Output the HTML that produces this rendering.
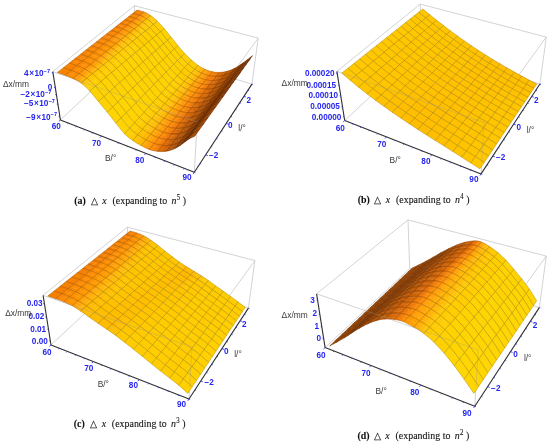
<!DOCTYPE html>
<html><head><meta charset="utf-8"><style>
html,body{margin:0;padding:0;background:#fff}
svg{display:block}
.s path{fill:currentColor;stroke:currentColor;stroke-width:.35}
.s path.m{fill:none;stroke:#000;stroke-opacity:.27;stroke-width:.58;stroke-linejoin:round}
.bf{fill:none;stroke:#999;stroke-opacity:.45;stroke-width:.7}
.bx{fill:none;stroke:#c4c4c4;stroke-width:.75}
.ax{fill:none;stroke:#303030;stroke-width:1.1}
.tk{fill:none;stroke:#2626f0;stroke-width:.8}
.t{font-family:"Liberation Sans",Arial,sans-serif;font-weight:bold;font-size:8.2px;fill:#2626f0}
.l{font-family:"Liberation Sans",Arial,sans-serif;font-size:8.4px;fill:#383838}
.cap{font-family:"Liberation Serif","Times New Roman",serif;font-size:10.8px;fill:#111;stroke:#111;stroke-width:.1}
</style></head><body>
<svg width="550" height="446" viewBox="0 0 550 446">
<rect width="550" height="446" fill="#fff"/>

<g>
<path class="bx" d="M60.4 119.9L136.0 49.3M194.3 172.3L197.2 121.9M251.9 84.1L258.2 38.1M136.0 49.3L251.9 84.1M136.0 49.3L134.5 5.7M52.8 71.7L76.1 79.8M52.8 71.7L134.5 5.7M197.2 121.9L258.2 38.1M134.5 5.7L258.2 38.1"/>
<g class="s"><path color="#f67f00" d="M133 13.2l3.3 .9 2.1-1.6-3.4-.9z"/>
<path color="#f67f00" d="M135 11.6l3.4 .9 2-1.6-3.3-.9z"/>
<path color="#fa8600" d="M136.3 14.1l3.4 1.1 2-1.7-3.3-1z"/>
<path color="#fa8600" d="M138.4 12.5l3.3 1 2.1-1.6-3.4-1z"/>
<path class="m" d="M133 13.2l3.3 .9 3.4 1.1 2-1.7 2.1-1.6-3.4-1-3.3-.9-2.1 1.6z"/>
<path color="#ffcc01" d="M187.8 63.7l6.9 5.5 3.4-3.8-6.8-5.5z"/>
<path class="m" d="M187.8 63.7l3.5 3 3.4 2.5 1.7-1.9 1.7-1.9-3.4-2.6-3.4-2.9-1.7 1.9z"/>
<path color="#ffd002" d="M181 56.9l6.8 6.8 3.5-3.8-6.8-6.6z"/>
<path class="m" d="M181 56.9l3.4 3.6 3.4 3.2 1.8-1.9 1.7-1.9-3.4-3.1-3.4-3.5-1.7 1.8z"/>
<path color="#ffc600" d="M194.7 69.2l1.8 1.2 .8-1-1.7-1.2z"/>
<path color="#ffc600" d="M195.6 68.2l1.7 1.2 .8-1-1.7-1.1z"/>
<path color="#ffc600" d="M196.4 67.3l1.7 1.1 .9-1-1.7-1.1z"/>
<path color="#ffc600" d="M197.3 66.3l1.7 1.1 .8-.9-1.7-1.1z"/>
<path color="#ffbf00" d="M196.5 70.4l1.7 1 .8-1-1.7-1z"/>
<path color="#ffbf00" d="M197.3 69.4l1.7 1 .9-1-1.8-1z"/>
<path color="#ffbf00" d="M198.1 68.4l1.8 1 .8-.9-1.7-1.1z"/>
<path color="#ffbf00" d="M199 67.4l1.7 1.1 .8-1-1.7-1z"/>
<path color="#ffb600" d="M198.2 71.4l1.8 .9 .8-.9-1.8-1z"/>
<path color="#ffb500" d="M199 70.4l1.8 1 .8-1-1.7-1z"/>
<path color="#ffb500" d="M199.9 69.4l1.7 1 .8-1-1.7-.9z"/>
<path color="#ffb500" d="M200.7 68.5l1.7 .9 .9-1-1.8-.9z"/>
<path color="#ffac00" d="M200 72.3l1.7 .9 .9-1-1.8-.8z"/>
<path color="#ffab00" d="M200.8 71.4l1.8 .8 .8-1-1.8-.8z"/>
<path color="#ffab00" d="M201.6 70.4l1.8 .8 .8-.9-1.8-.9z"/>
<path color="#ffab00" d="M202.4 69.4l1.8 .9 .8-1-1.7-.9z"/>
<path class="m" d="M194.7 69.2l3.5 2.2 3.5 1.8 1.7-2 1.6-1.9-3.5-1.8-3.4-2.1-1.7 1.9z"/>
<path color="#ffd202" d="M174.2 48.9l6.8 8 3.5-3.6-6.7-7.8z"/>
<path class="m" d="M174.2 48.9l3.4 4.1 3.4 3.9 1.8-1.8 1.7-1.8-3.4-3.7-3.3-4.1-1.8 1.7z"/>
<path color="#fe8f00" d="M139.7 15.2l1.7 .6 1-.8-1.7-.6z"/>
<path color="#fe8f00" d="M140.7 14.4l1.7 .6 1-.8-1.7-.7z"/>
<path color="#fe8f00" d="M141.7 13.5l1.7 .7 1-.8-1.6-.7z"/>
<path color="#fe8f00" d="M142.8 12.7l1.6 .7 1-.8-1.6-.7z"/>
<path color="#ff9700" d="M141.4 15.8l1.7 .9 1-.8-1.7-.9z"/>
<path color="#ff9700" d="M142.4 15l1.7 .9 1-.9-1.7-.8z"/>
<path color="#ff9700" d="M143.4 14.2l1.7 .8 1-.8-1.7-.8z"/>
<path color="#ff9700" d="M144.4 13.4l1.7 .8 1-.8-1.7-.8z"/>
<path color="#ffa200" d="M143.1 16.7l1.7 .9 1-.8-1.7-.9z"/>
<path color="#ffa200" d="M144.1 15.9l1.7 .9 1-.8-1.7-1z"/>
<path color="#ffa300" d="M145.1 15l1.7 1 1-.8-1.7-1z"/>
<path color="#ffa300" d="M146.1 14.2l1.7 1 1-.8-1.7-1z"/>
<path color="#ffaf00" d="M144.8 17.6l1.8 1.2 1-.9-1.8-1.1z"/>
<path color="#ffaf00" d="M145.8 16.8l1.8 1.1 1-.8-1.8-1.1z"/>
<path color="#ffb000" d="M146.8 16l1.8 1.1 1-.8-1.8-1.1z"/>
<path color="#ffb100" d="M147.8 15.2l1.8 1.1 .9-.8-1.7-1.1z"/>
<path class="m" d="M139.7 15.2l3.4 1.5 3.5 2.1 2-1.7 1.9-1.6-3.4-2.1-3.3-1.5-2.1 1.6z"/>
<path color="#ffd203" d="M167.3 40.2l6.9 8.7 3.6-3.4-6.8-8.6z"/>
<path class="m" d="M167.3 40.2l3.4 4.4 3.5 4.3 1.8-1.7 1.8-1.7-3.4-4.3-3.4-4.3-1.8 1.7z"/>
<path color="#ffa200" d="M201.7 73.2l1.8 .8 .8-1-1.7-.8z"/>
<path color="#ffa200" d="M202.6 72.2l1.7 .8 .8-1-1.7-.8z"/>
<path color="#ffa200" d="M203.4 71.2l1.7 .8 .9-1-1.8-.7z"/>
<path color="#ffa200" d="M204.2 70.3l1.8 .7 .8-1-1.8-.7z"/>
<path color="#ff9b00" d="M203.5 74l1.8 .7 .8-1-1.8-.7z"/>
<path color="#ff9a00" d="M204.3 73l1.8 .7 .8-1-1.8-.7z"/>
<path color="#ff9a00" d="M205.1 72l1.8 .7 .8-1-1.7-.7z"/>
<path color="#ff9a00" d="M206 71l1.7 .7 .8-1-1.7-.7z"/>
<path color="#ff9300" d="M205.3 74.7l1.8 .5 .8-1-1.8-.5z"/>
<path color="#ff9400" d="M206.1 73.7l1.8 .5 .8-1-1.8-.5z"/>
<path color="#ff9300" d="M206.9 72.7l1.8 .5 .8-.9-1.8-.6z"/>
<path color="#ff9300" d="M207.7 71.7l1.8 .6 .8-1-1.8-.6z"/>
<path color="#fe8d00" d="M207.1 75.2l1.8 .5 .8-1-1.8-.5z"/>
<path color="#fe8d00" d="M207.9 74.2l1.8 .5 .8-1-1.8-.5z"/>
<path color="#fe8d00" d="M208.7 73.2l1.8 .5 .8-1-1.8-.4z"/>
<path color="#fe8d00" d="M209.5 72.3l1.8 .4 .8-1-1.8-.4z"/>
<path class="m" d="M201.7 73.2l3.6 1.5 3.6 1 1.6-2 1.6-2-3.6-1-3.5-1.4-1.6 1.9z"/>
<path color="#ffbc00" d="M146.6 18.8l1.7 1.2 1-.8-1.7-1.3z"/>
<path color="#ffbc00" d="M147.6 17.9l1.7 1.3 1-.8-1.7-1.3z"/>
<path color="#ffbd00" d="M148.6 17.1l1.7 1.3 1-.8-1.7-1.3z"/>
<path color="#ffbd00" d="M149.6 16.3l1.7 1.3 .9-.8-1.7-1.3z"/>
<path color="#ffc400" d="M148.3 20l1.7 1.3 1-.8-1.7-1.3z"/>
<path color="#ffc400" d="M149.3 19.2l1.7 1.3 1-.8-1.7-1.3z"/>
<path color="#ffc500" d="M150.3 18.4l1.7 1.3 1-.8-1.7-1.3z"/>
<path color="#ffc500" d="M151.3 17.6l1.7 1.3 .9-.7-1.7-1.4z"/>
<path color="#ffc901" d="M150 21.3l1.7 1.5 1-.8-1.7-1.5z"/>
<path color="#ffc901" d="M151 20.5l1.7 1.5 1-.8-1.7-1.5z"/>
<path color="#ffc901" d="M152 19.7l1.7 1.5 1-.8-1.7-1.5z"/>
<path color="#ffc901" d="M153 18.9l1.7 1.5 1-.8-1.8-1.4z"/>
<path color="#ffcb01" d="M151.7 22.8l1.8 1.6 1-.8-1.8-1.6z"/>
<path color="#ffcc01" d="M152.7 22l1.8 1.6 .9-.8-1.7-1.6z"/>
<path color="#ffcc01" d="M153.7 21.2l1.7 1.6 1-.8-1.7-1.6z"/>
<path color="#ffcc01" d="M154.7 20.4l1.7 1.6 1-.8-1.7-1.6z"/>
<path class="m" d="M146.6 18.8l3.4 2.5 3.5 3.1 1.9-1.6 2-1.6-3.5-3-3.4-2.7-1.9 1.6z"/>
<path color="#ffd202" d="M160.4 31.7l6.9 8.5 3.7-3.3-6.8-8.3z"/>
<path class="m" d="M160.4 31.7l3.5 4.2 3.4 4.3 1.9-1.6 1.8-1.7-3.4-4.2-3.4-4.1-1.9 1.5z"/>
<path color="#ffcf02" d="M153.5 24.4l6.9 7.3 3.8-3.1-6.8-7.4z"/>
<path class="m" d="M153.5 24.4l3.4 3.5 3.5 3.8 1.9-1.6 1.9-1.5-3.4-3.9-3.4-3.5-2 1.6z"/>
<path color="#f68000" d="M128.8 16.5l3.4 .9 2.1-1.6-3.4-.9z"/>
<path color="#f67f00" d="M130.9 14.9l3.4 .9 2-1.7-3.3-.9z"/>
<path color="#fa8600" d="M132.2 17.4l3.4 1.1 2.1-1.7-3.4-1z"/>
<path color="#fa8600" d="M134.3 15.8l3.4 1 2-1.6-3.4-1.1z"/>
<path class="m" d="M128.8 16.5l3.4 .9 3.4 1.1 2.1-1.7 2-1.6-3.4-1.1-3.3-.9-2.1 1.7z"/>
<path color="#fa8600" d="M208.9 75.7l1.8 .3 .8-1-1.8-.3z"/>
<path color="#fa8600" d="M209.7 74.7l1.8 .3 .8-1-1.8-.3z"/>
<path color="#fa8600" d="M210.5 73.7l1.8 .3 .8-1-1.8-.3z"/>
<path color="#fa8600" d="M211.3 72.7l1.8 .3 .8-1-1.8-.3z"/>
<path color="#f57e00" d="M210.7 76l1.9 .3 .8-1-1.9-.3z"/>
<path color="#f57d00" d="M211.5 75l1.9 .3 .8-1-1.9-.3z"/>
<path color="#f57d00" d="M212.3 74l1.9 .3 .7-1-1.8-.3z"/>
<path color="#f57d00" d="M213.1 73l1.8 .3 .8-1-1.8-.3z"/>
<path color="#ef7600" d="M212.6 76.3l1.8 .1 .8-1-1.8-.1z"/>
<path color="#ee7600" d="M213.4 75.3l1.8 .1 .8-1-1.8-.1z"/>
<path color="#ee7600" d="M214.2 74.3l1.8 .1 .8-1-1.9-.1z"/>
<path color="#ee7600" d="M214.9 73.3l1.9 .1 .8-1-1.9-.1z"/>
<path color="#e77000" d="M214.4 76.4l1.9 0 .8-1-1.9 0z"/>
<path color="#e77000" d="M215.2 75.4l1.9 0 .8-1-1.9 0z"/>
<path color="#e77000" d="M216 74.4l1.9 0 .7-1-1.8 0z"/>
<path color="#e77000" d="M216.8 73.4l1.8 0 .8-1-1.8 0z"/>
<path class="m" d="M208.9 75.7l3.7 .6 3.7 .1 1.6-2 1.5-2-3.7-.1-3.6-.6-1.6 2z"/>
<path color="#ffcc01" d="M184.3 67.6l7 5.6 3.4-4-6.9-5.5z"/>
<path class="m" d="M184.3 67.6l3.5 3 3.5 2.6 1.7-2 1.7-2-3.4-2.5-3.5-3-1.7 2z"/>
<path color="#ffd102" d="M177.4 60.5l6.9 7.1 3.5-3.9-6.8-6.8z"/>
<path class="m" d="M177.4 60.5l3.5 3.7 3.4 3.4 1.8-1.9 1.7-2-3.4-3.2-3.4-3.6-1.8 1.8z"/>
<path color="#ffc600" d="M191.3 73.2l1.8 1.1 .8-1-1.7-1.1z"/>
<path color="#ffc600" d="M192.2 72.2l1.7 1.1 .9-1-1.8-1.1z"/>
<path color="#ffc600" d="M193 71.2l1.8 1.1 .8-1-1.7-1.1z"/>
<path color="#ffc600" d="M193.9 70.2l1.7 1.1 .9-.9-1.8-1.2z"/>
<path color="#ffc000" d="M193.1 74.3l1.7 1.1 .9-1-1.8-1.1z"/>
<path color="#ffc000" d="M193.9 73.3l1.8 1.1 .8-1-1.7-1.1z"/>
<path color="#ffc000" d="M194.8 72.3l1.7 1.1 .9-1-1.8-1.1z"/>
<path color="#ffbf00" d="M195.6 71.3l1.8 1.1 .8-1-1.7-1z"/>
<path color="#ffb600" d="M194.8 75.4l1.8 .9 .8-1-1.7-.9z"/>
<path color="#ffb600" d="M195.7 74.4l1.7 .9 .9-1-1.8-.9z"/>
<path color="#ffb600" d="M196.5 73.4l1.8 .9 .8-1-1.7-.9z"/>
<path color="#ffb600" d="M197.4 72.4l1.7 .9 .9-1-1.8-.9z"/>
<path color="#ffad00" d="M196.6 76.3l1.8 .9 .8-1-1.8-.9z"/>
<path color="#ffac00" d="M197.4 75.3l1.8 .9 .9-1-1.8-.9z"/>
<path color="#ffac00" d="M198.3 74.3l1.8 .9 .8-1-1.8-.9z"/>
<path color="#ffac00" d="M199.1 73.3l1.8 .9 .8-1-1.7-.9z"/>
<path class="m" d="M191.3 73.2l3.5 2.2 3.6 1.8 1.7-2 1.6-2-3.5-1.8-3.5-2.2-1.7 2z"/>
<path color="#fe8e00" d="M135.6 18.5l1.7 .7 1-.9-1.7-.6z"/>
<path color="#fe8f00" d="M136.6 17.7l1.7 .6 1.1-.8-1.7-.7z"/>
<path color="#fe8f00" d="M137.7 16.8l1.7 .7 1-.8-1.7-.7z"/>
<path color="#fe8f00" d="M138.7 16l1.7 .7 1-.9-1.7-.6z"/>
<path color="#ff9600" d="M137.3 19.2l1.7 .8 1.1-.8-1.8-.9z"/>
<path color="#ff9600" d="M138.3 18.3l1.8 .9 1-.9-1.7-.8z"/>
<path color="#ff9600" d="M139.4 17.5l1.7 .8 1-.8-1.7-.8z"/>
<path color="#ff9600" d="M140.4 16.7l1.7 .8 1-.8-1.7-.9z"/>
<path color="#ff9f00" d="M139 20l1.8 1 1-.9-1.7-.9z"/>
<path color="#ffa000" d="M140.1 19.2l1.7 .9 1-.8-1.7-1z"/>
<path color="#ffa000" d="M141.1 18.3l1.7 1 1-.8-1.7-1z"/>
<path color="#ffa100" d="M142.1 17.5l1.7 1 1-.9-1.7-.9z"/>
<path color="#ffac00" d="M140.8 21l1.7 1.1 1-.9-1.7-1.1z"/>
<path color="#ffac00" d="M141.8 20.1l1.7 1.1 1-.8-1.7-1.1z"/>
<path color="#ffad00" d="M142.8 19.3l1.7 1.1 1.1-.8-1.8-1.1z"/>
<path color="#ffae00" d="M143.8 18.5l1.8 1.1 1-.8-1.8-1.2z"/>
<path class="m" d="M135.6 18.5l3.4 1.5 3.5 2.1 2-1.7 2.1-1.6-3.5-2.1-3.4-1.5-2 1.6z"/>
<path color="#ffd202" d="M170.5 52.4l6.9 8.1 3.6-3.6-6.8-8z"/>
<path class="m" d="M170.5 52.4l3.4 4.2 3.5 3.9 1.8-1.8 1.8-1.8-3.4-3.9-3.4-4.1-1.9 1.7z"/>
<path color="#ffd303" d="M163.5 43.6l7 8.8 3.7-3.5-6.9-8.7z"/>
<path class="m" d="M163.5 43.6l3.5 4.4 3.5 4.4 1.8-1.8 1.9-1.7-3.5-4.3-3.4-4.4-1.9 1.7z"/>
<path color="#ffa300" d="M198.4 77.2l1.8 .8 .8-1-1.8-.8z"/>
<path color="#ffa300" d="M199.2 76.2l1.8 .8 .8-1-1.7-.8z"/>
<path color="#ffa300" d="M200.1 75.2l1.7 .8 .9-1-1.8-.8z"/>
<path color="#ffa300" d="M200.9 74.2l1.8 .8 .8-1-1.8-.8z"/>
<path color="#ff9b00" d="M200.2 78l1.8 .7 .8-1-1.8-.7z"/>
<path color="#ff9b00" d="M201 77l1.8 .7 .8-1-1.8-.7z"/>
<path color="#ff9b00" d="M201.8 76l1.8 .7 .9-1-1.8-.7z"/>
<path color="#ff9b00" d="M202.7 75l1.8 .7 .8-1-1.8-.7z"/>
<path color="#ff9400" d="M202 78.7l1.8 .6 .8-1-1.8-.6z"/>
<path color="#ff9400" d="M202.8 77.7l1.8 .6 .8-1-1.8-.6z"/>
<path color="#ff9400" d="M203.6 76.7l1.8 .6 .9-1.1-1.8-.5z"/>
<path color="#ff9400" d="M204.5 75.7l1.8 .5 .8-1-1.8-.5z"/>
<path color="#fe8e00" d="M203.8 79.3l1.8 .5 .8-1.1-1.8-.4z"/>
<path color="#fe8d00" d="M204.6 78.3l1.8 .4 .9-1-1.9-.4z"/>
<path color="#fe8d00" d="M205.4 77.3l1.9 .4 .8-1-1.8-.5z"/>
<path color="#fe8d00" d="M206.3 76.2l1.8 .5 .8-1-1.8-.5z"/>
<path class="m" d="M198.4 77.2l3.6 1.5 3.6 1.1 1.7-2.1 1.6-2-3.6-1-3.6-1.5-1.6 2z"/>
<path color="#ffb900" d="M142.5 22.1l1.7 1.2 1.1-.9-1.8-1.2z"/>
<path color="#ffb900" d="M143.5 21.2l1.8 1.2 1-.8-1.8-1.2z"/>
<path color="#ffba00" d="M144.5 20.4l1.8 1.2 1-.8-1.7-1.2z"/>
<path color="#ffbb00" d="M145.6 19.6l1.7 1.2 1-.8-1.7-1.2z"/>
<path color="#ffc200" d="M144.2 23.3l1.8 1.3 1-.8-1.7-1.4z"/>
<path color="#ffc300" d="M145.3 22.4l1.7 1.4 1-.8-1.7-1.4z"/>
<path color="#ffc300" d="M146.3 21.6l1.7 1.4 1-.8-1.7-1.4z"/>
<path color="#ffc400" d="M147.3 20.8l1.7 1.4 1-.9-1.7-1.3z"/>
<path color="#ffc801" d="M146 24.6l1.7 1.5 1.1-.9-1.8-1.4z"/>
<path color="#ffc801" d="M147 23.8l1.8 1.4 1-.8-1.8-1.4z"/>
<path color="#ffc801" d="M148 23l1.8 1.4 1-.8-1.8-1.4z"/>
<path color="#ffc801" d="M149 22.2l1.8 1.4 .9-.8-1.7-1.5z"/>
<path color="#ffcb01" d="M147.7 26.1l1.8 1.5 1-.8-1.7-1.6z"/>
<path color="#ffcb01" d="M148.8 25.2l1.7 1.6 1-.8-1.7-1.6z"/>
<path color="#ffcb01" d="M149.8 24.4l1.7 1.6 1-.8-1.7-1.6z"/>
<path color="#ffcb01" d="M150.8 23.6l1.7 1.6 1-.8-1.8-1.6z"/>
<path class="m" d="M142.5 22.1l3.5 2.5 3.5 3 2-1.6 2-1.6-3.5-3.1-3.4-2.5-2.1 1.6z"/>
<path color="#df6a00" d="M216.3 76.4l1.9-.1 .8-1-1.9 .1z"/>
<path color="#df6a00" d="M217.1 75.4l1.9-.1 .7-1-1.8 .1z"/>
<path color="#df6a00" d="M217.9 74.4l1.8-.1 .8-1-1.9 .1z"/>
<path color="#df6a00" d="M218.6 73.4l1.9-.1 .8-1-1.9 .1z"/>
<path color="#d76500" d="M218.2 76.3l1.9-.2 .8-1-1.9 .2z"/>
<path color="#d76500" d="M219 75.3l1.9-.2 .7-1-1.9 .2z"/>
<path color="#d76500" d="M219.7 74.3l1.9-.2 .8-1-1.9 .2z"/>
<path color="#d76500" d="M220.5 73.3l1.9-.2 .8-1-1.9 .2z"/>
<path color="#cd5f01" d="M220.1 76.1l1.9-.3 .8-1-1.9 .3z"/>
<path color="#cd5f01" d="M220.9 75.1l1.9-.3 .8-1-2 .3z"/>
<path color="#ce5f01" d="M221.6 74.1l2-.3 .7-1-1.9 .3z"/>
<path color="#ce5f01" d="M222.4 73.1l1.9-.3 .8-1-1.9 .3z"/>
<path color="#c55b01" d="M222 75.8l2-.4 .7-1.1-1.9 .5z"/>
<path color="#c55b01" d="M222.8 74.8l1.9-.5 .8-1-1.9 .5z"/>
<path color="#c55b01" d="M223.6 73.8l1.9-.5 .8-1-2 .5z"/>
<path color="#c55b01" d="M224.3 72.8l2-.5 .7-1-1.9 .5z"/>
<path class="m" d="M216.3 76.4l3.8-.3 3.9-.7 1.5-2.1 1.5-2-3.8 .8-3.8 .3-1.5 2z"/>
<path color="#ffd202" d="M156.5 35l7 8.6 3.8-3.4-6.9-8.5z"/>
<path class="m" d="M156.5 35l3.5 4.2 3.5 4.4 1.9-1.7 1.9-1.7-3.4-4.3-3.5-4.2-1.9 1.6z"/>
<path color="#ffcf02" d="M149.5 27.6l7 7.4 3.9-3.3-6.9-7.3z"/>
<path class="m" d="M149.5 27.6l3.5 3.5 3.5 3.9 2-1.7 1.9-1.6-3.5-3.8-3.4-3.5-2 1.6z"/>
<path color="#f68000" d="M124.5 19.9l3.4 .9 2.2-1.7-3.4-.9z"/>
<path color="#f68000" d="M126.7 18.2l3.4 .9 2.1-1.7-3.4-.9z"/>
<path color="#fa8600" d="M127.9 20.8l3.4 1.1 2.2-1.7-3.4-1.1z"/>
<path color="#fa8600" d="M130.1 19.1l3.4 1.1 2.1-1.7-3.4-1.1z"/>
<path class="m" d="M124.5 19.9l3.4 .9 3.4 1.1 2.2-1.7 2.1-1.7-3.4-1.1-3.4-.9-2.1 1.7z"/>
<path color="#fa8600" d="M205.6 79.8l1.8 .3 .9-1-1.9-.4z"/>
<path color="#fa8600" d="M206.4 78.7l1.9 .4 .8-1-1.8-.4z"/>
<path color="#fa8600" d="M207.3 77.7l1.8 .4 .8-1-1.8-.4z"/>
<path color="#fa8600" d="M208.1 76.7l1.8 .4 .8-1.1-1.8-.3z"/>
<path color="#f57e00" d="M207.4 80.1l1.9 .3 .8-1.1-1.8-.2z"/>
<path color="#f57e00" d="M208.3 79.1l1.8 .2 .8-1-1.8-.2z"/>
<path color="#f57e00" d="M209.1 78.1l1.8 .2 .8-1-1.8-.2z"/>
<path color="#f57e00" d="M209.9 77.1l1.8 .2 .9-1-1.9-.3z"/>
<path color="#ef7700" d="M209.3 80.4l1.9 .1 .8-1-1.9-.2z"/>
<path color="#ef7700" d="M210.1 79.3l1.9 .2 .8-1-1.9-.2z"/>
<path color="#ef7700" d="M210.9 78.3l1.9 .2 .8-1.1-1.9-.1z"/>
<path color="#ef7600" d="M211.7 77.3l1.9 .1 .8-1-1.8-.1z"/>
<path color="#e87100" d="M211.2 80.5l1.9 .1 .8-1.1-1.9 0z"/>
<path color="#e87100" d="M212 79.5l1.9 0 .8-1-1.9 0z"/>
<path color="#e77100" d="M212.8 78.5l1.9 0 .8-1-1.9-.1z"/>
<path color="#e77000" d="M213.6 77.4l1.9 .1 .8-1.1-1.9 0z"/>
<path class="m" d="M205.6 79.8l3.7 .6 3.8 .2 1.6-2.1 1.6-2.1-3.7-.1-3.7-.6-1.6 2z"/>
<path color="#ffcc01" d="M180.7 71.6l7.1 5.6 3.5-4-7-5.6z"/>
<path class="m" d="M180.7 71.6l3.5 3 3.6 2.6 1.7-2 1.8-2-3.5-2.6-3.5-3-1.8 2z"/>
<path color="#ffd102" d="M173.7 64.3l7 7.3 3.6-4-6.9-7.1z"/>
<path class="m" d="M173.7 64.3l3.5 3.8 3.5 3.5 1.8-2 1.8-2-3.4-3.4-3.5-3.7-1.8 1.9z"/>
<path color="#ffc600" d="M187.8 77.2l1.8 1.2 .8-1-1.7-1.2z"/>
<path color="#ffc600" d="M188.7 76.2l1.7 1.2 .9-1.1-1.8-1.1z"/>
<path color="#ffc600" d="M189.5 75.2l1.8 1.1 .9-1-1.8-1.1z"/>
<path color="#ffc600" d="M190.4 74.2l1.8 1.1 .9-1-1.8-1.1z"/>
<path color="#ffc000" d="M189.6 78.4l1.7 1 .9-1-1.8-1z"/>
<path color="#ffc000" d="M190.4 77.4l1.8 1 .9-1-1.8-1.1z"/>
<path color="#ffc000" d="M191.3 76.3l1.8 1.1 .9-1-1.8-1.1z"/>
<path color="#ffc000" d="M192.2 75.3l1.8 1.1 .8-1-1.7-1.1z"/>
<path color="#ffb700" d="M191.3 79.4l1.8 1 .9-1-1.8-1z"/>
<path color="#ffb700" d="M192.2 78.4l1.8 1 .9-1-1.8-1z"/>
<path color="#ffb600" d="M193.1 77.4l1.8 1 .8-1.1-1.7-.9z"/>
<path color="#ffb600" d="M194 76.4l1.7 .9 .9-1-1.8-.9z"/>
<path color="#ffad00" d="M193.1 80.4l1.8 .9 .9-1-1.8-.9z"/>
<path color="#ffad00" d="M194 79.4l1.8 .9 .9-1-1.8-.9z"/>
<path color="#ffad00" d="M194.9 78.4l1.8 .9 .8-1.1-1.8-.9z"/>
<path color="#ffad00" d="M195.7 77.3l1.8 .9 .9-1-1.8-.9z"/>
<path class="m" d="M187.8 77.2l3.5 2.2 3.6 1.9 1.8-2 1.7-2.1-3.6-1.8-3.5-2.2-1.8 2z"/>
<path color="#fe8e00" d="M131.3 21.9l1.8 .7 1-.9-1.7-.7z"/>
<path color="#fe8e00" d="M132.4 21l1.7 .7 1.1-.8-1.7-.7z"/>
<path color="#fe8e00" d="M133.5 20.2l1.7 .7 1.1-.9-1.8-.7z"/>
<path color="#fe8e00" d="M134.5 19.3l1.8 .7 1-.8-1.7-.7z"/>
<path color="#ff9500" d="M133.1 22.6l1.7 .8 1.1-.9-1.8-.8z"/>
<path color="#ff9500" d="M134.1 21.7l1.8 .8 1-.8-1.7-.8z"/>
<path color="#ff9500" d="M135.2 20.9l1.7 .8 1.1-.9-1.7-.8z"/>
<path color="#ff9500" d="M136.3 20l1.7 .8 1-.8-1.7-.8z"/>
<path color="#ff9d00" d="M134.8 23.4l1.8 1 1-.9-1.7-1z"/>
<path color="#ff9e00" d="M135.9 22.5l1.7 1 1.1-.8-1.8-1z"/>
<path color="#ff9e00" d="M136.9 21.7l1.8 1 1-.9-1.7-1z"/>
<path color="#ff9f00" d="M138 20.8l1.7 1 1.1-.8-1.8-1z"/>
<path color="#ffa900" d="M136.6 24.4l1.7 1 1.1-.8-1.8-1.1z"/>
<path color="#ffa900" d="M137.6 23.5l1.8 1.1 1-.9-1.7-1z"/>
<path color="#ffaa00" d="M138.7 22.7l1.7 1 1.1-.8-1.8-1.1z"/>
<path color="#ffab00" d="M139.7 21.8l1.8 1.1 1-.8-1.7-1.1z"/>
<path class="m" d="M131.3 21.9l3.5 1.5 3.5 2 2.1-1.7 2.1-1.6-3.5-2.1-3.4-1.5-2.1 1.7z"/>
<path color="#ffd203" d="M166.7 55.9l7 8.4 3.7-3.8-6.9-8.1z"/>
<path class="m" d="M166.7 55.9l3.5 4.3 3.5 4.1 1.9-1.9 1.8-1.9-3.5-3.9-3.4-4.2-1.9 1.7z"/>
<path color="#bd5701" d="M224 75.4l1.9-.6 .8-1-2 .5z"/>
<path color="#bd5701" d="M224.7 74.3l2-.5 .8-1.1-2 .6z"/>
<path color="#bd5701" d="M225.5 73.3l2-.6 .8-1-2 .6z"/>
<path color="#bd5701" d="M226.3 72.3l2-.6 .7-1-2 .6z"/>
<path color="#b65302" d="M225.9 74.8l2-.7 .8-1.1-2 .8z"/>
<path color="#b65302" d="M226.7 73.8l2-.8 .8-1-2 .7z"/>
<path color="#b65302" d="M227.5 72.7l2-.7 .7-1-1.9 .7z"/>
<path color="#b65302" d="M228.3 71.7l1.9-.7 .8-1-2 .7z"/>
<path color="#af5002" d="M227.9 74.1l2.1-.9 .7-1.1-2 .9z"/>
<path color="#b05002" d="M228.7 73l2-.9 .8-1-2 .9z"/>
<path color="#b05002" d="M229.5 72l2-.9 .8-1-2.1 .9z"/>
<path color="#b05002" d="M230.2 71l2.1-.9 .7-1-2 .9z"/>
<path color="#a84c02" d="M230 73.2l2-1.1 .8-1-2.1 1z"/>
<path color="#a94c02" d="M230.7 72.1l2.1-1 .8-1-2.1 1z"/>
<path color="#a94c02" d="M231.5 71.1l2.1-1 .7-1-2 1z"/>
<path color="#a94c02" d="M232.3 70.1l2-1 .8-1-2.1 1z"/>
<path class="m" d="M224 75.4l3.9-1.3 4.1-2 1.6-2 1.5-2-4.1 1.9-4 1.3-1.5 2z"/>
<path color="#ffd303" d="M159.6 47l7.1 8.9 3.8-3.5-7-8.8z"/>
<path class="m" d="M159.6 47l3.6 4.5 3.5 4.4 1.9-1.8 1.9-1.7-3.5-4.4-3.5-4.4-1.9 1.7z"/>
<path color="#ffa400" d="M194.9 81.3l1.8 .8 .9-1-1.8-.8z"/>
<path color="#ffa400" d="M195.8 80.3l1.8 .8 .9-1-1.8-.8z"/>
<path color="#ffa400" d="M196.7 79.3l1.8 .8 .8-1.1-1.8-.8z"/>
<path color="#ffa400" d="M197.5 78.2l1.8 .8 .9-1-1.8-.8z"/>
<path color="#ff9c00" d="M196.7 82.1l1.9 .8 .8-1.1-1.8-.7z"/>
<path color="#ff9c00" d="M197.6 81.1l1.8 .7 .9-1-1.8-.7z"/>
<path color="#ff9c00" d="M198.5 80.1l1.8 .7 .8-1.1-1.8-.7z"/>
<path color="#ff9b00" d="M199.3 79l1.8 .7 .9-1-1.8-.7z"/>
<path color="#ff9500" d="M198.6 82.9l1.8 .6 .8-1.1-1.8-.6z"/>
<path color="#ff9400" d="M199.4 81.8l1.8 .6 .9-1-1.8-.6z"/>
<path color="#ff9400" d="M200.3 80.8l1.8 .6 .8-1.1-1.8-.6z"/>
<path color="#ff9400" d="M201.1 79.7l1.8 .6 .9-1-1.8-.6z"/>
<path color="#fe8e00" d="M200.4 83.5l1.8 .5 .9-1.1-1.9-.5z"/>
<path color="#fe8e00" d="M201.2 82.4l1.9 .5 .8-1-1.8-.5z"/>
<path color="#fe8e00" d="M202.1 81.4l1.8 .5 .9-1.1-1.9-.5z"/>
<path color="#fe8e00" d="M202.9 80.3l1.9 .5 .8-1-1.8-.5z"/>
<path class="m" d="M194.9 81.3l3.7 1.6 3.6 1.1 1.7-2.1 1.7-2.1-3.6-1.1-3.6-1.5-1.7 2.1z"/>
<path color="#ffb500" d="M138.3 25.4l1.8 1.2 1-.8-1.7-1.2z"/>
<path color="#ffb600" d="M139.4 24.6l1.7 1.2 1.1-.9-1.8-1.2z"/>
<path color="#ffb700" d="M140.4 23.7l1.8 1.2 1-.8-1.7-1.2z"/>
<path color="#ffb800" d="M141.5 22.9l1.7 1.2 1-.8-1.7-1.2z"/>
<path color="#ffc000" d="M140.1 26.6l1.8 1.4 1-.9-1.8-1.3z"/>
<path color="#ffc100" d="M141.1 25.8l1.8 1.3 1-.8-1.7-1.4z"/>
<path color="#ffc100" d="M142.2 24.9l1.7 1.4 1.1-.9-1.8-1.3z"/>
<path color="#ffc200" d="M143.2 24.1l1.8 1.3 1-.8-1.8-1.3z"/>
<path color="#ffc700" d="M141.9 28l1.7 1.4 1.1-.9-1.8-1.4z"/>
<path color="#ffc700" d="M142.9 27.1l1.8 1.4 1-.8-1.8-1.4z"/>
<path color="#ffc700" d="M143.9 26.3l1.8 1.4 1-.8-1.7-1.5z"/>
<path color="#ffc801" d="M145 25.4l1.7 1.5 1-.8-1.7-1.5z"/>
<path color="#ffca01" d="M143.6 29.4l1.8 1.5 1-.8-1.7-1.6z"/>
<path color="#ffcb01" d="M144.7 28.5l1.7 1.6 1.1-.8-1.8-1.6z"/>
<path color="#ffcb01" d="M145.7 27.7l1.8 1.6 1-.9-1.8-1.5z"/>
<path color="#ffcb01" d="M146.7 26.9l1.8 1.5 1-.8-1.8-1.5z"/>
<path class="m" d="M138.3 25.4l3.6 2.6 3.5 2.9 2.1-1.6 2-1.7-3.5-3-3.5-2.5-2.1 1.6z"/>
<path color="#e06b00" d="M213.1 80.6l1.9-.1 .8-1-1.9 0z"/>
<path color="#e06b00" d="M213.9 79.5l1.9 0 .8-1.1-1.9 .1z"/>
<path color="#e06b00" d="M214.7 78.5l1.9-.1 .8-1-1.9 .1z"/>
<path color="#e06b00" d="M215.5 77.5l1.9-.1 .8-1.1-1.9 .1z"/>
<path color="#d76500" d="M215 80.5l1.9-.2 .8-1-1.9 .2z"/>
<path color="#d76500" d="M215.8 79.5l1.9-.2 .8-1.1-1.9 .2z"/>
<path color="#d76500" d="M216.6 78.4l1.9-.2 .8-1-1.9 .2z"/>
<path color="#d76500" d="M217.4 77.4l1.9-.2 .8-1.1-1.9 .2z"/>
<path color="#cd5f01" d="M216.9 80.3l1.9-.3 .8-1.1-1.9 .4z"/>
<path color="#cd5f01" d="M217.7 79.3l1.9-.4 .8-1-1.9 .3z"/>
<path color="#cd5f01" d="M218.5 78.2l1.9-.3 .8-1-1.9 .3z"/>
<path color="#cd5f01" d="M219.3 77.2l1.9-.3 .8-1.1-1.9 .3z"/>
<path color="#c55a01" d="M218.8 80l2-.4 .8-1.1-2 .4z"/>
<path color="#c55a01" d="M219.6 78.9l2-.4 .8-1-2 .4z"/>
<path color="#c55a01" d="M220.4 77.9l2-.4 .8-1.1-2 .5z"/>
<path color="#c55a01" d="M221.2 76.9l2-.5 .8-1-2 .4z"/>
<path class="m" d="M213.1 80.6l3.8-.3 3.9-.7 1.6-2.1 1.6-2.1-3.9 .7-3.8 .3-1.6 2.1z"/>
<path color="#ffd202" d="M152.5 38.3l7.1 8.7 3.9-3.4-7-8.6z"/>
<path class="m" d="M152.5 38.3l3.6 4.3 3.5 4.4 2-1.7 1.9-1.7-3.5-4.4-3.5-4.2-2 1.6z"/>
<path color="#ffcf02" d="M145.4 30.9l7.1 7.4 4-3.3-7-7.4z"/>
<path class="m" d="M145.4 30.9l3.6 3.5 3.5 3.9 2-1.7 2-1.6-3.5-3.9-3.5-3.5-2 1.7z"/>
<path color="#f78000" d="M120.1 23.3l3.4 1 2.2-1.8-3.4-.9z"/>
<path color="#f68000" d="M122.3 21.6l3.4 .9 2.2-1.7-3.4-.9z"/>
<path color="#fb8600" d="M123.5 24.3l3.5 1.1 2.2-1.8-3.5-1.1z"/>
<path color="#fa8600" d="M125.7 22.5l3.5 1.1 2.1-1.7-3.4-1.1z"/>
<path class="m" d="M120.1 23.3l3.4 1 3.5 1.1 2.2-1.8 2.1-1.7-3.4-1.1-3.4-.9-2.2 1.7z"/>
<path color="#fb8700" d="M202.2 84l1.9 .3 .8-1-1.8-.4z"/>
<path color="#fb8700" d="M203.1 82.9l1.8 .4 .9-1.1-1.9-.3z"/>
<path color="#fb8700" d="M203.9 81.9l1.9 .3 .8-1-1.8-.4z"/>
<path color="#fb8600" d="M204.8 80.8l1.8 .4 .8-1.1-1.8-.3z"/>
<path color="#f67e00" d="M204.1 84.3l1.9 .3 .8-1.1-1.9-.2z"/>
<path color="#f57e00" d="M204.9 83.3l1.9 .2 .8-1-1.8-.3z"/>
<path color="#f57e00" d="M205.8 82.2l1.8 .3 .9-1.1-1.9-.2z"/>
<path color="#f57e00" d="M206.6 81.2l1.9 .2 .8-1-1.9-.3z"/>
<path color="#ef7700" d="M206 84.6l1.8 .2 .9-1.1-1.9-.2z"/>
<path color="#ef7700" d="M206.8 83.5l1.9 .2 .8-1.1-1.9-.1z"/>
<path color="#ef7700" d="M207.6 82.5l1.9 .1 .8-1-1.8-.2z"/>
<path color="#ef7700" d="M208.5 81.4l1.8 .2 .9-1.1-1.9-.1z"/>
<path color="#e87100" d="M207.8 84.8l1.9 0 .9-1.1-1.9 0z"/>
<path color="#e87100" d="M208.7 83.7l1.9 0 .8-1-1.9-.1z"/>
<path color="#e87100" d="M209.5 82.6l1.9 .1 .8-1.1-1.9 0z"/>
<path color="#e87100" d="M210.3 81.6l1.9 0 .9-1-1.9-.1z"/>
<path class="m" d="M202.2 84l3.8 .6 3.7 .2 1.7-2.1 1.7-2.1-3.8-.2-3.7-.6-1.7 2.1z"/>
<path color="#ffcc01" d="M177 75.6l7.2 5.8 3.6-4.2-7.1-5.6z"/>
<path class="m" d="M177 75.6l3.6 3.1 3.6 2.7 1.8-2.1 1.8-2.1-3.6-2.6-3.5-3-1.8 2z"/>
<path color="#ffd102" d="M169.9 68.1l7.1 7.5 3.7-4-7-7.3z"/>
<path class="m" d="M169.9 68.1l3.6 4 3.5 3.5 1.9-2 1.8-2-3.5-3.5-3.5-3.8-1.9 1.9z"/>
<path color="#ffc600" d="M184.2 81.4l1.8 1.1 .9-1-1.8-1.2z"/>
<path color="#ffc600" d="M185.1 80.3l1.8 1.2 .9-1.1-1.8-1.1z"/>
<path color="#ffc600" d="M186 79.3l1.8 1.1 .9-1-1.8-1.2z"/>
<path color="#ffc600" d="M186.9 78.2l1.8 1.2 .9-1-1.8-1.2z"/>
<path color="#ffc000" d="M186 82.5l1.8 1.1 .9-1-1.8-1.1z"/>
<path color="#ffc000" d="M186.9 81.5l1.8 1.1 .9-1.1-1.8-1.1z"/>
<path color="#ffc000" d="M187.8 80.4l1.8 1.1 .9-1-1.8-1.1z"/>
<path color="#ffc000" d="M188.7 79.4l1.8 1.1 .8-1.1-1.7-1z"/>
<path color="#ffb800" d="M187.8 83.6l1.8 1 .9-1-1.8-1z"/>
<path color="#ffb700" d="M188.7 82.6l1.8 1 .9-1.1-1.8-1z"/>
<path color="#ffb700" d="M189.6 81.5l1.8 1 .9-1-1.8-1z"/>
<path color="#ffb700" d="M190.5 80.5l1.8 1 .8-1.1-1.8-1z"/>
<path color="#ffae00" d="M189.6 84.6l1.8 .9 .9-1-1.8-.9z"/>
<path color="#ffae00" d="M190.5 83.6l1.8 .9 .9-1.1-1.8-.9z"/>
<path color="#ffae00" d="M191.4 82.5l1.8 .9 .9-1-1.8-.9z"/>
<path color="#ffad00" d="M192.3 81.5l1.8 .9 .8-1.1-1.8-.9z"/>
<path class="m" d="M184.2 81.4l3.6 2.2 3.6 1.9 1.8-2.1 1.7-2.1-3.6-1.9-3.5-2.2-1.8 2.1z"/>
<path color="#fe8e00" d="M127 25.4l1.8 .7 1-.9-1.7-.7z"/>
<path color="#fe8e00" d="M128.1 24.5l1.7 .7 1.1-.9-1.7-.7z"/>
<path color="#fe8e00" d="M129.2 23.6l1.7 .7 1.1-.8-1.7-.7z"/>
<path color="#fe8e00" d="M130.3 22.8l1.7 .7 1.1-.9-1.8-.7z"/>
<path color="#ff9400" d="M128.8 26.1l1.7 .8 1.1-.9-1.8-.8z"/>
<path color="#ff9400" d="M129.8 25.2l1.8 .8 1.1-.9-1.8-.8z"/>
<path color="#ff9500" d="M130.9 24.3l1.8 .8 1.1-.8-1.8-.8z"/>
<path color="#ff9500" d="M132 23.5l1.8 .8 1-.9-1.7-.8z"/>
<path color="#ff9c00" d="M130.5 26.9l1.8 .9 1.1-.8-1.8-1z"/>
<path color="#ff9c00" d="M131.6 26l1.8 1 1-.9-1.7-1z"/>
<path color="#ff9d00" d="M132.7 25.1l1.7 1 1.1-.9-1.7-.9z"/>
<path color="#ff9d00" d="M133.8 24.3l1.7 .9 1.1-.8-1.8-1z"/>
<path color="#ffa600" d="M132.3 27.8l1.8 1.1 1-.9-1.7-1z"/>
<path color="#ffa700" d="M133.4 27l1.7 1 1.1-.8-1.8-1.1z"/>
<path color="#ffa700" d="M134.4 26.1l1.8 1.1 1.1-.9-1.8-1.1z"/>
<path color="#ffa800" d="M135.5 25.2l1.8 1.1 1-.9-1.7-1z"/>
<path class="m" d="M127 25.4l3.5 1.5 3.6 2 2.1-1.7 2.1-1.8-3.5-2-3.5-1.5-2.1 1.7z"/>
<path color="#ffd303" d="M162.8 59.6l7.1 8.5 3.8-3.8-7-8.4z"/>
<path class="m" d="M162.8 59.6l3.6 4.3 3.5 4.2 1.9-1.9 1.9-1.9-3.5-4.1-3.5-4.3-1.9 1.9z"/>
<path color="#bd5601" d="M220.8 79.6l2-.6 .8-1.1-2 .6z"/>
<path color="#bd5601" d="M221.6 78.5l2-.6 .8-1-2 .6z"/>
<path color="#bd5701" d="M222.4 77.5l2-.6 .8-1.1-2 .6z"/>
<path color="#bd5701" d="M223.2 76.4l2-.6 .7-1-1.9 .6z"/>
<path color="#b65302" d="M222.8 79l2-.8 .8-1-2 .7z"/>
<path color="#b65302" d="M223.6 77.9l2-.7 .8-1.1-2 .8z"/>
<path color="#b65302" d="M224.4 76.9l2-.8 .8-1-2 .7z"/>
<path color="#b65302" d="M225.2 75.8l2-.7 .7-1-2 .7z"/>
<path color="#af5002" d="M224.8 78.2l2.1-.8 .7-1.1-2 .9z"/>
<path color="#af5002" d="M225.6 77.2l2-.9 .8-1-2 .8z"/>
<path color="#af5002" d="M226.4 76.1l2-.8 .8-1.1-2 .9z"/>
<path color="#af5002" d="M227.2 75.1l2-.9 .8-1-2.1 .9z"/>
<path color="#a84c02" d="M226.9 77.4l2-1.1 .8-1-2.1 1z"/>
<path color="#a84c02" d="M227.6 76.3l2.1-1 .8-1.1-2.1 1.1z"/>
<path color="#a84c02" d="M228.4 75.3l2.1-1.1 .8-1-2.1 1z"/>
<path color="#a84c02" d="M229.2 74.2l2.1-1 .7-1.1-2 1.1z"/>
<path class="m" d="M220.8 79.6l4-1.4 4.1-1.9 1.6-2.1 1.5-2.1-4.1 2-3.9 1.3-1.6 2.1z"/>
<path color="#a14802" d="M232 72.1l2.1-1.1 .8-1.1-2.1 1.2z"/>
<path color="#a14802" d="M232.8 71.1l2.1-1.2 .8-1-2.1 1.2z"/>
<path color="#a24802" d="M233.6 70.1l2.1-1.2 .7-1-2.1 1.2z"/>
<path color="#a24802" d="M234.3 69.1l2.1-1.2 .8-1-2.1 1.2z"/>
<path color="#9b4503" d="M234.1 71l2.2-1.4 .7-1-2.1 1.3z"/>
<path color="#9b4503" d="M234.9 69.9l2.1-1.3 .8-1-2.1 1.3z"/>
<path color="#9b4503" d="M235.7 68.9l2.1-1.3 .7-1-2.1 1.3z"/>
<path color="#9c4503" d="M236.4 67.9l2.1-1.3 .8-1-2.1 1.3z"/>
<path color="#944103" d="M236.3 69.6l2.1-1.4 .8-1.1-2.2 1.5z"/>
<path color="#954103" d="M237 68.6l2.2-1.5 .7-1-2.1 1.5z"/>
<path color="#954203" d="M237.8 67.6l2.1-1.5 .8-1-2.2 1.5z"/>
<path color="#964203" d="M238.5 66.6l2.2-1.5 .7-1-2.1 1.5z"/>
<path color="#8d3e03" d="M238.4 68.2l2.2-1.6 .8-1-2.2 1.5z"/>
<path color="#8e3e03" d="M239.2 67.1l2.2-1.5 .7-1-2.2 1.5z"/>
<path color="#8e3e03" d="M239.9 66.1l2.2-1.5 .8-1-2.2 1.5z"/>
<path color="#8e3e03" d="M240.7 65.1l2.2-1.5 .7-1-2.2 1.5z"/>
<path class="m" d="M232 72.1l4.3-2.5 4.3-3 1.5-2 1.5-2-4.3 3-4.2 2.5-1.5 2z"/>
<path color="#ffd303" d="M155.6 50.6l7.2 9 3.9-3.7-7.1-8.9z"/>
<path class="m" d="M155.6 50.6l3.6 4.5 3.6 4.5 2-1.8 1.9-1.9-3.5-4.4-3.6-4.5-2 1.8z"/>
<path color="#ffa500" d="M191.4 85.5l1.8 .9 .9-1.1-1.8-.8z"/>
<path color="#ffa400" d="M192.3 84.5l1.8 .8 .9-1.1-1.8-.8z"/>
<path color="#ffa400" d="M193.2 83.4l1.8 .8 .9-1-1.8-.8z"/>
<path color="#ffa400" d="M194.1 82.4l1.8 .8 .8-1.1-1.8-.8z"/>
<path color="#ff9c00" d="M193.2 86.4l1.9 .7 .9-1.1-1.9-.7z"/>
<path color="#ff9c00" d="M194.1 85.3l1.9 .7 .8-1-1.8-.8z"/>
<path color="#ff9c00" d="M195 84.2l1.8 .8 .9-1.1-1.8-.7z"/>
<path color="#ff9c00" d="M195.9 83.2l1.8 .7 .9-1-1.9-.8z"/>
<path color="#ff9500" d="M195.1 87.1l1.8 .6 .9-1-1.8-.7z"/>
<path color="#ff9500" d="M196 86l1.8 .7 .9-1.1-1.9-.6z"/>
<path color="#ff9500" d="M196.8 85l1.9 .6 .8-1.1-1.8-.6z"/>
<path color="#ff9500" d="M197.7 83.9l1.8 .6 .9-1-1.8-.6z"/>
<path color="#fe8e00" d="M196.9 87.7l1.9 .5 .8-1-1.8-.5z"/>
<path color="#fe8e00" d="M197.8 86.7l1.8 .5 .9-1.1-1.8-.5z"/>
<path color="#fe8e00" d="M198.7 85.6l1.8 .5 .9-1.1-1.9-.5z"/>
<path color="#fe8e00" d="M199.5 84.5l1.9 .5 .8-1-1.8-.5z"/>
<path class="m" d="M191.4 85.5l3.7 1.6 3.7 1.1 1.7-2.1 1.7-2.1-3.6-1.1-3.7-1.6-1.7 2.1z"/>
<path color="#ffb200" d="M134.1 28.9l1.7 1.2 1.1-.9-1.8-1.2z"/>
<path color="#ffb300" d="M135.1 28l1.8 1.2 1.1-.8-1.8-1.2z"/>
<path color="#ffb400" d="M136.2 27.2l1.8 1.2 1-.9-1.7-1.2z"/>
<path color="#ffb500" d="M137.3 26.3l1.7 1.2 1.1-.9-1.8-1.2z"/>
<path color="#ffbd00" d="M135.8 30.1l1.8 1.3 1.1-.9-1.8-1.3z"/>
<path color="#ffbe00" d="M136.9 29.2l1.8 1.3 1.1-.8-1.8-1.3z"/>
<path color="#ffbf00" d="M138 28.4l1.8 1.3 1-.9-1.8-1.3z"/>
<path color="#ffbf00" d="M139 27.5l1.8 1.3 1.1-.8-1.8-1.4z"/>
<path color="#ffc500" d="M137.6 31.4l1.8 1.4 1.1-.9-1.8-1.4z"/>
<path color="#ffc600" d="M138.7 30.5l1.8 1.4 1-.8-1.7-1.4z"/>
<path color="#ffc600" d="M139.8 29.7l1.7 1.4 1.1-.9-1.8-1.4z"/>
<path color="#ffc700" d="M140.8 28.8l1.8 1.4 1-.8-1.7-1.4z"/>
<path color="#ffca01" d="M139.4 32.8l1.8 1.5 1.1-.8-1.8-1.6z"/>
<path color="#ffca01" d="M140.5 31.9l1.8 1.6 1-.9-1.8-1.5z"/>
<path color="#ffca01" d="M141.5 31.1l1.8 1.5 1.1-.8-1.8-1.6z"/>
<path color="#ffca01" d="M142.6 30.2l1.8 1.6 1-.9-1.8-1.5z"/>
<path class="m" d="M134.1 28.9l3.5 2.5 3.6 2.9 2.1-1.7 2.1-1.7-3.5-2.9-3.6-2.6-2.1 1.8z"/>
<path color="#e06b00" d="M209.7 84.8l2 0 .8-1.1-1.9 0z"/>
<path color="#e06b00" d="M210.6 83.7l1.9 0 .8-1.1-1.9 .1z"/>
<path color="#e06b00" d="M211.4 82.7l1.9-.1 .8-1-1.9 0z"/>
<path color="#e06b00" d="M212.2 81.6l1.9 0 .9-1.1-1.9 .1z"/>
<path color="#d76500" d="M211.7 84.8l1.9-.2 .8-1.1-1.9 .2z"/>
<path color="#d76500" d="M212.5 83.7l1.9-.2 .9-1.1-2 .2z"/>
<path color="#d76500" d="M213.3 82.6l2-.2 .8-1-2 .2z"/>
<path color="#d76500" d="M214.1 81.6l2-.2 .8-1.1-1.9 .2z"/>
<path color="#ce5f01" d="M213.6 84.6l2-.3 .8-1.1-2 .3z"/>
<path color="#ce5f01" d="M214.4 83.5l2-.3 .8-1.1-1.9 .3z"/>
<path color="#ce5f01" d="M215.3 82.4l1.9-.3 .8-1-1.9 .3z"/>
<path color="#ce5f01" d="M216.1 81.4l1.9-.3 .8-1.1-1.9 .3z"/>
<path color="#c55b01" d="M215.6 84.3l2-.5 .8-1-2 .4z"/>
<path color="#c55b01" d="M216.4 83.2l2-.4 .8-1.1-2 .4z"/>
<path color="#c55a01" d="M217.2 82.1l2-.4 .8-1.1-2 .5z"/>
<path color="#c55a01" d="M218 81.1l2-.5 .8-1-2 .4z"/>
<path class="m" d="M209.7 84.8l3.9-.2 4-.8 1.6-2.1 1.6-2.1-3.9 .7-3.8 .3-1.7 2.1z"/>
<path color="#ffd202" d="M148.4 41.7l7.2 8.9 4-3.6-7.1-8.7z"/>
<path class="m" d="M148.4 41.7l3.6 4.3 3.6 4.6 2-1.8 2-1.8-3.5-4.4-3.6-4.3-2 1.7z"/>
<path color="#f78000" d="M115.6 26.9l3.5 .9 2.2-1.8-3.4-.9z"/>
<path color="#f78000" d="M117.9 25.1l3.4 .9 2.2-1.7-3.4-1z"/>
<path color="#fb8600" d="M119.1 27.8l3.5 1.2 2.2-1.8-3.5-1.2z"/>
<path color="#fb8600" d="M121.3 26l3.5 1.2 2.2-1.8-3.5-1.1z"/>
<path class="m" d="M115.6 26.9l3.5 .9 3.5 1.2 2.2-1.8 2.2-1.8-3.5-1.1-3.4-1-2.2 1.8z"/>
<path color="#ffcf02" d="M141.2 34.3l7.2 7.4 4.1-3.4-7.1-7.4z"/>
<path class="m" d="M141.2 34.3l3.6 3.5 3.6 3.9 2.1-1.7 2-1.7-3.5-3.9-3.6-3.5-2.1 1.7z"/>
<path color="#fb8700" d="M198.8 88.2l1.9 .4 .8-1-1.9-.4z"/>
<path color="#fb8700" d="M199.6 87.2l1.9 .4 .9-1.1-1.9-.4z"/>
<path color="#fb8700" d="M200.5 86.1l1.9 .4 .8-1.1-1.8-.4z"/>
<path color="#fb8700" d="M201.4 85l1.8 .4 .9-1.1-1.9-.3z"/>
<path color="#f67f00" d="M200.7 88.6l1.8 .3 .9-1.1-1.9-.2z"/>
<path color="#f67f00" d="M201.5 87.6l1.9 .2 .9-1-1.9-.3z"/>
<path color="#f67f00" d="M202.4 86.5l1.9 .3 .8-1.1-1.9-.3z"/>
<path color="#f67f00" d="M203.2 85.4l1.9 .3 .9-1.1-1.9-.3z"/>
<path color="#f07800" d="M202.5 88.9l1.9 .2 .9-1.1-1.9-.2z"/>
<path color="#f07700" d="M203.4 87.8l1.9 .2 .9-1.1-1.9-.1z"/>
<path color="#ef7700" d="M204.3 86.8l1.9 .1 .8-1.1-1.9-.1z"/>
<path color="#ef7700" d="M205.1 85.7l1.9 .1 .8-1-1.8-.2z"/>
<path color="#e87100" d="M204.4 89.1l2 .1 .8-1.1-1.9-.1z"/>
<path color="#e87100" d="M205.3 88l1.9 .1 .9-1.1-1.9-.1z"/>
<path color="#e87100" d="M206.2 86.9l1.9 .1 .8-1.1-1.9-.1z"/>
<path color="#e87100" d="M207 85.8l1.9 .1 .8-1.1-1.9 0z"/>
<path class="m" d="M198.8 88.2l3.7 .7 3.9 .3 1.7-2.2 1.6-2.2-3.7-.2-3.8-.6-1.7 2.1z"/>
<path color="#ffce02" d="M173.2 79.8l3.7 3.1 1.8-2.1-3.6-3.1z"/>
<path color="#ffce02" d="M175.1 77.7l3.6 3.1 1.9-2.1-3.6-3.1z"/>
<path color="#ffcb01" d="M176.9 82.9l3.6 2.7 1.8-2.1-3.6-2.7z"/>
<path color="#ffcb01" d="M178.7 80.8l3.6 2.7 1.9-2.1-3.6-2.7z"/>
<path class="m" d="M173.2 79.8l3.7 3.1 3.6 2.7 1.8-2.1 1.9-2.1-3.6-2.7-3.6-3.1-1.9 2.1z"/>
<path color="#ffd202" d="M166 72l7.2 7.8 3.8-4.2-7.1-7.5z"/>
<path class="m" d="M166 72l3.6 4.2 3.6 3.6 1.9-2.1 1.9-2.1-3.5-3.5-3.6-4-1.9 1.9z"/>
<path color="#ffc600" d="M180.5 85.6l1.8 1.2 .9-1.1-1.8-1.2z"/>
<path color="#ffc600" d="M181.4 84.5l1.8 1.2 .9-1.1-1.8-1.1z"/>
<path color="#ffc600" d="M182.3 83.5l1.8 1.1 1-1-1.8-1.2z"/>
<path color="#ffc600" d="M183.3 82.4l1.8 1.2 .9-1.1-1.8-1.1z"/>
<path color="#ffc000" d="M182.3 86.8l1.8 1.1 .9-1.1-1.8-1.1z"/>
<path color="#ffc000" d="M183.2 85.7l1.8 1.1 1-1.1-1.9-1.1z"/>
<path color="#ffc000" d="M184.1 84.6l1.9 1.1 .9-1-1.8-1.1z"/>
<path color="#ffc000" d="M185.1 83.6l1.8 1.1 .9-1.1-1.8-1.1z"/>
<path color="#ffb800" d="M184.1 87.9l1.9 1 .9-1.1-1.9-1z"/>
<path color="#ffb800" d="M185 86.8l1.9 1 .9-1.1-1.8-1z"/>
<path color="#ffb800" d="M186 85.7l1.8 1 .9-1-1.8-1z"/>
<path color="#ffb800" d="M186.9 84.7l1.8 1 .9-1.1-1.8-1z"/>
<path color="#ffaf00" d="M186 88.9l1.8 .9 .9-1-1.8-1z"/>
<path color="#ffaf00" d="M186.9 87.8l1.8 1 .9-1.1-1.8-1z"/>
<path color="#ffaf00" d="M187.8 86.7l1.8 1 .9-1.1-1.8-.9z"/>
<path color="#ffaf00" d="M188.7 85.7l1.8 .9 .9-1.1-1.8-.9z"/>
<path class="m" d="M180.5 85.6l3.6 2.3 3.7 1.9 1.8-2.1 1.8-2.2-3.6-1.9-3.6-2.2-1.9 2.1z"/>
<path color="#fe8d00" d="M122.6 29l1.7 .7 1.1-.9-1.7-.7z"/>
<path color="#fe8e00" d="M123.7 28.1l1.7 .7 1.2-.9-1.8-.7z"/>
<path color="#fe8e00" d="M124.8 27.2l1.8 .7 1.1-.9-1.8-.7z"/>
<path color="#fe8e00" d="M125.9 26.3l1.8 .7 1.1-.9-1.8-.7z"/>
<path color="#ff9300" d="M124.3 29.7l1.8 .8 1.1-.9-1.8-.8z"/>
<path color="#ff9300" d="M125.4 28.8l1.8 .8 1.1-.9-1.7-.8z"/>
<path color="#ff9400" d="M126.6 27.9l1.7 .8 1.1-.9-1.7-.8z"/>
<path color="#ff9400" d="M127.7 27l1.7 .8 1.1-.9-1.7-.8z"/>
<path color="#ff9a00" d="M126.1 30.5l1.8 .9 1.1-.9-1.8-.9z"/>
<path color="#ff9b00" d="M127.2 29.6l1.8 .9 1.1-.9-1.8-.9z"/>
<path color="#ff9b00" d="M128.3 28.7l1.8 .9 1.1-.9-1.8-.9z"/>
<path color="#ff9c00" d="M129.4 27.8l1.8 .9 1.1-.9-1.8-.9z"/>
<path color="#ffa400" d="M127.9 31.4l1.8 1.1 1.1-.9-1.8-1.1z"/>
<path color="#ffa400" d="M129 30.5l1.8 1.1 1.1-.9-1.8-1.1z"/>
<path color="#ffa500" d="M130.1 29.6l1.8 1.1 1.1-.9-1.8-1.1z"/>
<path color="#ffa600" d="M131.2 28.7l1.8 1.1 1.1-.9-1.8-1.1z"/>
<path class="m" d="M122.6 29l3.5 1.5 3.6 2 2.2-1.8 2.2-1.8-3.6-2-3.5-1.5-2.2 1.8z"/>
<path color="#ffd303" d="M158.8 63.4l7.2 8.6 3.9-3.9-7.1-8.5z"/>
<path class="m" d="M158.8 63.4l3.6 4.3 3.6 4.3 2-2 1.9-1.9-3.5-4.2-3.6-4.3-2 1.9z"/>
<path color="#bd5701" d="M217.6 83.8l2-.5 .8-1.1-2 .6z"/>
<path color="#bd5701" d="M218.4 82.8l2-.6 .8-1.1-2 .6z"/>
<path color="#bd5601" d="M219.2 81.7l2-.6 .8-1.1-2 .6z"/>
<path color="#bd5601" d="M220 80.6l2-.6 .8-1-2 .6z"/>
<path color="#b65302" d="M219.6 83.3l2-.8 .8-1-2 .7z"/>
<path color="#b65302" d="M220.4 82.2l2-.7 .8-1.1-2 .7z"/>
<path color="#b65302" d="M221.2 81.1l2-.7 .8-1.1-2 .7z"/>
<path color="#b65302" d="M222 80l2-.7 .8-1.1-2 .8z"/>
<path color="#af4f02" d="M221.6 82.5l2.1-.8 .8-1.1-2.1 .9z"/>
<path color="#af4f02" d="M222.4 81.5l2.1-.9 .8-1.1-2.1 .9z"/>
<path color="#af4f02" d="M223.2 80.4l2.1-.9 .8-1.1-2.1 .9z"/>
<path color="#af4f02" d="M224 79.3l2.1-.9 .8-1-2.1 .8z"/>
<path color="#a74b02" d="M223.7 81.7l2.1-1.1 .8-1.1-2.1 1.1z"/>
<path color="#a74c02" d="M224.5 80.6l2.1-1.1 .8-1-2.1 1z"/>
<path color="#a84c02" d="M225.3 79.5l2.1-1 .7-1.1-2 1z"/>
<path color="#a84c02" d="M226.1 78.4l2-1 .8-1.1-2 1.1z"/>
<path class="m" d="M217.6 83.8l4-1.3 4.2-1.9 1.6-2.1 1.5-2.2-4.1 1.9-4 1.4-1.6 2.1z"/>
<path color="#ffa600" d="M187.8 89.8l1.8 .9 .9-1.1-1.8-.8z"/>
<path color="#ffa500" d="M188.7 88.8l1.8 .8 .9-1.1-1.8-.8z"/>
<path color="#ffa500" d="M189.6 87.7l1.8 .8 .9-1.1-1.8-.8z"/>
<path color="#ffa500" d="M190.5 86.6l1.8 .8 .9-1-1.8-.9z"/>
<path color="#ff9d00" d="M189.6 90.7l1.9 .8 .9-1.1-1.9-.8z"/>
<path color="#ff9d00" d="M190.5 89.6l1.9 .8 .9-1.1-1.9-.8z"/>
<path color="#ff9c00" d="M191.4 88.5l1.9 .8 .9-1.1-1.9-.8z"/>
<path color="#ff9c00" d="M192.3 87.4l1.9 .8 .9-1.1-1.9-.7z"/>
<path color="#ff9500" d="M191.5 91.5l1.9 .6 .9-1.1-1.9-.6z"/>
<path color="#ff9500" d="M192.4 90.4l1.9 .6 .8-1.1-1.8-.6z"/>
<path color="#ff9500" d="M193.3 89.3l1.8 .6 .9-1.1-1.8-.6z"/>
<path color="#ff9500" d="M194.2 88.2l1.8 .6 .9-1.1-1.8-.6z"/>
<path color="#fe8e00" d="M193.4 92.1l1.8 .5 .9-1.1-1.8-.5z"/>
<path color="#fe8e00" d="M194.3 91l1.8 .5 .9-1.1-1.9-.5z"/>
<path color="#fe8e00" d="M195.1 89.9l1.9 .5 .9-1.1-1.9-.5z"/>
<path color="#fe8e00" d="M196 88.8l1.9 .5 .9-1.1-1.9-.5z"/>
<path class="m" d="M187.8 89.8l3.7 1.7 3.7 1.1 1.8-2.2 1.8-2.2-3.7-1.1-3.7-1.6-1.8 2.2z"/>
<path color="#a14803" d="M228.9 76.3l2.1-1.2 .8-1-2.1 1.2z"/>
<path color="#a14803" d="M229.7 75.3l2.1-1.2 .8-1.1-2.1 1.2z"/>
<path color="#a14802" d="M230.5 74.2l2.1-1.2 .8-1-2.1 1.2z"/>
<path color="#a14802" d="M231.3 73.2l2.1-1.2 .7-1-2.1 1.1z"/>
<path color="#9a4403" d="M231 75.1l2.2-1.3 .8-1.1-2.2 1.4z"/>
<path color="#9a4403" d="M231.8 74.1l2.2-1.4 .7-1-2.1 1.3z"/>
<path color="#9b4503" d="M232.6 73l2.1-1.3 .8-1-2.1 1.3z"/>
<path color="#9b4503" d="M233.4 72l2.1-1.3 .8-1.1-2.2 1.4z"/>
<path color="#934103" d="M233.2 73.8l2.2-1.5 .7-1-2.1 1.4z"/>
<path color="#934103" d="M234 72.7l2.1-1.4 .8-1.1-2.2 1.5z"/>
<path color="#944103" d="M234.7 71.7l2.2-1.5 .8-1-2.2 1.5z"/>
<path color="#944103" d="M235.5 70.7l2.2-1.5 .7-1-2.1 1.4z"/>
<path color="#8b3d03" d="M235.4 72.3l2.2-1.6 .7-1-2.2 1.6z"/>
<path color="#8c3d03" d="M236.1 71.3l2.2-1.6 .8-1.1-2.2 1.6z"/>
<path color="#8c3d03" d="M236.9 70.2l2.2-1.6 .8-1-2.2 1.6z"/>
<path color="#8d3d03" d="M237.7 69.2l2.2-1.6 .7-1-2.2 1.6z"/>
<path class="m" d="M228.9 76.3l4.3-2.5 4.4-3.1 1.5-2.1 1.5-2-4.3 3-4.3 2.5-1.5 2.1z"/>
<path color="#ffd303" d="M151.6 54.2l7.2 9.2 4-3.8-7.2-9z"/>
<path class="m" d="M151.6 54.2l3.6 4.6 3.6 4.6 2-1.9 2-1.9-3.6-4.5-3.6-4.5-2 1.8z"/>
<path color="#ffaf00" d="M129.7 32.5l1.8 1.1 1.1-.9-1.8-1.1z"/>
<path color="#ffb000" d="M130.8 31.6l1.8 1.1 1.1-.9-1.8-1.1z"/>
<path color="#ffb000" d="M131.9 30.7l1.8 1.1 1.1-.8-1.8-1.2z"/>
<path color="#ffb100" d="M133 29.8l1.8 1.2 1-.9-1.7-1.2z"/>
<path color="#ffba00" d="M131.5 33.6l1.8 1.3 1.1-.9-1.8-1.3z"/>
<path color="#ffbb00" d="M132.6 32.7l1.8 1.3 1.1-.9-1.8-1.3z"/>
<path color="#ffbc00" d="M133.7 31.8l1.8 1.3 1-.8-1.7-1.3z"/>
<path color="#ffbd00" d="M134.8 31l1.7 1.3 1.1-.9-1.8-1.3z"/>
<path color="#ffc300" d="M133.3 34.9l1.8 1.4 1.1-.9-1.8-1.4z"/>
<path color="#ffc400" d="M134.4 34l1.8 1.4 1.1-.9-1.8-1.4z"/>
<path color="#ffc400" d="M135.5 33.1l1.8 1.4 1-.8-1.8-1.4z"/>
<path color="#ffc500" d="M136.5 32.3l1.8 1.4 1.1-.9-1.8-1.4z"/>
<path color="#ffc901" d="M135.1 36.3l1.8 1.5 1.1-.9-1.8-1.5z"/>
<path color="#ffc901" d="M136.2 35.4l1.8 1.5 1.1-.8-1.8-1.6z"/>
<path color="#ffc901" d="M137.3 34.5l1.8 1.6 1-.9-1.8-1.5z"/>
<path color="#ffca01" d="M138.3 33.7l1.8 1.5 1.1-.9-1.8-1.5z"/>
<path class="m" d="M129.7 32.5l3.6 2.4 3.6 2.9 2.2-1.7 2.1-1.8-3.6-2.9-3.5-2.5-2.2 1.8z"/>
<path color="#e06b00" d="M206.4 89.2l1.9-.1 .8-1.1-1.9 .1z"/>
<path color="#e06b00" d="M207.2 88.1l1.9-.1 .9-1.1-1.9 .1z"/>
<path color="#e06b00" d="M208.1 87l1.9-.1 .8-1.1-1.9 .1z"/>
<path color="#e06b00" d="M208.9 85.9l1.9-.1 .9-1-2 0z"/>
<path color="#d76500" d="M208.3 89.1l2-.1 .8-1.1-2 .1z"/>
<path color="#d76500" d="M209.1 88l2-.1 .8-1.1-1.9 .1z"/>
<path color="#d76500" d="M210 86.9l1.9-.1 .9-1.1-2 .1z"/>
<path color="#d76500" d="M210.8 85.8l2-.1 .8-1.1-1.9 .2z"/>
<path color="#cd5f01" d="M210.3 89l1.9-.3 .9-1.1-2 .3z"/>
<path color="#cd5f01" d="M211.1 87.9l2-.3 .8-1.1-2 .3z"/>
<path color="#cd5f01" d="M211.9 86.8l2-.3 .8-1.1-1.9 .3z"/>
<path color="#cd5f01" d="M212.8 85.7l1.9-.3 .9-1.1-2 .3z"/>
<path color="#c45a01" d="M212.2 88.7l2-.5 .9-1.1-2 .5z"/>
<path color="#c45a01" d="M213.1 87.6l2-.5 .8-1.1-2 .5z"/>
<path color="#c55a01" d="M213.9 86.5l2-.5 .8-1.1-2 .5z"/>
<path color="#c55a01" d="M214.7 85.4l2-.5 .9-1.1-2 .5z"/>
<path class="m" d="M206.4 89.2l3.9-.2 3.9-.8 1.7-2.2 1.7-2.2-4 .8-3.9 .2-1.6 2.2z"/>
<path color="#f78000" d="M111 30.5l3.5 1 2.3-1.9-3.5-.9z"/>
<path color="#f78000" d="M113.3 28.7l3.5 .9 2.3-1.8-3.5-.9z"/>
<path color="#fb8600" d="M114.5 31.5l3.5 1.1 2.3-1.8-3.5-1.2z"/>
<path color="#fb8600" d="M116.8 29.6l3.5 1.2 2.3-1.8-3.5-1.2z"/>
<path class="m" d="M111 30.5l3.5 1 3.5 1.1 2.3-1.8 2.3-1.8-3.5-1.2-3.5-.9-2.3 1.8z"/>
<path color="#863a04" d="M240.6 66.6l4.5-3.4 1.5-2-4.5 3.4z"/>
<path color="#863a04" d="M242.1 64.6l4.5-3.4 1.4-2-4.4 3.4z"/>
<path color="#813804" d="M245.1 63.2l4.6-3.5 1.4-2.1-4.5 3.6z"/>
<path color="#813704" d="M246.6 61.2l4.5-3.6 1.5-2-4.6 3.6z"/>
<path class="m" d="M240.6 66.6l4.5-3.4 4.6-3.5 1.4-2.1 1.5-2-4.6 3.6-4.4 3.4-1.5 2z"/>
<path color="#ffd202" d="M144.2 45.2l7.4 9 4-3.6-7.2-8.9z"/>
<path class="m" d="M144.2 45.2l3.7 4.4 3.7 4.6 2-1.8 2-1.8-3.6-4.6-3.6-4.3-2.1 1.8z"/>
<path color="#ffce02" d="M136.9 37.8l7.3 7.4 4.2-3.5-7.2-7.4z"/>
<path class="m" d="M136.9 37.8l3.7 3.5 3.6 3.9 2.1-1.7 2.1-1.8-3.6-3.9-3.6-3.5-2.1 1.8z"/>
<path color="#fb8800" d="M195.2 92.6l1.9 .5 .9-1.2-1.9-.4z"/>
<path color="#fb8700" d="M196.1 91.5l1.9 .4 .9-1.1-1.9-.4z"/>
<path color="#fb8700" d="M197 90.4l1.9 .4 .9-1.1-1.9-.4z"/>
<path color="#fb8700" d="M197.9 89.3l1.9 .4 .9-1.1-1.9-.4z"/>
<path color="#f67f00" d="M197.1 93.1l1.9 .3 .9-1.2-1.9-.3z"/>
<path color="#f67f00" d="M198 91.9l1.9 .3 .9-1.1-1.9-.3z"/>
<path color="#f67f00" d="M198.9 90.8l1.9 .3 .9-1.1-1.9-.3z"/>
<path color="#f67f00" d="M199.8 89.7l1.9 .3 .8-1.1-1.8-.3z"/>
<path color="#f07800" d="M199 93.4l2 .1 .8-1.1-1.9-.2z"/>
<path color="#f07800" d="M199.9 92.2l1.9 .2 .9-1.1-1.9-.2z"/>
<path color="#f07800" d="M200.8 91.1l1.9 .2 .9-1.1-1.9-.2z"/>
<path color="#f07800" d="M201.7 90l1.9 .2 .8-1.1-1.9-.2z"/>
<path color="#e87100" d="M201 93.5l1.9 .1 .9-1.1-2-.1z"/>
<path color="#e87100" d="M201.8 92.4l2 .1 .8-1.1-1.9-.1z"/>
<path color="#e97100" d="M202.7 91.3l1.9 .1 .9-1.1-1.9-.1z"/>
<path color="#e87100" d="M203.6 90.2l1.9 .1 .9-1.1-2-.1z"/>
<path class="m" d="M195.2 92.6l3.8 .8 3.9 .2 1.7-2.2 1.8-2.2-3.9-.3-3.7-.7-1.8 2.2z"/>
<path color="#ffcf02" d="M169.4 84.1l3.6 3.2 2-2.2-3.7-3.2z"/>
<path color="#ffcf02" d="M171.3 81.9l3.7 3.2 1.9-2.2-3.7-3.1z"/>
<path color="#ffcb01" d="M173 87.3l3.7 2.7 1.9-2.2-3.6-2.7z"/>
<path color="#ffcb01" d="M175 85.1l3.6 2.7 1.9-2.2-3.6-2.7z"/>
<path class="m" d="M169.4 84.1l3.6 3.2 3.7 2.7 1.9-2.2 1.9-2.2-3.6-2.7-3.7-3.1-1.9 2.1z"/>
<path color="#ffd202" d="M162.1 76.1l7.3 8 3.8-4.3-7.2-7.8z"/>
<path class="m" d="M162.1 76.1l3.6 4.2 3.7 3.8 1.9-2.2 1.9-2.1-3.6-3.6-3.6-4.2-1.9 2z"/>
<path color="#ffc600" d="M176.7 90l1.8 1.2 1-1.1-1.9-1.2z"/>
<path color="#ffc600" d="M177.6 88.9l1.9 1.2 .9-1.1-1.8-1.2z"/>
<path color="#ffc600" d="M178.6 87.8l1.8 1.2 1-1.1-1.9-1.2z"/>
<path color="#ffc600" d="M179.5 86.7l1.9 1.2 .9-1.1-1.8-1.2z"/>
<path color="#ffc000" d="M178.5 91.2l1.9 1.1 .9-1.1-1.8-1.1z"/>
<path color="#ffc000" d="M179.5 90.1l1.8 1.1 1-1.1-1.9-1.1z"/>
<path color="#ffc000" d="M180.4 89l1.9 1.1 .9-1.1-1.8-1.1z"/>
<path color="#ffc000" d="M181.4 87.9l1.8 1.1 .9-1.1-1.8-1.1z"/>
<path color="#ffb800" d="M180.4 92.3l1.8 1 1-1.1-1.9-1z"/>
<path color="#ffb800" d="M181.3 91.2l1.9 1 .9-1.1-1.8-1z"/>
<path color="#ffb800" d="M182.3 90.1l1.8 1 .9-1.1-1.8-1z"/>
<path color="#ffb800" d="M183.2 89l1.8 1 1-1.1-1.9-1z"/>
<path color="#ffb000" d="M182.2 93.3l1.9 1 .9-1.1-1.8-1z"/>
<path color="#ffaf00" d="M183.2 92.2l1.8 1 1-1.2-1.9-.9z"/>
<path color="#ffaf00" d="M184.1 91.1l1.9 .9 .9-1.1-1.9-.9z"/>
<path color="#ffaf00" d="M185 90l1.9 .9 .9-1.1-1.8-.9z"/>
<path class="m" d="M176.7 90l3.7 2.3 3.7 2 1.9-2.3 1.8-2.2-3.7-1.9-3.6-2.3-1.9 2.2z"/>
<path color="#fe8d00" d="M118 32.6l1.8 .7 1.1-.9-1.8-.7z"/>
<path color="#fe8d00" d="M119.1 31.7l1.8 .7 1.2-.9-1.8-.7z"/>
<path color="#fe8d00" d="M120.3 30.8l1.8 .7 1.1-.9-1.8-.7z"/>
<path color="#fe8d00" d="M121.4 29.9l1.8 .7 1.1-.9-1.7-.7z"/>
<path color="#ff9200" d="M119.8 33.3l1.8 .9 1.1-1-1.8-.8z"/>
<path color="#ff9200" d="M120.9 32.4l1.8 .8 1.1-.9-1.7-.8z"/>
<path color="#ff9300" d="M122.1 31.5l1.7 .8 1.2-.9-1.8-.8z"/>
<path color="#ff9300" d="M123.2 30.6l1.8 .8 1.1-.9-1.8-.8z"/>
<path color="#ff9900" d="M121.6 34.2l1.8 .9 1.1-1-1.8-.9z"/>
<path color="#ff9900" d="M122.7 33.2l1.8 .9 1.1-.9-1.8-.9z"/>
<path color="#ff9a00" d="M123.8 32.3l1.8 .9 1.2-.9-1.8-.9z"/>
<path color="#ff9a00" d="M125 31.4l1.8 .9 1.1-.9-1.8-.9z"/>
<path color="#ffa100" d="M123.4 35.1l1.8 1 1.1-.9-1.8-1.1z"/>
<path color="#ffa200" d="M124.5 34.1l1.8 1.1 1.1-.9-1.8-1.1z"/>
<path color="#ffa200" d="M125.6 33.2l1.8 1.1 1.2-.9-1.8-1.1z"/>
<path color="#ffa300" d="M126.8 32.3l1.8 1.1 1.1-.9-1.8-1.1z"/>
<path class="m" d="M118 32.6l3.6 1.6 3.6 1.9 2.2-1.8 2.3-1.8-3.6-2-3.5-1.5-2.3 1.8z"/>
<path color="#ffd303" d="M154.7 67.2l7.4 8.9 3.9-4.1-7.2-8.6z"/>
<path class="m" d="M154.7 67.2l3.7 4.5 3.7 4.4 2-2.1 1.9-2-3.6-4.3-3.6-4.3-2 1.9z"/>
<path color="#ffa600" d="M184.1 94.3l1.9 .8 .9-1.1-1.9-.8z"/>
<path color="#ffa600" d="M185 93.2l1.9 .8 .9-1.1-1.8-.9z"/>
<path color="#ffa600" d="M186 92l1.8 .9 .9-1.1-1.8-.9z"/>
<path color="#ffa600" d="M186.9 90.9l1.8 .9 .9-1.1-1.8-.9z"/>
<path color="#ff9d00" d="M186 95.1l1.8 .8 1-1.1-1.9-.8z"/>
<path color="#ff9d00" d="M186.9 94l1.9 .8 .9-1.1-1.9-.8z"/>
<path color="#ff9d00" d="M187.8 92.9l1.9 .8 .9-1.1-1.9-.8z"/>
<path color="#ff9d00" d="M188.7 91.8l1.9 .8 .9-1.1-1.9-.8z"/>
<path color="#ff9500" d="M187.8 95.9l1.9 .7 .9-1.1-1.8-.7z"/>
<path color="#ff9500" d="M188.8 94.8l1.8 .7 .9-1.2-1.8-.6z"/>
<path color="#ff9500" d="M189.7 93.7l1.8 .6 1-1.1-1.9-.6z"/>
<path color="#ff9500" d="M190.6 92.6l1.9 .6 .9-1.1-1.9-.6z"/>
<path color="#fe8f00" d="M189.7 96.6l1.9 .5 .9-1.1-1.9-.5z"/>
<path color="#fe8f00" d="M190.6 95.5l1.9 .5 .9-1.1-1.9-.6z"/>
<path color="#fe8f00" d="M191.5 94.3l1.9 .6 .9-1.1-1.8-.6z"/>
<path color="#fe8f00" d="M192.5 93.2l1.8 .6 .9-1.2-1.8-.5z"/>
<path class="m" d="M184.1 94.3l3.7 1.6 3.8 1.2 1.8-2.2 1.8-2.3-3.7-1.1-3.7-1.7-1.8 2.2z"/>
<path color="#bd5601" d="M214.2 88.2l2-.5 .9-1.1-2 .5z"/>
<path color="#bd5601" d="M215.1 87.1l2-.5 .8-1.2-2 .6z"/>
<path color="#bd5601" d="M215.9 86l2-.6 .8-1-2 .5z"/>
<path color="#bd5701" d="M216.7 84.9l2-.5 .9-1.1-2 .5z"/>
<path color="#b55302" d="M216.2 87.7l2.1-.8 .8-1.1-2 .8z"/>
<path color="#b65302" d="M217.1 86.6l2-.8 .9-1.1-2.1 .7z"/>
<path color="#b65302" d="M217.9 85.4l2.1-.7 .8-1.1-2.1 .8z"/>
<path color="#b65302" d="M218.7 84.4l2.1-.8 .8-1.1-2 .8z"/>
<path color="#ae4f02" d="M218.3 86.9l2.1-.8 .8-1.2-2.1 .9z"/>
<path color="#af4f02" d="M219.1 85.8l2.1-.9 .8-1.1-2 .9z"/>
<path color="#af4f02" d="M220 84.7l2-.9 .8-1.1-2 .9z"/>
<path color="#af4f02" d="M220.8 83.6l2-.9 .9-1-2.1 .8z"/>
<path color="#a74b02" d="M220.4 86.1l2.1-1.1 .8-1.1-2.1 1z"/>
<path color="#a74b02" d="M221.2 84.9l2.1-1 .8-1.1-2.1 1z"/>
<path color="#a74b02" d="M222 83.8l2.1-1 .8-1.1-2.1 1z"/>
<path color="#a74b02" d="M222.8 82.7l2.1-1 .9-1.1-2.1 1.1z"/>
<path class="m" d="M214.2 88.2l4.1-1.3 4.2-1.9 1.6-2.2 1.7-2.2-4.2 1.9-4 1.3-1.7 2.2z"/>
<path color="#ffd303" d="M147.4 57.9l7.3 9.3 4.1-3.8-7.2-9.2z"/>
<path class="m" d="M147.4 57.9l3.7 4.7 3.6 4.6 2.1-1.9 2-1.9-3.6-4.6-3.6-4.6-2.1 1.8z"/>
<path color="#a04703" d="M225.8 80.6l2.1-1.2 .8-1.1-2.1 1.2z"/>
<path color="#a04703" d="M226.6 79.5l2.1-1.2 .8-1-2.1 1.2z"/>
<path color="#a04803" d="M227.4 78.5l2.1-1.2 .8-1.1-2.2 1.2z"/>
<path color="#a14803" d="M228.1 77.4l2.2-1.2 .7-1.1-2.1 1.2z"/>
<path color="#994403" d="M227.9 79.4l2.1-1.4 .8-1-2.1 1.3z"/>
<path color="#9a4403" d="M228.7 78.3l2.1-1.3 .8-1.1-2.1 1.4z"/>
<path color="#9a4403" d="M229.5 77.3l2.1-1.4 .8-1.1-2.1 1.4z"/>
<path color="#9a4403" d="M230.3 76.2l2.1-1.4 .8-1-2.2 1.3z"/>
<path color="#924003" d="M230 78l2.2-1.5 .8-1-2.2 1.5z"/>
<path color="#924003" d="M230.8 77l2.2-1.5 .8-1.1-2.2 1.5z"/>
<path color="#934003" d="M231.6 75.9l2.2-1.5 .8-1.1-2.2 1.5z"/>
<path color="#934003" d="M232.4 74.8l2.2-1.5 .8-1-2.2 1.5z"/>
<path color="#8a3c04" d="M232.2 76.5l2.3-1.6 .7-1-2.2 1.6z"/>
<path color="#8a3c03" d="M233 75.5l2.2-1.6 .8-1.1-2.2 1.6z"/>
<path color="#8b3c03" d="M233.8 74.4l2.2-1.6 .8-1.1-2.2 1.6z"/>
<path color="#8b3d03" d="M234.6 73.3l2.2-1.6 .8-1-2.2 1.6z"/>
<path class="m" d="M225.8 80.6l4.2-2.6 4.5-3.1 1.5-2.1 1.6-2.1-4.4 3.1-4.3 2.5-1.5 2.2z"/>
<path color="#ffab00" d="M125.2 36.1l1.8 1.1 1.1-.9-1.8-1.1z"/>
<path color="#ffac00" d="M126.3 35.2l1.8 1.1 1.1-.9-1.8-1.1z"/>
<path color="#ffad00" d="M127.4 34.3l1.8 1.1 1.2-.9-1.8-1.1z"/>
<path color="#ffae00" d="M128.6 33.4l1.8 1.1 1.1-.9-1.8-1.1z"/>
<path color="#ffb700" d="M127 37.2l1.8 1.3 1.1-.9-1.8-1.3z"/>
<path color="#ffb800" d="M128.1 36.3l1.8 1.3 1.2-.9-1.9-1.3z"/>
<path color="#ffb900" d="M129.2 35.4l1.9 1.3 1.1-.9-1.8-1.3z"/>
<path color="#ffba00" d="M130.4 34.5l1.8 1.3 1.1-.9-1.8-1.3z"/>
<path color="#ffc200" d="M128.8 38.5l1.9 1.4 1.1-.9-1.9-1.4z"/>
<path color="#ffc200" d="M129.9 37.6l1.9 1.4 1.1-.9-1.8-1.4z"/>
<path color="#ffc200" d="M131.1 36.7l1.8 1.4 1.1-.9-1.8-1.4z"/>
<path color="#ffc300" d="M132.2 35.8l1.8 1.4 1.1-.9-1.8-1.4z"/>
<path color="#ffc801" d="M130.7 39.9l1.8 1.5 1.1-.9-1.8-1.5z"/>
<path color="#ffc801" d="M131.8 39l1.8 1.5 1.1-.9-1.8-1.5z"/>
<path color="#ffc801" d="M132.9 38.1l1.8 1.5 1.1-.9-1.8-1.5z"/>
<path color="#ffc901" d="M134 37.2l1.8 1.5 1.1-.9-1.8-1.5z"/>
<path class="m" d="M125.2 36.1l3.6 2.4 3.7 2.9 2.2-1.8 2.2-1.8-3.6-2.9-3.6-2.4-2.3 1.8z"/>
<path color="#f78100" d="M106.2 34.2l3.5 1 2.4-1.9-3.5-1z"/>
<path color="#f78100" d="M108.6 32.3l3.5 1 2.4-1.8-3.5-1z"/>
<path color="#fb8600" d="M109.7 35.2l3.6 1.2 2.4-1.9-3.6-1.2z"/>
<path color="#fb8600" d="M112.1 33.3l3.6 1.2 2.3-1.9-3.5-1.1z"/>
<path class="m" d="M106.2 34.2l3.5 1 3.6 1.2 2.4-1.9 2.3-1.9-3.5-1.1-3.5-1-2.4 1.8z"/>
<path color="#e06b00" d="M202.9 93.6l1.9 0 .9-1.1-1.9 0z"/>
<path color="#e16b00" d="M203.8 92.5l1.9 0 .9-1.2-2 .1z"/>
<path color="#e16b00" d="M204.6 91.4l2-.1 .8-1.1-1.9 .1z"/>
<path color="#e06b00" d="M205.5 90.3l1.9-.1 .9-1.1-1.9 .1z"/>
<path color="#d86500" d="M204.8 93.6l2-.2 .9-1.1-2 .2z"/>
<path color="#d86500" d="M205.7 92.5l2-.2 .8-1.1-1.9 .1z"/>
<path color="#d76500" d="M206.6 91.3l1.9-.1 .9-1.1-2 .1z"/>
<path color="#d76500" d="M207.4 90.2l2-.1 .9-1.1-2 .1z"/>
<path color="#ce6001" d="M206.8 93.4l2-.2 .9-1.2-2 .3z"/>
<path color="#ce5f01" d="M207.7 92.3l2-.3 .8-1.1-2 .3z"/>
<path color="#ce5f01" d="M208.5 91.2l2-.3 .9-1.1-2 .3z"/>
<path color="#ce5f01" d="M209.4 90.1l2-.3 .8-1.1-1.9 .3z"/>
<path color="#c55a01" d="M208.8 93.2l2-.5 .9-1.1-2 .4z"/>
<path color="#c55a01" d="M209.7 92l2-.4 .8-1.1-2 .4z"/>
<path color="#c55a01" d="M210.5 90.9l2-.4 .9-1.2-2 .5z"/>
<path color="#c55a01" d="M211.4 89.8l2-.5 .8-1.1-2 .5z"/>
<path class="m" d="M202.9 93.6l3.9-.2 4-.7 1.7-2.2 1.7-2.3-3.9 .8-3.9 .2-1.8 2.2z"/>
<path color="#ffd202" d="M139.9 48.8l7.5 9.1 4.2-3.7-7.4-9z"/>
<path class="m" d="M139.9 48.8l3.7 4.5 3.8 4.6 2.1-1.9 2.1-1.8-3.7-4.6-3.7-4.4-2.1 1.8z"/>
<path color="#853904" d="M237.6 70.7l4.5-3.4 1.5-2.1-4.5 3.4z"/>
<path color="#853a04" d="M239.1 68.6l4.5-3.4 1.5-2-4.5 3.4z"/>
<path color="#823804" d="M242.1 67.3l4.6-3.5 1.5-2.1-4.6 3.5z"/>
<path color="#823804" d="M243.6 65.2l4.6-3.5 1.5-2-4.6 3.5z"/>
<path class="m" d="M237.6 70.7l4.5-3.4 4.6-3.5 1.5-2.1 1.5-2-4.6 3.5-4.5 3.4-1.5 2z"/>
<path color="#ffce02" d="M132.5 41.4l7.4 7.4 4.3-3.6-7.3-7.4z"/>
<path class="m" d="M132.5 41.4l3.7 3.5 3.7 3.9 2.2-1.8 2.1-1.8-3.6-3.9-3.7-3.5-2.2 1.8z"/>
<path color="#fb8800" d="M191.6 97.1l1.9 .5 .9-1.2-1.9-.4z"/>
<path color="#fb8800" d="M192.5 96l1.9 .4 .9-1.1-1.9-.4z"/>
<path color="#fb8800" d="M193.4 94.9l1.9 .4 .9-1.1-1.9-.4z"/>
<path color="#fb8800" d="M194.3 93.8l1.9 .4 .9-1.1-1.9-.5z"/>
<path color="#f78000" d="M193.5 97.6l1.9 .3 .9-1.1-1.9-.4z"/>
<path color="#f68000" d="M194.4 96.4l1.9 .4 .9-1.2-1.9-.3z"/>
<path color="#f68000" d="M195.3 95.3l1.9 .3 .9-1.1-1.9-.3z"/>
<path color="#f68000" d="M196.2 94.2l1.9 .3 .9-1.1-1.9-.3z"/>
<path color="#f07800" d="M195.4 97.9l2 .2 .9-1.1-2-.2z"/>
<path color="#f07800" d="M196.3 96.8l2 .2 .9-1.2-2-.2z"/>
<path color="#f07800" d="M197.2 95.6l2 .2 .9-1.1-2-.2z"/>
<path color="#f07800" d="M198.1 94.5l2 .2 .9-1.2-2-.1z"/>
<path color="#e97200" d="M197.4 98.1l1.9 .1 .9-1.1-1.9-.1z"/>
<path color="#e97200" d="M198.3 97l1.9 .1 .9-1.2-1.9-.1z"/>
<path color="#e97100" d="M199.2 95.8l1.9 .1 .9-1.1-1.9-.1z"/>
<path color="#e87100" d="M200.1 94.7l1.9 .1 .9-1.2-1.9-.1z"/>
<path class="m" d="M191.6 97.1l3.8 .8 3.9 .3 1.8-2.3 1.8-2.3-3.9-.2-3.8-.8-1.8 2.3z"/>
<path color="#ffcf02" d="M165.4 88.5l3.7 3.2 2-2.2-3.7-3.2z"/>
<path color="#ffcf02" d="M167.4 86.3l3.7 3.2 1.9-2.2-3.6-3.2z"/>
<path color="#ffcb01" d="M169.1 91.7l3.7 2.7 2-2.2-3.7-2.7z"/>
<path color="#ffcb01" d="M171.1 89.5l3.7 2.7 1.9-2.2-3.7-2.7z"/>
<path class="m" d="M165.4 88.5l3.7 3.2 3.7 2.7 2-2.2 1.9-2.2-3.7-2.7-3.6-3.2-2 2.2z"/>
<path color="#ffd203" d="M158 80.2l7.4 8.3 4-4.4-7.3-8z"/>
<path class="m" d="M158 80.2l3.7 4.4 3.7 3.9 2-2.2 2-2.2-3.7-3.8-3.6-4.2-2.1 2z"/>
<path color="#ffc600" d="M172.8 94.4l1.9 1.2 .9-1.1-1.8-1.2z"/>
<path color="#ffc600" d="M173.8 93.3l1.8 1.2 1-1.1-1.8-1.2z"/>
<path color="#ffc600" d="M174.8 92.2l1.8 1.2 1-1.1-1.9-1.2z"/>
<path color="#ffc600" d="M175.7 91.1l1.9 1.2 .9-1.1-1.8-1.2z"/>
<path color="#ffc100" d="M174.7 95.6l1.8 1.2 1-1.2-1.9-1.1z"/>
<path color="#ffc100" d="M175.6 94.5l1.9 1.1 1-1.1-1.9-1.1z"/>
<path color="#ffc000" d="M176.6 93.4l1.9 1.1 .9-1.1-1.8-1.1z"/>
<path color="#ffc000" d="M177.6 92.3l1.8 1.1 1-1.1-1.9-1.1z"/>
<path color="#ffb900" d="M176.5 96.8l1.9 1 1-1.1-1.9-1.1z"/>
<path color="#ffb900" d="M177.5 95.6l1.9 1.1 .9-1.1-1.8-1.1z"/>
<path color="#ffb900" d="M178.5 94.5l1.8 1.1 1-1.2-1.9-1z"/>
<path color="#ffb900" d="M179.4 93.4l1.9 1 .9-1.1-1.8-1z"/>
<path color="#ffb100" d="M178.4 97.8l1.9 1 .9-1.1-1.8-1z"/>
<path color="#ffb000" d="M179.4 96.7l1.8 1 1-1.2-1.9-.9z"/>
<path color="#ffb000" d="M180.3 95.6l1.9 .9 .9-1.1-1.8-1z"/>
<path color="#ffb000" d="M181.3 94.4l1.8 1 1-1.1-1.9-1z"/>
<path class="m" d="M172.8 94.4l3.7 2.4 3.8 2 1.9-2.3 1.9-2.2-3.7-2-3.7-2.3-1.9 2.2z"/>
<path color="#fe8d00" d="M113.3 36.4l1.8 .7 1.2-.9-1.8-.7z"/>
<path color="#fe8d00" d="M114.5 35.5l1.8 .7 1.2-1-1.8-.7z"/>
<path color="#fe8d00" d="M115.7 34.5l1.8 .7 1.1-.9-1.8-.7z"/>
<path color="#fe8d00" d="M116.8 33.6l1.8 .7 1.2-1-1.8-.7z"/>
<path color="#ff9100" d="M115.1 37.1l1.8 .8 1.2-.9-1.8-.8z"/>
<path color="#ff9100" d="M116.3 36.2l1.8 .8 1.2-1-1.8-.8z"/>
<path color="#ff9100" d="M117.5 35.2l1.8 .8 1.1-.9-1.8-.8z"/>
<path color="#ff9200" d="M118.6 34.3l1.8 .8 1.2-.9-1.8-.9z"/>
<path color="#ff9700" d="M116.9 37.9l1.8 .9 1.2-.9-1.8-.9z"/>
<path color="#ff9700" d="M118.1 37l1.8 .9 1.2-1-1.8-.9z"/>
<path color="#ff9800" d="M119.3 36l1.8 .9 1.1-.9-1.8-.9z"/>
<path color="#ff9800" d="M120.4 35.1l1.8 .9 1.2-.9-1.8-.9z"/>
<path color="#ff9e00" d="M118.7 38.8l1.9 1 1.1-.9-1.8-1z"/>
<path color="#ff9f00" d="M119.9 37.9l1.8 1 1.2-.9-1.8-1.1z"/>
<path color="#ff9f00" d="M121.1 36.9l1.8 1.1 1.1-1-1.8-1z"/>
<path color="#ffa000" d="M122.2 36l1.8 1 1.2-.9-1.8-1z"/>
<path class="m" d="M113.3 36.4l3.6 1.5 3.7 1.9 2.3-1.8 2.3-1.9-3.6-1.9-3.6-1.6-2.3 1.9z"/>
<path color="#ffd303" d="M150.5 71.2l7.5 9 4.1-4.1-7.4-8.9z"/>
<path class="m" d="M150.5 71.2l3.8 4.5 3.7 4.5 2-2.1 2.1-2-3.7-4.4-3.7-4.5-2 2z"/>
<path color="#ffa700" d="M180.3 98.8l1.9 .9 .9-1.1-1.9-.9z"/>
<path color="#ffa600" d="M181.2 97.7l1.9 .9 1-1.2-1.9-.9z"/>
<path color="#ffa600" d="M182.2 96.5l1.9 .9 .9-1.1-1.9-.9z"/>
<path color="#ffa600" d="M183.1 95.4l1.9 .9 1-1.2-1.9-.8z"/>
<path color="#ff9d00" d="M182.2 99.7l1.9 .8 .9-1.1-1.9-.8z"/>
<path color="#ff9d00" d="M183.1 98.6l1.9 .8 1-1.2-1.9-.8z"/>
<path color="#ff9d00" d="M184.1 97.4l1.9 .8 .9-1.1-1.9-.8z"/>
<path color="#ff9d00" d="M185 96.3l1.9 .8 .9-1.2-1.8-.8z"/>
<path color="#ff9600" d="M184.1 100.5l1.9 .7 .9-1.2-1.9-.6z"/>
<path color="#ff9600" d="M185 99.4l1.9 .6 .9-1.1-1.8-.7z"/>
<path color="#ff9500" d="M186 98.2l1.8 .7 1-1.2-1.9-.6z"/>
<path color="#ff9500" d="M186.9 97.1l1.9 .6 .9-1.1-1.9-.7z"/>
<path color="#fe8f00" d="M186 101.2l1.9 .6 .9-1.2-1.9-.6z"/>
<path color="#fe8f00" d="M186.9 100l1.9 .6 1-1.2-2-.5z"/>
<path color="#fe8f00" d="M187.8 98.9l2 .5 .9-1.1-1.9-.6z"/>
<path color="#fe8f00" d="M188.8 97.7l1.9 .6 .9-1.2-1.9-.5z"/>
<path class="m" d="M180.3 98.8l3.8 1.7 3.8 1.3 1.9-2.4 1.8-2.3-3.8-1.2-3.7-1.6-1.9 2.2z"/>
<path color="#bd5601" d="M210.8 92.7l2.1-.5 .8-1.2-2 .6z"/>
<path color="#bd5601" d="M211.7 91.6l2-.6 .9-1.1-2.1 .6z"/>
<path color="#bd5601" d="M212.5 90.5l2.1-.6 .8-1.1-2 .5z"/>
<path color="#bd5601" d="M213.4 89.3l2-.5 .8-1.1-2 .5z"/>
<path color="#b55302" d="M212.9 92.2l2-.7 .9-1.2-2.1 .7z"/>
<path color="#b55302" d="M213.7 91l2.1-.7 .8-1.1-2 .7z"/>
<path color="#b55302" d="M214.6 89.9l2-.7 .9-1.1-2.1 .7z"/>
<path color="#b55302" d="M215.4 88.8l2.1-.7 .8-1.2-2.1 .8z"/>
<path color="#ae4f02" d="M214.9 91.5l2.1-.9 .9-1.2-2.1 .9z"/>
<path color="#ae4f02" d="M215.8 90.3l2.1-.9 .8-1.1-2.1 .9z"/>
<path color="#ae4f02" d="M216.6 89.2l2.1-.9 .8-1.1-2 .9z"/>
<path color="#ae4f02" d="M217.5 88.1l2-.9 .9-1.1-2.1 .8z"/>
<path color="#a64b02" d="M217 90.6l2.1-1.1 .9-1.1-2.1 1z"/>
<path color="#a64b02" d="M217.9 89.4l2.1-1 .8-1.2-2.1 1.1z"/>
<path color="#a74b02" d="M218.7 88.3l2.1-1.1 .9-1.1-2.2 1.1z"/>
<path color="#a74b02" d="M219.5 87.2l2.2-1.1 .8-1.1-2.1 1.1z"/>
<path class="m" d="M210.8 92.7l4.1-1.2 4.2-2 1.7-2.3 1.7-2.2-4.2 1.9-4.1 1.3-1.7 2.3z"/>
<path color="#ffd303" d="M143 61.7l7.5 9.5 4.2-4-7.3-9.3z"/>
<path class="m" d="M143 61.7l3.8 4.8 3.7 4.7 2.2-2 2-2-3.6-4.6-3.7-4.7-2.2 1.9z"/>
<path color="#f78100" d="M101.3 38l3.6 1.1 2.4-2-3.5-1z"/>
<path color="#f78100" d="M103.8 36.1l3.5 1 2.4-1.9-3.5-1z"/>
<path color="#fb8600" d="M104.9 39.1l3.6 1.2 2.4-2-3.6-1.2z"/>
<path color="#fb8600" d="M107.3 37.1l3.6 1.2 2.4-1.9-3.6-1.2z"/>
<path class="m" d="M101.3 38l3.6 1.1 3.6 1.2 2.4-2 2.4-1.9-3.6-1.2-3.5-1-2.4 1.9z"/>
<path color="#ffa800" d="M120.6 39.8l1.8 1.2 1.2-1-1.9-1.1z"/>
<path color="#ffa900" d="M121.7 38.9l1.9 1.1 1.1-.9-1.8-1.1z"/>
<path color="#ffa900" d="M122.9 38l1.8 1.1 1.2-.9-1.9-1.2z"/>
<path color="#ffaa00" d="M124 37l1.9 1.2 1.1-1-1.8-1.1z"/>
<path color="#ffb400" d="M122.4 41l1.9 1.2 1.1-.9-1.8-1.3z"/>
<path color="#ffb500" d="M123.6 40l1.8 1.3 1.2-1-1.9-1.2z"/>
<path color="#ffb600" d="M124.7 39.1l1.9 1.2 1.1-.9-1.8-1.2z"/>
<path color="#ffb700" d="M125.9 38.2l1.8 1.2 1.1-.9-1.8-1.3z"/>
<path color="#ffbf00" d="M124.3 42.2l1.8 1.4 1.2-1-1.9-1.3z"/>
<path color="#ffc000" d="M125.4 41.3l1.9 1.3 1.1-.9-1.8-1.4z"/>
<path color="#ffc000" d="M126.6 40.3l1.8 1.4 1.1-.9-1.8-1.4z"/>
<path color="#ffc100" d="M127.7 39.4l1.8 1.4 1.2-.9-1.9-1.4z"/>
<path color="#ffc700" d="M126.1 43.6l1.9 1.5 1.1-1-1.8-1.5z"/>
<path color="#ffc700" d="M127.3 42.6l1.8 1.5 1.2-.9-1.9-1.5z"/>
<path color="#ffc801" d="M128.4 41.7l1.9 1.5 1.1-.9-1.9-1.5z"/>
<path color="#ffc801" d="M129.5 40.8l1.9 1.5 1.1-.9-1.8-1.5z"/>
<path class="m" d="M120.6 39.8l3.7 2.4 3.7 2.9 2.3-1.9 2.2-1.8-3.7-2.9-3.6-2.4-2.3 1.9z"/>
<path color="#9f4703" d="M222.5 85l2.1-1.2 .8-1.1-2.1 1.2z"/>
<path color="#a04703" d="M223.3 83.9l2.1-1.2 .9-1.1-2.2 1.2z"/>
<path color="#a04703" d="M224.1 82.8l2.2-1.2 .8-1.1-2.2 1.2z"/>
<path color="#a04703" d="M224.9 81.7l2.2-1.2 .8-1.1-2.1 1.2z"/>
<path color="#994303" d="M224.6 83.8l2.2-1.4 .8-1.1-2.2 1.4z"/>
<path color="#994403" d="M225.4 82.7l2.2-1.4 .8-1.1-2.1 1.4z"/>
<path color="#994403" d="M226.3 81.6l2.1-1.4 .8-1.1-2.1 1.4z"/>
<path color="#994403" d="M227.1 80.5l2.1-1.4 .8-1.1-2.1 1.4z"/>
<path color="#903f03" d="M226.8 82.4l2.2-1.5 .8-1.1-2.2 1.5z"/>
<path color="#913f03" d="M227.6 81.3l2.2-1.5 .8-1.1-2.2 1.5z"/>
<path color="#914003" d="M228.4 80.2l2.2-1.5 .8-1.1-2.2 1.5z"/>
<path color="#914003" d="M229.2 79.1l2.2-1.5 .8-1.1-2.2 1.5z"/>
<path color="#883b04" d="M229 80.9l2.3-1.6 .8-1.1-2.3 1.6z"/>
<path color="#893b04" d="M229.8 79.8l2.3-1.6 .8-1.1-2.3 1.6z"/>
<path color="#893b04" d="M230.6 78.7l2.3-1.6 .8-1.1-2.3 1.6z"/>
<path color="#893c04" d="M231.4 77.6l2.3-1.6 .8-1.1-2.3 1.6z"/>
<path class="m" d="M222.5 85l4.3-2.6 4.5-3.1 1.6-2.2 1.6-2.2-4.5 3.1-4.2 2.6-1.7 2.2z"/>
<path color="#e16b00" d="M199.3 98.2l2 0 .9-1.2-2 .1z"/>
<path color="#e16b00" d="M200.2 97.1l2-.1 .9-1.1-2 0z"/>
<path color="#e06b00" d="M201.1 95.9l2 0 .9-1.2-2 .1z"/>
<path color="#e06b00" d="M202 94.8l2-.1 .8-1.1-1.9 0z"/>
<path color="#d76500" d="M201.3 98.2l2-.1 .9-1.2-2 .1z"/>
<path color="#d76500" d="M202.2 97l2-.1 .9-1.2-2 .2z"/>
<path color="#d76500" d="M203.1 95.9l2-.2 .8-1.1-1.9 .1z"/>
<path color="#d76500" d="M204 94.7l1.9-.1 .9-1.2-2 .2z"/>
<path color="#cd5f01" d="M203.3 98.1l2-.3 .9-1.2-2 .3z"/>
<path color="#cd5f01" d="M204.2 96.9l2-.3 .9-1.1-2 .2z"/>
<path color="#ce5f01" d="M205.1 95.7l2-.2 .8-1.2-2 .3z"/>
<path color="#ce5f01" d="M205.9 94.6l2-.3 .9-1.1-2 .2z"/>
<path color="#c45a01" d="M205.3 97.8l2-.4 .9-1.2-2 .4z"/>
<path color="#c45a01" d="M206.2 96.6l2-.4 .9-1.2-2 .5z"/>
<path color="#c55a01" d="M207.1 95.5l2-.5 .8-1.1-2 .4z"/>
<path color="#c55a01" d="M207.9 94.3l2-.4 .9-1.2-2 .5z"/>
<path class="m" d="M199.3 98.2l4-.1 4-.7 1.8-2.4 1.7-2.3-4 .7-3.9 .2-1.8 2.3z"/>
<path color="#ffd203" d="M135.5 52.5l7.5 9.2 4.4-3.8-7.5-9.1z"/>
<path class="m" d="M135.5 52.5l3.8 4.5 3.7 4.7 2.2-1.9 2.2-1.9-3.8-4.6-3.7-4.5-2.2 1.9z"/>
<path color="#ffcc01" d="M128 45.1l3.7 3.4 2.3-1.8-3.7-3.5z"/>
<path color="#ffcc01" d="M130.3 43.2l3.7 3.5 2.2-1.8-3.7-3.5z"/>
<path color="#ffd002" d="M131.7 48.5l3.8 4 2.2-1.8-3.7-4z"/>
<path color="#ffd002" d="M134 46.7l3.7 4 2.2-1.9-3.7-3.9z"/>
<path class="m" d="M128 45.1l3.7 3.4 3.8 4 2.2-1.8 2.2-1.9-3.7-3.9-3.7-3.5-2.2 1.8z"/>
<path color="#843904" d="M234.5 74.9l9.1-6.8 3.1-4.3-9.1 6.9z"/>
<path class="m" d="M234.5 74.9l4.5-3.4 4.6-3.4 1.6-2.2 1.5-2.1-4.6 3.5-4.5 3.4-1.6 2.1z"/>
<path color="#fb8800" d="M187.9 101.8l1.9 .4 .9-1.1-1.9-.5z"/>
<path color="#fb8800" d="M188.8 100.6l1.9 .5 1-1.2-1.9-.5z"/>
<path color="#fb8800" d="M189.8 99.4l1.9 .5 .9-1.2-1.9-.4z"/>
<path color="#fb8800" d="M190.7 98.3l1.9 .4 .9-1.1-1.9-.5z"/>
<path color="#f78000" d="M189.8 102.2l1.9 .4 1-1.2-2-.3z"/>
<path color="#f78000" d="M190.7 101.1l2 .3 .9-1.2-1.9-.3z"/>
<path color="#f78000" d="M191.7 99.9l1.9 .3 .9-1.1-1.9-.4z"/>
<path color="#f78000" d="M192.6 98.7l1.9 .4 .9-1.2-1.9-.3z"/>
<path color="#f17900" d="M191.7 102.6l2 .2 .9-1.2-1.9-.2z"/>
<path color="#f17900" d="M192.7 101.4l1.9 .2 .9-1.2-1.9-.2z"/>
<path color="#f17900" d="M193.6 100.2l1.9 .2 1-1.1-2-.2z"/>
<path color="#f07800" d="M194.5 99.1l2 .2 .9-1.2-2-.2z"/>
<path color="#e97200" d="M193.7 102.8l2 .1 .9-1.2-2-.1z"/>
<path color="#e97200" d="M194.6 101.6l2 .1 .9-1.2-2-.1z"/>
<path color="#e97200" d="M195.5 100.4l2 .1 .9-1.1-1.9-.1z"/>
<path color="#e97200" d="M196.5 99.3l1.9 .1 .9-1.2-1.9-.1z"/>
<path class="m" d="M187.9 101.8l3.8 .8 4 .3 1.8-2.4 1.8-2.3-3.9-.3-3.8-.8-1.8 2.3z"/>
<path color="#ffcf02" d="M161.3 93l3.8 3.3 2-2.3-3.7-3.3z"/>
<path color="#ffcf02" d="M163.4 90.7l3.7 3.3 2-2.3-3.7-3.2z"/>
<path color="#ffca01" d="M165.1 96.3l3.7 2.7 2-2.3-3.7-2.7z"/>
<path color="#ffca01" d="M167.1 94l3.7 2.7 2-2.3-3.7-2.7z"/>
<path class="m" d="M161.3 93l3.8 3.3 3.7 2.7 2-2.3 2-2.3-3.7-2.7-3.7-3.2-2 2.2z"/>
<path color="#ffd303" d="M153.8 84.5l7.5 8.5 4.1-4.5-7.4-8.3z"/>
<path class="m" d="M153.8 84.5l3.8 4.5 3.7 4 2.1-2.3 2-2.2-3.7-3.9-3.7-4.4-2.1 2.1z"/>
<path color="#fe8c00" d="M108.5 40.3l1.8 .7 1.2-1-1.8-.7z"/>
<path color="#fe8c00" d="M109.7 39.3l1.8 .7 1.2-1-1.8-.7z"/>
<path color="#fe8c00" d="M110.9 38.3l1.8 .7 1.2-.9-1.8-.7z"/>
<path color="#fe8c00" d="M112.1 37.4l1.8 .7 1.2-1-1.8-.7z"/>
<path color="#fe9000" d="M110.3 41l1.8 .8 1.3-1-1.9-.8z"/>
<path color="#fe9000" d="M111.5 40l1.9 .8 1.1-1-1.8-.8z"/>
<path color="#fe9000" d="M112.7 39l1.8 .8 1.2-.9-1.8-.8z"/>
<path color="#fe9100" d="M113.9 38.1l1.8 .8 1.2-1-1.8-.8z"/>
<path color="#ff9500" d="M112.1 41.8l1.9 .9 1.2-1-1.8-.9z"/>
<path color="#ff9600" d="M113.4 40.8l1.8 .9 1.2-1-1.9-.9z"/>
<path color="#ff9600" d="M114.5 39.8l1.9 .9 1.2-.9-1.9-.9z"/>
<path color="#ff9700" d="M115.7 38.9l1.9 .9 1.1-1-1.8-.9z"/>
<path color="#ff9c00" d="M114 42.7l1.8 1 1.2-1-1.8-1z"/>
<path color="#ff9d00" d="M115.2 41.7l1.8 1 1.2-1-1.8-1z"/>
<path color="#ff9d00" d="M116.4 40.7l1.8 1 1.2-.9-1.8-1z"/>
<path color="#ff9e00" d="M117.6 39.8l1.8 1 1.2-1-1.9-1z"/>
<path class="m" d="M108.5 40.3l3.6 1.5 3.7 1.9 2.4-2 2.4-1.9-3.7-1.9-3.6-1.5-2.4 1.9z"/>
<path color="#ffc600" d="M168.8 99l1.9 1.2 1-1.1-1.9-1.2z"/>
<path color="#ffc600" d="M169.8 97.9l1.9 1.2 1-1.2-1.9-1.2z"/>
<path color="#ffc600" d="M170.8 96.7l1.9 1.2 1-1.1-1.9-1.2z"/>
<path color="#ffc600" d="M171.8 95.6l1.9 1.2 1-1.2-1.9-1.2z"/>
<path color="#ffc000" d="M170.7 100.2l1.9 1.2 1-1.2-1.9-1.1z"/>
<path color="#ffc000" d="M171.7 99.1l1.9 1.1 1-1.1-1.9-1.2z"/>
<path color="#ffc000" d="M172.7 97.9l1.9 1.2 1-1.2-1.9-1.1z"/>
<path color="#ffc100" d="M173.7 96.8l1.9 1.1 .9-1.1-1.8-1.2z"/>
<path color="#ffb900" d="M172.6 101.4l1.9 1.1 1-1.2-1.9-1.1z"/>
<path color="#ffb900" d="M173.6 100.2l1.9 1.1 1-1.2-1.9-1z"/>
<path color="#ffb900" d="M174.6 99.1l1.9 1 .9-1.1-1.8-1.1z"/>
<path color="#ffb900" d="M175.6 97.9l1.8 1.1 1-1.2-1.9-1z"/>
<path color="#ffb100" d="M174.5 102.5l1.9 1 1-1.2-1.9-1z"/>
<path color="#ffb100" d="M175.5 101.3l1.9 1 .9-1.2-1.8-1z"/>
<path color="#ffb100" d="M176.5 100.1l1.8 1 1-1.1-1.9-1z"/>
<path color="#ffb100" d="M177.4 99l1.9 1 1-1.2-1.9-1z"/>
<path class="m" d="M168.8 99l3.8 2.4 3.8 2.1 1.9-2.4 2-2.3-3.8-2-3.7-2.4-2 2.3z"/>
<path color="#ffd303" d="M146.2 75.2l7.6 9.3 4.2-4.3-7.5-9z"/>
<path class="m" d="M146.2 75.2l3.8 4.6 3.8 4.7 2.1-2.2 2.1-2.1-3.7-4.5-3.8-4.5-2.1 2z"/>
<path color="#ffa700" d="M176.4 103.5l1.9 .9 1-1.2-1.9-.9z"/>
<path color="#ffa700" d="M177.4 102.3l1.9 .9 .9-1.2-1.9-.9z"/>
<path color="#ffa700" d="M178.3 101.1l1.9 .9 1-1.1-1.9-.9z"/>
<path color="#ffa700" d="M179.3 100l1.9 .9 1-1.2-1.9-.9z"/>
<path color="#ff9e00" d="M178.3 104.4l1.9 .8 1-1.2-1.9-.8z"/>
<path color="#ff9e00" d="M179.3 103.2l1.9 .8 .9-1.2-1.9-.8z"/>
<path color="#ff9e00" d="M180.2 102l1.9 .8 1-1.1-1.9-.8z"/>
<path color="#ff9e00" d="M181.2 100.9l1.9 .8 1-1.2-1.9-.8z"/>
<path color="#ff9600" d="M180.2 105.2l1.9 .7 1-1.2-1.9-.7z"/>
<path color="#ff9600" d="M181.2 104l1.9 .7 1-1.2-2-.7z"/>
<path color="#ff9600" d="M182.1 102.8l2 .7 .9-1.1-1.9-.7z"/>
<path color="#ff9600" d="M183.1 101.7l1.9 .7 1-1.2-1.9-.7z"/>
<path color="#fe8f00" d="M182.1 105.9l2 .6 .9-1.2-1.9-.6z"/>
<path color="#fe8f00" d="M183.1 104.7l1.9 .6 1-1.2-1.9-.6z"/>
<path color="#fe8f00" d="M184.1 103.5l1.9 .6 .9-1.2-1.9-.5z"/>
<path color="#fe8f00" d="M185 102.4l1.9 .5 1-1.1-1.9-.6z"/>
<path class="m" d="M176.4 103.5l3.8 1.7 3.9 1.3 1.9-2.4 1.9-2.3-3.8-1.3-3.8-1.7-2 2.3z"/>
<path color="#f78100" d="M96.4 41.9l3.6 1.1 2.4-2-3.5-1.1z"/>
<path color="#f78100" d="M98.9 39.9l3.5 1.1 2.5-1.9-3.6-1.1z"/>
<path color="#fb8600" d="M100 43l3.6 1.2 2.5-2-3.7-1.2z"/>
<path color="#fb8600" d="M102.4 41l3.7 1.2 2.4-1.9-3.6-1.2z"/>
<path class="m" d="M96.4 41.9l3.6 1.1 3.6 1.2 2.5-2 2.4-1.9-3.6-1.2-3.6-1.1-2.4 1.9z"/>
<path color="#ffd303" d="M138.6 65.7l7.6 9.5 4.3-4-7.5-9.5z"/>
<path class="m" d="M138.6 65.7l3.8 4.8 3.8 4.7 2.2-2 2.1-2-3.7-4.7-3.8-4.8-2.2 2z"/>
<path color="#bc5601" d="M207.3 97.4l2.1-.6 .8-1.2-2 .6z"/>
<path color="#bd5601" d="M208.2 96.2l2-.6 .9-1.1-2 .5z"/>
<path color="#bd5601" d="M209.1 95l2-.5 .9-1.2-2.1 .6z"/>
<path color="#bd5601" d="M209.9 93.9l2.1-.6 .9-1.1-2.1 .5z"/>
<path color="#b55302" d="M209.4 96.8l2-.7 .9-1.2-2.1 .7z"/>
<path color="#b55302" d="M210.2 95.6l2.1-.7 .9-1.1-2.1 .7z"/>
<path color="#b55302" d="M211.1 94.5l2.1-.7 .9-1.2-2.1 .7z"/>
<path color="#b55302" d="M212 93.3l2.1-.7 .8-1.1-2 .7z"/>
<path color="#ae4f02" d="M211.4 96.1l2.2-.9 .8-1.2-2.1 .9z"/>
<path color="#ae4f02" d="M212.3 94.9l2.1-.9 .9-1.1-2.1 .9z"/>
<path color="#ae4f02" d="M213.2 93.8l2.1-.9 .9-1.2-2.1 .9z"/>
<path color="#ae4f02" d="M214.1 92.6l2.1-.9 .8-1.1-2.1 .9z"/>
<path color="#a64b02" d="M213.6 95.2l2.1-1.1 .9-1.1-2.2 1z"/>
<path color="#a64b02" d="M214.4 94l2.2-1 .8-1.2-2.1 1.1z"/>
<path color="#a64b02" d="M215.3 92.9l2.1-1.1 .9-1.1-2.1 1z"/>
<path color="#a64b02" d="M216.2 91.7l2.1-1 .8-1.2-2.1 1.1z"/>
<path class="m" d="M207.3 97.4l4.1-1.3 4.3-2 1.7-2.3 1.7-2.3-4.2 2-4.1 1.2-1.7 2.3z"/>
<path color="#ffa500" d="M115.8 43.7l1.9 1.1 1.2-1-1.9-1.1z"/>
<path color="#ffa500" d="M117 42.7l1.9 1.1 1.2-.9-1.9-1.2z"/>
<path color="#ffa600" d="M118.2 41.7l1.9 1.2 1.1-1-1.8-1.1z"/>
<path color="#ffa700" d="M119.4 40.8l1.8 1.1 1.2-.9-1.8-1.2z"/>
<path color="#ffb000" d="M117.7 44.8l1.9 1.2 1.1-1-1.8-1.2z"/>
<path color="#ffb100" d="M118.9 43.8l1.8 1.2 1.2-.9-1.8-1.2z"/>
<path color="#ffb200" d="M120.1 42.9l1.8 1.2 1.2-1-1.9-1.2z"/>
<path color="#ffb300" d="M121.2 41.9l1.9 1.2 1.2-.9-1.9-1.2z"/>
<path color="#ffbc00" d="M119.6 46l1.8 1.4 1.2-1-1.9-1.4z"/>
<path color="#ffbd00" d="M120.7 45l1.9 1.4 1.2-.9-1.9-1.4z"/>
<path color="#ffbe00" d="M121.9 44.1l1.9 1.4 1.2-1-1.9-1.4z"/>
<path color="#ffbf00" d="M123.1 43.1l1.9 1.4 1.1-.9-1.8-1.4z"/>
<path color="#ffc600" d="M121.4 47.4l1.9 1.4 1.2-.9-1.9-1.5z"/>
<path color="#ffc600" d="M122.6 46.4l1.9 1.5 1.2-1-1.9-1.4z"/>
<path color="#ffc700" d="M123.8 45.5l1.9 1.4 1.1-.9-1.8-1.5z"/>
<path color="#ffc700" d="M125 44.5l1.8 1.5 1.2-.9-1.9-1.5z"/>
<path class="m" d="M115.8 43.7l3.8 2.3 3.7 2.8 2.4-1.9 2.3-1.8-3.7-2.9-3.7-2.4-2.4 1.9z"/>
<path color="#e16c00" d="M195.7 102.9l1.9 0 1-1.2-2 0z"/>
<path color="#e16c00" d="M196.6 101.7l2 0 .9-1.2-2 0z"/>
<path color="#e16b00" d="M197.5 100.5l2 0 .9-1.1-2 0z"/>
<path color="#e16b00" d="M198.4 99.4l2 0 .9-1.2-2 0z"/>
<path color="#d86500" d="M197.6 102.9l2.1-.1 .9-1.2-2 .1z"/>
<path color="#d86500" d="M198.6 101.7l2-.1 .9-1.2-2 .1z"/>
<path color="#d86500" d="M199.5 100.5l2-.1 .9-1.2-2 .2z"/>
<path color="#d76500" d="M200.4 99.4l2-.2 .9-1.1-2 .1z"/>
<path color="#ce5f01" d="M199.7 102.8l2-.3 .9-1.2-2 .3z"/>
<path color="#ce5f01" d="M200.6 101.6l2-.3 .9-1.2-2 .3z"/>
<path color="#ce5f01" d="M201.5 100.4l2-.3 .9-1.2-2 .3z"/>
<path color="#cd5f01" d="M202.4 99.2l2-.3 .9-1.1-2 .3z"/>
<path color="#c45a01" d="M201.7 102.5l2-.4 .9-1.2-2 .4z"/>
<path color="#c45a01" d="M202.6 101.3l2-.4 .9-1.2-2 .4z"/>
<path color="#c45a01" d="M203.5 100.1l2-.4 .9-1.2-2 .4z"/>
<path color="#c45a01" d="M204.4 98.9l2-.4 .9-1.1-2 .4z"/>
<path class="m" d="M195.7 102.9l4-.1 4-.7 1.8-2.4 1.8-2.3-4 .7-4 .1-1.8 2.3z"/>
<path color="#9f4703" d="M219.1 89.5l2.2-1.2 .8-1.1-2.1 1.2z"/>
<path color="#9f4703" d="M220 88.4l2.1-1.2 .9-1.2-2.2 1.2z"/>
<path color="#9f4703" d="M220.8 87.2l2.2-1.2 .8-1.1-2.1 1.2z"/>
<path color="#9f4703" d="M221.7 86.1l2.1-1.2 .8-1.1-2.1 1.2z"/>
<path color="#974303" d="M221.3 88.3l2.2-1.4 .8-1.1-2.2 1.4z"/>
<path color="#984303" d="M222.1 87.2l2.2-1.4 .9-1.2-2.2 1.4z"/>
<path color="#984303" d="M223 86l2.2-1.4 .8-1.1-2.2 1.4z"/>
<path color="#984303" d="M223.8 84.9l2.2-1.4 .8-1.1-2.2 1.4z"/>
<path color="#8f3e03" d="M223.5 86.9l2.2-1.5 .8-1.2-2.2 1.6z"/>
<path color="#8f3f03" d="M224.3 85.8l2.2-1.6 .9-1.1-2.2 1.5z"/>
<path color="#903f03" d="M225.2 84.6l2.2-1.5 .8-1.1-2.2 1.5z"/>
<path color="#903f03" d="M226 83.5l2.2-1.5 .8-1.1-2.2 1.5z"/>
<path color="#873a04" d="M225.7 85.4l2.3-1.7 .8-1.1-2.3 1.6z"/>
<path color="#873b04" d="M226.5 84.2l2.3-1.6 .8-1.1-2.2 1.6z"/>
<path color="#883b04" d="M227.4 83.1l2.2-1.6 .8-1.1-2.2 1.6z"/>
<path color="#883b04" d="M228.2 82l2.2-1.6 .9-1.1-2.3 1.6z"/>
<path class="m" d="M219.1 89.5l4.4-2.6 4.5-3.2 1.6-2.2 1.7-2.2-4.5 3.1-4.3 2.6-1.7 2.2z"/>
<path color="#ffd203" d="M130.9 56.3l7.7 9.4 4.4-4-7.5-9.2z"/>
<path class="m" d="M130.9 56.3l3.9 4.6 3.8 4.8 2.2-2 2.2-2-3.7-4.7-3.8-4.5-2.3 1.9z"/>
<path color="#ffcc01" d="M123.3 48.8l3.8 3.5 2.3-1.9-3.7-3.5z"/>
<path color="#ffcc01" d="M125.7 46.9l3.7 3.5 2.3-1.9-3.7-3.4z"/>
<path color="#ffd002" d="M127.1 52.3l3.8 4 2.3-1.9-3.8-4z"/>
<path color="#ffd002" d="M129.4 50.4l3.8 4 2.3-1.9-3.8-4z"/>
<path class="m" d="M123.3 48.8l3.8 3.5 3.8 4 2.3-1.9 2.3-1.9-3.8-4-3.7-3.4-2.3 1.8z"/>
<path color="#843904" d="M231.3 79.3l9.2-6.9 3.1-4.3-9.1 6.8z"/>
<path class="m" d="M231.3 79.3l4.5-3.5 4.7-3.4 1.5-2.2 1.6-2.1-4.6 3.4-4.5 3.4-1.6 2.2z"/>
<path color="#fc8900" d="M184.1 106.5l1.9 .5 1-1.2-2-.5z"/>
<path color="#fc8900" d="M185 105.3l2 .5 .9-1.2-1.9-.5z"/>
<path color="#fc8900" d="M186 104.1l1.9 .5 1-1.2-2-.5z"/>
<path color="#fc8800" d="M186.9 102.9l2 .5 .9-1.2-1.9-.4z"/>
<path color="#f78100" d="M186 107l2 .4 .9-1.3-1.9-.3z"/>
<path color="#f78100" d="M187 105.8l1.9 .3 1-1.2-2-.3z"/>
<path color="#f78100" d="M187.9 104.6l2 .3 .9-1.2-1.9-.3z"/>
<path color="#f78000" d="M188.9 103.4l1.9 .3 .9-1.1-1.9-.4z"/>
<path color="#f17900" d="M188 107.4l1.9 .2 1-1.2-2-.3z"/>
<path color="#f17900" d="M188.9 106.1l2 .3 .9-1.2-1.9-.3z"/>
<path color="#f17900" d="M189.9 104.9l1.9 .3 1-1.2-2-.3z"/>
<path color="#f07900" d="M190.8 103.7l2 .3 .9-1.2-2-.2z"/>
<path color="#e97200" d="M189.9 107.6l2 .1 1-1.2-2-.1z"/>
<path color="#e97200" d="M190.9 106.4l2 .1 .9-1.2-2-.1z"/>
<path color="#e97200" d="M191.8 105.2l2 .1 .9-1.2-1.9-.1z"/>
<path color="#e97200" d="M192.8 104l1.9 .1 1-1.2-2-.1z"/>
<path class="m" d="M184.1 106.5l3.9 .9 3.9 .3 1.9-2.4 1.9-2.4-4-.3-3.8-.8-1.9 2.3z"/>
<path color="#ffcf02" d="M157.1 97.6l3.8 3.3 2.1-2.3-3.8-3.3z"/>
<path color="#ffcf02" d="M159.2 95.3l3.8 3.3 2.1-2.3-3.8-3.3z"/>
<path color="#ffca01" d="M160.9 100.9l3.8 2.8 2.1-2.3-3.8-2.8z"/>
<path color="#ffca01" d="M163 98.6l3.8 2.8 2-2.4-3.7-2.7z"/>
<path class="m" d="M157.1 97.6l3.8 3.3 3.8 2.8 2.1-2.3 2-2.4-3.7-2.7-3.8-3.3-2.1 2.3z"/>
<path color="#ffd303" d="M149.5 88.8l7.6 8.8 4.2-4.6-7.5-8.5z"/>
<path class="m" d="M149.5 88.8l3.8 4.7 3.8 4.1 2.1-2.3 2.1-2.3-3.7-4-3.8-4.5-2.1 2.1z"/>
<path color="#fe8e00" d="M103.6 44.2l3.7 1.5 2.4-2-3.6-1.5z"/>
<path color="#fe8e00" d="M106.1 42.2l3.6 1.5 2.4-1.9-3.6-1.5z"/>
<path color="#ff9700" d="M107.3 45.7l3.7 1.9 2.4-2-3.7-1.9z"/>
<path color="#ff9800" d="M109.7 43.7l3.7 1.9 2.4-1.9-3.7-1.9z"/>
<path class="m" d="M103.6 44.2l3.7 1.5 3.7 1.9 2.4-2 2.4-1.9-3.7-1.9-3.6-1.5-2.4 1.9z"/>
<path color="#ffc600" d="M164.7 103.7l1.9 1.3 1.1-1.2-1.9-1.3z"/>
<path color="#ffc600" d="M165.8 102.5l1.9 1.3 1-1.2-1.9-1.2z"/>
<path color="#ffc600" d="M166.8 101.4l1.9 1.2 1-1.2-1.9-1.2z"/>
<path color="#ffc600" d="M167.8 100.2l1.9 1.2 1-1.2-1.9-1.2z"/>
<path color="#ffc100" d="M166.6 105l1.9 1.1 1.1-1.2-1.9-1.1z"/>
<path color="#ffc100" d="M167.7 103.8l1.9 1.1 1-1.2-1.9-1.1z"/>
<path color="#ffc000" d="M168.7 102.6l1.9 1.1 1-1.1-1.9-1.2z"/>
<path color="#ffc000" d="M169.7 101.4l1.9 1.2 1-1.2-1.9-1.2z"/>
<path color="#ffba00" d="M168.5 106.1l2 1.1 1-1.2-1.9-1.1z"/>
<path color="#ffb900" d="M169.6 104.9l1.9 1.1 1-1.2-1.9-1.1z"/>
<path color="#ffb900" d="M170.6 103.7l1.9 1.1 1-1.2-1.9-1z"/>
<path color="#ffb900" d="M171.6 102.6l1.9 1 1-1.1-1.9-1.1z"/>
<path color="#ffb100" d="M170.5 107.2l1.9 1.1 1-1.3-1.9-1z"/>
<path color="#ffb100" d="M171.5 106l1.9 1 1-1.2-1.9-1z"/>
<path color="#ffb100" d="M172.5 104.8l1.9 1 1-1.1-1.9-1.1z"/>
<path color="#ffb100" d="M173.5 103.6l1.9 1.1 1-1.2-1.9-1z"/>
<path class="m" d="M164.7 103.7l3.8 2.4 3.9 2.2 2-2.5 2-2.3-3.8-2.1-3.8-2.4-2 2.4z"/>
<path color="#ffd303" d="M141.8 79.4l7.7 9.4 4.3-4.3-7.6-9.3z"/>
<path class="m" d="M141.8 79.4l3.9 4.7 3.8 4.7 2.2-2.2 2.1-2.1-3.8-4.7-3.8-4.6-2.2 2.1z"/>
<path color="#ffa700" d="M172.4 108.3l1.9 .9 1-1.2-1.9-1z"/>
<path color="#ffa700" d="M173.4 107l1.9 1 1-1.2-1.9-1z"/>
<path color="#ffa700" d="M174.4 105.8l1.9 1 1-1.2-1.9-.9z"/>
<path color="#ffa700" d="M175.4 104.7l1.9 .9 1-1.2-1.9-.9z"/>
<path color="#ff9e00" d="M174.3 109.2l1.9 .8 1-1.2-1.9-.8z"/>
<path color="#ff9e00" d="M175.3 108l1.9 .8 1-1.2-1.9-.8z"/>
<path color="#ff9e00" d="M176.3 106.8l1.9 .8 1-1.2-1.9-.8z"/>
<path color="#ff9e00" d="M177.3 105.6l1.9 .8 1-1.2-1.9-.8z"/>
<path color="#ff9600" d="M176.2 110l2 .8 1-1.3-2-.7z"/>
<path color="#ff9600" d="M177.2 108.8l2 .7 1-1.2-2-.7z"/>
<path color="#ff9600" d="M178.2 107.6l2 .7 .9-1.2-1.9-.7z"/>
<path color="#ff9600" d="M179.2 106.4l1.9 .7 1-1.2-1.9-.7z"/>
<path color="#fe8f00" d="M178.2 110.8l1.9 .6 1-1.2-1.9-.7z"/>
<path color="#fe8f00" d="M179.2 109.5l1.9 .7 1-1.3-1.9-.6z"/>
<path color="#fe8f00" d="M180.2 108.3l1.9 .6 1-1.2-2-.6z"/>
<path color="#fe8f00" d="M181.1 107.1l2 .6 1-1.2-2-.6z"/>
<path class="m" d="M172.4 108.3l3.8 1.7 3.9 1.4 2-2.5 2-2.4-3.9-1.3-3.8-1.7-2 2.3z"/>
<path color="#f78100" d="M91.2 45.9l3.7 1.1 2.5-2-3.6-1.1z"/>
<path color="#f78100" d="M93.8 43.9l3.6 1.1 2.6-2-3.6-1.1z"/>
<path color="#fb8600" d="M94.9 47l3.6 1.3 2.6-2-3.7-1.3z"/>
<path color="#fb8600" d="M97.4 45l3.7 1.3 2.5-2.1-3.6-1.2z"/>
<path class="m" d="M91.2 45.9l3.7 1.1 3.6 1.3 2.6-2 2.5-2.1-3.6-1.2-3.6-1.1-2.6 2z"/>
<path color="#ffd303" d="M134.1 69.7l7.7 9.7 4.4-4.2-7.6-9.5z"/>
<path class="m" d="M134.1 69.7l3.8 4.9 3.9 4.8 2.2-2.1 2.2-2.1-3.8-4.7-3.8-4.8-2.2 2z"/>
<path color="#ffa100" d="M111 47.6l1.8 1.1 1.3-1-1.9-1.1z"/>
<path color="#ffa200" d="M112.2 46.6l1.9 1.1 1.2-1-1.9-1.1z"/>
<path color="#ffa300" d="M113.4 45.6l1.9 1.1 1.2-.9-1.9-1.1z"/>
<path color="#ffa400" d="M114.6 44.7l1.9 1.1 1.2-1-1.9-1.1z"/>
<path color="#ffac00" d="M112.8 48.7l1.9 1.2 1.3-1-1.9-1.2z"/>
<path color="#ffad00" d="M114.1 47.7l1.9 1.2 1.2-1-1.9-1.2z"/>
<path color="#ffae00" d="M115.3 46.7l1.9 1.2 1.2-.9-1.9-1.2z"/>
<path color="#ffaf00" d="M116.5 45.8l1.9 1.2 1.2-1-1.9-1.2z"/>
<path color="#ffb900" d="M114.7 49.9l1.9 1.3 1.2-.9-1.8-1.4z"/>
<path color="#ffba00" d="M116 48.9l1.8 1.4 1.2-1-1.8-1.4z"/>
<path color="#ffbb00" d="M117.2 47.9l1.8 1.4 1.2-1-1.8-1.3z"/>
<path color="#ffbc00" d="M118.4 47l1.8 1.3 1.2-.9-1.8-1.4z"/>
<path color="#ffc400" d="M116.6 51.2l1.9 1.5 1.2-1-1.9-1.4z"/>
<path color="#ffc400" d="M117.8 50.3l1.9 1.4 1.2-.9-1.9-1.5z"/>
<path color="#ffc500" d="M119 49.3l1.9 1.5 1.2-1-1.9-1.5z"/>
<path color="#ffc500" d="M120.2 48.3l1.9 1.5 1.2-1-1.9-1.4z"/>
<path class="m" d="M111 47.6l3.7 2.3 3.8 2.8 2.4-1.9 2.4-2-3.7-2.8-3.8-2.3-2.4 1.9z"/>
<path color="#bc5601" d="M203.7 102.1l2.1-.5 .9-1.2-2.1 .5z"/>
<path color="#bc5601" d="M204.6 100.9l2.1-.5 .9-1.2-2.1 .5z"/>
<path color="#bc5601" d="M205.5 99.7l2.1-.5 .9-1.2-2.1 .5z"/>
<path color="#bc5601" d="M206.4 98.5l2.1-.5 .9-1.2-2.1 .6z"/>
<path color="#b55202" d="M205.8 101.6l2.1-.8 .9-1.2-2.1 .8z"/>
<path color="#b55202" d="M206.7 100.4l2.1-.8 .9-1.2-2.1 .8z"/>
<path color="#b55202" d="M207.6 99.2l2.1-.8 .9-1.1-2.1 .7z"/>
<path color="#b55202" d="M208.5 98l2.1-.7 .8-1.2-2 .7z"/>
<path color="#ad4f02" d="M207.9 100.8l2.1-.8 .9-1.2-2.1 .8z"/>
<path color="#ad4f02" d="M208.8 99.6l2.1-.8 .9-1.2-2.1 .8z"/>
<path color="#ad4f02" d="M209.7 98.4l2.1-.8 .9-1.2-2.1 .9z"/>
<path color="#ae4f02" d="M210.6 97.3l2.1-.9 .9-1.2-2.2 .9z"/>
<path color="#a54a02" d="M210 100l2.2-1.1 .9-1.2-2.2 1.1z"/>
<path color="#a54a02" d="M210.9 98.8l2.2-1.1 .8-1.2-2.1 1.1z"/>
<path color="#a64b02" d="M211.8 97.6l2.1-1.1 .9-1.2-2.1 1.1z"/>
<path color="#a64b02" d="M212.7 96.4l2.1-1.1 .9-1.2-2.1 1.1z"/>
<path class="m" d="M203.7 102.1l4.2-1.3 4.3-1.9 1.7-2.4 1.8-2.4-4.3 2-4.1 1.3-1.8 2.3z"/>
<path color="#e16b00" d="M191.9 107.7l2 0 1-1.2-2 0z"/>
<path color="#e16b00" d="M192.9 106.5l2 0 .9-1.2-2 0z"/>
<path color="#e16b00" d="M193.8 105.3l2 0 .9-1.2-2 0z"/>
<path color="#e16c00" d="M194.7 104.1l2 0 .9-1.2-1.9 0z"/>
<path color="#d76500" d="M193.9 107.7l2-.1 1-1.2-2 .1z"/>
<path color="#d76500" d="M194.9 106.5l2-.1 .9-1.2-2 .1z"/>
<path color="#d86500" d="M195.8 105.3l2-.1 .9-1.2-2 .1z"/>
<path color="#d86500" d="M196.7 104.1l2-.1 1-1.2-2.1 .1z"/>
<path color="#cd5f01" d="M195.9 107.6l2.1-.2 .9-1.3-2 .3z"/>
<path color="#ce5f01" d="M196.9 106.4l2-.3 .9-1.2-2 .3z"/>
<path color="#ce6001" d="M197.8 105.2l2-.3 1-1.2-2.1 .3z"/>
<path color="#ce6001" d="M198.7 104l2.1-.3 .9-1.2-2 .3z"/>
<path color="#c45a01" d="M198 107.4l2-.4 1-1.3-2.1 .4z"/>
<path color="#c55a01" d="M198.9 106.1l2.1-.4 .9-1.2-2.1 .4z"/>
<path color="#c55a01" d="M199.8 104.9l2.1-.4 .9-1.2-2 .4z"/>
<path color="#c55a01" d="M200.8 103.7l2-.4 .9-1.2-2 .4z"/>
<path class="m" d="M191.9 107.7l4-.1 4.1-.6 1.9-2.5 1.8-2.4-4 .7-4 .1-1.9 2.4z"/>
<path color="#9e4603" d="M215.7 94.1l2.2-1.2 .8-1.2-2.1 1.3z"/>
<path color="#9e4603" d="M216.6 93l2.1-1.3 .9-1.1-2.2 1.2z"/>
<path color="#9e4703" d="M217.4 91.8l2.2-1.2 .8-1.2-2.1 1.3z"/>
<path color="#9e4703" d="M218.3 90.7l2.1-1.3 .9-1.1-2.2 1.2z"/>
<path color="#964203" d="M217.9 92.9l2.2-1.4 .8-1.2-2.2 1.4z"/>
<path color="#964203" d="M218.7 91.7l2.2-1.4 .9-1.1-2.2 1.4z"/>
<path color="#974203" d="M219.6 90.6l2.2-1.4 .8-1.2-2.2 1.4z"/>
<path color="#974303" d="M220.4 89.4l2.2-1.4 .9-1.1-2.2 1.4z"/>
<path color="#8d3e03" d="M220.1 91.5l2.2-1.6 .9-1.1-2.3 1.5z"/>
<path color="#8e3e03" d="M220.9 90.3l2.3-1.5 .8-1.2-2.2 1.6z"/>
<path color="#8e3e03" d="M221.8 89.2l2.2-1.6 .9-1.1-2.3 1.5z"/>
<path color="#8e3e03" d="M222.6 88l2.3-1.5 .8-1.1-2.2 1.5z"/>
<path color="#853a04" d="M222.3 89.9l2.3-1.6 .8-1.2-2.2 1.7z"/>
<path color="#863a04" d="M223.2 88.8l2.2-1.7 .9-1.1-2.3 1.6z"/>
<path color="#863a04" d="M224 87.6l2.3-1.6 .8-1.2-2.2 1.7z"/>
<path color="#863a04" d="M224.9 86.5l2.2-1.7 .9-1.1-2.3 1.7z"/>
<path class="m" d="M215.7 94.1l4.4-2.6 4.5-3.2 1.7-2.3 1.7-2.3-4.5 3.2-4.4 2.6-1.7 2.3z"/>
<path color="#ffd203" d="M126.3 60.2l7.8 9.5 4.5-4-7.7-9.4z"/>
<path class="m" d="M126.3 60.2l3.9 4.6 3.9 4.9 2.3-2 2.2-2-3.8-4.8-3.9-4.6-2.3 2z"/>
<path color="#ffcb01" d="M118.5 52.7l3.9 3.5 2.4-2-3.9-3.4z"/>
<path color="#ffcb01" d="M120.9 50.8l3.9 3.4 2.3-1.9-3.8-3.5z"/>
<path color="#ffd002" d="M122.4 56.2l3.9 4 2.3-1.9-3.8-4.1z"/>
<path color="#ffd002" d="M124.8 54.2l3.8 4.1 2.3-2-3.8-4z"/>
<path class="m" d="M118.5 52.7l3.9 3.5 3.9 4 2.3-1.9 2.3-2-3.8-4-3.8-3.5-2.4 2z"/>
<path color="#fc8900" d="M180.1 111.4l2 .5 1-1.3-2-.4z"/>
<path color="#fc8900" d="M181.1 110.2l2 .4 1-1.2-2-.5z"/>
<path color="#fc8900" d="M182.1 108.9l2 .5 .9-1.2-1.9-.5z"/>
<path color="#fc8900" d="M183.1 107.7l1.9 .5 1-1.2-1.9-.5z"/>
<path color="#f78100" d="M182.1 111.9l2 .4 1-1.3-2-.4z"/>
<path color="#f78100" d="M183.1 110.6l2 .4 .9-1.2-1.9-.4z"/>
<path color="#f78100" d="M184.1 109.4l1.9 .4 1-1.2-2-.4z"/>
<path color="#f78100" d="M185 108.2l2 .4 1-1.2-2-.4z"/>
<path color="#f17900" d="M184.1 112.3l2 .2 .9-1.2-1.9-.3z"/>
<path color="#f17900" d="M185.1 111l1.9 .3 1-1.3-2-.2z"/>
<path color="#f17900" d="M186 109.8l2 .2 1-1.2-2-.2z"/>
<path color="#f17900" d="M187 108.6l2 .2 .9-1.2-1.9-.2z"/>
<path color="#ea7200" d="M186.1 112.5l2 .2 .9-1.3-2-.1z"/>
<path color="#ea7200" d="M187 111.3l2 .1 1-1.2-2-.2z"/>
<path color="#ea7200" d="M188 110l2 .2 1-1.2-2-.2z"/>
<path color="#e97200" d="M189 108.8l2 .2 .9-1.3-2-.1z"/>
<path class="m" d="M180.1 111.4l4 .9 4 .4 1.9-2.5 1.9-2.5-3.9-.3-3.9-.9-2 2.4z"/>
<path color="#ffcf02" d="M152.8 102.4l3.9 3.3 2.1-2.4-3.8-3.3z"/>
<path color="#ffcf02" d="M155 100l3.8 3.3 2.1-2.4-3.8-3.3z"/>
<path color="#ffca01" d="M156.7 105.7l3.8 2.8 2.1-2.4-3.8-2.8z"/>
<path color="#ffca01" d="M158.8 103.3l3.8 2.8 2.1-2.4-3.8-2.8z"/>
<path class="m" d="M152.8 102.4l3.9 3.3 3.8 2.8 2.1-2.4 2.1-2.4-3.8-2.8-3.8-3.3-2.1 2.4z"/>
<path color="#833804" d="M228 83.7l4.6-3.4 1.6-2.3-4.6 3.5z"/>
<path color="#833804" d="M229.6 81.5l4.6-3.5 1.6-2.2-4.5 3.5z"/>
<path color="#873a04" d="M232.6 80.3l4.6-3.4 1.7-2.2-4.7 3.3z"/>
<path color="#863a04" d="M234.2 78l4.7-3.3 1.6-2.3-4.7 3.4z"/>
<path class="m" d="M228 83.7l4.6-3.4 4.6-3.4 1.7-2.2 1.6-2.3-4.7 3.4-4.5 3.5-1.7 2.2z"/>
<path color="#ffd303" d="M145.1 93.3l7.7 9.1 4.3-4.8-7.6-8.8z"/>
<path class="m" d="M145.1 93.3l3.9 4.9 3.8 4.2 2.2-2.4 2.1-2.4-3.8-4.1-3.8-4.7-2.2 2.2z"/>
<path color="#fe8d00" d="M98.5 48.3l3.7 1.5 2.6-2-3.7-1.5z"/>
<path color="#fe8d00" d="M101.1 46.3l3.7 1.5 2.5-2.1-3.7-1.5z"/>
<path color="#ff9600" d="M102.2 49.8l3.8 1.9 2.5-2.1-3.7-1.8z"/>
<path color="#ff9700" d="M104.8 47.8l3.7 1.8 2.5-2-3.7-1.9z"/>
<path class="m" d="M98.5 48.3l3.7 1.5 3.8 1.9 2.5-2.1 2.5-2-3.7-1.9-3.7-1.5-2.5 2.1z"/>
<path color="#ffc500" d="M160.5 108.5l2 1.3 1-1.2-1.9-1.3z"/>
<path color="#ffc500" d="M161.6 107.3l1.9 1.3 1.1-1.2-2-1.3z"/>
<path color="#ffc600" d="M162.6 106.1l2 1.3 1-1.2-1.9-1.3z"/>
<path color="#ffc600" d="M163.7 104.9l1.9 1.3 1-1.2-1.9-1.3z"/>
<path color="#ffc100" d="M162.5 109.8l1.9 1.2 1-1.2-1.9-1.2z"/>
<path color="#ffc100" d="M163.5 108.6l1.9 1.2 1.1-1.3-1.9-1.1z"/>
<path color="#ffc100" d="M164.6 107.4l1.9 1.1 1-1.2-1.9-1.1z"/>
<path color="#ffc100" d="M165.6 106.2l1.9 1.1 1-1.2-1.9-1.1z"/>
<path color="#ffba00" d="M164.4 111l1.9 1.1 1.1-1.2-2-1.1z"/>
<path color="#ffba00" d="M165.4 109.8l2 1.1 1-1.2-1.9-1.2z"/>
<path color="#ffba00" d="M166.5 108.5l1.9 1.2 1-1.3-1.9-1.1z"/>
<path color="#ffba00" d="M167.5 107.3l1.9 1.1 1.1-1.2-2-1.1z"/>
<path color="#ffb200" d="M166.3 112.1l2 1.1 1-1.3-1.9-1z"/>
<path color="#ffb200" d="M167.4 110.9l1.9 1 1-1.2-1.9-1z"/>
<path color="#ffb200" d="M168.4 109.7l1.9 1 1.1-1.2-2-1.1z"/>
<path color="#ffb200" d="M169.4 108.4l2 1.1 1-1.2-1.9-1.1z"/>
<path class="m" d="M160.5 108.5l3.9 2.5 3.9 2.2 2-2.5 2.1-2.4-3.9-2.2-3.8-2.4-2.1 2.4z"/>
<path color="#ffd303" d="M137.3 83.7l7.8 9.6 4.4-4.5-7.7-9.4z"/>
<path class="m" d="M137.3 83.7l3.9 4.7 3.9 4.9 2.2-2.3 2.2-2.2-3.8-4.7-3.9-4.7-2.2 2.1z"/>
<path color="#ffa800" d="M168.3 113.2l1.9 .9 1-1.2-1.9-1z"/>
<path color="#ffa800" d="M169.3 111.9l1.9 1 1.1-1.2-2-1z"/>
<path color="#ffa800" d="M170.3 110.7l2 1 1-1.3-1.9-.9z"/>
<path color="#ffa800" d="M171.4 109.5l1.9 .9 1-1.2-1.9-.9z"/>
<path color="#ff9f00" d="M170.2 114.1l2 .9 1-1.3-2-.8z"/>
<path color="#ff9e00" d="M171.2 112.9l2 .8 1-1.2-1.9-.8z"/>
<path color="#ff9e00" d="M172.3 111.7l1.9 .8 1-1.2-1.9-.9z"/>
<path color="#ff9e00" d="M173.3 110.4l1.9 .9 1-1.3-1.9-.8z"/>
<path color="#ff9700" d="M172.2 115l1.9 .8 1.1-1.3-2-.8z"/>
<path color="#ff9600" d="M173.2 113.7l2 .8 1-1.3-2-.7z"/>
<path color="#ff9600" d="M174.2 112.5l2 .7 1-1.2-2-.7z"/>
<path color="#ff9600" d="M175.2 111.3l2 .7 1-1.2-2-.8z"/>
<path color="#fe9000" d="M174.1 115.8l2 .6 1-1.3-1.9-.6z"/>
<path color="#fe9000" d="M175.2 114.5l1.9 .6 1-1.2-1.9-.7z"/>
<path color="#fe9000" d="M176.2 113.2l1.9 .7 1-1.3-1.9-.6z"/>
<path color="#fe8f00" d="M177.2 112l1.9 .6 1-1.2-1.9-.6z"/>
<path class="m" d="M168.3 113.2l3.9 1.8 3.9 1.4 2-2.5 2-2.5-3.9-1.4-3.8-1.7-2.1 2.4z"/>
<path color="#f78100" d="M86 50l3.6 1.2 2.7-2.1-3.7-1.2z"/>
<path color="#f78100" d="M88.6 47.9l3.7 1.2 2.6-2.1-3.7-1.1z"/>
<path color="#fa8600" d="M89.6 51.2l3.7 1.3 2.6-2.1-3.6-1.3z"/>
<path color="#fa8600" d="M92.3 49.1l3.6 1.3 2.6-2.1-3.6-1.3z"/>
<path class="m" d="M86 50l3.6 1.2 3.7 1.3 2.6-2.1 2.6-2.1-3.6-1.3-3.7-1.1-2.6 2z"/>
<path color="#ffd303" d="M129.4 73.9l7.9 9.8 4.5-4.3-7.7-9.7z"/>
<path class="m" d="M129.4 73.9l3.9 4.9 4 4.9 2.3-2.2 2.2-2.1-3.9-4.8-3.8-4.9-2.4 2.1z"/>
<path color="#ff9f00" d="M106 51.7l1.9 1 1.2-1-1.9-1.1z"/>
<path color="#ff9f00" d="M107.2 50.6l1.9 1.1 1.3-1-1.9-1.1z"/>
<path color="#ffa000" d="M108.5 49.6l1.9 1.1 1.2-1-1.9-1.1z"/>
<path color="#ffa100" d="M109.7 48.6l1.9 1.1 1.2-1-1.8-1.1z"/>
<path color="#ffa800" d="M107.9 52.7l1.9 1.2 1.2-1-1.9-1.2z"/>
<path color="#ffa900" d="M109.1 51.7l1.9 1.2 1.3-1-1.9-1.2z"/>
<path color="#ffaa00" d="M110.4 50.7l1.9 1.2 1.2-1-1.9-1.2z"/>
<path color="#ffab00" d="M111.6 49.7l1.9 1.2 1.2-1-1.9-1.2z"/>
<path color="#ffb600" d="M109.8 53.9l1.9 1.3 1.2-1-1.9-1.3z"/>
<path color="#ffb600" d="M111 52.9l1.9 1.3 1.3-1-1.9-1.3z"/>
<path color="#ffb700" d="M112.3 51.9l1.9 1.3 1.2-1-1.9-1.3z"/>
<path color="#ffb800" d="M113.5 50.9l1.9 1.3 1.2-1-1.9-1.3z"/>
<path color="#ffc200" d="M111.7 55.2l1.9 1.5 1.3-1-2-1.5z"/>
<path color="#ffc200" d="M112.9 54.2l2 1.5 1.2-1-1.9-1.5z"/>
<path color="#ffc200" d="M114.2 53.2l1.9 1.5 1.2-1-1.9-1.5z"/>
<path color="#ffc300" d="M115.4 52.2l1.9 1.5 1.2-1-1.9-1.5z"/>
<path class="m" d="M106 51.7l3.8 2.2 3.8 2.8 2.5-2 2.4-2-3.8-2.8-3.7-2.3-2.5 2z"/>
<path color="#bc5601" d="M200 107l2.1-.6 .9-1.2-2 .5z"/>
<path color="#bc5601" d="M201 105.7l2-.5 1-1.2-2.1 .5z"/>
<path color="#bc5601" d="M201.9 104.5l2.1-.5 .9-1.2-2.1 .5z"/>
<path color="#bc5601" d="M202.8 103.3l2.1-.5 .9-1.2-2.1 .5z"/>
<path color="#b55202" d="M202.1 106.4l2.1-.7 .9-1.2-2.1 .7z"/>
<path color="#b55202" d="M203 105.2l2.1-.7 1-1.2-2.1 .7z"/>
<path color="#b55202" d="M204 104l2.1-.7 .9-1.3-2.1 .8z"/>
<path color="#b55202" d="M204.9 102.8l2.1-.8 .9-1.2-2.1 .8z"/>
<path color="#ad4f02" d="M204.2 105.7l2.2-.9 .9-1.2-2.2 .9z"/>
<path color="#ad4f02" d="M205.1 104.5l2.2-.9 .9-1.2-2.1 .9z"/>
<path color="#ad4f02" d="M206.1 103.3l2.1-.9 .9-1.2-2.1 .8z"/>
<path color="#ad4f02" d="M207 102l2.1-.8 .9-1.2-2.1 .8z"/>
<path color="#a54a02" d="M206.4 104.8l2.1-1 .9-1.3-2.1 1.1z"/>
<path color="#a54a02" d="M207.3 103.6l2.1-1.1 1-1.2-2.2 1.1z"/>
<path color="#a54a02" d="M208.2 102.4l2.2-1.1 .9-1.2-2.2 1.1z"/>
<path color="#a54a02" d="M209.1 101.2l2.2-1.1 .9-1.2-2.2 1.1z"/>
<path class="m" d="M200 107l4.2-1.3 4.3-1.9 1.9-2.5 1.8-2.4-4.3 1.9-4.2 1.3-1.8 2.4z"/>
<path color="#e16c00" d="M188.1 112.7l2 0 .9-1.2-2-.1z"/>
<path color="#e16c00" d="M189 111.4l2 .1 1-1.3-2 0z"/>
<path color="#e16c00" d="M190 110.2l2 0 1-1.2-2 0z"/>
<path color="#e16c00" d="M191 109l2 0 .9-1.3-2 0z"/>
<path color="#d86500" d="M190.1 112.7l2-.1 1-1.2-2.1 .1z"/>
<path color="#d86500" d="M191 111.5l2.1-.1 .9-1.3-2 .1z"/>
<path color="#d86500" d="M192 110.2l2-.1 1-1.2-2 .1z"/>
<path color="#d86500" d="M193 109l2-.1 .9-1.3-2 .1z"/>
<path color="#ce5f01" d="M192.1 112.6l2.1-.2 .9-1.3-2 .3z"/>
<path color="#ce5f01" d="M193.1 111.4l2-.3 1-1.2-2.1 .2z"/>
<path color="#cd5f01" d="M194 110.1l2.1-.2 .9-1.3-2 .3z"/>
<path color="#cd5f01" d="M195 108.9l2-.3 1-1.2-2.1 .2z"/>
<path color="#c45a01" d="M194.2 112.4l2-.4 1-1.3-2.1 .4z"/>
<path color="#c45a01" d="M195.1 111.1l2.1-.4 1-1.2-2.1 .4z"/>
<path color="#c45a01" d="M196.1 109.9l2.1-.4 .9-1.3-2.1 .4z"/>
<path color="#c45a01" d="M197 108.6l2.1-.4 .9-1.2-2 .4z"/>
<path class="m" d="M188.1 112.7l4-.1 4.1-.6 2-2.5 1.8-2.5-4.1 .6-4 .1-1.9 2.5z"/>
<path color="#ffd203" d="M121.5 64.3l7.9 9.6 4.7-4.2-7.8-9.5z"/>
<path class="m" d="M121.5 64.3l3.9 4.6 4 5 2.3-2.1 2.4-2.1-3.9-4.9-3.9-4.6-2.4 2z"/>
<path color="#ffcb01" d="M113.6 56.7l3.9 3.4 2.5-2-3.9-3.4z"/>
<path color="#ffcb01" d="M116.1 54.7l3.9 3.4 2.4-1.9-3.9-3.5z"/>
<path color="#ffd002" d="M117.5 60.1l4 4.2 2.4-2.1-3.9-4.1z"/>
<path color="#ffd002" d="M120 58.1l3.9 4.1 2.4-2-3.9-4z"/>
<path class="m" d="M113.6 56.7l3.9 3.4 4 4.2 2.4-2.1 2.4-2-3.9-4-3.9-3.5-2.4 2z"/>
<path color="#9d4603" d="M212.2 98.9l2.1-1.2 .9-1.2-2.1 1.2z"/>
<path color="#9e4603" d="M213.1 97.7l2.1-1.2 .9-1.2-2.2 1.2z"/>
<path color="#9e4603" d="M213.9 96.5l2.2-1.2 .9-1.2-2.2 1.2z"/>
<path color="#9e4603" d="M214.8 95.3l2.2-1.2 .9-1.2-2.2 1.2z"/>
<path color="#954203" d="M214.3 97.7l2.3-1.5 .9-1.2-2.3 1.5z"/>
<path color="#954203" d="M215.2 96.5l2.3-1.5 .8-1.1-2.2 1.4z"/>
<path color="#964203" d="M216.1 95.3l2.2-1.4 .9-1.2-2.2 1.4z"/>
<path color="#964203" d="M217 94.1l2.2-1.4 .9-1.2-2.2 1.4z"/>
<path color="#8c3d03" d="M216.6 96.2l2.2-1.5 .9-1.2-2.2 1.5z"/>
<path color="#8c3d03" d="M217.5 95l2.2-1.5 .9-1.2-2.3 1.6z"/>
<path color="#8d3d03" d="M218.3 93.9l2.3-1.6 .8-1.2-2.2 1.6z"/>
<path color="#8d3d03" d="M219.2 92.7l2.2-1.6 .9-1.2-2.2 1.6z"/>
<path color="#843904" d="M218.8 94.7l2.3-1.7 .9-1.2-2.3 1.7z"/>
<path color="#853904" d="M219.7 93.5l2.3-1.7 .9-1.2-2.3 1.7z"/>
<path color="#853904" d="M220.6 92.3l2.3-1.7 .8-1.2-2.3 1.7z"/>
<path color="#853a04" d="M221.4 91.1l2.3-1.7 .9-1.1-2.3 1.6z"/>
<path class="m" d="M212.2 98.9l4.4-2.7 4.5-3.2 1.8-2.4 1.7-2.3-4.5 3.2-4.4 2.6-1.8 2.4z"/>
<path color="#ffcf02" d="M148.4 107.2l3.9 3.5 2.2-2.5-3.9-3.4z"/>
<path color="#ffcf02" d="M150.6 104.8l3.9 3.4 2.2-2.5-3.9-3.3z"/>
<path color="#ffca01" d="M152.3 110.7l3.9 2.8 2.2-2.5-3.9-2.8z"/>
<path color="#ffca01" d="M154.5 108.2l3.9 2.8 2.1-2.5-3.8-2.8z"/>
<path class="m" d="M148.4 107.2l3.9 3.5 3.9 2.8 2.2-2.5 2.1-2.5-3.8-2.8-3.9-3.3-2.2 2.4z"/>
<path color="#fc8900" d="M176.1 116.4l2 .5 1-1.3-2-.5z"/>
<path color="#fc8900" d="M177.1 115.1l2 .5 1-1.2-2-.5z"/>
<path color="#fc8900" d="M178.1 113.9l2 .5 1-1.3-2-.5z"/>
<path color="#fc8900" d="M179.1 112.6l2 .5 1-1.2-2-.5z"/>
<path color="#f88200" d="M178.1 116.9l2 .4 1-1.3-2-.4z"/>
<path color="#f78100" d="M179.1 115.6l2 .4 1-1.2-2-.4z"/>
<path color="#f78100" d="M180.1 114.4l2 .4 1-1.3-2-.4z"/>
<path color="#f78100" d="M181.1 113.1l2 .4 1-1.2-2-.4z"/>
<path color="#f17900" d="M180.1 117.3l2 .3 1-1.3-2-.3z"/>
<path color="#f17900" d="M181.1 116l2 .3 1-1.3-2-.2z"/>
<path color="#f17900" d="M182.1 114.8l2 .2 1-1.2-2-.3z"/>
<path color="#f17900" d="M183.1 113.5l2 .3 1-1.3-2-.2z"/>
<path color="#ea7200" d="M182.1 117.6l2 .2 1-1.3-2-.2z"/>
<path color="#ea7200" d="M183.1 116.3l2 .2 1-1.3-2-.2z"/>
<path color="#ea7200" d="M184.1 115l2 .2 1-1.3-2-.1z"/>
<path color="#ea7200" d="M185.1 113.8l2 .1 1-1.2-2-.2z"/>
<path class="m" d="M176.1 116.4l4 .9 4 .5 2-2.6 2-2.5-4-.4-4-.9-2 2.5z"/>
<path color="#ffd303" d="M140.5 97.9l7.9 9.3 4.4-4.8-7.7-9.1z"/>
<path class="m" d="M140.5 97.9l4 5 3.9 4.3 2.2-2.4 2.2-2.4-3.8-4.2-3.9-4.9-2.3 2.3z"/>
<path color="#fd8c00" d="M93.3 52.5l3.8 1.5 2.6-2.1-3.8-1.5z"/>
<path color="#fd8d00" d="M95.9 50.4l3.8 1.5 2.5-2.1-3.7-1.5z"/>
<path color="#ff9400" d="M97.1 54l3.7 1.8 2.6-2.1-3.7-1.8z"/>
<path color="#ff9500" d="M99.7 51.9l3.7 1.8 2.6-2-3.8-1.9z"/>
<path class="m" d="M93.3 52.5l3.8 1.5 3.7 1.8 2.6-2.1 2.6-2-3.8-1.9-3.7-1.5-2.6 2.1z"/>
<path color="#ffc500" d="M156.2 113.5l2 1.3 1-1.3-1.9-1.2z"/>
<path color="#ffc500" d="M157.3 112.3l1.9 1.2 1.1-1.2-1.9-1.3z"/>
<path color="#ffc500" d="M158.4 111l1.9 1.3 1.1-1.3-1.9-1.2z"/>
<path color="#ffc500" d="M159.5 109.8l1.9 1.2 1.1-1.2-2-1.3z"/>
<path color="#ffc000" d="M158.2 114.8l1.9 1.2 1.1-1.3-2-1.2z"/>
<path color="#ffc000" d="M159.2 113.5l2 1.2 1.1-1.2-2-1.2z"/>
<path color="#ffc000" d="M160.3 112.3l2 1.2 1-1.3-1.9-1.2z"/>
<path color="#ffc000" d="M161.4 111l1.9 1.2 1.1-1.2-1.9-1.2z"/>
<path color="#ffba00" d="M160.1 116l2 1.1 1.1-1.2-2-1.2z"/>
<path color="#ffba00" d="M161.2 114.7l2 1.2 1-1.3-1.9-1.1z"/>
<path color="#ffba00" d="M162.3 113.5l1.9 1.1 1.1-1.2-2-1.2z"/>
<path color="#ffba00" d="M163.3 112.2l2 1.2 1-1.3-1.9-1.1z"/>
<path color="#ffb200" d="M162.1 117.1l1.9 1.1 1.1-1.3-1.9-1z"/>
<path color="#ffb200" d="M163.2 115.9l1.9 1 1.1-1.2-2-1.1z"/>
<path color="#ffb200" d="M164.2 114.6l2 1.1 1-1.3-1.9-1z"/>
<path color="#ffb200" d="M165.3 113.4l1.9 1 1.1-1.2-2-1.1z"/>
<path class="m" d="M156.2 113.5l3.9 2.5 3.9 2.2 2.2-2.5 2.1-2.5-3.9-2.2-3.9-2.5-2.1 2.5z"/>
<path color="#823804" d="M224.6 88.3l4.6-3.5 1.7-2.3-4.6 3.5z"/>
<path color="#823804" d="M226.3 86l4.6-3.5 1.7-2.2-4.6 3.4z"/>
<path color="#893b04" d="M229.2 84.8l4.7-3.2 1.7-2.4-4.7 3.3z"/>
<path color="#883b04" d="M230.9 82.5l4.7-3.3 1.6-2.3-4.6 3.4z"/>
<path class="m" d="M224.6 88.3l4.6-3.5 4.7-3.2 1.7-2.4 1.6-2.3-4.6 3.4-4.6 3.4-1.7 2.3z"/>
<path color="#ffd403" d="M132.6 88.1l7.9 9.8 4.6-4.6-7.8-9.6z"/>
<path class="m" d="M132.6 88.1l4 4.8 3.9 5 2.3-2.3 2.3-2.3-3.9-4.9-3.9-4.7-2.4 2.2z"/>
<path color="#f78100" d="M80.6 54.2l3.7 1.3 2.7-2.2-3.7-1.2z"/>
<path color="#f78100" d="M83.3 52.1l3.7 1.2 2.6-2.1-3.6-1.2z"/>
<path color="#fa8600" d="M84.3 55.5l3.7 1.3 2.7-2.2-3.7-1.3z"/>
<path color="#fa8600" d="M87 53.3l3.7 1.3 2.6-2.1-3.7-1.3z"/>
<path class="m" d="M80.6 54.2l3.7 1.3 3.7 1.3 2.7-2.2 2.6-2.1-3.7-1.3-3.6-1.2-2.7 2.1z"/>
<path color="#ffa800" d="M164 118.2l2 1 1.1-1.3-2-1z"/>
<path color="#ffa800" d="M165.1 116.9l2 1 1-1.2-1.9-1z"/>
<path color="#ffa800" d="M166.2 115.7l1.9 1 1.1-1.3-2-1z"/>
<path color="#ffa800" d="M167.2 114.4l2 1 1-1.3-1.9-.9z"/>
<path color="#ff9f00" d="M166 119.2l2 .9 1-1.3-1.9-.9z"/>
<path color="#ff9f00" d="M167.1 117.9l1.9 .9 1.1-1.3-2-.8z"/>
<path color="#ff9f00" d="M168.1 116.7l2 .8 1-1.2-1.9-.9z"/>
<path color="#ff9f00" d="M169.2 115.4l1.9 .9 1.1-1.3-2-.9z"/>
<path color="#ff9700" d="M168 120.1l2 .8 1-1.3-2-.8z"/>
<path color="#ff9700" d="M169 118.8l2 .8 1.1-1.3-2-.8z"/>
<path color="#ff9700" d="M170.1 117.5l2 .8 1-1.3-2-.7z"/>
<path color="#ff9700" d="M171.1 116.3l2 .7 1-1.2-1.9-.8z"/>
<path color="#fe9000" d="M170 120.9l2 .6 1-1.3-2-.6z"/>
<path color="#fe9000" d="M171 119.6l2 .6 1-1.3-1.9-.6z"/>
<path color="#fe9000" d="M172.1 118.3l1.9 .6 1.1-1.2-2-.7z"/>
<path color="#fe9000" d="M173.1 117l2 .7 1-1.3-2-.6z"/>
<path class="m" d="M164 118.2l4 1.9 4 1.4 2-2.6 2.1-2.5-3.9-1.4-3.9-1.8-2.1 2.5z"/>
<path color="#ff9c00" d="M100.8 55.8l2 1.1 1.3-1.1-2-1z"/>
<path color="#ff9d00" d="M102.1 54.8l2 1 1.2-1-1.9-1.1z"/>
<path color="#ff9d00" d="M103.4 53.7l1.9 1.1 1.3-1-1.9-1.1z"/>
<path color="#ff9e00" d="M104.7 52.7l1.9 1.1 1.3-1.1-1.9-1z"/>
<path color="#ffa500" d="M102.8 56.9l1.9 1.1 1.3-1-1.9-1.2z"/>
<path color="#ffa600" d="M104.1 55.8l1.9 1.2 1.3-1-2-1.2z"/>
<path color="#ffa700" d="M105.3 54.8l2 1.2 1.2-1.1-1.9-1.1z"/>
<path color="#ffa800" d="M106.6 53.8l1.9 1.1 1.3-1-1.9-1.2z"/>
<path color="#ffb200" d="M104.7 58l1.9 1.3 1.3-1-1.9-1.3z"/>
<path color="#ffb300" d="M106 57l1.9 1.3 1.3-1-1.9-1.3z"/>
<path color="#ffb400" d="M107.3 56l1.9 1.3 1.2-1.1-1.9-1.3z"/>
<path color="#ffb500" d="M108.5 54.9l1.9 1.3 1.3-1-1.9-1.3z"/>
<path color="#ffbf00" d="M106.6 59.3l2 1.5 1.3-1.1-2-1.4z"/>
<path color="#ffc000" d="M107.9 58.3l2 1.4 1.2-1-1.9-1.4z"/>
<path color="#ffc100" d="M109.2 57.3l1.9 1.4 1.3-1-2-1.5z"/>
<path color="#ffc100" d="M110.4 56.2l2 1.5 1.2-1-1.9-1.5z"/>
<path class="m" d="M100.8 55.8l3.9 2.2 3.9 2.8 2.5-2.1 2.5-2-3.8-2.8-3.8-2.2-2.6 2z"/>
<path color="#ffd303" d="M124.6 78.1l8 10 4.7-4.4-7.9-9.8z"/>
<path class="m" d="M124.6 78.1l4 5.1 4 4.9 2.3-2.2 2.4-2.2-4-4.9-3.9-4.9-2.4 2.1z"/>
<path color="#bc5601" d="M196.2 112l2.1-.6 1-1.2-2.1 .5z"/>
<path color="#bc5601" d="M197.2 110.7l2.1-.5 .9-1.3-2 .6z"/>
<path color="#bc5601" d="M198.2 109.5l2-.6 1-1.2-2.1 .5z"/>
<path color="#bc5601" d="M199.1 108.2l2.1-.5 .9-1.3-2.1 .6z"/>
<path color="#b45202" d="M198.3 111.4l2.2-.7 .9-1.2-2.1 .7z"/>
<path color="#b45202" d="M199.3 110.2l2.1-.7 1-1.3-2.2 .7z"/>
<path color="#b45202" d="M200.2 108.9l2.2-.7 .9-1.2-2.1 .7z"/>
<path color="#b55202" d="M201.2 107.7l2.1-.7 .9-1.3-2.1 .7z"/>
<path color="#ad4e02" d="M200.5 110.7l2.1-.8 1-1.3-2.2 .9z"/>
<path color="#ad4e02" d="M201.4 109.5l2.2-.9 .9-1.3-2.1 .9z"/>
<path color="#ad4e02" d="M202.4 108.2l2.1-.9 .9-1.2-2.1 .9z"/>
<path color="#ad4e02" d="M203.3 107l2.1-.9 1-1.3-2.2 .9z"/>
<path color="#a44a02" d="M202.6 109.9l2.2-1.1 .9-1.3-2.1 1.1z"/>
<path color="#a44a02" d="M203.6 108.6l2.1-1.1 1-1.2-2.2 1z"/>
<path color="#a54a02" d="M204.5 107.3l2.2-1 .9-1.3-2.2 1.1z"/>
<path color="#a54a02" d="M205.4 106.1l2.2-1.1 .9-1.2-2.1 1z"/>
<path class="m" d="M196.2 112l4.3-1.3 4.3-1.9 1.9-2.5 1.8-2.5-4.3 1.9-4.2 1.3-1.8 2.5z"/>
<path color="#e16c00" d="M184.1 117.8l2 0 1-1.3-2 0z"/>
<path color="#e16c00" d="M185.1 116.5l2 0 1-1.3-2 0z"/>
<path color="#e16c00" d="M186.1 115.2l2 0 1-1.2-2-.1z"/>
<path color="#e16c00" d="M187.1 113.9l2 .1 1-1.3-2 0z"/>
<path color="#d86500" d="M186.1 117.8l2.1-.1 1-1.3-2.1 .1z"/>
<path color="#d86500" d="M187.1 116.5l2.1-.1 1-1.3-2.1 .1z"/>
<path color="#d86500" d="M188.1 115.2l2.1-.1 .9-1.2-2 .1z"/>
<path color="#d86500" d="M189.1 114l2-.1 1-1.3-2 .1z"/>
<path color="#ce5f01" d="M188.2 117.7l2.1-.2 .9-1.3-2 .2z"/>
<path color="#ce6001" d="M189.2 116.4l2-.2 1-1.3-2 .2z"/>
<path color="#ce6001" d="M190.2 115.1l2-.2 1-1.3-2.1 .3z"/>
<path color="#ce5f01" d="M191.1 113.9l2.1-.3 1-1.2-2.1 .2z"/>
<path color="#c45a01" d="M190.3 117.5l2.1-.4 .9-1.3-2.1 .4z"/>
<path color="#c45a01" d="M191.2 116.2l2.1-.4 1-1.3-2.1 .4z"/>
<path color="#c45a01" d="M192.2 114.9l2.1-.4 1-1.2-2.1 .3z"/>
<path color="#c45a01" d="M193.2 113.6l2.1-.3 .9-1.3-2 .4z"/>
<path class="m" d="M184.1 117.8l4.1-.1 4.2-.6 1.9-2.6 1.9-2.5-4.1 .6-4 .1-2 2.5z"/>
<path color="#ffd203" d="M116.5 68.4l8.1 9.7 4.8-4.2-7.9-9.6z"/>
<path class="m" d="M116.5 68.4l4.1 4.7 4 5 2.4-2.1 2.4-2.1-4-5-3.9-4.6-2.5 2z"/>
<path color="#ffca01" d="M108.6 60.8l3.9 3.4 2.5-2-3.9-3.5z"/>
<path color="#ffca01" d="M111.1 58.7l3.9 3.5 2.5-2.1-3.9-3.4z"/>
<path color="#ffcf02" d="M112.5 64.2l4 4.2 2.5-2.1-4-4.1z"/>
<path color="#ffd002" d="M115 62.2l4 4.1 2.5-2-4-4.2z"/>
<path class="m" d="M108.6 60.8l3.9 3.4 4 4.2 2.5-2.1 2.5-2-4-4.2-3.9-3.4-2.5 2z"/>
<path color="#ffcf02" d="M143.9 112.3l3.9 3.4 2.3-2.5-3.9-3.5z"/>
<path color="#ffcf02" d="M146.2 109.7l3.9 3.5 2.2-2.5-3.9-3.5z"/>
<path color="#ffca01" d="M147.8 115.7l4 2.9 2.2-2.6-3.9-2.8z"/>
<path color="#ffca01" d="M150.1 113.2l3.9 2.8 2.2-2.5-3.9-2.8z"/>
<path class="m" d="M143.9 112.3l3.9 3.4 4 2.9 2.2-2.6 2.2-2.5-3.9-2.8-3.9-3.5-2.2 2.5z"/>
<path color="#9d4603" d="M208.5 103.8l2.2-1.3 .9-1.2-2.2 1.2z"/>
<path color="#9d4603" d="M209.4 102.5l2.2-1.2 1-1.2-2.2 1.2z"/>
<path color="#9d4603" d="M210.4 101.3l2.2-1.2 .9-1.2-2.2 1.2z"/>
<path color="#9d4603" d="M211.3 100.1l2.2-1.2 .8-1.2-2.1 1.2z"/>
<path color="#944103" d="M210.7 102.5l2.3-1.4 .9-1.2-2.3 1.4z"/>
<path color="#944103" d="M211.6 101.3l2.3-1.4 .9-1.2-2.2 1.4z"/>
<path color="#944103" d="M212.6 100.1l2.2-1.4 .9-1.3-2.2 1.5z"/>
<path color="#954103" d="M213.5 98.9l2.2-1.5 .9-1.2-2.3 1.5z"/>
<path color="#8a3c03" d="M213 101.1l2.2-1.6 .9-1.2-2.2 1.6z"/>
<path color="#8a3c03" d="M213.9 99.9l2.2-1.6 .9-1.2-2.2 1.6z"/>
<path color="#8b3c03" d="M214.8 98.7l2.2-1.6 .9-1.2-2.2 1.5z"/>
<path color="#8b3d03" d="M215.7 97.4l2.2-1.5 .9-1.2-2.2 1.5z"/>
<path color="#833804" d="M215.2 99.5l2.3-1.7 .9-1.2-2.3 1.7z"/>
<path color="#833904" d="M216.1 98.3l2.3-1.7 .9-1.2-2.3 1.7z"/>
<path color="#833904" d="M217 97.1l2.3-1.7 .9-1.2-2.3 1.7z"/>
<path color="#843904" d="M217.9 95.9l2.3-1.7 .9-1.2-2.3 1.7z"/>
<path class="m" d="M208.5 103.8l4.5-2.7 4.5-3.3 1.8-2.4 1.8-2.4-4.5 3.2-4.4 2.7-1.8 2.4z"/>
<path color="#fc8a00" d="M172 121.5l2 .6 1-1.3-2-.6z"/>
<path color="#fc8a00" d="M173 120.2l2 .6 1-1.3-2-.6z"/>
<path color="#fc8a00" d="M174 118.9l2 .6 1.1-1.3-2-.5z"/>
<path color="#fc8a00" d="M175.1 117.7l2 .5 1-1.3-2-.5z"/>
<path color="#f88200" d="M174 122.1l2 .4 1-1.3-2-.4z"/>
<path color="#f88200" d="M175 120.8l2 .4 1-1.3-2-.4z"/>
<path color="#f88200" d="M176 119.5l2 .4 1.1-1.3-2-.4z"/>
<path color="#f88200" d="M177.1 118.2l2 .4 1-1.3-2-.4z"/>
<path color="#f27a00" d="M176 122.5l2 .3 1-1.3-2-.3z"/>
<path color="#f27a00" d="M177 121.2l2 .3 1.1-1.3-2.1-.3z"/>
<path color="#f17a00" d="M178 119.9l2.1 .3 1-1.3-2-.3z"/>
<path color="#f17a00" d="M179.1 118.6l2 .3 1-1.3-2-.3z"/>
<path color="#ea7300" d="M178 122.8l2 .2 1.1-1.3-2.1-.2z"/>
<path color="#ea7300" d="M179 121.5l2.1 .2 1-1.3-2-.2z"/>
<path color="#ea7300" d="M180.1 120.2l2 .2 1-1.3-2-.2z"/>
<path color="#ea7200" d="M181.1 118.9l2 .2 1-1.3-2-.2z"/>
<path class="m" d="M172 121.5l4 1 4 .5 2.1-2.6 2-2.6-4-.5-4-.9-2.1 2.5z"/>
<path color="#ffd303" d="M135.9 102.7l8 9.6 4.5-5.1-7.9-9.3z"/>
<path class="m" d="M135.9 102.7l4 5.1 4 4.5 2.3-2.6 2.2-2.5-3.9-4.3-4-5-2.3 2.4z"/>
<path color="#fd8b00" d="M88 56.8l3.8 1.5 2.6-2.2-3.7-1.5z"/>
<path color="#fd8c00" d="M90.7 54.6l3.7 1.5 2.7-2.1-3.8-1.5z"/>
<path color="#ff9200" d="M91.8 58.3l3.8 1.8 2.6-2.2-3.8-1.8z"/>
<path color="#ff9300" d="M94.4 56.1l3.8 1.8 2.6-2.1-3.7-1.8z"/>
<path class="m" d="M88 56.8l3.8 1.5 3.8 1.8 2.6-2.2 2.6-2.1-3.7-1.8-3.8-1.5-2.6 2.1z"/>
<path color="#ffc500" d="M151.8 118.6l2 1.3 1.1-1.3-2-1.3z"/>
<path color="#ffc500" d="M152.9 117.3l2 1.3 1.1-1.3-2-1.3z"/>
<path color="#ffc500" d="M154 116l2 1.3 1.1-1.3-2-1.2z"/>
<path color="#ffc500" d="M155.1 114.8l2 1.2 1.1-1.2-2-1.3z"/>
<path color="#ffc000" d="M153.8 119.9l1.9 1.2 1.1-1.3-1.9-1.2z"/>
<path color="#ffc000" d="M154.9 118.6l1.9 1.2 1.1-1.3-1.9-1.2z"/>
<path color="#ffc000" d="M156 117.3l1.9 1.2 1.1-1.2-1.9-1.3z"/>
<path color="#ffc000" d="M157.1 116l1.9 1.3 1.1-1.3-1.9-1.2z"/>
<path color="#ffba00" d="M155.7 121.1l2 1.2 1.1-1.3-2-1.2z"/>
<path color="#ffba00" d="M156.8 119.8l2 1.2 1.1-1.3-2-1.2z"/>
<path color="#ffba00" d="M157.9 118.5l2 1.2 1.1-1.3-2-1.1z"/>
<path color="#ffba00" d="M159 117.3l2 1.1 1.1-1.3-2-1.1z"/>
<path color="#ffb300" d="M157.7 122.3l2 1.1 1.1-1.3-2-1.1z"/>
<path color="#ffb300" d="M158.8 121l2 1.1 1.1-1.3-2-1.1z"/>
<path color="#ffb300" d="M159.9 119.7l2 1.1 1.1-1.3-2-1.1z"/>
<path color="#ffb200" d="M161 118.4l2 1.1 1-1.3-1.9-1.1z"/>
<path class="m" d="M151.8 118.6l3.9 2.5 4 2.3 2.2-2.6 2.1-2.6-3.9-2.2-3.9-2.5-2.2 2.5z"/>
<path color="#823804" d="M221.1 93l4.7-3.5 1.7-2.4-4.6 3.5z"/>
<path color="#823804" d="M222.9 90.6l4.6-3.5 1.7-2.3-4.6 3.5z"/>
<path color="#8b3c03" d="M225.8 89.5l4.7-3.2 1.7-2.4-4.7 3.2z"/>
<path color="#8a3c04" d="M227.5 87.1l4.7-3.2 1.7-2.3-4.7 3.2z"/>
<path class="m" d="M221.1 93l4.7-3.5 4.7-3.2 1.7-2.4 1.7-2.3-4.7 3.2-4.6 3.5-1.7 2.3z"/>
<path color="#f88200" d="M75 58.6l3.7 1.2 2.8-2.2-3.7-1.2z"/>
<path color="#f78100" d="M77.8 56.4l3.7 1.2 2.8-2.1-3.7-1.3z"/>
<path color="#fa8600" d="M78.7 59.8l3.8 1.4 2.8-2.2-3.8-1.4z"/>
<path color="#fa8600" d="M81.5 57.6l3.8 1.4 2.7-2.2-3.7-1.3z"/>
<path class="m" d="M75 58.6l3.7 1.2 3.8 1.4 2.8-2.2 2.7-2.2-3.7-1.3-3.7-1.3-2.8 2.2z"/>
<path color="#ffd403" d="M127.8 92.6l8.1 10.1 4.6-4.8-7.9-9.8z"/>
<path class="m" d="M127.8 92.6l4 4.9 4.1 5.2 2.3-2.4 2.3-2.4-3.9-5-4-4.8-2.4 2.2z"/>
<path color="#ffa900" d="M159.7 123.4l2 1 1.1-1.3-2-1z"/>
<path color="#ffa900" d="M160.8 122.1l2 1 1.1-1.3-2-1z"/>
<path color="#ffa800" d="M161.9 120.8l2 1 1-1.3-1.9-1z"/>
<path color="#ffa800" d="M163 119.5l1.9 1 1.1-1.3-2-1z"/>
<path color="#ff9f00" d="M161.7 124.4l2 .9 1.1-1.3-2-.9z"/>
<path color="#ff9f00" d="M162.8 123.1l2 .9 1.1-1.3-2-.9z"/>
<path color="#ff9f00" d="M163.9 121.8l2 .9 1-1.3-2-.9z"/>
<path color="#ff9f00" d="M164.9 120.5l2 .9 1.1-1.3-2-.9z"/>
<path color="#ff9700" d="M163.7 125.3l2 .8 1.1-1.3-2-.8z"/>
<path color="#ff9700" d="M164.8 124l2 .8 1-1.3-1.9-.8z"/>
<path color="#ff9700" d="M165.9 122.7l1.9 .8 1.1-1.3-2-.8z"/>
<path color="#ff9700" d="M166.9 121.4l2 .8 1.1-1.3-2-.8z"/>
<path color="#fe9000" d="M165.7 126.1l2 .7 1.1-1.3-2-.7z"/>
<path color="#fe9000" d="M166.8 124.8l2 .7 1-1.3-2-.7z"/>
<path color="#fe9000" d="M167.8 123.5l2 .7 1.1-1.4-2-.6z"/>
<path color="#fe9000" d="M168.9 122.2l2 .6 1.1-1.3-2-.6z"/>
<path class="m" d="M159.7 123.4l4 1.9 4 1.5 2.1-2.6 2.2-2.7-4-1.4-4-1.9-2.1 2.6z"/>
<path color="#ff9a00" d="M95.6 60.1l1.9 1 1.3-1.1-1.9-1z"/>
<path color="#ff9a00" d="M96.9 59l1.9 1 1.4-1-2-1.1z"/>
<path color="#ff9b00" d="M98.2 57.9l2 1.1 1.3-1.1-2-1z"/>
<path color="#ff9b00" d="M99.5 56.9l2 1 1.3-1-2-1.1z"/>
<path color="#ffa200" d="M97.5 61.1l1.9 1.2 1.4-1.1-2-1.2z"/>
<path color="#ffa300" d="M98.8 60l2 1.2 1.3-1.1-1.9-1.1z"/>
<path color="#ffa300" d="M100.2 59l1.9 1.1 1.3-1-1.9-1.2z"/>
<path color="#ffa400" d="M101.5 57.9l1.9 1.2 1.3-1.1-1.9-1.1z"/>
<path color="#ffae00" d="M99.4 62.3l2 1.2 1.3-1-1.9-1.3z"/>
<path color="#ffaf00" d="M100.8 61.2l1.9 1.3 1.3-1.1-1.9-1.3z"/>
<path color="#ffb000" d="M102.1 60.1l1.9 1.3 1.3-1-1.9-1.3z"/>
<path color="#ffb100" d="M103.4 59.1l1.9 1.3 1.3-1.1-1.9-1.3z"/>
<path color="#ffbd00" d="M101.4 63.5l2 1.5 1.3-1.1-2-1.4z"/>
<path color="#ffbe00" d="M102.7 62.5l2 1.4 1.3-1-2-1.5z"/>
<path color="#ffbe00" d="M104 61.4l2 1.5 1.3-1.1-2-1.4z"/>
<path color="#ffbf00" d="M105.3 60.4l2 1.4 1.3-1-2-1.5z"/>
<path class="m" d="M95.6 60.1l3.8 2.2 4 2.7 2.6-2.1 2.6-2.1-3.9-2.8-3.9-2.2-2.6 2.1z"/>
<path color="#ffd303" d="M119.6 82.5l8.2 10.1 4.8-4.5-8-10z"/>
<path class="m" d="M119.6 82.5l4.1 5.1 4.1 5 2.4-2.3 2.4-2.2-4-4.9-4-5.1-2.5 2.2z"/>
<path color="#e16c00" d="M180 123l2.1 .1 1-1.4-2 0z"/>
<path color="#e16c00" d="M181.1 121.7l2 0 1-1.3-2 0z"/>
<path color="#e16c00" d="M182.1 120.4l2 0 1-1.3-2 0z"/>
<path color="#e16c00" d="M183.1 119.1l2 0 1-1.3-2 0z"/>
<path color="#d86500" d="M182.1 123.1l2.1-.1 1-1.3-2.1 0z"/>
<path color="#d86500" d="M183.1 121.7l2.1 0 1-1.4-2.1 .1z"/>
<path color="#d86500" d="M184.1 120.4l2.1-.1 1-1.3-2.1 .1z"/>
<path color="#d86500" d="M185.1 119.1l2.1-.1 1-1.3-2.1 .1z"/>
<path color="#cd5f01" d="M184.2 123l2-.2 1.1-1.4-2.1 .3z"/>
<path color="#cd5f01" d="M185.2 121.7l2.1-.3 1-1.3-2.1 .2z"/>
<path color="#cd5f01" d="M186.2 120.3l2.1-.2 1-1.3-2.1 .2z"/>
<path color="#cd5f01" d="M187.2 119l2.1-.2 1-1.3-2.1 .2z"/>
<path color="#c45a01" d="M186.2 122.8l2.2-.4 1-1.3-2.1 .3z"/>
<path color="#c45a01" d="M187.3 121.4l2.1-.3 1-1.4-2.1 .4z"/>
<path color="#c45a01" d="M188.3 120.1l2.1-.4 1-1.3-2.1 .4z"/>
<path color="#c45a01" d="M189.3 118.8l2.1-.4 1-1.3-2.1 .4z"/>
<path class="m" d="M180 123l4.2 0 4.2-.6 2-2.7 2-2.6-4.2 .6-4.1 .1-2 2.6z"/>
<path color="#bc5601" d="M192.4 117.1l2.1-.5 .9-1.3-2.1 .5z"/>
<path color="#bc5601" d="M193.3 115.8l2.1-.5 1-1.3-2.1 .5z"/>
<path color="#bc5601" d="M194.3 114.5l2.1-.5 1-1.3-2.1 .6z"/>
<path color="#bc5601" d="M195.3 113.3l2.1-.6 .9-1.3-2.1 .6z"/>
<path color="#b45202" d="M194.5 116.6l2.1-.7 1-1.3-2.2 .7z"/>
<path color="#b45202" d="M195.4 115.3l2.2-.7 1-1.3-2.2 .7z"/>
<path color="#b45202" d="M196.4 114l2.2-.7 .9-1.3-2.1 .7z"/>
<path color="#b45202" d="M197.4 112.7l2.1-.7 1-1.3-2.2 .7z"/>
<path color="#ac4e02" d="M196.6 115.9l2.2-.9 .9-1.3-2.1 .9z"/>
<path color="#ad4e02" d="M197.6 114.6l2.1-.9 1-1.3-2.1 .9z"/>
<path color="#ad4e02" d="M198.6 113.3l2.1-.9 1-1.3-2.2 .9z"/>
<path color="#ad4e02" d="M199.5 112l2.2-.9 .9-1.2-2.1 .8z"/>
<path color="#a44a02" d="M198.8 115l2.2-1 .9-1.4-2.2 1.1z"/>
<path color="#a44a02" d="M199.7 113.7l2.2-1.1 1-1.2-2.2 1z"/>
<path color="#a44a02" d="M200.7 112.4l2.2-1 1-1.3-2.2 1z"/>
<path color="#a44a02" d="M201.7 111.1l2.2-1 .9-1.3-2.2 1.1z"/>
<path class="m" d="M192.4 117.1l4.2-1.2 4.4-1.9 1.9-2.6 1.9-2.6-4.3 1.9-4.3 1.3-1.9 2.5z"/>
<path color="#ffd203" d="M111.4 72.6l8.2 9.9 5-4.4-8.1-9.7z"/>
<path class="m" d="M111.4 72.6l4.1 4.8 4.1 5.1 2.5-2.2 2.5-2.2-4-5-4.1-4.7-2.5 2.1z"/>
<path color="#ffc901" d="M103.4 65l4 3.4 2.6-2.1-4-3.4z"/>
<path color="#ffca01" d="M106 62.9l4 3.4 2.5-2.1-3.9-3.4z"/>
<path color="#ffcf02" d="M107.4 68.4l4 4.2 2.6-2.1-4-4.2z"/>
<path color="#ffcf02" d="M110 66.3l4 4.2 2.5-2.1-4-4.2z"/>
<path class="m" d="M103.4 65l4 3.4 4 4.2 2.6-2.1 2.5-2.1-4-4.2-3.9-3.4-2.6 2.1z"/>
<path color="#ffcf02" d="M139.2 117.4l4 3.5 2.3-2.6-3.9-3.5z"/>
<path color="#ffcf02" d="M141.6 114.8l3.9 3.5 2.3-2.6-3.9-3.4z"/>
<path color="#ffc901" d="M143.2 120.9l4 2.9 2.3-2.6-4-2.9z"/>
<path color="#ffc901" d="M145.5 118.3l4 2.9 2.3-2.6-4-2.9z"/>
<path class="m" d="M139.2 117.4l4 3.5 4 2.9 2.3-2.6 2.3-2.6-4-2.9-3.9-3.4-2.3 2.5z"/>
<path color="#fc8a00" d="M167.7 126.8l2 .6 1.1-1.4-2-.5z"/>
<path color="#fc8a00" d="M168.8 125.5l2 .5 1.1-1.3-2.1-.5z"/>
<path color="#fc8a00" d="M169.8 124.2l2.1 .5 1-1.3-2-.6z"/>
<path color="#fc8a00" d="M170.9 122.8l2 .6 1.1-1.3-2-.6z"/>
<path color="#f88200" d="M169.7 127.4l2.1 .4 1-1.3-2-.5z"/>
<path color="#f88200" d="M170.8 126l2 .5 1.1-1.4-2-.4z"/>
<path color="#f88200" d="M171.9 124.7l2 .4 1-1.3-2-.4z"/>
<path color="#f88200" d="M172.9 123.4l2 .4 1.1-1.3-2-.4z"/>
<path color="#f27a00" d="M171.8 127.8l2 .4 1.1-1.4-2.1-.3z"/>
<path color="#f27a00" d="M172.8 126.5l2.1 .3 1-1.3-2-.4z"/>
<path color="#f27a00" d="M173.9 125.1l2 .4 1.1-1.4-2.1-.3z"/>
<path color="#f27a00" d="M174.9 123.8l2.1 .3 1-1.3-2-.3z"/>
<path color="#ea7300" d="M173.8 128.2l2.1 .2 1-1.4-2-.2z"/>
<path color="#ea7300" d="M174.9 126.8l2 .2 1.1-1.3-2.1-.2z"/>
<path color="#ea7300" d="M175.9 125.5l2.1 .2 1-1.4-2-.2z"/>
<path color="#ea7300" d="M177 124.1l2 .2 1-1.3-2-.2z"/>
<path class="m" d="M167.7 126.8l4.1 1 4.1 .6 2.1-2.7 2-2.7-4-.5-4-1-2.2 2.7z"/>
<path color="#9c4503" d="M204.8 108.8l2.2-1.3 1-1.2-2.3 1.2z"/>
<path color="#9c4503" d="M205.7 107.5l2.3-1.2 .9-1.3-2.2 1.3z"/>
<path color="#9d4603" d="M206.7 106.3l2.2-1.3 .9-1.2-2.2 1.2z"/>
<path color="#9d4603" d="M207.6 105l2.2-1.2 .9-1.3-2.2 1.3z"/>
<path color="#934103" d="M207 107.5l2.3-1.4 .9-1.3-2.2 1.5z"/>
<path color="#934103" d="M208 106.3l2.2-1.5 .9-1.2-2.2 1.4z"/>
<path color="#944103" d="M208.9 105l2.2-1.4 1-1.3-2.3 1.5z"/>
<path color="#944103" d="M209.8 103.8l2.3-1.5 .9-1.2-2.3 1.4z"/>
<path color="#893c04" d="M209.3 106.1l2.3-1.6 .9-1.3-2.3 1.6z"/>
<path color="#893c04" d="M210.2 104.8l2.3-1.6 .9-1.2-2.3 1.6z"/>
<path color="#8a3c04" d="M211.1 103.6l2.3-1.6 .9-1.3-2.2 1.6z"/>
<path color="#8a3c04" d="M212.1 102.3l2.2-1.6 .9-1.2-2.2 1.6z"/>
<path color="#823804" d="M211.6 104.5l2.3-1.7 .9-1.3-2.3 1.7z"/>
<path color="#823804" d="M212.5 103.2l2.3-1.7 .9-1.2-2.3 1.7z"/>
<path color="#823804" d="M213.4 102l2.3-1.7 .9-1.3-2.3 1.7z"/>
<path color="#833804" d="M214.3 100.7l2.3-1.7 .9-1.2-2.3 1.7z"/>
<path class="m" d="M204.8 108.8l4.5-2.7 4.6-3.3 1.8-2.5 1.8-2.5-4.5 3.3-4.5 2.7-1.8 2.5z"/>
<path color="#ffd303" d="M131.1 107.6l8.1 9.8 4.7-5.1-8-9.6z"/>
<path class="m" d="M131.1 107.6l4.1 5.3 4 4.5 2.4-2.6 2.3-2.5-4-4.5-4-5.1-2.4 2.4z"/>
<path color="#fd8b00" d="M82.5 61.2l3.8 1.5 2.7-2.2-3.7-1.5z"/>
<path color="#fd8b00" d="M85.3 59l3.7 1.5 2.8-2.2-3.8-1.5z"/>
<path color="#fe9000" d="M86.3 62.7l3.9 1.8 2.7-2.2-3.9-1.8z"/>
<path color="#fe9100" d="M89 60.5l3.9 1.8 2.7-2.2-3.8-1.8z"/>
<path class="m" d="M82.5 61.2l3.8 1.5 3.9 1.8 2.7-2.2 2.7-2.2-3.8-1.8-3.8-1.5-2.7 2.2z"/>
<path color="#ffc400" d="M147.2 123.8l2 1.4 1.2-1.4-2-1.3z"/>
<path color="#ffc400" d="M148.4 122.5l2 1.3 1.1-1.3-2-1.3z"/>
<path color="#ffc500" d="M149.5 121.2l2 1.3 1.1-1.3-1.9-1.3z"/>
<path color="#ffc500" d="M150.7 119.9l1.9 1.3 1.2-1.3-2-1.3z"/>
<path color="#ffc000" d="M149.2 125.2l2 1.2 1.2-1.3-2-1.3z"/>
<path color="#ffc000" d="M150.4 123.8l2 1.3 1.1-1.4-2-1.2z"/>
<path color="#ffc000" d="M151.5 122.5l2 1.2 1.1-1.3-2-1.2z"/>
<path color="#ffc000" d="M152.6 121.2l2 1.2 1.1-1.3-1.9-1.2z"/>
<path color="#ffba00" d="M151.2 126.4l2 1.2 1.2-1.3-2-1.2z"/>
<path color="#ffba00" d="M152.4 125.1l2 1.2 1.1-1.4-2-1.2z"/>
<path color="#ffba00" d="M153.5 123.7l2 1.2 1.1-1.3-2-1.2z"/>
<path color="#ffba00" d="M154.6 122.4l2 1.2 1.1-1.3-2-1.2z"/>
<path color="#ffb300" d="M153.2 127.6l2 1.1 1.2-1.3-2-1.1z"/>
<path color="#ffb300" d="M154.4 126.3l2 1.1 1.1-1.4-2-1.1z"/>
<path color="#ffb300" d="M155.5 124.9l2 1.1 1.1-1.3-2-1.1z"/>
<path color="#ffb300" d="M156.6 123.6l2 1.1 1.1-1.3-2-1.1z"/>
<path class="m" d="M147.2 123.8l4 2.6 4 2.3 2.3-2.7 2.2-2.6-4-2.3-3.9-2.5-2.3 2.6z"/>
<path color="#f88200" d="M69.3 63.1l3.7 1.2 2.9-2.2-3.7-1.3z"/>
<path color="#f88200" d="M72.2 60.8l3.7 1.3 2.8-2.3-3.7-1.2z"/>
<path color="#fa8500" d="M73 64.3l3.8 1.4 2.9-2.3-3.8-1.3z"/>
<path color="#fa8600" d="M75.9 62.1l3.8 1.3 2.8-2.2-3.8-1.4z"/>
<path class="m" d="M69.3 63.1l3.7 1.2 3.8 1.4 2.9-2.3 2.8-2.2-3.8-1.4-3.7-1.2-2.8 2.2z"/>
<path color="#ffd403" d="M122.8 97.3l8.3 10.3 4.8-4.9-8.1-10.1z"/>
<path class="m" d="M122.8 97.3l4.2 5 4.1 5.3 2.4-2.5 2.4-2.4-4.1-5.2-4-4.9-2.5 2.3z"/>
<path color="#ffa900" d="M155.2 128.7l2.1 1.1 1.1-1.4-2-1z"/>
<path color="#ffa900" d="M156.4 127.4l2 1 1.1-1.3-2-1.1z"/>
<path color="#ffa900" d="M157.5 126l2 1.1 1.1-1.4-2-1z"/>
<path color="#ffa900" d="M158.6 124.7l2 1 1.1-1.3-2-1z"/>
<path color="#ffa000" d="M157.3 129.8l2 .9 1.1-1.3-2-1z"/>
<path color="#ffa000" d="M158.4 128.4l2 1 1.1-1.4-2-.9z"/>
<path color="#ff9f00" d="M159.5 127.1l2 .9 1.1-1.3-2-1z"/>
<path color="#ff9f00" d="M160.6 125.7l2 1 1.1-1.4-2-.9z"/>
<path color="#ff9700" d="M159.3 130.7l2 .8 1.1-1.3-2-.8z"/>
<path color="#ff9700" d="M160.4 129.4l2 .8 1.1-1.4-2-.8z"/>
<path color="#ff9700" d="M161.5 128l2 .8 1.1-1.3-2-.8z"/>
<path color="#ff9700" d="M162.6 126.7l2 .8 1.1-1.4-2-.8z"/>
<path color="#fe9000" d="M161.3 131.5l2 .7 1.1-1.3-2-.7z"/>
<path color="#fe9000" d="M162.4 130.2l2 .7 1.1-1.4-2-.7z"/>
<path color="#fe9000" d="M163.5 128.8l2 .7 1.1-1.3-2-.7z"/>
<path color="#fe9000" d="M164.6 127.5l2 .7 1.1-1.4-2-.7z"/>
<path class="m" d="M155.2 128.7l4.1 2 4 1.5 2.2-2.7 2.2-2.7-4-1.5-4-1.9-2.2 2.6z"/>
<path color="#803704" d="M217.5 97.8l2.4-1.8 .9-1.2-2.4 1.8z"/>
<path color="#803704" d="M218.4 96.6l2.4-1.8 .9-1.2-2.4 1.8z"/>
<path color="#803704" d="M219.3 95.4l2.4-1.8 .9-1.2-2.4 1.8z"/>
<path color="#813704" d="M220.2 94.2l2.4-1.8 .8-1.2-2.3 1.8z"/>
<path color="#823804" d="M219.9 96l2.3-1.7 .9-1.2-2.3 1.7z"/>
<path color="#823804" d="M220.8 94.8l2.3-1.7 .9-1.2-2.3 1.7z"/>
<path color="#823804" d="M221.7 93.6l2.3-1.7 .9-1.2-2.3 1.7z"/>
<path color="#823804" d="M222.6 92.4l2.3-1.7 .9-1.2-2.4 1.7z"/>
<path color="#893b04" d="M222.2 94.3l2.4-1.6 .9-1.2-2.4 1.6z"/>
<path color="#883b04" d="M223.1 93.1l2.4-1.6 .9-1.2-2.4 1.6z"/>
<path color="#883b04" d="M224 91.9l2.4-1.6 .8-1.2-2.3 1.6z"/>
<path color="#883b04" d="M224.9 90.7l2.3-1.6 .9-1.2-2.3 1.6z"/>
<path color="#924003" d="M224.6 92.7l2.4-1.5 .9-1.2-2.4 1.5z"/>
<path color="#913f03" d="M225.5 91.5l2.4-1.5 .8-1.2-2.3 1.5z"/>
<path color="#903f03" d="M226.4 90.3l2.3-1.5 .9-1.3-2.4 1.6z"/>
<path color="#8f3f03" d="M227.2 89.1l2.4-1.6 .9-1.2-2.4 1.6z"/>
<path class="m" d="M217.5 97.8l4.7-3.5 4.8-3.1 1.7-2.4 1.8-2.5-4.7 3.2-4.7 3.5-1.8 2.4z"/>
<path color="#ff9700" d="M90.2 64.5l1.9 1 1.4-1.1-2-1z"/>
<path color="#ff9800" d="M91.5 63.4l2 1 1.3-1.1-1.9-1z"/>
<path color="#ff9800" d="M92.9 62.3l1.9 1 1.4-1.1-2-1z"/>
<path color="#ff9900" d="M94.2 61.2l2 1 1.3-1.1-1.9-1z"/>
<path color="#ff9e00" d="M92.1 65.5l2 1.1 1.3-1.1-1.9-1.1z"/>
<path color="#ff9f00" d="M93.5 64.4l1.9 1.1 1.4-1.1-2-1.1z"/>
<path color="#ffa000" d="M94.8 63.3l2 1.1 1.3-1.1-1.9-1.1z"/>
<path color="#ffa100" d="M96.2 62.2l1.9 1.1 1.3-1-1.9-1.2z"/>
<path color="#ffaa00" d="M94.1 66.6l1.9 1.3 1.4-1.1-2-1.3z"/>
<path color="#ffab00" d="M95.4 65.5l2 1.3 1.3-1.1-1.9-1.3z"/>
<path color="#ffac00" d="M96.8 64.4l1.9 1.3 1.4-1.1-2-1.3z"/>
<path color="#ffad00" d="M98.1 63.3l2 1.3 1.3-1.1-2-1.2z"/>
<path color="#ffba00" d="M96 67.9l2 1.4 1.4-1.1-2-1.4z"/>
<path color="#ffbb00" d="M97.4 66.8l2 1.4 1.3-1.1-2-1.4z"/>
<path color="#ffbc00" d="M98.7 65.7l2 1.4 1.4-1-2-1.5z"/>
<path color="#ffbc00" d="M100.1 64.6l2 1.5 1.3-1.1-2-1.5z"/>
<path class="m" d="M90.2 64.5l3.9 2.1 3.9 2.7 2.7-2.2 2.7-2.1-4-2.7-3.8-2.2-2.7 2.2z"/>
<path color="#ffd303" d="M114.6 87l8.2 10.3 5-4.7-8.2-10.1z"/>
<path class="m" d="M114.6 87l4.1 5.2 4.1 5.1 2.5-2.4 2.5-2.3-4.1-5-4.1-5.1-2.5 2.2z"/>
<path color="#e26c00" d="M175.9 128.4l2 0 1.1-1.3-2.1-.1z"/>
<path color="#e26c00" d="M176.9 127l2.1 .1 1-1.4-2 0z"/>
<path color="#e26c00" d="M178 125.7l2 0 1.1-1.3-2.1-.1z"/>
<path color="#e26c00" d="M179 124.3l2.1 .1 1-1.3-2.1-.1z"/>
<path color="#d86600" d="M177.9 128.4l2.1 0 1.1-1.4-2.1 .1z"/>
<path color="#d86600" d="M179 127.1l2.1-.1 1-1.3-2.1 0z"/>
<path color="#d86600" d="M180 125.7l2.1 0 1-1.4-2 .1z"/>
<path color="#d86500" d="M181.1 124.4l2-.1 1.1-1.3-2.1 .1z"/>
<path color="#ce6001" d="M180 128.4l2.1-.2 1.1-1.4-2.1 .2z"/>
<path color="#ce5f01" d="M181.1 127l2.1-.2 1-1.3-2.1 .2z"/>
<path color="#ce5f01" d="M182.1 125.7l2.1-.2 1-1.4-2.1 .2z"/>
<path color="#ce5f01" d="M183.1 124.3l2.1-.2 1-1.3-2 .2z"/>
<path color="#c45a01" d="M182.1 128.2l2.1-.4 1.1-1.3-2.1 .3z"/>
<path color="#c45a01" d="M183.2 126.8l2.1-.3 1-1.4-2.1 .4z"/>
<path color="#c45a01" d="M184.2 125.5l2.1-.4 1-1.3-2.1 .3z"/>
<path color="#c45a01" d="M185.2 124.1l2.1-.3 1.1-1.4-2.2 .4z"/>
<path class="m" d="M175.9 128.4l4.1 0 4.2-.6 2.1-2.7 2.1-2.7-4.2 .6-4.2 0-2 2.7z"/>
<path color="#bc5601" d="M188.4 122.4l2.1-.5 1-1.3-2.1 .5z"/>
<path color="#bc5601" d="M189.4 121.1l2.1-.5 1-1.4-2.1 .5z"/>
<path color="#bc5601" d="M190.4 119.7l2.1-.5 1-1.3-2.1 .5z"/>
<path color="#bc5601" d="M191.4 118.4l2.1-.5 1-1.3-2.1 .5z"/>
<path color="#b45202" d="M190.5 121.9l2.1-.7 1-1.3-2.1 .7z"/>
<path color="#b45202" d="M191.5 120.6l2.1-.7 1-1.4-2.1 .7z"/>
<path color="#b45202" d="M192.5 119.2l2.1-.7 1-1.3-2.1 .7z"/>
<path color="#b45202" d="M193.5 117.9l2.1-.7 1-1.3-2.1 .7z"/>
<path color="#ac4e02" d="M192.6 121.2l2.2-.9 1-1.3-2.2 .9z"/>
<path color="#ac4e02" d="M193.6 119.9l2.2-.9 1-1.3-2.2 .8z"/>
<path color="#ac4e02" d="M194.6 118.5l2.2-.8 1-1.4-2.2 .9z"/>
<path color="#ac4e02" d="M195.6 117.2l2.2-.9 1-1.3-2.2 .9z"/>
<path color="#a34902" d="M194.8 120.3l2.2-1 1-1.4-2.2 1.1z"/>
<path color="#a44902" d="M195.8 119l2.2-1.1 1-1.3-2.2 1.1z"/>
<path color="#a44a02" d="M196.8 117.7l2.2-1.1 1-1.3-2.2 1z"/>
<path color="#a44a02" d="M197.8 116.3l2.2-1 1-1.3-2.2 1z"/>
<path class="m" d="M188.4 122.4l4.2-1.2 4.4-1.9 2-2.7 2-2.6-4.4 1.9-4.2 1.2-2 2.6z"/>
<path color="#ffcf02" d="M134.4 122.7l4.1 3.6 2.4-2.7-4.1-3.6z"/>
<path color="#ffcf02" d="M136.8 120l4.1 3.6 2.3-2.7-4-3.5z"/>
<path color="#ffc901" d="M138.5 126.3l4 2.9 2.4-2.7-4-2.9z"/>
<path color="#ffc901" d="M140.9 123.6l4 2.9 2.3-2.7-4-2.9z"/>
<path class="m" d="M134.4 122.7l4.1 3.6 4 2.9 2.4-2.7 2.3-2.7-4-2.9-4-3.5-2.4 2.6z"/>
<path color="#ffd203" d="M106.2 77l8.4 10 5-4.5-8.2-9.9z"/>
<path class="m" d="M106.2 77l4.2 4.9 4.2 5.1 2.5-2.3 2.5-2.2-4.1-5.1-4.1-4.8-2.5 2.2z"/>
<path color="#ffc801" d="M98 69.3l4.1 3.4 2.7-2.1-4.1-3.5z"/>
<path color="#ffc901" d="M100.7 67.1l4.1 3.5 2.6-2.2-4-3.4z"/>
<path color="#ffcf02" d="M102.1 72.7l4.1 4.3 2.7-2.2-4.1-4.2z"/>
<path color="#ffcf02" d="M104.8 70.6l4.1 4.2 2.5-2.2-4-4.2z"/>
<path class="m" d="M98 69.3l4.1 3.4 4.1 4.3 2.7-2.2 2.5-2.2-4-4.2-4-3.4-2.7 2.1z"/>
<path color="#fc8a00" d="M163.3 132.2l2.1 .6 1.1-1.3-2.1-.6z"/>
<path color="#fc8a00" d="M164.4 130.9l2.1 .6 1.1-1.4-2.1-.6z"/>
<path color="#fc8a00" d="M165.5 129.5l2.1 .6 1-1.4-2-.5z"/>
<path color="#fc8a00" d="M166.6 128.2l2 .5 1.1-1.3-2-.6z"/>
<path color="#f88300" d="M165.4 132.8l2 .5 1.1-1.4-2-.4z"/>
<path color="#f88300" d="M166.5 131.5l2 .4 1.1-1.4-2-.4z"/>
<path color="#f88200" d="M167.6 130.1l2 .4 1.1-1.3-2.1-.5z"/>
<path color="#f88200" d="M168.6 128.7l2.1 .5 1.1-1.4-2.1-.4z"/>
<path color="#f27a00" d="M167.4 133.3l2.1 .4 1.1-1.4-2.1-.4z"/>
<path color="#f27a00" d="M168.5 131.9l2.1 .4 1.1-1.4-2.1-.4z"/>
<path color="#f27a00" d="M169.6 130.5l2.1 .4 1-1.4-2-.3z"/>
<path color="#f27a00" d="M170.7 129.2l2 .3 1.1-1.3-2-.4z"/>
<path color="#ea7300" d="M169.5 133.7l2.1 .2 1-1.4-2-.2z"/>
<path color="#ea7300" d="M170.6 132.3l2 .2 1.1-1.4-2-.2z"/>
<path color="#ea7300" d="M171.7 130.9l2 .2 1.1-1.4-2.1-.2z"/>
<path color="#ea7300" d="M172.7 129.5l2.1 .2 1.1-1.3-2.1-.2z"/>
<path class="m" d="M163.3 132.2l4.1 1.1 4.2 .6 2.1-2.8 2.2-2.7-4.1-.6-4.1-1-2.2 2.7z"/>
<path color="#ffd303" d="M126.1 112.6l8.3 10.1 4.8-5.3-8.1-9.8z"/>
<path class="m" d="M126.1 112.6l4.2 5.5 4.1 4.6 2.4-2.7 2.4-2.6-4-4.5-4.1-5.3-2.5 2.4z"/>
<path color="#fd8a00" d="M76.8 65.7l3.9 1.5 2.8-2.2-3.8-1.6z"/>
<path color="#fd8a00" d="M79.7 63.4l3.8 1.6 2.8-2.3-3.8-1.5z"/>
<path color="#fe8f00" d="M80.7 67.2l3.9 1.8 2.8-2.3-3.9-1.7z"/>
<path color="#fe9000" d="M83.5 65l3.9 1.7 2.8-2.2-3.9-1.8z"/>
<path class="m" d="M76.8 65.7l3.9 1.5 3.9 1.8 2.8-2.3 2.8-2.2-3.9-1.8-3.8-1.5-2.8 2.2z"/>
<path color="#ffc400" d="M142.5 129.2l2.1 1.4 1.1-1.4-2-1.3z"/>
<path color="#ffc400" d="M143.7 127.9l2 1.3 1.2-1.4-2-1.3z"/>
<path color="#ffc400" d="M144.9 126.5l2 1.3 1.2-1.3-2-1.3z"/>
<path color="#ffc400" d="M146.1 125.2l2 1.3 1.1-1.3-2-1.4z"/>
<path color="#ffc000" d="M144.6 130.6l2 1.2 1.2-1.3-2.1-1.3z"/>
<path color="#ffc000" d="M145.7 129.2l2.1 1.3 1.1-1.4-2-1.3z"/>
<path color="#ffc000" d="M146.9 127.8l2 1.3 1.2-1.4-2-1.2z"/>
<path color="#ffc000" d="M148.1 126.5l2 1.2 1.1-1.3-2-1.2z"/>
<path color="#ffba00" d="M146.6 131.8l2 1.3 1.2-1.4-2-1.2z"/>
<path color="#ffba00" d="M147.8 130.5l2 1.2 1.1-1.4-2-1.2z"/>
<path color="#ffba00" d="M148.9 129.1l2 1.2 1.2-1.4-2-1.2z"/>
<path color="#ffba00" d="M150.1 127.7l2 1.2 1.1-1.3-2-1.2z"/>
<path color="#ffb300" d="M148.6 133.1l2.1 1.1 1.1-1.4-2-1.1z"/>
<path color="#ffb300" d="M149.8 131.7l2 1.1 1.2-1.4-2.1-1.1z"/>
<path color="#ffb300" d="M150.9 130.3l2.1 1.1 1.1-1.3-2-1.2z"/>
<path color="#ffb300" d="M152.1 128.9l2 1.2 1.1-1.4-2-1.1z"/>
<path class="m" d="M142.5 129.2l4.1 2.6 4.1 2.4 2.3-2.8 2.2-2.7-4-2.3-4-2.6-2.3 2.7z"/>
<path color="#9c4503" d="M201 114l2.2-1.3 1-1.3-2.3 1.2z"/>
<path color="#9c4503" d="M201.9 112.6l2.3-1.2 .9-1.3-2.2 1.3z"/>
<path color="#9c4503" d="M202.9 111.4l2.2-1.3 1-1.3-2.2 1.3z"/>
<path color="#9c4503" d="M203.9 110.1l2.2-1.3 .9-1.3-2.2 1.3z"/>
<path color="#924003" d="M203.2 112.7l2.3-1.5 .9-1.3-2.2 1.5z"/>
<path color="#924003" d="M204.2 111.4l2.2-1.5 1-1.3-2.3 1.5z"/>
<path color="#924003" d="M205.1 110.1l2.3-1.5 .9-1.2-2.2 1.4z"/>
<path color="#934003" d="M206.1 108.8l2.2-1.4 1-1.3-2.3 1.4z"/>
<path color="#873b04" d="M205.5 111.2l2.3-1.6 .9-1.3-2.3 1.6z"/>
<path color="#883b04" d="M206.4 109.9l2.3-1.6 1-1.3-2.3 1.6z"/>
<path color="#883b04" d="M207.4 108.6l2.3-1.6 .9-1.3-2.3 1.7z"/>
<path color="#883b04" d="M208.3 107.4l2.3-1.7 1-1.2-2.3 1.6z"/>
<path color="#813704" d="M207.8 109.6l2.3-1.7 1-1.3-2.4 1.7z"/>
<path color="#813704" d="M208.7 108.3l2.4-1.7 .9-1.3-2.3 1.7z"/>
<path color="#813804" d="M209.7 107l2.3-1.7 .9-1.3-2.3 1.7z"/>
<path color="#813804" d="M210.6 105.7l2.3-1.7 1-1.2-2.3 1.7z"/>
<path class="m" d="M201 114l4.5-2.8 4.6-3.3 1.9-2.6 1.9-2.5-4.6 3.3-4.5 2.7-1.9 2.6z"/>
<path color="#f98300" d="M63.4 67.7l7.6 2.7 5.8-4.7-7.5-2.6z"/>
<path class="m" d="M63.4 67.7l3.8 1.3 3.8 1.4 3-2.3 2.8-2.4-3.8-1.4-3.7-1.2-2.9 2.2z"/>
<path color="#ffa900" d="M150.7 134.2l2 1.1 1.1-1.4-2-1.1z"/>
<path color="#ffa900" d="M151.8 132.8l2 1.1 1.2-1.4-2-1.1z"/>
<path color="#ffa900" d="M153 131.4l2 1.1 1.1-1.4-2-1z"/>
<path color="#ffa900" d="M154.1 130.1l2 1 1.2-1.3-2.1-1.1z"/>
<path color="#ff9f00" d="M152.7 135.3l2 .9 1.2-1.4-2.1-.9z"/>
<path color="#ff9f00" d="M153.8 133.9l2.1 .9 1.1-1.3-2-1z"/>
<path color="#ff9f00" d="M155 132.5l2 1 1.2-1.4-2.1-1z"/>
<path color="#ffa000" d="M156.1 131.1l2.1 1 1.1-1.4-2-.9z"/>
<path color="#ff9700" d="M154.7 136.2l2.1 .9 1.1-1.4-2-.9z"/>
<path color="#ff9700" d="M155.9 134.8l2 .9 1.2-1.4-2.1-.8z"/>
<path color="#ff9700" d="M157 133.5l2.1 .8 1.1-1.4-2-.8z"/>
<path color="#ff9700" d="M158.2 132.1l2 .8 1.1-1.4-2-.8z"/>
<path color="#fe9000" d="M156.8 137.1l2 .7 1.2-1.4-2.1-.7z"/>
<path color="#fe9000" d="M157.9 135.7l2.1 .7 1.1-1.4-2-.7z"/>
<path color="#fe9100" d="M159.1 134.3l2 .7 1.1-1.4-2-.7z"/>
<path color="#fe9000" d="M160.2 132.9l2 .7 1.1-1.4-2-.7z"/>
<path class="m" d="M150.7 134.2l4 2 4.1 1.6 2.3-2.8 2.2-2.8-4-1.5-4.1-2-2.2 2.7z"/>
<path color="#ffd403" d="M117.8 102.1l8.3 10.5 5-5-8.3-10.3z"/>
<path class="m" d="M117.8 102.1l4.1 5 4.2 5.5 2.5-2.6 2.5-2.4-4.1-5.3-4.2-5-2.5 2.3z"/>
<path color="#803704" d="M213.9 102.8l2.3-1.8 .9-1.3-2.3 1.8z"/>
<path color="#803704" d="M214.8 101.5l2.3-1.8 1-1.2-2.4 1.8z"/>
<path color="#803704" d="M215.7 100.3l2.4-1.8 .9-1.2-2.4 1.7z"/>
<path color="#803704" d="M216.6 99l2.4-1.7 .9-1.3-2.4 1.8z"/>
<path color="#833804" d="M216.2 101l2.4-1.7 .9-1.3-2.4 1.7z"/>
<path color="#833804" d="M217.1 99.7l2.4-1.7 .9-1.2-2.3 1.7z"/>
<path color="#833804" d="M218.1 98.5l2.3-1.7 .9-1.2-2.3 1.7z"/>
<path color="#833804" d="M219 97.3l2.3-1.7 .9-1.3-2.3 1.7z"/>
<path color="#8a3c03" d="M218.6 99.3l2.4-1.6 .9-1.3-2.4 1.6z"/>
<path color="#8a3c03" d="M219.5 98l2.4-1.6 .9-1.2-2.4 1.6z"/>
<path color="#8a3c04" d="M220.4 96.8l2.4-1.6 .9-1.3-2.4 1.7z"/>
<path color="#893c04" d="M221.3 95.6l2.4-1.7 .9-1.2-2.4 1.6z"/>
<path color="#944103" d="M221 97.7l2.4-1.4 .9-1.3-2.4 1.4z"/>
<path color="#934103" d="M221.9 96.4l2.4-1.4 .9-1.3-2.4 1.5z"/>
<path color="#934003" d="M222.8 95.2l2.4-1.5 .9-1.2-2.4 1.4z"/>
<path color="#924003" d="M223.7 93.9l2.4-1.4 .9-1.3-2.4 1.5z"/>
<path class="m" d="M213.9 102.8l4.7-3.5 4.8-3 1.8-2.6 1.8-2.5-4.8 3.1-4.7 3.5-1.8 2.5z"/>
<path color="#ff9500" d="M84.6 69l1.9 1 1.4-1.2-1.9-1z"/>
<path color="#ff9600" d="M86 67.8l1.9 1 1.4-1.1-1.9-1z"/>
<path color="#ff9600" d="M87.4 66.7l1.9 1 1.4-1.1-1.9-1z"/>
<path color="#ff9600" d="M88.8 65.6l1.9 1 1.4-1.1-1.9-1z"/>
<path color="#ff9c00" d="M86.5 70l2 1.1 1.4-1.1-2-1.2z"/>
<path color="#ff9c00" d="M87.9 68.8l2 1.2 1.4-1.2-2-1.1z"/>
<path color="#ff9d00" d="M89.3 67.7l2 1.1 1.4-1.1-2-1.1z"/>
<path color="#ff9e00" d="M90.7 66.6l2 1.1 1.4-1.1-2-1.1z"/>
<path color="#ffa700" d="M88.5 71.1l2 1.2 1.4-1.1-2-1.2z"/>
<path color="#ffa700" d="M89.9 70l2 1.2 1.4-1.1-2-1.3z"/>
<path color="#ffa800" d="M91.3 68.8l2 1.3 1.4-1.1-2-1.3z"/>
<path color="#ffa900" d="M92.7 67.7l2 1.3 1.3-1.1-1.9-1.3z"/>
<path color="#ffb600" d="M90.5 72.3l2 1.5 1.4-1.2-2-1.4z"/>
<path color="#ffb700" d="M91.9 71.2l2 1.4 1.4-1.1-2-1.4z"/>
<path color="#ffb800" d="M93.3 70.1l2 1.4 1.4-1.1-2-1.4z"/>
<path color="#ffb900" d="M94.7 69l2 1.4 1.3-1.1-2-1.4z"/>
<path class="m" d="M84.6 69l3.9 2.1 4 2.7 2.8-2.3 2.7-2.2-3.9-2.7-3.9-2.1-2.8 2.2z"/>
<path color="#ffd303" d="M109.3 91.7l8.5 10.4 5-4.8-8.2-10.3z"/>
<path class="m" d="M109.3 91.7l4.3 5.2 4.2 5.2 2.5-2.5 2.5-2.3-4.1-5.1-4.1-5.2-2.6 2.3z"/>
<path color="#e26c00" d="M171.6 133.9l2 .1 1.1-1.4-2.1-.1z"/>
<path color="#e26c00" d="M172.6 132.5l2.1 .1 1.1-1.4-2.1-.1z"/>
<path color="#e16c00" d="M173.7 131.1l2.1 .1 1.1-1.4-2.1-.1z"/>
<path color="#e16c00" d="M174.8 129.7l2.1 .1 1-1.4-2 0z"/>
<path color="#d86500" d="M173.6 134l2.1-.1 1.1-1.4-2.1 .1z"/>
<path color="#d86500" d="M174.7 132.6l2.1-.1 1.1-1.4-2.1 .1z"/>
<path color="#d86500" d="M175.8 131.2l2.1-.1 1.1-1.3-2.1 0z"/>
<path color="#d86500" d="M176.9 129.8l2.1 0 1-1.4-2.1 0z"/>
<path color="#cd5f01" d="M175.7 133.9l2.2-.1 1-1.4-2.1 .1z"/>
<path color="#cd5f01" d="M176.8 132.5l2.1-.1 1.1-1.4-2.1 .1z"/>
<path color="#cd5f01" d="M177.9 131.1l2.1-.1 1.1-1.4-2.1 .2z"/>
<path color="#ce5f01" d="M179 129.8l2.1-.2 1-1.4-2.1 .2z"/>
<path color="#c45a01" d="M177.9 133.8l2.1-.4 1.1-1.4-2.2 .4z"/>
<path color="#c45a01" d="M178.9 132.4l2.2-.4 1-1.4-2.1 .4z"/>
<path color="#c45a01" d="M180 131l2.1-.4 1.1-1.4-2.1 .4z"/>
<path color="#c45a01" d="M181.1 129.6l2.1-.4 1-1.4-2.1 .4z"/>
<path class="m" d="M171.6 133.9l4.1 0 4.3-.5 2.1-2.8 2.1-2.8-4.2 .6-4.1 0-2.2 2.7z"/>
<path color="#bc5601" d="M184.2 127.8l2.2-.5 1-1.3-2.1 .5z"/>
<path color="#bc5601" d="M185.3 126.5l2.1-.5 1-1.4-2.1 .5z"/>
<path color="#bc5601" d="M186.3 125.1l2.1-.5 1.1-1.4-2.2 .6z"/>
<path color="#bc5601" d="M187.3 123.8l2.2-.6 1-1.3-2.1 .5z"/>
<path color="#b45202" d="M186.4 127.3l2.2-.7 1-1.3-2.2 .7z"/>
<path color="#b45202" d="M187.4 126l2.2-.7 1-1.4-2.2 .7z"/>
<path color="#b45202" d="M188.4 124.6l2.2-.7 1-1.4-2.1 .7z"/>
<path color="#b45202" d="M189.5 123.2l2.1-.7 1-1.3-2.1 .7z"/>
<path color="#ac4e02" d="M188.6 126.6l2.1-.8 1.1-1.4-2.2 .9z"/>
<path color="#ac4e02" d="M189.6 125.3l2.2-.9 1-1.4-2.2 .9z"/>
<path color="#ac4e02" d="M190.6 123.9l2.2-.9 1-1.3-2.2 .8z"/>
<path color="#ac4e02" d="M191.6 122.5l2.2-.8 1-1.4-2.2 .9z"/>
<path color="#a34902" d="M190.7 125.8l2.3-1.1 1-1.4-2.2 1.1z"/>
<path color="#a34902" d="M191.8 124.4l2.2-1.1 1-1.3-2.2 1z"/>
<path color="#a34902" d="M192.8 123l2.2-1 1-1.4-2.2 1.1z"/>
<path color="#a34902" d="M193.8 121.7l2.2-1.1 1-1.3-2.2 1z"/>
<path class="m" d="M184.2 127.8l4.4-1.2 4.4-1.9 2-2.7 2-2.7-4.4 1.9-4.2 1.2-2.1 2.7z"/>
<path color="#ffcf02" d="M129.5 128.1l4.1 3.7 2.5-2.8-4.1-3.6z"/>
<path color="#ffcf02" d="M132 125.4l4.1 3.6 2.4-2.7-4.1-3.6z"/>
<path color="#ffc901" d="M133.6 131.8l4.1 3 2.4-2.8-4-3z"/>
<path color="#ffc901" d="M136.1 129l4 3 2.4-2.8-4-2.9z"/>
<path class="m" d="M129.5 128.1l4.1 3.7 4.1 3 2.4-2.8 2.4-2.8-4-2.9-4.1-3.6-2.4 2.7z"/>
<path color="#ffd203" d="M100.8 81.5l8.5 10.2 5.3-4.7-8.4-10z"/>
<path class="m" d="M100.8 81.5l4.3 4.9 4.2 5.3 2.7-2.4 2.6-2.3-4.2-5.1-4.2-4.9-2.6 2.2z"/>
<path color="#ffc701" d="M92.5 73.8l4.2 3.4 2.7-2.3-4.1-3.4z"/>
<path color="#ffc801" d="M95.3 71.5l4.1 3.4 2.7-2.2-4.1-3.4z"/>
<path color="#ffcf02" d="M96.7 77.2l4.1 4.3 2.8-2.3-4.2-4.3z"/>
<path color="#ffcf02" d="M99.4 74.9l4.2 4.3 2.6-2.2-4.1-4.3z"/>
<path class="m" d="M92.5 73.8l4.2 3.4 4.1 4.3 2.8-2.3 2.6-2.2-4.1-4.3-4.1-3.4-2.7 2.2z"/>
<path color="#fd8b00" d="M158.8 137.8l2.1 .6 1.1-1.4-2-.6z"/>
<path color="#fd8b00" d="M160 136.4l2 .6 1.1-1.4-2-.6z"/>
<path color="#fd8b00" d="M161.1 135l2 .6 1.2-1.4-2.1-.6z"/>
<path color="#fd8b00" d="M162.2 133.6l2.1 .6 1.1-1.4-2.1-.6z"/>
<path color="#f88300" d="M160.9 138.4l2.1 .5 1.1-1.4-2.1-.5z"/>
<path color="#f98300" d="M162 137l2.1 .5 1.1-1.4-2.1-.5z"/>
<path color="#f88300" d="M163.1 135.6l2.1 .5 1.1-1.4-2-.5z"/>
<path color="#f88300" d="M164.3 134.2l2 .5 1.1-1.4-2-.5z"/>
<path color="#f27b00" d="M163 138.9l2 .4 1.2-1.4-2.1-.4z"/>
<path color="#f27b00" d="M164.1 137.5l2.1 .4 1.1-1.4-2.1-.4z"/>
<path color="#f27b00" d="M165.2 136.1l2.1 .4 1.1-1.4-2.1-.4z"/>
<path color="#f27a00" d="M166.3 134.7l2.1 .4 1.1-1.4-2.1-.4z"/>
<path color="#eb7300" d="M165 139.3l2.1 .3 1.2-1.5-2.1-.2z"/>
<path color="#eb7300" d="M166.2 137.9l2.1 .2 1.1-1.4-2.1-.2z"/>
<path color="#eb7300" d="M167.3 136.5l2.1 .2 1.1-1.4-2.1-.2z"/>
<path color="#ea7300" d="M168.4 135.1l2.1 .2 1.1-1.4-2.1-.2z"/>
<path class="m" d="M158.8 137.8l4.2 1.1 4.1 .7 2.3-2.9 2.2-2.8-4.2-.6-4.1-1.1-2.2 2.8z"/>
<path color="#ffd303" d="M121.1 117.8l8.4 10.3 4.9-5.4-8.3-10.1z"/>
<path class="m" d="M121.1 117.8l4.2 5.6 4.2 4.7 2.5-2.7 2.4-2.7-4.1-4.6-4.2-5.5-2.5 2.5z"/>
<path color="#fc8900" d="M71 70.4l3.9 1.5 2.9-2.3-3.8-1.5z"/>
<path color="#fc8900" d="M74 68.1l3.8 1.5 2.9-2.4-3.9-1.5z"/>
<path color="#fe8e00" d="M74.9 71.9l3.9 1.7 2.9-2.3-3.9-1.7z"/>
<path color="#fe8e00" d="M77.8 69.6l3.9 1.7 2.9-2.3-3.9-1.8z"/>
<path class="m" d="M71 70.4l3.9 1.5 3.9 1.7 2.9-2.3 2.9-2.3-3.9-1.8-3.9-1.5-2.8 2.4z"/>
<path color="#ffc100" d="M137.7 134.8l4.1 2.6 2.4-2.8-4.1-2.6z"/>
<path color="#ffc200" d="M140.1 132l4.1 2.6 2.4-2.8-4.1-2.6z"/>
<path color="#ffb700" d="M141.8 137.4l4.1 2.4 2.4-2.8-4.1-2.4z"/>
<path color="#ffb700" d="M144.2 134.6l4.1 2.4 2.4-2.8-4.1-2.4z"/>
<path class="m" d="M137.7 134.8l4.1 2.6 4.1 2.4 2.4-2.8 2.4-2.8-4.1-2.4-4.1-2.6-2.4 2.8z"/>
<path color="#9b4503" d="M197 119.3l2.3-1.3 1-1.4-2.3 1.3z"/>
<path color="#9b4503" d="M198 117.9l2.3-1.3 1-1.3-2.3 1.3z"/>
<path color="#9b4503" d="M199 116.6l2.3-1.3 .9-1.3-2.2 1.3z"/>
<path color="#9b4503" d="M200 115.3l2.2-1.3 1-1.3-2.2 1.3z"/>
<path color="#914003" d="M199.3 118l2.3-1.5 .9-1.3-2.2 1.4z"/>
<path color="#914003" d="M200.3 116.6l2.2-1.4 1-1.4-2.2 1.5z"/>
<path color="#924003" d="M201.3 115.3l2.2-1.5 1-1.3-2.3 1.5z"/>
<path color="#924003" d="M202.2 114l2.3-1.5 1-1.3-2.3 1.5z"/>
<path color="#863a04" d="M201.6 116.5l2.3-1.6 1-1.4-2.4 1.7z"/>
<path color="#873a04" d="M202.5 115.2l2.4-1.7 .9-1.3-2.3 1.6z"/>
<path color="#873a04" d="M203.5 113.8l2.3-1.6 1-1.3-2.3 1.6z"/>
<path color="#873b04" d="M204.5 112.5l2.3-1.6 1-1.3-2.3 1.6z"/>
<path color="#803704" d="M203.9 114.9l2.3-1.8 1-1.3-2.3 1.7z"/>
<path color="#803704" d="M204.9 113.5l2.3-1.7 1-1.3-2.4 1.7z"/>
<path color="#803704" d="M205.8 112.2l2.4-1.7 .9-1.3-2.3 1.7z"/>
<path color="#803704" d="M206.8 110.9l2.3-1.7 1-1.3-2.3 1.7z"/>
<path class="m" d="M197 119.3l4.6-2.8 4.6-3.4 2-2.6 1.9-2.6-4.6 3.3-4.5 2.8-2 2.6z"/>
<path color="#f98300" d="M57.4 72.4l7.7 2.8 5.9-4.8-7.6-2.7z"/>
<path class="m" d="M57.4 72.4l3.8 1.4 3.9 1.4 3-2.4 2.9-2.4-3.8-1.4-3.8-1.3-3 2.3z"/>
<path color="#ffaa00" d="M145.9 139.8l2.1 1.1 1.2-1.4-2.1-1.1z"/>
<path color="#ffaa00" d="M147.1 138.4l2.1 1.1 1.2-1.4-2.1-1.1z"/>
<path color="#ffaa00" d="M148.3 137l2.1 1.1 1.1-1.4-2-1.1z"/>
<path color="#ffa900" d="M149.5 135.6l2 1.1 1.2-1.4-2-1.1z"/>
<path color="#ffa000" d="M148 140.9l2.1 1 1.1-1.4-2-1z"/>
<path color="#ffa000" d="M149.2 139.5l2 1 1.2-1.4-2-1z"/>
<path color="#ffa000" d="M150.4 138.1l2 1 1.2-1.4-2.1-1z"/>
<path color="#ffa000" d="M151.5 136.7l2.1 1 1.1-1.5-2-.9z"/>
<path color="#ff9800" d="M150.1 141.9l2 .9 1.2-1.4-2.1-.9z"/>
<path color="#ff9700" d="M151.2 140.5l2.1 .9 1.2-1.5-2.1-.8z"/>
<path color="#ff9700" d="M152.4 139.1l2.1 .8 1.1-1.4-2-.8z"/>
<path color="#ff9700" d="M153.6 137.7l2 .8 1.2-1.4-2.1-.9z"/>
<path color="#fe9100" d="M152.1 142.8l2.1 .8 1.2-1.5-2.1-.7z"/>
<path color="#fe9100" d="M153.3 141.4l2.1 .7 1.1-1.4-2-.8z"/>
<path color="#fe9100" d="M154.5 139.9l2 .8 1.2-1.4-2.1-.8z"/>
<path color="#fe9000" d="M155.6 138.5l2.1 .8 1.1-1.5-2-.7z"/>
<path class="m" d="M145.9 139.8l4.2 2.1 4.1 1.7 2.3-2.9 2.3-2.9-4.1-1.6-4-2-2.4 2.8z"/>
<path color="#ffd403" d="M112.5 107l8.6 10.8 5-5.2-8.3-10.5z"/>
<path class="m" d="M112.5 107l4.3 5.2 4.3 5.6 2.5-2.7 2.5-2.5-4.2-5.5-4.1-5-2.6 2.4z"/>
<path color="#ff9300" d="M78.8 73.6l2 1 1.5-1.2-2-1z"/>
<path color="#ff9300" d="M80.3 72.4l2 1 1.4-1.1-2-1z"/>
<path color="#ff9400" d="M81.7 71.3l2 1 1.4-1.2-1.9-1z"/>
<path color="#ff9500" d="M83.2 70.1l1.9 1 1.4-1.1-1.9-1z"/>
<path color="#ff9900" d="M80.8 74.6l2 1.1 1.5-1.2-2-1.1z"/>
<path color="#ff9a00" d="M82.3 73.4l2 1.1 1.4-1.1-2-1.1z"/>
<path color="#ff9b00" d="M83.7 72.3l2 1.1 1.4-1.2-2-1.1z"/>
<path color="#ff9b00" d="M85.1 71.1l2 1.1 1.4-1.1-2-1.1z"/>
<path color="#ffa400" d="M82.8 75.7l2 1.2 1.5-1.1-2-1.3z"/>
<path color="#ffa500" d="M84.3 74.5l2 1.3 1.4-1.2-2-1.2z"/>
<path color="#ffa600" d="M85.7 73.4l2 1.2 1.4-1.1-2-1.3z"/>
<path color="#ffa600" d="M87.1 72.2l2 1.3 1.4-1.2-2-1.2z"/>
<path color="#ffb300" d="M84.8 76.9l2.1 1.4 1.4-1.1-2-1.4z"/>
<path color="#ffb400" d="M86.3 75.8l2 1.4 1.4-1.2-2-1.4z"/>
<path color="#ffb500" d="M87.7 74.6l2 1.4 1.4-1.1-2-1.4z"/>
<path color="#ffb600" d="M89.1 73.5l2 1.4 1.4-1.1-2-1.5z"/>
<path class="m" d="M78.8 73.6l4 2.1 4.1 2.6 2.8-2.3 2.8-2.2-4-2.7-3.9-2.1-2.9 2.3z"/>
<path color="#7f3704" d="M210.1 107.9l2.4-1.8 .9-1.3-2.3 1.8z"/>
<path color="#7f3704" d="M211.1 106.6l2.3-1.8 1-1.3-2.4 1.8z"/>
<path color="#7f3704" d="M212 105.3l2.4-1.8 .9-1.2-2.4 1.7z"/>
<path color="#7f3704" d="M212.9 104l2.4-1.7 .9-1.3-2.3 1.8z"/>
<path color="#833904" d="M212.5 106.1l2.3-1.7 1-1.3-2.4 1.7z"/>
<path color="#833904" d="M213.4 104.8l2.4-1.7 .9-1.3-2.3 1.7z"/>
<path color="#833804" d="M214.4 103.5l2.3-1.7 1-1.2-2.4 1.7z"/>
<path color="#833804" d="M215.3 102.3l2.4-1.7 .9-1.3-2.4 1.7z"/>
<path color="#8c3d03" d="M214.8 104.4l2.4-1.6 1-1.3-2.4 1.6z"/>
<path color="#8c3d03" d="M215.8 103.1l2.4-1.6 .9-1.2-2.4 1.5z"/>
<path color="#8b3d03" d="M216.7 101.8l2.4-1.5 .9-1.3-2.3 1.6z"/>
<path color="#8b3c03" d="M217.7 100.6l2.3-1.6 1-1.3-2.4 1.6z"/>
<path color="#964203" d="M217.2 102.8l2.4-1.3 1-1.4-2.4 1.4z"/>
<path color="#954203" d="M218.2 101.5l2.4-1.4 .9-1.3-2.4 1.5z"/>
<path color="#954203" d="M219.1 100.3l2.4-1.5 .9-1.3-2.4 1.5z"/>
<path color="#944103" d="M220 99l2.4-1.5 1-1.2-2.4 1.4z"/>
<path class="m" d="M210.1 107.9l4.7-3.5 4.8-2.9 1.9-2.7 1.9-2.5-4.8 3-4.7 3.5-1.9 2.5z"/>
<path color="#ffd303" d="M103.9 96.5l8.6 10.5 5.3-4.9-8.5-10.4z"/>
<path class="m" d="M103.9 96.5l4.3 5.3 4.3 5.2 2.7-2.5 2.6-2.4-4.2-5.2-4.3-5.2-2.6 2.3z"/>
<path color="#e26c00" d="M167.1 139.6l2.1 .1 1.2-1.5-2.1-.1z"/>
<path color="#e26c00" d="M168.3 138.1l2.1 .1 1.1-1.4-2.1-.1z"/>
<path color="#e26c00" d="M169.4 136.7l2.1 .1 1.1-1.4-2.1-.1z"/>
<path color="#e26c00" d="M170.5 135.3l2.1 .1 1-1.4-2-.1z"/>
<path color="#d86600" d="M169.2 139.7l2.2 0 1.1-1.5-2.1 0z"/>
<path color="#d86600" d="M170.4 138.2l2.1 0 1.1-1.4-2.1 0z"/>
<path color="#d86600" d="M171.5 136.8l2.1 0 1.1-1.4-2.1 0z"/>
<path color="#d86500" d="M172.6 135.4l2.1 0 1-1.5-2.1 .1z"/>
<path color="#ce5f01" d="M171.4 139.7l2.1-.2 1.1-1.4-2.1 .1z"/>
<path color="#ce5f01" d="M172.5 138.2l2.1-.1 1.1-1.5-2.1 .2z"/>
<path color="#cd5f01" d="M173.6 136.8l2.1-.2 1.1-1.4-2.1 .2z"/>
<path color="#cd5f01" d="M174.7 135.4l2.1-.2 1.1-1.4-2.2 .1z"/>
<path color="#c45a01" d="M173.5 139.5l2.2-.3 1.1-1.5-2.2 .4z"/>
<path color="#c45a01" d="M174.6 138.1l2.2-.4 1-1.4-2.1 .3z"/>
<path color="#c45a01" d="M175.7 136.6l2.1-.3 1.1-1.4-2.1 .3z"/>
<path color="#c45a01" d="M176.8 135.2l2.1-.3 1.1-1.5-2.1 .4z"/>
<path class="m" d="M167.1 139.6l4.3 .1 4.3-.5 2.1-2.9 2.2-2.9-4.3 .5-4.1 0-2.2 2.8z"/>
<path color="#ffce02" d="M124.4 133.8l4.2 3.6 2.5-2.8-4.1-3.7z"/>
<path color="#ffce02" d="M127 130.9l4.1 3.7 2.5-2.8-4.1-3.7z"/>
<path color="#ffc801" d="M128.6 137.4l4.2 3.1 2.5-2.9-4.2-3z"/>
<path color="#ffc801" d="M131.1 134.6l4.2 3 2.4-2.8-4.1-3z"/>
<path class="m" d="M124.4 133.8l4.2 3.6 4.2 3.1 2.5-2.9 2.4-2.8-4.1-3-4.1-3.7-2.5 2.8z"/>
<path color="#bb5601" d="M180 133.4l2.2-.5 1-1.4-2.1 .5z"/>
<path color="#bc5601" d="M181.1 132l2.1-.5 1.1-1.4-2.2 .5z"/>
<path color="#bc5601" d="M182.1 130.6l2.2-.5 1-1.4-2.1 .5z"/>
<path color="#bc5601" d="M183.2 129.2l2.1-.5 1.1-1.4-2.2 .5z"/>
<path color="#b45202" d="M182.2 132.9l2.2-.6 1-1.5-2.2 .7z"/>
<path color="#b45202" d="M183.2 131.5l2.2-.7 1.1-1.4-2.2 .7z"/>
<path color="#b45202" d="M184.3 130.1l2.2-.7 1-1.4-2.2 .7z"/>
<path color="#b45202" d="M185.3 128.7l2.2-.7 1.1-1.4-2.2 .7z"/>
<path color="#ab4e02" d="M184.4 132.3l2.2-.9 1-1.4-2.2 .8z"/>
<path color="#ac4e02" d="M185.4 130.8l2.2-.8 1.1-1.4-2.2 .8z"/>
<path color="#ac4e02" d="M186.5 129.4l2.2-.8 1-1.4-2.2 .8z"/>
<path color="#ac4e02" d="M187.5 128l2.2-.8 1-1.4-2.1 .8z"/>
<path color="#a34902" d="M186.6 131.4l2.2-1.1 1.1-1.4-2.3 1.1z"/>
<path color="#a34902" d="M187.6 130l2.3-1.1 1-1.4-2.2 1.1z"/>
<path color="#a34902" d="M188.7 128.6l2.2-1.1 1-1.4-2.2 1.1z"/>
<path color="#a34902" d="M189.7 127.2l2.2-1.1 1.1-1.4-2.3 1.1z"/>
<path class="m" d="M180 133.4l4.4-1.1 4.4-2 2.1-2.8 2.1-2.8-4.4 1.9-4.4 1.2-2.1 2.8z"/>
<path color="#fd8b00" d="M154.2 143.6l2.1 .6 1.2-1.4-2.1-.7z"/>
<path color="#fd8b00" d="M155.4 142.1l2.1 .7 1.1-1.5-2.1-.6z"/>
<path color="#fd8b00" d="M156.5 140.7l2.1 .6 1.2-1.4-2.1-.6z"/>
<path color="#fd8a00" d="M157.7 139.3l2.1 .6 1.1-1.5-2.1-.6z"/>
<path color="#f98300" d="M156.3 144.2l2.1 .5 1.1-1.4-2-.5z"/>
<path color="#f98300" d="M157.5 142.8l2 .5 1.2-1.5-2.1-.5z"/>
<path color="#f88300" d="M158.6 141.3l2.1 .5 1.1-1.4-2-.5z"/>
<path color="#f88300" d="M159.8 139.9l2 .5 1.2-1.5-2.1-.5z"/>
<path color="#f27b00" d="M158.4 144.7l2.1 .4 1.1-1.4-2.1-.4z"/>
<path color="#f27b00" d="M159.5 143.3l2.1 .4 1.2-1.5-2.1-.4z"/>
<path color="#f27a00" d="M160.7 141.8l2.1 .4 1.1-1.4-2.1-.4z"/>
<path color="#f27b00" d="M161.8 140.4l2.1 .4 1.1-1.5-2-.4z"/>
<path color="#eb7300" d="M160.5 145.1l2.1 .3 1.1-1.5-2.1-.2z"/>
<path color="#ea7300" d="M161.6 143.7l2.1 .2 1.2-1.4-2.1-.3z"/>
<path color="#ea7300" d="M162.8 142.2l2.1 .3 1.1-1.5-2.1-.2z"/>
<path color="#eb7300" d="M163.9 140.8l2.1 .2 1.1-1.4-2.1-.3z"/>
<path class="m" d="M154.2 143.6l4.2 1.1 4.2 .7 2.3-2.9 2.2-2.9-4.1-.7-4.2-1.1-2.3 2.9z"/>
<path color="#ffd203" d="M95.3 86.1l8.6 10.4 5.4-4.8-8.5-10.2z"/>
<path class="m" d="M95.3 86.1l4.3 5 4.3 5.4 2.8-2.5 2.6-2.3-4.2-5.3-4.3-4.9-2.7 2.3z"/>
<path color="#ffd303" d="M115.8 123.1l8.6 10.7 5.1-5.7-8.4-10.3z"/>
<path class="m" d="M115.8 123.1l4.4 5.8 4.2 4.9 2.6-2.9 2.5-2.8-4.2-4.7-4.2-5.6-2.6 2.6z"/>
<path color="#fb8700" d="M65.1 75.2l3.9 1.5 3-2.4-3.9-1.5z"/>
<path color="#fc8800" d="M68.1 72.8l3.9 1.5 2.9-2.4-3.9-1.5z"/>
<path color="#fd8c00" d="M69 76.7l3.9 1.7 3-2.4-3.9-1.7z"/>
<path color="#fe8d00" d="M72 74.3l3.9 1.7 2.9-2.4-3.9-1.7z"/>
<path class="m" d="M65.1 75.2l3.9 1.5 3.9 1.7 3-2.4 2.9-2.4-3.9-1.7-3.9-1.5-2.9 2.4z"/>
<path color="#ffc601" d="M86.9 78.3l4.1 3.5 2.9-2.3-4.2-3.5z"/>
<path color="#ffc601" d="M89.7 76l4.2 3.5 2.8-2.3-4.2-3.4z"/>
<path color="#ffcf02" d="M91 81.8l4.3 4.3 2.8-2.3-4.2-4.3z"/>
<path color="#ffcf02" d="M93.9 79.5l4.2 4.3 2.7-2.3-4.1-4.3z"/>
<path class="m" d="M86.9 78.3l4.1 3.5 4.3 4.3 2.8-2.3 2.7-2.3-4.1-4.3-4.2-3.4-2.8 2.2z"/>
<path color="#ffc100" d="M132.8 140.5l4.1 2.7 2.5-2.9-4.1-2.7z"/>
<path color="#ffc100" d="M135.3 137.6l4.1 2.7 2.4-2.9-4.1-2.6z"/>
<path color="#ffb700" d="M136.9 143.2l4.2 2.4 2.4-2.9-4.1-2.4z"/>
<path color="#ffb700" d="M139.4 140.3l4.1 2.4 2.4-2.9-4.1-2.4z"/>
<path class="m" d="M132.8 140.5l4.1 2.7 4.2 2.4 2.4-2.9 2.4-2.9-4.1-2.4-4.1-2.6-2.4 2.8z"/>
<path color="#9a4403" d="M193 124.7l2.2-1.3 1.1-1.3-2.3 1.2z"/>
<path color="#9a4403" d="M194 123.3l2.3-1.2 1-1.4-2.3 1.3z"/>
<path color="#9b4403" d="M195 122l2.3-1.3 1-1.4-2.3 1.3z"/>
<path color="#9b4503" d="M196 120.6l2.3-1.3 1-1.3-2.3 1.3z"/>
<path color="#903f03" d="M195.2 123.4l2.3-1.5 1-1.3-2.2 1.5z"/>
<path color="#903f03" d="M196.3 122.1l2.2-1.5 1.1-1.4-2.3 1.5z"/>
<path color="#903f03" d="M197.3 120.7l2.3-1.5 1-1.3-2.3 1.4z"/>
<path color="#913f03" d="M198.3 119.3l2.3-1.4 1-1.4-2.3 1.5z"/>
<path color="#853a04" d="M197.5 121.9l2.3-1.6 1.1-1.4-2.4 1.7z"/>
<path color="#853a04" d="M198.5 120.6l2.4-1.7 1-1.3-2.3 1.6z"/>
<path color="#863a04" d="M199.6 119.2l2.3-1.6 1-1.4-2.3 1.7z"/>
<path color="#863a04" d="M200.6 117.9l2.3-1.7 1-1.3-2.3 1.6z"/>
<path color="#7f3604" d="M199.8 120.3l2.4-1.8 1-1.3-2.3 1.7z"/>
<path color="#7f3604" d="M200.9 118.9l2.3-1.7 1-1.4-2.3 1.8z"/>
<path color="#7f3704" d="M201.9 117.6l2.3-1.8 1-1.3-2.3 1.7z"/>
<path color="#7f3704" d="M202.9 116.2l2.3-1.7 1-1.4-2.3 1.8z"/>
<path class="m" d="M193 124.7l4.5-2.8 4.7-3.4 2-2.7 2-2.7-4.6 3.4-4.6 2.8-2 2.7z"/>
<path color="#ffaa00" d="M141.1 145.6l2.1 1.2 1.2-1.5-2.1-1.1z"/>
<path color="#ffaa00" d="M142.3 144.2l2.1 1.1 1.2-1.5-2.1-1.1z"/>
<path color="#ffaa00" d="M143.5 142.7l2.1 1.1 1.2-1.4-2.1-1.1z"/>
<path color="#ffaa00" d="M144.7 141.3l2.1 1.1 1.2-1.5-2.1-1.1z"/>
<path color="#ffa000" d="M143.2 146.8l2.1 1 1.2-1.5-2.1-1z"/>
<path color="#ffa000" d="M144.4 145.3l2.1 1 1.2-1.5-2.1-1z"/>
<path color="#ffa000" d="M145.6 143.8l2.1 1 1.2-1.4-2.1-1z"/>
<path color="#ffa000" d="M146.8 142.4l2.1 1 1.2-1.5-2.1-1z"/>
<path color="#ff9800" d="M145.3 147.8l2 .9 1.3-1.5-2.1-.9z"/>
<path color="#ff9800" d="M146.5 146.3l2.1 .9 1.2-1.5-2.1-.9z"/>
<path color="#ff9800" d="M147.7 144.8l2.1 .9 1.1-1.4-2-.9z"/>
<path color="#ff9800" d="M148.9 143.4l2 .9 1.2-1.5-2-.9z"/>
<path color="#fe9100" d="M147.3 148.7l2.1 .8 1.2-1.5-2-.8z"/>
<path color="#fe9100" d="M148.6 147.2l2 .8 1.2-1.5-2-.8z"/>
<path color="#fe9100" d="M149.8 145.7l2 .8 1.2-1.5-2.1-.7z"/>
<path color="#fe9100" d="M150.9 144.3l2.1 .7 1.2-1.4-2.1-.8z"/>
<path class="m" d="M141.1 145.6l4.2 2.2 4.1 1.7 2.4-3 2.4-2.9-4.1-1.7-4.2-2.1-2.4 2.9z"/>
<path color="#ffd403" d="M107.1 112.1l8.7 11 5.3-5.3-8.6-10.8z"/>
<path class="m" d="M107.1 112.1l4.4 5.2 4.3 5.8 2.7-2.7 2.6-2.6-4.3-5.6-4.3-5.2-2.7 2.5z"/>
<path color="#ff9100" d="M72.9 78.4l2 1 1.5-1.2-2-1z"/>
<path color="#ff9100" d="M74.4 77.2l2 1 1.5-1.2-2-1z"/>
<path color="#ff9200" d="M75.9 76l2 1 1.5-1.2-2-1z"/>
<path color="#ff9200" d="M77.4 74.8l2 1 1.4-1.2-2-1z"/>
<path color="#ff9700" d="M74.9 79.4l2 1 1.5-1.2-2-1z"/>
<path color="#ff9700" d="M76.4 78.2l2 1 1.5-1.2-2-1z"/>
<path color="#ff9800" d="M77.9 77l2 1 1.5-1.1-2-1.1z"/>
<path color="#ff9900" d="M79.4 75.8l2 1.1 1.4-1.2-2-1.1z"/>
<path color="#ffa000" d="M76.9 80.4l2.1 1.3 1.5-1.2-2.1-1.3z"/>
<path color="#ffa100" d="M78.4 79.2l2.1 1.3 1.4-1.2-2-1.3z"/>
<path color="#ffa200" d="M79.9 78l2 1.3 1.5-1.2-2-1.2z"/>
<path color="#ffa300" d="M81.4 76.9l2 1.2 1.4-1.2-2-1.2z"/>
<path color="#ffaf00" d="M79 81.7l2 1.3 1.5-1.1-2-1.4z"/>
<path color="#ffb000" d="M80.5 80.5l2 1.4 1.5-1.2-2.1-1.4z"/>
<path color="#ffb100" d="M81.9 79.3l2.1 1.4 1.4-1.2-2-1.4z"/>
<path color="#ffb200" d="M83.4 78.1l2 1.4 1.5-1.2-2.1-1.4z"/>
<path class="m" d="M72.9 78.4l4 2 4.1 2.6 3-2.3 2.9-2.4-4.1-2.6-4-2.1-2.9 2.4z"/>
<path color="#ffd303" d="M98.4 101.4l8.7 10.7 5.4-5.1-8.6-10.5z"/>
<path class="m" d="M98.4 101.4l4.4 5.4 4.3 5.3 2.7-2.6 2.7-2.5-4.3-5.2-4.3-5.3-2.7 2.4z"/>
<path color="#e26c00" d="M162.6 145.4l2.1 .2 1.2-1.5-2.2-.2z"/>
<path color="#e26c00" d="M163.7 143.9l2.2 .2 1.1-1.5-2.1-.1z"/>
<path color="#e26c00" d="M164.9 142.5l2.1 .1 1.1-1.5-2.1-.1z"/>
<path color="#e26c00" d="M166 141l2.1 .1 1.1-1.4-2.1-.1z"/>
<path color="#d86500" d="M164.7 145.6l2.1 0 1.2-1.5-2.1 0z"/>
<path color="#d86500" d="M165.9 144.1l2.1 0 1.1-1.5-2.1 0z"/>
<path color="#d86600" d="M167 142.6l2.1 0 1.1-1.5-2.1 0z"/>
<path color="#d86600" d="M168.1 141.1l2.1 0 1.2-1.4-2.2 0z"/>
<path color="#cd5f01" d="M166.8 145.6l2.2-.2 1.1-1.5-2.1 .2z"/>
<path color="#cd5f01" d="M168 144.1l2.1-.2 1.2-1.5-2.2 .2z"/>
<path color="#ce5f01" d="M169.1 142.6l2.2-.2 1.1-1.4-2.2 .1z"/>
<path color="#ce5f01" d="M170.2 141.1l2.2-.1 1.1-1.5-2.1 .2z"/>
<path color="#c45a01" d="M169 145.4l2.2-.3 1.1-1.5-2.2 .3z"/>
<path color="#c45a01" d="M170.1 143.9l2.2-.3 1.1-1.5-2.1 .3z"/>
<path color="#c45a01" d="M171.3 142.4l2.1-.3 1.1-1.5-2.1 .4z"/>
<path color="#c45a01" d="M172.4 141l2.1-.4 1.2-1.4-2.2 .3z"/>
<path class="m" d="M162.6 145.4l4.2 .2 4.4-.5 2.2-3 2.3-2.9-4.3 .5-4.3-.1-2.2 2.9z"/>
<path color="#7f3604" d="M206.2 113.1l2.4-1.8 1-1.3-2.4 1.8z"/>
<path color="#7f3604" d="M207.2 111.8l2.4-1.8 .9-1.3-2.3 1.8z"/>
<path color="#7f3604" d="M208.2 110.5l2.3-1.8 1-1.3-2.4 1.8z"/>
<path color="#7f3604" d="M209.1 109.2l2.4-1.8 1-1.3-2.4 1.8z"/>
<path color="#843904" d="M208.6 111.3l2.4-1.6 1-1.4-2.4 1.7z"/>
<path color="#843904" d="M209.6 110l2.4-1.7 .9-1.3-2.4 1.7z"/>
<path color="#843904" d="M210.5 108.7l2.4-1.7 1-1.3-2.4 1.7z"/>
<path color="#833904" d="M211.5 107.4l2.4-1.7 .9-1.3-2.3 1.7z"/>
<path color="#8e3e03" d="M211 109.7l2.4-1.6 1-1.3-2.4 1.5z"/>
<path color="#8e3e03" d="M212 108.3l2.4-1.5 .9-1.3-2.4 1.5z"/>
<path color="#8e3e03" d="M212.9 107l2.4-1.5 1-1.3-2.4 1.5z"/>
<path color="#8d3e03" d="M213.9 105.7l2.4-1.5 .9-1.4-2.4 1.6z"/>
<path color="#994403" d="M213.4 108.1l2.4-1.3 1-1.3-2.4 1.3z"/>
<path color="#984303" d="M214.4 106.8l2.4-1.3 .9-1.4-2.4 1.4z"/>
<path color="#984303" d="M215.3 105.5l2.4-1.4 1-1.3-2.4 1.4z"/>
<path color="#974303" d="M216.3 104.2l2.4-1.4 .9-1.3-2.4 1.3z"/>
<path class="m" d="M206.2 113.1l4.8-3.4 4.8-2.9 1.9-2.7 1.9-2.6-4.8 2.9-4.7 3.5-1.9 2.6z"/>
<path color="#fd8b00" d="M149.4 149.5l2.1 .7 1.2-1.5-2.1-.7z"/>
<path color="#fd8b00" d="M150.6 148l2.1 .7 1.2-1.5-2.1-.7z"/>
<path color="#fd8b00" d="M151.8 146.5l2.1 .7 1.2-1.5-2.1-.7z"/>
<path color="#fd8b00" d="M153 145l2.1 .7 1.2-1.5-2.1-.6z"/>
<path color="#f98400" d="M151.5 150.2l2.2 .5 1.1-1.5-2.1-.5z"/>
<path color="#f98400" d="M152.7 148.7l2.1 .5 1.2-1.5-2.1-.5z"/>
<path color="#f98300" d="M153.9 147.2l2.1 .5 1.2-1.5-2.1-.5z"/>
<path color="#f98300" d="M155.1 145.7l2.1 .5 1.2-1.5-2.1-.5z"/>
<path color="#f37b00" d="M153.7 150.7l2.1 .4 1.2-1.5-2.2-.4z"/>
<path color="#f37b00" d="M154.8 149.2l2.2 .4 1.1-1.5-2.1-.4z"/>
<path color="#f37b00" d="M156 147.7l2.1 .4 1.2-1.5-2.1-.4z"/>
<path color="#f27b00" d="M157.2 146.2l2.1 .4 1.2-1.5-2.1-.4z"/>
<path color="#eb7300" d="M155.8 151.1l2.1 .3 1.2-1.5-2.1-.3z"/>
<path color="#eb7300" d="M157 149.6l2.1 .3 1.2-1.5-2.2-.3z"/>
<path color="#eb7300" d="M158.1 148.1l2.2 .3 1.1-1.5-2.1-.3z"/>
<path color="#eb7300" d="M159.3 146.6l2.1 .3 1.2-1.5-2.1-.3z"/>
<path class="m" d="M149.4 149.5l4.3 1.2 4.2 .7 2.4-3 2.3-3-4.2-.7-4.2-1.1-2.4 2.9z"/>
<path color="#bc5601" d="M175.7 139.2l2.1-.5 1.1-1.5-2.1 .5z"/>
<path color="#bc5601" d="M176.8 137.7l2.1-.5 1.1-1.4-2.2 .5z"/>
<path color="#bc5601" d="M177.8 136.3l2.2-.5 1.1-1.4-2.2 .5z"/>
<path color="#bc5601" d="M178.9 134.9l2.2-.5 1.1-1.5-2.2 .5z"/>
<path color="#b45202" d="M177.8 138.7l2.2-.7 1.1-1.4-2.2 .6z"/>
<path color="#b45202" d="M178.9 137.2l2.2-.6 1.1-1.5-2.2 .7z"/>
<path color="#b45202" d="M180 135.8l2.2-.7 1.1-1.4-2.2 .7z"/>
<path color="#b45202" d="M181.1 134.4l2.2-.7 1.1-1.4-2.2 .6z"/>
<path color="#ab4d02" d="M180 138l2.3-.8 1-1.5-2.2 .9z"/>
<path color="#ab4d02" d="M181.1 136.6l2.2-.9 1.1-1.4-2.2 .8z"/>
<path color="#ab4d02" d="M182.2 135.1l2.2-.8 1.1-1.5-2.2 .9z"/>
<path color="#ab4d02" d="M183.3 133.7l2.2-.9 1.1-1.4-2.2 .9z"/>
<path color="#a24902" d="M182.3 137.2l2.2-1.1 1.1-1.5-2.3 1.1z"/>
<path color="#a24902" d="M183.3 135.7l2.3-1.1 1.1-1.4-2.3 1.1z"/>
<path color="#a24902" d="M184.4 134.3l2.3-1.1 1-1.5-2.2 1.1z"/>
<path color="#a24902" d="M185.5 132.8l2.2-1.1 1.1-1.4-2.2 1.1z"/>
<path class="m" d="M175.7 139.2l4.3-1.2 4.5-1.9 2.2-2.9 2.1-2.9-4.4 2-4.4 1.1-2.2 2.9z"/>
<path color="#ffd203" d="M89.6 90.9l8.8 10.5 5.5-4.9-8.6-10.4z"/>
<path class="m" d="M89.6 90.9l4.4 5.1 4.4 5.4 2.8-2.5 2.7-2.4-4.3-5.4-4.3-5-2.8 2.4z"/>
<path color="#ffc000" d="M81 83l2.1 1.7 1.5-1.2-2.1-1.6z"/>
<path color="#ffc000" d="M82.5 81.9l2.1 1.6 1.5-1.2-2.1-1.6z"/>
<path color="#ffc100" d="M84 80.7l2.1 1.6 1.4-1.2-2.1-1.6z"/>
<path color="#ffc200" d="M85.4 79.5l2.1 1.6 1.4-1.2-2-1.6z"/>
<path color="#ffca01" d="M83.1 84.7l2.2 1.8 1.4-1.2-2.1-1.8z"/>
<path color="#ffca01" d="M84.6 83.5l2.1 1.8 1.5-1.2-2.1-1.8z"/>
<path color="#ffca01" d="M86.1 82.3l2.1 1.8 1.4-1.2-2.1-1.8z"/>
<path color="#ffca01" d="M87.5 81.1l2.1 1.8 1.4-1.1-2.1-1.9z"/>
<path color="#ffce01" d="M85.3 86.5l2.1 2.1 1.5-1.2-2.2-2.1z"/>
<path color="#ffce01" d="M86.7 85.3l2.2 2.1 1.4-1.2-2.1-2.1z"/>
<path color="#ffce01" d="M88.2 84.1l2.1 2.1 1.4-1.2-2.1-2.1z"/>
<path color="#ffce01" d="M89.6 82.9l2.1 2.1 1.5-1.2-2.2-2z"/>
<path color="#ffd002" d="M87.4 88.6l2.2 2.3 1.4-1.2-2.1-2.3z"/>
<path color="#ffd002" d="M88.9 87.4l2.1 2.3 1.5-1.2-2.2-2.3z"/>
<path color="#ffd002" d="M90.3 86.2l2.2 2.3 1.4-1.2-2.2-2.3z"/>
<path color="#ffd002" d="M91.7 85l2.2 2.3 1.4-1.2-2.1-2.3z"/>
<path class="m" d="M81 83l4.3 3.5 4.3 4.4 2.9-2.4 2.8-2.4-4.3-4.3-4.1-3.5-2.9 2.4z"/>
<path color="#9a4403" d="M188.8 130.3l2.3-1.3 1-1.4-2.2 1.3z"/>
<path color="#9a4403" d="M189.9 128.9l2.2-1.3 1.1-1.4-2.3 1.3z"/>
<path color="#9a4403" d="M190.9 127.5l2.3-1.3 1-1.4-2.3 1.3z"/>
<path color="#9a4403" d="M191.9 126.1l2.3-1.3 1-1.4-2.2 1.3z"/>
<path color="#8f3f03" d="M191.1 129l2.3-1.5 1-1.4-2.3 1.5z"/>
<path color="#8f3f03" d="M192.1 127.6l2.3-1.5 1.1-1.4-2.3 1.5z"/>
<path color="#903f03" d="M193.2 126.2l2.3-1.5 1-1.4-2.3 1.5z"/>
<path color="#903f03" d="M194.2 124.8l2.3-1.5 1-1.4-2.3 1.5z"/>
<path color="#843904" d="M193.4 127.5l2.3-1.6 1.1-1.4-2.4 1.6z"/>
<path color="#843904" d="M194.4 126.1l2.4-1.6 1-1.4-2.3 1.6z"/>
<path color="#853904" d="M195.5 124.7l2.3-1.6 1-1.4-2.3 1.6z"/>
<path color="#853904" d="M196.5 123.3l2.3-1.6 1-1.4-2.3 1.6z"/>
<path color="#7e3604" d="M195.7 125.9l2.4-1.8 1-1.4-2.3 1.8z"/>
<path color="#7e3604" d="M196.8 124.5l2.3-1.8 1.1-1.4-2.4 1.8z"/>
<path color="#7e3604" d="M197.8 123.1l2.4-1.8 1-1.4-2.4 1.8z"/>
<path color="#7f3604" d="M198.8 121.7l2.4-1.8 1-1.4-2.4 1.8z"/>
<path class="m" d="M188.8 130.3l4.6-2.8 4.7-3.4 2.1-2.8 2-2.8-4.7 3.4-4.5 2.8-2.1 2.8z"/>
<path color="#e26c00" d="M157.9 151.4l2.1 .2 1.2-1.5-2.1-.2z"/>
<path color="#e26c00" d="M159.1 149.9l2.1 .2 1.2-1.5-2.1-.2z"/>
<path color="#e26c00" d="M160.3 148.4l2.1 .2 1.2-1.5-2.2-.2z"/>
<path color="#e26c00" d="M161.4 146.9l2.2 .2 1.1-1.5-2.1-.2z"/>
<path color="#d86600" d="M160 151.6l2.2 0 1.2-1.5-2.2 0z"/>
<path color="#d86600" d="M161.2 150.1l2.2 0 1.1-1.5-2.1 0z"/>
<path color="#d86500" d="M162.4 148.6l2.1 0 1.2-1.5-2.1 0z"/>
<path color="#d86500" d="M163.6 147.1l2.1 0 1.1-1.5-2.1 0z"/>
<path color="#cd5f01" d="M162.2 151.6l2.2-.1 1.1-1.5-2.1 .1z"/>
<path color="#cd5f01" d="M163.4 150.1l2.1-.1 1.2-1.6-2.2 .2z"/>
<path color="#cd5f01" d="M164.5 148.6l2.2-.2 1.2-1.5-2.2 .2z"/>
<path color="#cd5f01" d="M165.7 147.1l2.2-.2 1.1-1.5-2.2 .2z"/>
<path color="#c45a01" d="M164.4 151.5l2.2-.3 1.1-1.5-2.2 .3z"/>
<path color="#c45a01" d="M165.5 150l2.2-.3 1.2-1.6-2.2 .3z"/>
<path color="#c45a01" d="M166.7 148.4l2.2-.3 1.1-1.5-2.1 .3z"/>
<path color="#c45a01" d="M167.9 146.9l2.1-.3 1.2-1.5-2.2 .3z"/>
<path class="m" d="M157.9 151.4l4.3 .2 4.4-.4 2.3-3.1 2.3-3-4.4 .5-4.2-.2-2.3 3z"/>
<path color="#7e3604" d="M202.2 118.5l2.4-1.7 1-1.4-2.4 1.8z"/>
<path color="#7e3604" d="M203.2 117.2l2.4-1.8 1-1.4-2.4 1.8z"/>
<path color="#7e3604" d="M204.2 115.8l2.4-1.8 1-1.3-2.4 1.8z"/>
<path color="#7f3604" d="M205.2 114.5l2.4-1.8 1-1.4-2.4 1.8z"/>
<path color="#853904" d="M204.6 116.8l2.4-1.7 1-1.4-2.4 1.7z"/>
<path color="#843904" d="M205.6 115.4l2.4-1.7 1-1.3-2.4 1.6z"/>
<path color="#843904" d="M206.6 114l2.4-1.6 1-1.4-2.4 1.7z"/>
<path color="#843904" d="M207.6 112.7l2.4-1.7 1-1.3-2.4 1.6z"/>
<path color="#903f03" d="M207 115.1l2.4-1.5 1-1.4-2.4 1.5z"/>
<path color="#903f03" d="M208 113.7l2.4-1.5 1-1.4-2.4 1.6z"/>
<path color="#8f3f03" d="M209 112.4l2.4-1.6 1-1.3-2.4 1.5z"/>
<path color="#8f3e03" d="M210 111l2.4-1.5 1-1.4-2.4 1.6z"/>
<path color="#9b4503" d="M209.4 113.6l2.4-1.3 1-1.4-2.4 1.3z"/>
<path color="#9b4403" d="M210.4 112.2l2.4-1.3 1-1.4-2.4 1.3z"/>
<path color="#9a4403" d="M211.4 110.8l2.4-1.3 1-1.3-2.4 1.3z"/>
<path color="#9a4403" d="M212.4 109.5l2.4-1.3 1-1.4-2.4 1.3z"/>
<path class="m" d="M202.2 118.5l4.8-3.4 4.8-2.8 2-2.8 2-2.7-4.8 2.9-4.8 3.4-2 2.7z"/>
<path color="#bb5601" d="M171.2 145.1l2.2-.5 1.1-1.5-2.2 .5z"/>
<path color="#bc5601" d="M172.3 143.6l2.2-.5 1.1-1.5-2.2 .5z"/>
<path color="#bc5601" d="M173.4 142.1l2.2-.5 1.1-1.4-2.2 .4z"/>
<path color="#bc5601" d="M174.5 140.6l2.2-.4 1.1-1.5-2.1 .5z"/>
<path color="#b35202" d="M173.4 144.6l2.2-.6 1.1-1.5-2.2 .6z"/>
<path color="#b45202" d="M174.5 143.1l2.2-.6 1.1-1.5-2.2 .6z"/>
<path color="#b45202" d="M175.6 141.6l2.2-.6 1.1-1.5-2.2 .7z"/>
<path color="#b45202" d="M176.7 140.2l2.2-.7 1.1-1.5-2.2 .7z"/>
<path color="#ab4d02" d="M175.6 144l2.2-.9 1.1-1.5-2.2 .9z"/>
<path color="#ab4d02" d="M176.7 142.5l2.2-.9 1.1-1.5-2.2 .9z"/>
<path color="#ab4d02" d="M177.8 141l2.2-.9 1.2-1.5-2.3 .9z"/>
<path color="#ab4d02" d="M178.9 139.5l2.3-.9 1.1-1.4-2.3 .8z"/>
<path color="#a24802" d="M177.8 143.1l2.3-1.1 1.1-1.5-2.3 1.1z"/>
<path color="#a24902" d="M178.9 141.6l2.3-1.1 1.1-1.4-2.3 1z"/>
<path color="#a24902" d="M180 140.1l2.3-1 1.1-1.5-2.2 1z"/>
<path color="#a24902" d="M181.2 138.6l2.2-1 1.1-1.5-2.2 1.1z"/>
<path class="m" d="M171.2 145.1l4.4-1.1 4.5-2 2.2-2.9 2.2-3-4.5 1.9-4.3 1.2-2.3 2.9z"/>
<path color="#994403" d="M184.5 136.1l2.3-1.3 1.1-1.5-2.3 1.3z"/>
<path color="#994403" d="M185.6 134.6l2.3-1.3 1-1.4-2.2 1.3z"/>
<path color="#994403" d="M186.7 133.2l2.2-1.3 1.1-1.4-2.3 1.2z"/>
<path color="#9a4403" d="M187.7 131.7l2.3-1.2 1.1-1.5-2.3 1.3z"/>
<path color="#8e3e03" d="M186.8 134.8l2.3-1.5 1.1-1.5-2.3 1.5z"/>
<path color="#8e3e03" d="M187.9 133.3l2.3-1.5 1.1-1.4-2.4 1.5z"/>
<path color="#8e3e03" d="M188.9 131.9l2.4-1.5 1-1.4-2.3 1.5z"/>
<path color="#8f3e03" d="M190 130.5l2.3-1.5 1.1-1.5-2.3 1.5z"/>
<path color="#833804" d="M189.1 133.3l2.4-1.7 1-1.4-2.3 1.6z"/>
<path color="#833904" d="M190.2 131.8l2.3-1.6 1.1-1.5-2.3 1.7z"/>
<path color="#833904" d="M191.3 130.4l2.3-1.7 1.1-1.4-2.4 1.7z"/>
<path color="#843904" d="M192.3 129l2.4-1.7 1-1.4-2.3 1.6z"/>
<path color="#7d3604" d="M191.5 131.6l2.3-1.8 1.1-1.4-2.4 1.8z"/>
<path color="#7d3604" d="M192.5 130.2l2.4-1.8 1.1-1.5-2.4 1.8z"/>
<path color="#7e3604" d="M193.6 128.7l2.4-1.8 1-1.4-2.3 1.8z"/>
<path color="#7e3604" d="M194.7 127.3l2.3-1.8 1.1-1.4-2.4 1.8z"/>
<path class="m" d="M184.5 136.1l4.6-2.8 4.7-3.5 2.2-2.9 2.1-2.8-4.7 3.4-4.6 2.8-2.1 2.9z"/>
<path color="#bb5601" d="M166.6 151.2l2.2-.5 1.1-1.5-2.2 .5z"/>
<path color="#bb5601" d="M167.7 149.7l2.2-.5 1.2-1.5-2.2 .4z"/>
<path color="#bb5601" d="M168.9 148.1l2.2-.4 1.1-1.6-2.2 .5z"/>
<path color="#bb5601" d="M170 146.6l2.2-.5 1.2-1.5-2.2 .5z"/>
<path color="#b35202" d="M168.8 150.7l2.2-.6 1.1-1.6-2.2 .7z"/>
<path color="#b35202" d="M169.9 149.2l2.2-.7 1.2-1.5-2.2 .7z"/>
<path color="#b35202" d="M171.1 147.7l2.2-.7 1.1-1.5-2.2 .6z"/>
<path color="#b35202" d="M172.2 146.1l2.2-.6 1.2-1.5-2.2 .6z"/>
<path color="#aa4d02" d="M171 150.1l2.2-.8 1.2-1.6-2.3 .8z"/>
<path color="#aa4d02" d="M172.1 148.5l2.3-.8 1.1-1.5-2.2 .8z"/>
<path color="#ab4d02" d="M173.3 147l2.2-.8 1.2-1.6-2.3 .9z"/>
<path color="#ab4d02" d="M174.4 145.5l2.3-.9 1.1-1.5-2.2 .9z"/>
<path color="#a14802" d="M173.2 149.3l2.3-1.1 1.2-1.6-2.3 1.1z"/>
<path color="#a14802" d="M174.4 147.7l2.3-1.1 1.1-1.5-2.3 1.1z"/>
<path color="#a14802" d="M175.5 146.2l2.3-1.1 1.1-1.5-2.2 1z"/>
<path color="#a24802" d="M176.7 144.6l2.2-1 1.2-1.6-2.3 1.1z"/>
<path class="m" d="M166.6 151.2l4.4-1.1 4.5-1.9 2.3-3.1 2.3-3.1-4.5 2-4.4 1.1-2.3 3z"/>
<path color="#7e3604" d="M198.1 124.1l2.4-1.8 1-1.4-2.4 1.8z"/>
<path color="#7e3604" d="M199.1 122.7l2.4-1.8 1.1-1.4-2.4 1.8z"/>
<path color="#7e3604" d="M200.2 121.3l2.4-1.8 1-1.4-2.4 1.8z"/>
<path color="#7e3604" d="M201.2 119.9l2.4-1.8 1-1.3-2.4 1.7z"/>
<path color="#853a04" d="M200.5 122.3l2.4-1.6 1-1.4-2.4 1.6z"/>
<path color="#853a04" d="M201.5 120.9l2.4-1.6 1.1-1.4-2.4 1.6z"/>
<path color="#853a04" d="M202.6 119.5l2.4-1.6 1-1.4-2.4 1.6z"/>
<path color="#853904" d="M203.6 118.1l2.4-1.6 1-1.4-2.4 1.7z"/>
<path color="#924003" d="M202.9 120.7l2.4-1.5 1.1-1.4-2.5 1.5z"/>
<path color="#914003" d="M203.9 119.3l2.5-1.5 1-1.4-2.4 1.5z"/>
<path color="#914003" d="M205 117.9l2.4-1.5 1-1.4-2.4 1.5z"/>
<path color="#913f03" d="M206 116.5l2.4-1.5 1-1.4-2.4 1.5z"/>
<path color="#9d4603" d="M205.3 119.2l2.5-1.2 1-1.4-2.4 1.2z"/>
<path color="#9d4603" d="M206.4 117.8l2.4-1.2 1-1.5-2.4 1.3z"/>
<path color="#9c4503" d="M207.4 116.4l2.4-1.3 1-1.4-2.4 1.3z"/>
<path color="#9c4503" d="M208.4 115l2.4-1.3 1-1.4-2.4 1.3z"/>
<path class="m" d="M198.1 124.1l4.8-3.4 4.9-2.7 2-2.9 2-2.8-4.8 2.8-4.8 3.4-2 2.8z"/>
<path color="#984303" d="M180.1 142l2.3-1.2 1.1-1.6-2.3 1.3z"/>
<path color="#994303" d="M181.2 140.5l2.3-1.3 1.1-1.4-2.3 1.3z"/>
<path color="#994403" d="M182.3 139.1l2.3-1.3 1.1-1.5-2.3 1.3z"/>
<path color="#994403" d="M183.4 137.6l2.3-1.3 1.1-1.5-2.3 1.3z"/>
<path color="#8d3e03" d="M182.4 140.8l2.3-1.6 1.1-1.5-2.3 1.5z"/>
<path color="#8d3e03" d="M183.5 139.2l2.3-1.5 1.1-1.5-2.3 1.6z"/>
<path color="#8d3e03" d="M184.6 137.8l2.3-1.6 1.1-1.4-2.3 1.5z"/>
<path color="#8e3e03" d="M185.7 136.3l2.3-1.5 1.1-1.5-2.3 1.5z"/>
<path color="#823804" d="M184.7 139.2l2.4-1.7 1.1-1.5-2.4 1.7z"/>
<path color="#823804" d="M185.8 137.7l2.4-1.7 1.1-1.4-2.4 1.6z"/>
<path color="#823804" d="M186.9 136.2l2.4-1.6 1.1-1.5-2.4 1.7z"/>
<path color="#833804" d="M188 134.8l2.4-1.7 1.1-1.5-2.4 1.7z"/>
<path color="#7d3504" d="M187.1 137.5l2.4-1.7 1.1-1.5-2.4 1.7z"/>
<path color="#7d3504" d="M188.2 136l2.4-1.7 1.1-1.5-2.4 1.8z"/>
<path color="#7d3504" d="M189.3 134.6l2.4-1.8 1.1-1.5-2.4 1.8z"/>
<path color="#7d3604" d="M190.4 133.1l2.4-1.8 1-1.5-2.3 1.8z"/>
<path class="m" d="M180.1 142l4.6-2.8 4.8-3.4 2.2-3 2.1-3-4.7 3.5-4.6 2.8-2.2 3z"/>
<path color="#7e3604" d="M193.8 129.8l2.4-1.7 1.1-1.5-2.4 1.8z"/>
<path color="#7e3604" d="M194.9 128.4l2.4-1.8 1.1-1.4-2.4 1.7z"/>
<path color="#7e3604" d="M196 126.9l2.4-1.7 1-1.5-2.4 1.8z"/>
<path color="#7e3604" d="M197 125.5l2.4-1.8 1.1-1.4-2.4 1.8z"/>
<path color="#873a04" d="M196.2 128.1l2.5-1.7 1-1.4-2.4 1.6z"/>
<path color="#863a04" d="M197.3 126.6l2.4-1.6 1.1-1.5-2.4 1.7z"/>
<path color="#863a04" d="M198.4 125.2l2.4-1.7 1.1-1.4-2.5 1.6z"/>
<path color="#863a04" d="M199.4 123.7l2.5-1.6 1-1.4-2.4 1.6z"/>
<path color="#944103" d="M198.7 126.4l2.4-1.4 1.1-1.4-2.5 1.4z"/>
<path color="#934003" d="M199.7 125l2.5-1.4 1-1.5-2.4 1.4z"/>
<path color="#924003" d="M200.8 123.5l2.4-1.4 1.1-1.4-2.4 1.4z"/>
<path color="#924003" d="M201.9 122.1l2.4-1.4 1-1.5-2.4 1.5z"/>
<path color="#a04703" d="M201.1 125l2.5-1.1 1-1.5-2.4 1.2z"/>
<path color="#9f4703" d="M202.2 123.6l2.4-1.2 1.1-1.5-2.5 1.2z"/>
<path color="#9e4703" d="M203.2 122.1l2.5-1.2 1-1.4-2.4 1.2z"/>
<path color="#9e4603" d="M204.3 120.7l2.4-1.2 1.1-1.5-2.5 1.2z"/>
<path class="m" d="M193.8 129.8l4.9-3.4 4.9-2.5 2.1-3 2.1-2.9-4.9 2.7-4.8 3.4-2.1 2.8z"/>
<path color="#974303" d="M175.5 148.2l2.3-1.3 1.2-1.6-2.3 1.3z"/>
<path color="#974303" d="M176.7 146.6l2.3-1.3 1.1-1.5-2.3 1.3z"/>
<path color="#984303" d="M177.8 145.1l2.3-1.3 1.1-1.5-2.3 1.3z"/>
<path color="#984303" d="M178.9 143.6l2.3-1.3 1.2-1.5-2.3 1.2z"/>
<path color="#8c3d03" d="M177.8 146.9l2.4-1.5 1.1-1.6-2.3 1.5z"/>
<path color="#8c3d03" d="M179 145.3l2.3-1.5 1.1-1.5-2.3 1.5z"/>
<path color="#8c3d03" d="M180.1 143.8l2.3-1.5 1.2-1.5-2.4 1.5z"/>
<path color="#8d3d03" d="M181.2 142.3l2.4-1.5 1.1-1.6-2.3 1.6z"/>
<path color="#813704" d="M180.2 145.4l2.3-1.7 1.2-1.6-2.4 1.7z"/>
<path color="#813804" d="M181.3 143.8l2.4-1.7 1.1-1.5-2.4 1.7z"/>
<path color="#823804" d="M182.4 142.3l2.4-1.7 1.1-1.5-2.3 1.7z"/>
<path color="#823804" d="M183.6 140.8l2.3-1.7 1.2-1.6-2.4 1.7z"/>
<path color="#7c3504" d="M182.5 143.7l2.4-1.8 1.2-1.6-2.4 1.8z"/>
<path color="#7c3504" d="M183.7 142.1l2.4-1.8 1.1-1.5-2.4 1.8z"/>
<path color="#7c3504" d="M184.8 140.6l2.4-1.8 1.1-1.5-2.4 1.8z"/>
<path color="#7c3504" d="M185.9 139.1l2.4-1.8 1.2-1.5-2.4 1.7z"/>
<path class="m" d="M175.5 148.2l4.7-2.8 4.7-3.5 2.3-3.1 2.3-3-4.8 3.4-4.6 2.8-2.3 3.1z"/>
<path color="#7e3604" d="M189.5 135.8l2.4-1.8 1.1-1.5-2.4 1.8z"/>
<path color="#7e3604" d="M190.6 134.3l2.4-1.8 1.1-1.5-2.4 1.8z"/>
<path color="#7e3604" d="M191.7 132.8l2.4-1.8 1.1-1.5-2.4 1.8z"/>
<path color="#7e3604" d="M192.8 131.3l2.4-1.8 1-1.4-2.4 1.7z"/>
<path color="#883b04" d="M191.9 134l2.4-1.6 1.1-1.5-2.4 1.6z"/>
<path color="#873b04" d="M193 132.5l2.4-1.6 1.1-1.5-2.4 1.6z"/>
<path color="#873b04" d="M194.1 131l2.4-1.6 1.1-1.5-2.4 1.6z"/>
<path color="#873a04" d="M195.2 129.5l2.4-1.6 1.1-1.5-2.5 1.7z"/>
<path color="#954203" d="M194.3 132.4l2.5-1.4 1.1-1.5-2.5 1.4z"/>
<path color="#954203" d="M195.4 130.9l2.5-1.4 1.1-1.5-2.5 1.4z"/>
<path color="#954103" d="M196.5 129.4l2.5-1.4 1-1.5-2.4 1.4z"/>
<path color="#944103" d="M197.6 127.9l2.4-1.4 1.1-1.5-2.4 1.4z"/>
<path color="#a24902" d="M196.8 131l2.4-1.1 1.1-1.5-2.4 1.1z"/>
<path color="#a24802" d="M197.9 129.5l2.4-1.1 1.1-1.5-2.4 1.1z"/>
<path color="#a14802" d="M199 128l2.4-1.1 1.1-1.5-2.5 1.1z"/>
<path color="#a04803" d="M200 126.5l2.5-1.1 1.1-1.5-2.5 1.1z"/>
<path class="m" d="M189.5 135.8l4.8-3.4 4.9-2.5 2.2-3 2.2-3-4.9 2.5-4.9 3.4-2.1 3z"/>
<path color="#7e3604" d="M184.9 141.9l2.5-1.8 1.1-1.6-2.4 1.8z"/>
<path color="#7e3604" d="M186.1 140.3l2.4-1.8 1.1-1.5-2.4 1.8z"/>
<path color="#7e3604" d="M187.2 138.8l2.4-1.8 1.2-1.5-2.5 1.8z"/>
<path color="#7e3604" d="M188.3 137.3l2.5-1.8 1.1-1.5-2.4 1.8z"/>
<path color="#893c04" d="M187.4 140.1l2.4-1.6 1.2-1.5-2.5 1.5z"/>
<path color="#883b04" d="M188.5 138.5l2.5-1.5 1.1-1.6-2.5 1.6z"/>
<path color="#883b04" d="M189.6 137l2.5-1.6 1.1-1.5-2.4 1.6z"/>
<path color="#883b04" d="M190.8 135.5l2.4-1.6 1.1-1.5-2.4 1.6z"/>
<path color="#974303" d="M189.8 138.5l2.5-1.3 1.1-1.6-2.4 1.4z"/>
<path color="#964203" d="M191 137l2.4-1.4 1.2-1.5-2.5 1.3z"/>
<path color="#964203" d="M192.1 135.4l2.5-1.3 1.1-1.6-2.5 1.4z"/>
<path color="#964203" d="M193.2 133.9l2.5-1.4 1.1-1.5-2.5 1.4z"/>
<path color="#a44a02" d="M192.3 137.2l2.5-1 1.1-1.6-2.5 1z"/>
<path color="#a44902" d="M193.4 135.6l2.5-1 1.1-1.6-2.4 1.1z"/>
<path color="#a34902" d="M194.6 134.1l2.4-1.1 1.1-1.5-2.4 1z"/>
<path color="#a34902" d="M195.7 132.5l2.4-1 1.1-1.6-2.4 1.1z"/>
<path class="m" d="M184.9 141.9l4.9-3.4 5-2.3 2.2-3.2 2.2-3.1-4.9 2.5-4.8 3.4-2.3 3z"/></g>
<path class="bf" d="M76.1 79.8L197.2 121.9"/>
<path class="ax" d="M194.3 172.3L251.9 84.1M60.4 119.9L194.3 172.3M60.4 119.9L52.8 71.7"/>
<path class="tk" d="M60.4 119.9l-1.6 1.5M68.4 123.0l-0.9 0.8M76.4 126.2l-0.9 0.8M84.6 129.4l-0.8 0.9M93.0 132.7l-0.8 0.9M101.5 136.0l-1.5 1.6M110.1 139.3l-0.8 0.9M118.8 142.8l-0.8 0.9M127.7 146.3l-0.8 0.9M136.7 149.8l-0.8 0.9M145.9 153.4l-1.4 1.7M155.3 157.0l-0.7 1.0M164.8 160.8l-0.7 1.0M174.4 164.5l-0.7 1.0M184.3 168.4l-0.7 1.0M194.3 172.3l-1.2 1.8M194.3 172.3l1.1 0.4M200.1 163.4l1.1 0.4M205.7 154.8l2.1 0.8M211.1 146.5l1.1 0.4M216.3 138.6l1.1 0.4M221.3 130.9l1.1 0.4M226.2 123.5l2.1 0.7M230.8 116.4l1.1 0.4M235.3 109.5l1.1 0.4M239.7 102.8l1.1 0.4M243.9 96.4l2.1 0.7M248.0 90.2l1.1 0.4M251.9 84.1l1.1 0.3M53.0 73.1l-1.2 -0.4M55.3 87.8l-1.2 -0.4M56.5 95.1l-1.2 -0.4M58.0 104.5l-1.2 -0.5M59.9 117.0l-1.2 -0.5"/>
<text class="t" x="50.0" y="75.7" text-anchor="end" word-spacing="-1.7">4 × 10<tspan dy="-3.2" font-size="5.6">−7</tspan></text>
<text class="t" x="52.4" y="89.7" text-anchor="end">0</text>
<text class="t" x="51.3" y="96.9" text-anchor="end" word-spacing="-1.7">−2 × 10<tspan dy="-3.2" font-size="5.6">−7</tspan></text>
<text class="t" x="54.8" y="106.4" text-anchor="end" word-spacing="-1.7">−5 × 10<tspan dy="-3.2" font-size="5.6">−7</tspan></text>
<text class="t" x="57.0" y="119.5" text-anchor="end" word-spacing="-1.7">−9 × 10<tspan dy="-3.2" font-size="5.6">−7</tspan></text>
<text class="l" x="2.9" y="87.4" text-anchor="start">Δx/mm</text>
<text class="t" x="56.3" y="129.4" text-anchor="middle">60</text>
<text class="t" x="96.5" y="145.5" text-anchor="middle">70</text>
<text class="t" x="139.8" y="162.5" text-anchor="middle">80</text>
<text class="t" x="187.0" y="180.3" text-anchor="middle">90</text>
<text class="l" x="105.0" y="161.0" text-anchor="start">B/°</text>
<text class="t" x="209.0" y="158.3" text-anchor="start">−2</text>
<text class="t" x="228.0" y="128.3" text-anchor="start">0</text>
<text class="t" x="246.5" y="102.7" text-anchor="start">2</text>
<text class="l" x="238.3" y="131.2" text-anchor="start">l/°</text>
<text class="cap" transform="translate(74.3 204.2) scale(0.92 1)"><tspan x="0" font-weight="bold">(a)</tspan><tspan x="18.0" font-size="9.8px">△</tspan><tspan x="30.4" font-style="italic">x</tspan><tspan x="41.5">(expanding to</tspan><tspan x="105.7" font-style="italic">n</tspan><tspan x="111.5" dy="-3.8" font-size="7.4px">5</tspan><tspan x="118.0" dy="3.8">)</tspan></text>
</g>
<g>
<path class="bx" d="M344.7 120.5L421.8 48.5M481.1 173.9L481.8 163.3M539.9 84.0L546.3 37.1M421.8 48.5L539.9 84.0M421.8 48.5L420.2 4.1M336.9 71.4L342.1 73.2M336.9 71.4L420.2 4.1M484.1 122.5L546.3 37.1M420.2 4.1L546.3 37.1"/>
<g class="s"><path color="#ffc700" d="M418.7 12.2l7 5.8 4.1-3.3-6.9-5.8z"/>
<path class="m" d="M418.7 12.2l3.5 2.9 3.5 2.9 2-1.7 2.1-1.6-3.5-2.9-3.4-2.9-2.1 1.6z"/>
<path color="#ffc700" d="M425.7 18l6.9 5.7 4.1-3.5-6.9-5.5z"/>
<path class="m" d="M425.7 18l3.5 2.9 3.4 2.8 2.1-1.8 2-1.7-3.5-2.7-3.4-2.8-2.1 1.6z"/>
<path color="#ffc600" d="M432.6 23.7l7 5.4 4-3.5-6.9-5.4z"/>
<path class="m" d="M432.6 23.7l3.5 2.7 3.5 2.7 2-1.7 2-1.8-3.5-2.6-3.4-2.8-2 1.7z"/>
<path color="#ffc600" d="M439.6 29.1l7 5.3 3.9-3.5-6.9-5.3z"/>
<path class="m" d="M439.6 29.1l3.5 2.7 3.5 2.6 2-1.8 1.9-1.7-3.5-2.6-3.4-2.7-2 1.8z"/>
<path color="#ffc500" d="M446.6 34.4l7.1 5.2 3.8-3.6-7-5.1z"/>
<path class="m" d="M446.6 34.4l3.6 2.6 3.5 2.6 1.9-1.8 1.9-1.8-3.5-2.6-3.5-2.5-1.9 1.7z"/>
<path color="#ffc700" d="M414.4 15.6l7.1 5.9 4.2-3.5-7-5.8z"/>
<path class="m" d="M414.4 15.6l3.6 3 3.5 2.9 2.1-1.7 2.1-1.8-3.5-2.9-3.5-2.9-2.1 1.7z"/>
<path color="#ffc400" d="M453.7 39.6l7 5 3.7-3.7-6.9-4.9z"/>
<path class="m" d="M453.7 39.6l3.5 2.5 3.5 2.5 1.9-1.9 1.8-1.8-3.5-2.4-3.4-2.5-1.9 1.8z"/>
<path color="#ffc700" d="M421.5 21.5l7 5.7 4.1-3.5-6.9-5.7z"/>
<path class="m" d="M421.5 21.5l3.5 2.9 3.5 2.8 2.1-1.8 2-1.7-3.4-2.8-3.5-2.9-2.1 1.8z"/>
<path color="#ffc400" d="M460.7 44.6l7.1 4.8 3.6-3.7-7-4.8z"/>
<path class="m" d="M460.7 44.6l3.6 2.4 3.5 2.4 1.8-1.8 1.8-1.9-3.5-2.4-3.5-2.4-1.8 1.8z"/>
<path color="#ffc300" d="M467.8 49.4l7.2 4.7 3.5-3.7-7.1-4.7z"/>
<path class="m" d="M467.8 49.4l3.6 2.4 3.6 2.3 1.7-1.8 1.8-1.9-3.5-2.3-3.6-2.4-1.8 1.9z"/>
<path color="#ffc600" d="M428.5 27.2l7.1 5.5 4-3.6-7-5.4z"/>
<path class="m" d="M428.5 27.2l3.6 2.8 3.5 2.7 2-1.8 2-1.8-3.5-2.7-3.5-2.7-2 1.7z"/>
<path color="#ffc200" d="M475 54.1l7.1 4.6 3.5-3.8-7.1-4.5z"/>
<path class="m" d="M475 54.1l3.5 2.4 3.6 2.2 1.8-1.9 1.7-1.9-3.6-2.2-3.5-2.3-1.8 1.9z"/>
<path color="#ffc600" d="M435.6 32.7l7.1 5.4 3.9-3.7-7-5.3z"/>
<path class="m" d="M435.6 32.7l3.6 2.7 3.5 2.7 2-1.9 1.9-1.8-3.5-2.6-3.5-2.7-2 1.8z"/>
<path color="#ffc100" d="M482.1 58.7l7.3 4.5 3.3-3.8-7.1-4.5z"/>
<path class="m" d="M482.1 58.7l3.6 2.3 3.7 2.2 1.6-1.9 1.7-1.9-3.5-2.2-3.6-2.3-1.7 1.9z"/>
<path color="#ffc500" d="M442.7 38.1l7.1 5.2 3.9-3.7-7.1-5.2z"/>
<path class="m" d="M442.7 38.1l3.6 2.6 3.5 2.6 2-1.9 1.9-1.8-3.5-2.6-3.6-2.6-1.9 1.8z"/>
<path color="#ffc000" d="M489.4 63.2l7.2 4.4 3.3-3.9-7.2-4.3z"/>
<path class="m" d="M489.4 63.2l3.6 2.2 3.6 2.2 1.7-1.9 1.6-2-3.6-2.1-3.6-2.2-1.7 1.9z"/>
<path color="#ffc801" d="M410.1 19l7.1 6 4.3-3.5-7.1-5.9z"/>
<path class="m" d="M410.1 19l3.5 3.1 3.6 2.9 2.2-1.7 2.1-1.8-3.5-2.9-3.6-3-2.1 1.7z"/>
<path color="#ffc500" d="M449.8 43.3l7.2 5 3.7-3.7-7-5z"/>
<path class="m" d="M449.8 43.3l3.6 2.5 3.6 2.5 1.9-1.9 1.8-1.8-3.5-2.5-3.5-2.5-1.9 1.8z"/>
<path color="#ffbf00" d="M496.6 67.6l7.3 4.3 3.3-4-7.3-4.2z"/>
<path class="m" d="M496.6 67.6l3.7 2.2 3.6 2.1 1.7-2 1.6-2-3.7-2.1-3.6-2.1-1.6 2z"/>
<path color="#ffc700" d="M417.2 25l7.1 5.8 4.2-3.6-7-5.7z"/>
<path class="m" d="M417.2 25l3.6 2.9 3.5 2.9 2.2-1.8 2-1.8-3.5-2.8-3.5-2.9-2.1 1.8z"/>
<path color="#ffbf00" d="M503.9 71.9l7.4 4.2 3.2-4-7.3-4.2z"/>
<path class="m" d="M503.9 71.9l3.7 2.1 3.7 2.1 1.6-2 1.6-2-3.7-2.1-3.6-2.1-1.6 2z"/>
<path color="#ffc400" d="M457 48.3l7.1 4.9 3.7-3.8-7.1-4.8z"/>
<path class="m" d="M457 48.3l3.5 2.5 3.6 2.4 1.9-1.9 1.8-1.9-3.5-2.4-3.6-2.4-1.8 1.8z"/>
<path color="#ffbf00" d="M511.3 76.1l7.5 4.2 3-4.2-7.3-4z"/>
<path class="m" d="M511.3 76.1l3.7 2.1 3.8 2.1 1.5-2.1 1.5-2.1-3.7-2-3.6-2-1.6 2z"/>
<path color="#ffc600" d="M424.3 30.8l7.2 5.6 4.1-3.7-7.1-5.5z"/>
<path class="m" d="M424.3 30.8l3.6 2.8 3.6 2.8 2.1-1.8 2-1.9-3.5-2.7-3.6-2.8-2 1.8z"/>
<path color="#ffc300" d="M464.1 53.2l7.2 4.8 3.7-3.9-7.2-4.7z"/>
<path class="m" d="M464.1 53.2l3.6 2.4 3.6 2.4 1.9-1.9 1.8-2-3.6-2.3-3.6-2.4-1.8 1.9z"/>
<path color="#ffbf00" d="M518.8 80.3l7.5 4 3-4.2-7.5-4z"/>
<path class="m" d="M518.8 80.3l3.7 2 3.8 2 1.5-2.1 1.5-2.1-3.8-2-3.7-2-1.5 2.1z"/>
<path color="#ffbf00" d="M526.3 84.3l7.6 4 2.9-4.3-7.5-3.9z"/>
<path class="m" d="M526.3 84.3l3.8 2 3.8 2 1.4-2.1 1.5-2.2-3.8-1.9-3.7-2-1.5 2.1z"/>
<path color="#ffc200" d="M471.3 58l7.3 4.6 3.5-3.9-7.1-4.6z"/>
<path class="m" d="M471.3 58l3.7 2.3 3.6 2.3 1.8-1.9 1.7-2-3.6-2.2-3.5-2.4-1.8 2z"/>
<path color="#ffc600" d="M431.5 36.4l7.2 5.4 4-3.7-7.1-5.4z"/>
<path class="m" d="M431.5 36.4l3.6 2.7 3.6 2.7 2-1.9 2-1.8-3.5-2.7-3.6-2.7-2 1.9z"/>
<path color="#ffc100" d="M478.6 62.6l7.3 4.6 3.5-4-7.3-4.5z"/>
<path class="m" d="M478.6 62.6l3.6 2.3 3.7 2.3 1.7-2 1.8-2-3.7-2.2-3.6-2.3-1.7 2z"/>
<path color="#ffc500" d="M438.7 41.8l7.2 5.3 3.9-3.8-7.1-5.2z"/>
<path class="m" d="M438.7 41.8l3.6 2.7 3.6 2.6 1.9-1.9 2-1.9-3.5-2.6-3.6-2.6-2 1.8z"/>
<path color="#ffc801" d="M405.6 22.6l7.2 6.1 4.4-3.7-7.1-6z"/>
<path class="m" d="M405.6 22.6l3.6 3.1 3.6 3 2.2-1.9 2.2-1.8-3.6-2.9-3.5-3.1-2.3 1.8z"/>
<path color="#ffc000" d="M485.9 67.2l7.3 4.4 3.4-4-7.2-4.4z"/>
<path class="m" d="M485.9 67.2l3.7 2.2 3.6 2.2 1.7-2 1.7-2-3.6-2.2-3.6-2.2-1.8 2z"/>
<path color="#ffc500" d="M445.9 47.1l7.2 5.1 3.9-3.9-7.2-5z"/>
<path class="m" d="M445.9 47.1l3.6 2.5 3.6 2.6 1.9-2 2-1.9-3.6-2.5-3.6-2.5-2 1.9z"/>
<path color="#ffc000" d="M493.2 71.6l7.5 4.4 3.2-4.1-7.3-4.3z"/>
<path class="m" d="M493.2 71.6l3.7 2.2 3.8 2.2 1.6-2.1 1.6-2-3.6-2.1-3.7-2.2-1.7 2z"/>
<path color="#ffc700" d="M412.8 28.7l7.2 5.8 4.3-3.7-7.1-5.8z"/>
<path class="m" d="M412.8 28.7l3.6 2.9 3.6 2.9 2.2-1.8 2.1-1.9-3.5-2.9-3.6-2.9-2.2 1.8z"/>
<path color="#ffc000" d="M500.7 76l7.4 4.3 3.2-4.2-7.4-4.2z"/>
<path class="m" d="M500.7 76l3.7 2.2 3.7 2.1 1.6-2.1 1.6-2.1-3.7-2.1-3.7-2.1-1.6 2z"/>
<path color="#ffc400" d="M453.1 52.2l7.2 4.9 3.8-3.9-7.1-4.9z"/>
<path class="m" d="M453.1 52.2l3.6 2.4 3.6 2.5 1.9-2 1.9-1.9-3.6-2.4-3.5-2.5-2 1.9z"/>
<path color="#ffc000" d="M508.1 80.3l7.5 4.2 3.2-4.2-7.5-4.2z"/>
<path class="m" d="M508.1 80.3l3.8 2.1 3.7 2.1 1.6-2.1 1.6-2.1-3.8-2.1-3.7-2.1-1.6 2.1z"/>
<path color="#ffc600" d="M420 34.5l7.3 5.7 4.2-3.8-7.2-5.6z"/>
<path class="m" d="M420 34.5l3.6 2.9 3.7 2.8 2.1-1.9 2.1-1.9-3.6-2.8-3.6-2.8-2.1 1.9z"/>
<path color="#ffc300" d="M460.3 57.1l7.3 4.8 3.7-3.9-7.2-4.8z"/>
<path class="m" d="M460.3 57.1l3.7 2.4 3.6 2.4 1.9-2 1.8-1.9-3.6-2.4-3.6-2.4-1.9 1.9z"/>
<path color="#ffc000" d="M515.6 84.5l7.6 4.1 3.1-4.3-7.5-4z"/>
<path class="m" d="M515.6 84.5l3.8 2.1 3.8 2 1.6-2.1 1.5-2.2-3.8-2-3.7-2-1.6 2.1z"/>
<path color="#ffc000" d="M523.2 88.6l7.7 4.1 3-4.4-7.6-4z"/>
<path class="m" d="M523.2 88.6l3.9 2.1 3.8 2 1.5-2.2 1.5-2.2-3.8-2-3.8-2-1.5 2.2z"/>
<path color="#ffc600" d="M427.3 40.2l7.2 5.4 4.2-3.8-7.2-5.4z"/>
<path class="m" d="M427.3 40.2l3.6 2.7 3.6 2.7 2.1-1.9 2.1-1.9-3.6-2.7-3.6-2.7-2.1 1.9z"/>
<path color="#ffc200" d="M467.6 61.9l7.4 4.7 3.6-4-7.3-4.6z"/>
<path class="m" d="M467.6 61.9l3.7 2.4 3.7 2.3 1.8-2 1.8-2-3.6-2.3-3.7-2.3-1.8 1.9z"/>
<path color="#ffc100" d="M475 66.6l7.3 4.6 3.6-4-7.3-4.6z"/>
<path class="m" d="M475 66.6l3.6 2.4 3.7 2.2 1.8-2 1.8-2-3.7-2.3-3.6-2.3-1.8 2z"/>
<path color="#ffc500" d="M434.5 45.6l7.3 5.3 4.1-3.8-7.2-5.3z"/>
<path class="m" d="M434.5 45.6l3.7 2.7 3.6 2.6 2-1.9 2.1-1.9-3.6-2.6-3.6-2.7-2.1 1.9z"/>
<path color="#ffc801" d="M401 26.2l7.3 6.2 4.5-3.7-7.2-6.1z"/>
<path class="m" d="M401 26.2l3.6 3.1 3.7 3.1 2.3-1.9 2.2-1.8-3.6-3-3.6-3.1-2.3 1.8z"/>
<path color="#ffc100" d="M482.3 71.2l7.5 4.6 3.4-4.2-7.3-4.4z"/>
<path class="m" d="M482.3 71.2l3.8 2.3 3.7 2.3 1.7-2.1 1.7-2.1-3.6-2.2-3.7-2.2-1.8 2z"/>
<path color="#ffc500" d="M441.8 50.9l7.3 5.2 4-3.9-7.2-5.1z"/>
<path class="m" d="M441.8 50.9l3.6 2.6 3.7 2.6 2-2 2-1.9-3.6-2.6-3.6-2.5-2.1 1.9z"/>
<path color="#ffc000" d="M489.8 75.8l7.5 4.4 3.4-4.2-7.5-4.4z"/>
<path class="m" d="M489.8 75.8l3.7 2.2 3.8 2.2 1.7-2.1 1.7-2.1-3.8-2.2-3.7-2.2-1.7 2.1z"/>
<path color="#ffc700" d="M408.3 32.4l7.3 5.9 4.4-3.8-7.2-5.8z"/>
<path class="m" d="M408.3 32.4l3.7 3 3.6 2.9 2.2-1.9 2.2-1.9-3.6-2.9-3.6-2.9-2.2 1.8z"/>
<path color="#ffc400" d="M449.1 56.1l7.3 5 3.9-4-7.2-4.9z"/>
<path class="m" d="M449.1 56.1l3.7 2.5 3.6 2.5 2-2 1.9-2-3.6-2.5-3.6-2.4-2 1.9z"/>
<path color="#ffc000" d="M497.3 80.2l7.5 4.3 3.3-4.2-7.4-4.3z"/>
<path class="m" d="M497.3 80.2l3.7 2.2 3.8 2.1 1.7-2.1 1.6-2.1-3.7-2.1-3.7-2.2-1.7 2.1z"/>
<path color="#ffc600" d="M415.6 38.3l7.3 5.7 4.4-3.8-7.3-5.7z"/>
<path class="m" d="M415.6 38.3l3.7 2.9 3.6 2.8 2.2-1.9 2.2-1.9-3.7-2.8-3.6-2.9-2.2 1.9z"/>
<path color="#ffc000" d="M504.8 84.5l7.6 4.3 3.2-4.3-7.5-4.2z"/>
<path class="m" d="M504.8 84.5l3.8 2.2 3.8 2.1 1.7-2.2 1.5-2.1-3.7-2.1-3.8-2.1-1.6 2.1z"/>
<path color="#ffc300" d="M456.4 61.1l7.4 4.9 3.8-4.1-7.3-4.8z"/>
<path class="m" d="M456.4 61.1l3.7 2.4 3.7 2.5 1.9-2.1 1.9-2-3.6-2.4-3.7-2.4-1.9 2z"/>
<path color="#ffc100" d="M512.4 88.8l7.7 4.3 3.1-4.5-7.6-4.1z"/>
<path class="m" d="M512.4 88.8l3.9 2.2 3.8 2.1 1.6-2.3 1.5-2.2-3.8-2-3.8-2.1-1.5 2.1z"/>
<path color="#ffc600" d="M422.9 44l7.4 5.6 4.2-4-7.2-5.4z"/>
<path class="m" d="M422.9 44l3.7 2.8 3.7 2.8 2.1-2 2.1-2-3.6-2.7-3.6-2.7-2.2 1.9z"/>
<path color="#ffc200" d="M520.1 93.1l7.8 4.2 3-4.6-7.7-4.1z"/>
<path class="m" d="M520.1 93.1l3.9 2.1 3.9 2.1 1.5-2.3 1.5-2.3-3.8-2-3.9-2.1-1.5 2.2z"/>
<path color="#ffc200" d="M463.8 66l7.4 4.7 3.8-4.1-7.4-4.7z"/>
<path class="m" d="M463.8 66l3.7 2.4 3.7 2.3 1.9-2 1.9-2.1-3.7-2.3-3.7-2.4-1.9 2z"/>
<path color="#ffc100" d="M471.2 70.7l7.5 4.7 3.6-4.2-7.3-4.6z"/>
<path class="m" d="M471.2 70.7l3.8 2.4 3.7 2.3 1.8-2.1 1.8-2.1-3.7-2.2-3.6-2.4-1.9 2.1z"/>
<path color="#ffc500" d="M430.3 49.6l7.3 5.3 4.2-4-7.3-5.3z"/>
<path class="m" d="M430.3 49.6l3.6 2.7 3.7 2.6 2.1-2 2.1-2-3.6-2.6-3.7-2.7-2.1 2z"/>
<path color="#ffc801" d="M396.3 29.9l7.4 6.3 4.6-3.8-7.3-6.2z"/>
<path class="m" d="M396.3 29.9l3.7 3.2 3.7 3.1 2.3-1.9 2.3-1.9-3.7-3.1-3.6-3.1-2.4 1.9z"/>
<path color="#ffc100" d="M478.7 75.4l7.5 4.6 3.6-4.2-7.5-4.6z"/>
<path class="m" d="M478.7 75.4l3.8 2.3 3.7 2.3 1.8-2.1 1.8-2.1-3.7-2.3-3.8-2.3-1.8 2.1z"/>
<path color="#ffc400" d="M437.6 54.9l7.4 5.2 4.1-4-7.3-5.2z"/>
<path class="m" d="M437.6 54.9l3.7 2.6 3.7 2.6 2.1-2 2-2-3.7-2.6-3.6-2.6-2.1 2z"/>
<path color="#ffc700" d="M403.7 36.2l7.4 6 4.5-3.9-7.3-5.9z"/>
<path class="m" d="M403.7 36.2l3.7 3 3.7 3 2.3-2 2.2-1.9-3.6-2.9-3.7-3-2.3 1.9z"/>
<path color="#ffc100" d="M486.2 80l7.6 4.5 3.5-4.3-7.5-4.4z"/>
<path class="m" d="M486.2 80l3.8 2.2 3.8 2.3 1.8-2.2 1.7-2.1-3.8-2.2-3.7-2.2-1.8 2.1z"/>
<path color="#ffc400" d="M445 60.1l7.4 5.1 4-4.1-7.3-5z"/>
<path class="m" d="M445 60.1l3.7 2.6 3.7 2.5 2.1-2.1 1.9-2-3.6-2.5-3.7-2.5-2 2z"/>
<path color="#ffc100" d="M493.8 84.5l7.6 4.4 3.4-4.4-7.5-4.3z"/>
<path class="m" d="M493.8 84.5l3.8 2.2 3.8 2.2 1.7-2.2 1.7-2.2-3.8-2.1-3.7-2.2-1.7 2.1z"/>
<path color="#ffc600" d="M411.1 42.2l7.4 5.8 4.4-4-7.3-5.7z"/>
<path class="m" d="M411.1 42.2l3.7 2.9 3.7 2.9 2.2-2 2.2-2-3.6-2.8-3.7-2.9-2.2 1.9z"/>
<path color="#ffc100" d="M501.4 88.9l7.7 4.4 3.3-4.5-7.6-4.3z"/>
<path class="m" d="M501.4 88.9l3.9 2.2 3.8 2.2 1.7-2.3 1.6-2.2-3.8-2.1-3.8-2.2-1.7 2.2z"/>
<path color="#ffc300" d="M452.4 65.2l7.5 4.9 3.9-4.1-7.4-4.9z"/>
<path class="m" d="M452.4 65.2l3.8 2.5 3.7 2.4 2-2.1 1.9-2-3.7-2.5-3.7-2.4-1.9 2z"/>
<path color="#ffc200" d="M509.1 93.3l7.8 4.3 3.2-4.5-7.7-4.3z"/>
<path class="m" d="M509.1 93.3l3.9 2.2 3.9 2.1 1.6-2.3 1.6-2.2-3.8-2.1-3.9-2.2-1.6 2.2z"/>
<path color="#ffc600" d="M418.5 48l7.4 5.6 4.4-4-7.4-5.6z"/>
<path class="m" d="M418.5 48l3.7 2.8 3.7 2.8 2.2-2 2.2-2-3.7-2.8-3.7-2.8-2.2 2z"/>
<path color="#ffc200" d="M459.9 70.1l7.5 4.8 3.8-4.2-7.4-4.7z"/>
<path class="m" d="M459.9 70.1l3.8 2.4 3.7 2.4 1.9-2.1 1.9-2.1-3.7-2.3-3.7-2.4-1.9 2z"/>
<path color="#ffc300" d="M516.9 97.6l7.8 4.3 3.2-4.6-7.8-4.2z"/>
<path class="m" d="M516.9 97.6l3.9 2.2 3.9 2.1 1.6-2.3 1.6-2.3-3.9-2.1-3.9-2.1-1.6 2.2z"/>
<path color="#ffc500" d="M425.9 53.6l7.5 5.4 4.2-4.1-7.3-5.3z"/>
<path class="m" d="M425.9 53.6l3.7 2.7 3.8 2.7 2.1-2.1 2.1-2-3.7-2.6-3.6-2.7-2.2 2z"/>
<path color="#ffc801" d="M391.4 33.8l7.5 6.3 4.8-3.9-7.4-6.3z"/>
<path class="m" d="M391.4 33.8l3.8 3.2 3.7 3.1 2.4-2 2.4-1.9-3.7-3.1-3.7-3.2-2.4 1.9z"/>
<path color="#ffc100" d="M467.4 74.9l7.6 4.8 3.7-4.3-7.5-4.7z"/>
<path class="m" d="M467.4 74.9l3.8 2.4 3.8 2.4 1.9-2.2 1.8-2.1-3.7-2.3-3.8-2.4-1.9 2.1z"/>
<path color="#ffc100" d="M475 79.7l7.6 4.6 3.6-4.3-7.5-4.6z"/>
<path class="m" d="M475 79.7l3.8 2.3 3.8 2.3 1.8-2.2 1.8-2.1-3.7-2.3-3.8-2.3-1.8 2.1z"/>
<path color="#ffc400" d="M433.4 59l7.4 5.3 4.2-4.2-7.4-5.2z"/>
<path class="m" d="M433.4 59l3.7 2.6 3.7 2.7 2.1-2.1 2.1-2.1-3.7-2.6-3.7-2.6-2.1 2z"/>
<path color="#ffc700" d="M398.9 40.1l7.5 6.1 4.7-4-7.4-6z"/>
<path class="m" d="M398.9 40.1l3.8 3.1 3.7 3 2.4-2 2.3-2-3.7-3-3.7-3-2.4 1.9z"/>
<path color="#ffc100" d="M482.6 84.3l7.7 4.6 3.5-4.4-7.6-4.5z"/>
<path class="m" d="M482.6 84.3l3.8 2.3 3.9 2.3 1.7-2.2 1.8-2.2-3.8-2.3-3.8-2.2-1.8 2.1z"/>
<path color="#ffc400" d="M440.8 64.3l7.6 5.1 4-4.2-7.4-5.1z"/>
<path class="m" d="M440.8 64.3l3.8 2.5 3.8 2.6 2-2.1 2-2.1-3.7-2.5-3.7-2.6-2.1 2.1z"/>
<path color="#ffc600" d="M406.4 46.2l7.5 5.8 4.6-4-7.4-5.8z"/>
<path class="m" d="M406.4 46.2l3.8 2.9 3.7 2.9 2.3-2 2.3-2-3.7-2.9-3.7-2.9-2.3 2z"/>
<path color="#ffc100" d="M490.3 88.9l7.7 4.5 3.4-4.5-7.6-4.4z"/>
<path class="m" d="M490.3 88.9l3.8 2.2 3.9 2.3 1.7-2.3 1.7-2.2-3.8-2.2-3.8-2.2-1.8 2.2z"/>
<path color="#ffc300" d="M448.4 69.4l7.5 5 4-4.3-7.5-4.9z"/>
<path class="m" d="M448.4 69.4l3.7 2.5 3.8 2.5 2-2.2 2-2.1-3.7-2.4-3.8-2.5-2 2.1z"/>
<path color="#ffc200" d="M498 93.4l7.8 4.4 3.3-4.5-7.7-4.4z"/>
<path class="m" d="M498 93.4l3.9 2.2 3.9 2.2 1.7-2.3 1.6-2.2-3.8-2.2-3.9-2.2-1.7 2.2z"/>
<path color="#ffc600" d="M413.9 52l7.6 5.7 4.4-4.1-7.4-5.6z"/>
<path class="m" d="M413.9 52l3.8 2.9 3.8 2.8 2.2-2.1 2.2-2-3.7-2.8-3.7-2.8-2.3 2z"/>
<path color="#ffc300" d="M505.8 97.8l7.8 4.5 3.3-4.7-7.8-4.3z"/>
<path class="m" d="M505.8 97.8l3.9 2.3 3.9 2.2 1.7-2.4 1.6-2.3-3.9-2.1-3.9-2.2-1.6 2.2z"/>
<path color="#ffc200" d="M455.9 74.4l7.6 4.9 3.9-4.4-7.5-4.8z"/>
<path class="m" d="M455.9 74.4l3.8 2.4 3.8 2.5 2-2.2 1.9-2.2-3.7-2.4-3.8-2.4-2 2.1z"/>
<path color="#ffc400" d="M513.6 102.3l7.9 4.4 3.2-4.8-7.8-4.3z"/>
<path class="m" d="M513.6 102.3l4 2.2 3.9 2.2 1.7-2.4 1.5-2.4-3.9-2.1-3.9-2.2-1.6 2.3z"/>
<path color="#ffc801" d="M386.5 37.7l7.6 6.4 4.8-4-7.5-6.3z"/>
<path class="m" d="M386.5 37.7l3.8 3.2 3.8 3.2 2.4-2 2.4-2-3.7-3.1-3.8-3.2-2.4 1.9z"/>
<path color="#ffc500" d="M421.5 57.7l7.5 5.5 4.4-4.2-7.5-5.4z"/>
<path class="m" d="M421.5 57.7l3.7 2.8 3.8 2.7 2.2-2.1 2.2-2.1-3.8-2.7-3.7-2.7-2.2 2z"/>
<path color="#ffc100" d="M463.5 79.3l7.6 4.7 3.9-4.3-7.6-4.8z"/>
<path class="m" d="M463.5 79.3l3.8 2.4 3.8 2.3 2-2.2 1.9-2.1-3.8-2.4-3.8-2.4-1.9 2.2z"/>
<path color="#ffc400" d="M429 63.2l7.6 5.3 4.2-4.2-7.4-5.3z"/>
<path class="m" d="M429 63.2l3.8 2.7 3.8 2.6 2.1-2.1 2.1-2.1-3.7-2.7-3.7-2.6-2.2 2.1z"/>
<path color="#ffc700" d="M394.1 44.1l7.6 6.2 4.7-4.1-7.5-6.1z"/>
<path class="m" d="M394.1 44.1l3.8 3.1 3.8 3.1 2.4-2.1 2.3-2-3.7-3-3.8-3.1-2.4 2z"/>
<path color="#ffc100" d="M471.1 84l7.7 4.7 3.8-4.4-7.6-4.6z"/>
<path class="m" d="M471.1 84l3.9 2.4 3.8 2.3 1.9-2.2 1.9-2.2-3.8-2.3-3.8-2.3-1.9 2.1z"/>
<path color="#ffc100" d="M478.8 88.7l7.8 4.7 3.7-4.5-7.7-4.6z"/>
<path class="m" d="M478.8 88.7l3.9 2.4 3.9 2.3 1.8-2.3 1.9-2.2-3.9-2.3-3.8-2.3-1.9 2.2z"/>
<path color="#ffc300" d="M436.6 68.5l7.6 5.2 4.2-4.3-7.6-5.1z"/>
<path class="m" d="M436.6 68.5l3.7 2.6 3.9 2.6 2.1-2.2 2.1-2.1-3.8-2.6-3.8-2.5-2.1 2.1z"/>
<path color="#ffc600" d="M401.7 50.3l7.6 5.9 4.6-4.2-7.5-5.8z"/>
<path class="m" d="M401.7 50.3l3.8 3 3.8 2.9 2.3-2.1 2.3-2.1-3.7-2.9-3.8-2.9-2.3 2z"/>
<path color="#ffc200" d="M486.6 93.4l7.8 4.6 3.6-4.6-7.7-4.5z"/>
<path class="m" d="M486.6 93.4l3.9 2.3 3.9 2.3 1.8-2.3 1.8-2.3-3.9-2.3-3.8-2.2-1.9 2.2z"/>
<path color="#ffc200" d="M444.2 73.7l7.6 5 4.1-4.3-7.5-5z"/>
<path class="m" d="M444.2 73.7l3.8 2.5 3.8 2.5 2.1-2.2 2-2.1-3.8-2.5-3.7-2.5-2.1 2.1z"/>
<path color="#ffc300" d="M494.4 98l7.9 4.5 3.5-4.7-7.8-4.4z"/>
<path class="m" d="M494.4 98l4 2.3 3.9 2.2 1.7-2.3 1.8-2.4-3.9-2.2-3.9-2.2-1.8 2.3z"/>
<path color="#ffc600" d="M409.3 56.2l7.6 5.7 4.6-4.2-7.6-5.7z"/>
<path class="m" d="M409.3 56.2l3.8 2.9 3.8 2.8 2.3-2.1 2.3-2.1-3.8-2.8-3.8-2.9-2.3 2.1z"/>
<path color="#ffc400" d="M502.3 102.5l8 4.6 3.3-4.8-7.8-4.5z"/>
<path class="m" d="M502.3 102.5l4 2.3 4 2.3 1.6-2.4 1.7-2.4-3.9-2.2-3.9-2.3-1.8 2.4z"/>
<path color="#ffc200" d="M451.8 78.7l7.7 5 4-4.4-7.6-4.9z"/>
<path class="m" d="M451.8 78.7l3.8 2.5 3.9 2.5 2-2.3 2-2.1-3.8-2.5-3.8-2.4-2 2.1z"/>
<path color="#ffc801" d="M381.4 41.7l7.7 6.5 5-4.1-7.6-6.4z"/>
<path class="m" d="M381.4 41.7l3.9 3.3 3.8 3.2 2.5-2.1 2.5-2-3.8-3.2-3.8-3.2-2.5 2z"/>
<path color="#ffc500" d="M510.3 107.1l8 4.5 3.2-4.9-7.9-4.4z"/>
<path class="m" d="M510.3 107.1l3.9 2.2 4.1 2.3 1.6-2.5 1.6-2.4-3.9-2.2-4-2.2-1.7 2.4z"/>
<path color="#ffc500" d="M416.9 61.9l7.6 5.6 4.5-4.3-7.5-5.5z"/>
<path class="m" d="M416.9 61.9l3.8 2.8 3.8 2.8 2.3-2.2 2.2-2.1-3.8-2.7-3.7-2.8-2.3 2.1z"/>
<path color="#ffc100" d="M459.5 83.7l7.7 4.8 3.9-4.5-7.6-4.7z"/>
<path class="m" d="M459.5 83.7l3.8 2.4 3.9 2.4 2-2.2 1.9-2.3-3.8-2.3-3.8-2.4-2 2.1z"/>
<path color="#ffc700" d="M389.1 48.2l7.7 6.3 4.9-4.2-7.6-6.2z"/>
<path class="m" d="M389.1 48.2l3.8 3.2 3.9 3.1 2.4-2.2 2.5-2-3.8-3.1-3.8-3.1-2.5 2z"/>
<path color="#ffc400" d="M424.5 67.5l7.7 5.4 4.4-4.4-7.6-5.3z"/>
<path class="m" d="M424.5 67.5l3.8 2.7 3.9 2.7 2.2-2.2 2.2-2.2-3.8-2.6-3.8-2.7-2.2 2.1z"/>
<path color="#ffc100" d="M467.2 88.5l7.8 4.8 3.8-4.6-7.7-4.7z"/>
<path class="m" d="M467.2 88.5l3.9 2.4 3.9 2.4 1.9-2.3 1.9-2.3-3.8-2.3-3.9-2.4-1.9 2.3z"/>
<path color="#ffc100" d="M475 93.3l7.9 4.7 3.7-4.6-7.8-4.7z"/>
<path class="m" d="M475 93.3l3.9 2.4 4 2.3 1.8-2.3 1.9-2.3-3.9-2.3-3.9-2.4-1.9 2.3z"/>
<path color="#ffc600" d="M396.8 54.5l7.7 6 4.8-4.3-7.6-5.9z"/>
<path class="m" d="M396.8 54.5l3.8 3 3.9 3 2.4-2.2 2.4-2.1-3.8-2.9-3.8-3-2.5 2z"/>
<path color="#ffc300" d="M432.2 72.9l7.6 5.2 4.4-4.4-7.6-5.2z"/>
<path class="m" d="M432.2 72.9l3.8 2.6 3.8 2.6 2.2-2.2 2.2-2.2-3.9-2.6-3.7-2.6-2.2 2.2z"/>
<path color="#ffc200" d="M482.9 98l7.9 4.7 3.6-4.7-7.8-4.6z"/>
<path class="m" d="M482.9 98l3.9 2.4 4 2.3 1.8-2.4 1.8-2.3-3.9-2.3-3.9-2.3-1.9 2.3z"/>
<path color="#ffc200" d="M439.8 78.1l7.8 5.1 4.2-4.5-7.6-5z"/>
<path class="m" d="M439.8 78.1l3.9 2.6 3.9 2.5 2.1-2.2 2.1-2.3-3.8-2.5-3.8-2.5-2.2 2.2z"/>
<path color="#ffc500" d="M404.5 60.5l7.7 5.8 4.7-4.4-7.6-5.7z"/>
<path class="m" d="M404.5 60.5l3.8 2.9 3.9 2.9 2.3-2.2 2.4-2.2-3.8-2.8-3.8-2.9-2.4 2.1z"/>
<path color="#ffc300" d="M490.8 102.7l7.9 4.6 3.6-4.8-7.9-4.5z"/>
<path class="m" d="M490.8 102.7l4 2.3 3.9 2.3 1.8-2.4 1.8-2.4-3.9-2.2-4-2.3-1.8 2.3z"/>
<path color="#ffc801" d="M376.2 45.8l7.8 6.6 5.1-4.2-7.7-6.5z"/>
<path class="m" d="M376.2 45.8l3.9 3.4 3.9 3.2 2.6-2.1 2.5-2.1-3.8-3.2-3.9-3.3-2.6 2z"/>
<path color="#ffc400" d="M498.7 107.3l8.1 4.7 3.5-4.9-8-4.6z"/>
<path class="m" d="M498.7 107.3l4.1 2.4 4 2.3 1.7-2.5 1.8-2.4-4-2.3-4-2.3-1.8 2.4z"/>
<path color="#ffc100" d="M447.6 83.2l7.8 5 4.1-4.5-7.7-5z"/>
<path class="m" d="M447.6 83.2l3.9 2.5 3.9 2.5 2-2.3 2.1-2.2-3.9-2.5-3.8-2.5-2.1 2.3z"/>
<path color="#ffc500" d="M412.2 66.3l7.7 5.6 4.6-4.4-7.6-5.6z"/>
<path class="m" d="M412.2 66.3l3.8 2.8 3.9 2.8 2.3-2.2 2.3-2.2-3.8-2.8-3.8-2.8-2.4 2.2z"/>
<path color="#ffc500" d="M506.8 112l8.1 4.6 3.4-5-8-4.5z"/>
<path class="m" d="M506.8 112l4 2.3 4.1 2.3 1.7-2.5 1.7-2.5-4.1-2.3-3.9-2.2-1.8 2.4z"/>
<path color="#ffc100" d="M455.4 88.2l7.8 4.9 4-4.6-7.7-4.8z"/>
<path class="m" d="M455.4 88.2l3.9 2.5 3.9 2.4 2-2.3 2-2.3-3.9-2.4-3.8-2.4-2.1 2.2z"/>
<path color="#ffc700" d="M384 52.4l7.8 6.4 5-4.3-7.7-6.3z"/>
<path class="m" d="M384 52.4l3.9 3.2 3.9 3.2 2.5-2.2 2.5-2.1-3.9-3.1-3.8-3.2-2.5 2.1z"/>
<path color="#ffc400" d="M419.9 71.9l7.7 5.4 4.6-4.4-7.7-5.4z"/>
<path class="m" d="M419.9 71.9l3.9 2.7 3.8 2.7 2.3-2.2 2.3-2.2-3.9-2.7-3.8-2.7-2.3 2.2z"/>
<path color="#ffc100" d="M463.2 93.1l7.9 4.9 3.9-4.7-7.8-4.8z"/>
<path class="m" d="M463.2 93.1l3.9 2.5 4 2.4 2-2.4 1.9-2.3-3.9-2.4-3.9-2.4-2 2.3z"/>
<path color="#ffc600" d="M391.8 58.8l7.8 6.1 4.9-4.4-7.7-6z"/>
<path class="m" d="M391.8 58.8l3.9 3 3.9 3.1 2.4-2.3 2.5-2.1-3.9-3-3.8-3-2.5 2.1z"/>
<path color="#ffc300" d="M427.6 77.3l7.8 5.3 4.4-4.5-7.6-5.2z"/>
<path class="m" d="M427.6 77.3l3.9 2.7 3.9 2.6 2.2-2.2 2.2-2.3-3.8-2.6-3.8-2.6-2.3 2.2z"/>
<path color="#ffc200" d="M471.1 98l7.9 4.8 3.9-4.8-7.9-4.7z"/>
<path class="m" d="M471.1 98l3.9 2.4 4 2.4 2-2.4 1.9-2.4-4-2.3-3.9-2.4-1.9 2.3z"/>
<path color="#ffc200" d="M479 102.8l8 4.7 3.8-4.8-7.9-4.7z"/>
<path class="m" d="M479 102.8l4 2.4 4 2.3 1.9-2.4 1.9-2.4-4-2.3-3.9-2.4-1.9 2.4z"/>
<path color="#ffc500" d="M399.6 64.9l7.7 5.8 4.9-4.4-7.7-5.8z"/>
<path class="m" d="M399.6 64.9l3.8 2.9 3.9 2.9 2.5-2.2 2.4-2.2-3.9-2.9-3.8-2.9-2.5 2.1z"/>
<path color="#ffc200" d="M435.4 82.6l7.8 5.2 4.4-4.6-7.8-5.1z"/>
<path class="m" d="M435.4 82.6l3.9 2.6 3.9 2.6 2.2-2.3 2.2-2.3-3.9-2.5-3.9-2.6-2.2 2.3z"/>
<path color="#ffc400" d="M487 107.5l8.1 4.8 3.6-5-7.9-4.6z"/>
<path class="m" d="M487 107.5l4 2.4 4.1 2.4 1.8-2.5 1.8-2.5-3.9-2.3-4-2.3-1.9 2.4z"/>
<path color="#ffc801" d="M370.8 50.1l7.9 6.7 5.3-4.4-7.8-6.6z"/>
<path class="m" d="M370.8 50.1l4 3.3 3.9 3.4 2.7-2.2 2.6-2.2-3.9-3.2-3.9-3.4-2.7 2.1z"/>
<path color="#ffc100" d="M443.2 87.8l7.9 5.1 4.3-4.7-7.8-5z"/>
<path class="m" d="M443.2 87.8l4 2.6 3.9 2.5 2.1-2.4 2.2-2.3-3.9-2.5-3.9-2.5-2.2 2.3z"/>
<path color="#ffc500" d="M495.1 112.3l8.1 4.7 3.6-5-8.1-4.7z"/>
<path class="m" d="M495.1 112.3l4.1 2.4 4 2.3 1.8-2.5 1.8-2.5-4-2.3-4.1-2.4-1.8 2.5z"/>
<path color="#ffc500" d="M407.3 70.7l7.9 5.7 4.7-4.5-7.7-5.6z"/>
<path class="m" d="M407.3 70.7l3.9 2.9 4 2.8 2.3-2.3 2.4-2.2-3.9-2.8-3.8-2.8-2.4 2.2z"/>
<path color="#ffc600" d="M503.2 117l8.2 4.8 3.5-5.2-8.1-4.6z"/>
<path class="m" d="M503.2 117l4.1 2.4 4.1 2.4 1.8-2.6 1.7-2.6-4.1-2.3-4-2.3-1.8 2.5z"/>
<path color="#ffc700" d="M378.7 56.8l7.9 6.4 5.2-4.4-7.8-6.4z"/>
<path class="m" d="M378.7 56.8l4 3.2 3.9 3.2 2.6-2.2 2.6-2.2-3.9-3.2-3.9-3.2-2.6 2.2z"/>
<path color="#ffc100" d="M451.1 92.9l7.9 5 4.2-4.8-7.8-4.9z"/>
<path class="m" d="M451.1 92.9l4 2.5 3.9 2.5 2.1-2.4 2.1-2.4-3.9-2.4-3.9-2.5-2.2 2.3z"/>
<path color="#ffc300" d="M415.2 76.4l7.8 5.5 4.6-4.6-7.7-5.4z"/>
<path class="m" d="M415.2 76.4l3.9 2.8 3.9 2.7 2.3-2.3 2.3-2.3-3.8-2.7-3.9-2.7-2.4 2.2z"/>
<path color="#ffc100" d="M459 97.9l8 4.9 4.1-4.8-7.9-4.9z"/>
<path class="m" d="M459 97.9l4 2.4 4 2.5 2.1-2.4 2-2.4-4-2.4-3.9-2.5-2.1 2.4z"/>
<path color="#ffc600" d="M386.6 63.2l7.9 6.2 5.1-4.5-7.8-6.1z"/>
<path class="m" d="M386.6 63.2l4 3.1 3.9 3.1 2.5-2.3 2.6-2.2-3.9-3.1-3.9-3-2.6 2.2z"/>
<path color="#ffc200" d="M423 81.9l7.9 5.4 4.5-4.7-7.8-5.3z"/>
<path class="m" d="M423 81.9l3.9 2.7 4 2.7 2.3-2.4 2.2-2.3-3.9-2.6-3.9-2.7-2.3 2.3z"/>
<path color="#ffc200" d="M467 102.8l8.1 4.9 3.9-4.9-7.9-4.8z"/>
<path class="m" d="M467 102.8l4 2.4 4.1 2.5 2-2.5 1.9-2.4-4-2.4-3.9-2.4-2 2.4z"/>
<path color="#ffc500" d="M394.5 69.4l7.9 5.9 4.9-4.6-7.7-5.8z"/>
<path class="m" d="M394.5 69.4l3.9 3 4 2.9 2.5-2.3 2.4-2.3-3.9-2.9-3.8-2.9-2.6 2.2z"/>
<path color="#ffc300" d="M475.1 107.7l8.1 4.8 3.8-5-8-4.7z"/>
<path class="m" d="M475.1 107.7l4 2.4 4.1 2.4 1.9-2.5 1.9-2.5-4-2.3-4-2.4-1.9 2.4z"/>
<path color="#ffc100" d="M430.9 87.3l7.9 5.2 4.4-4.7-7.8-5.2z"/>
<path class="m" d="M430.9 87.3l3.9 2.6 4 2.6 2.2-2.3 2.2-2.4-3.9-2.6-3.9-2.6-2.2 2.3z"/>
<path color="#ffc801" d="M365.3 54.4l8 6.8 5.4-4.4-7.9-6.7z"/>
<path class="m" d="M365.3 54.4l4 3.5 4 3.3 2.8-2.2 2.6-2.2-3.9-3.4-4-3.3-2.7 2.1z"/>
<path color="#ffc400" d="M483.2 112.5l8.1 4.9 3.8-5.1-8.1-4.8z"/>
<path class="m" d="M483.2 112.5l4 2.4 4.1 2.5 1.9-2.6 1.9-2.5-4.1-2.4-4-2.4-1.9 2.5z"/>
<path color="#ffc400" d="M402.4 75.3l7.9 5.8 4.9-4.7-7.9-5.7z"/>
<path class="m" d="M402.4 75.3l3.9 2.9 4 2.9 2.4-2.4 2.5-2.3-4-2.8-3.9-2.9-2.4 2.3z"/>
<path color="#ffc100" d="M438.8 92.5l8 5.2 4.3-4.8-7.9-5.1z"/>
<path class="m" d="M438.8 92.5l4 2.6 4 2.6 2.2-2.4 2.1-2.4-3.9-2.5-4-2.6-2.2 2.4z"/>
<path color="#ffc500" d="M491.3 117.4l8.3 4.8 3.6-5.2-8.1-4.7z"/>
<path class="m" d="M491.3 117.4l4.1 2.4 4.2 2.4 1.8-2.6 1.8-2.6-4-2.3-4.1-2.4-1.9 2.5z"/>
<path color="#ffc700" d="M373.3 61.2l8 6.5 5.3-4.5-7.9-6.4z"/>
<path class="m" d="M373.3 61.2l4 3.3 4 3.2 2.7-2.3 2.6-2.2-3.9-3.2-4-3.2-2.6 2.2z"/>
<path color="#ffc600" d="M499.6 122.2l8.3 4.9 3.5-5.3-8.2-4.8z"/>
<path class="m" d="M499.6 122.2l4.1 2.5 4.2 2.4 1.8-2.7 1.7-2.6-4.1-2.4-4.1-2.4-1.8 2.6z"/>
<path color="#ffc000" d="M446.8 97.7l8 5 4.2-4.8-7.9-5z"/>
<path class="m" d="M446.8 97.7l4 2.5 4 2.5 2.1-2.4 2.1-2.4-3.9-2.5-4-2.5-2.1 2.4z"/>
<path color="#ffc300" d="M410.3 81.1l7.9 5.5 4.8-4.7-7.8-5.5z"/>
<path class="m" d="M410.3 81.1l4 2.8 3.9 2.7 2.4-2.3 2.4-2.4-3.9-2.7-3.9-2.8-2.5 2.3z"/>
<path color="#ffc600" d="M381.3 67.7l8 6.3 5.2-4.6-7.9-6.2z"/>
<path class="m" d="M381.3 67.7l4 3.2 4 3.1 2.6-2.3 2.6-2.3-3.9-3.1-4-3.1-2.6 2.2z"/>
<path color="#ffc100" d="M454.8 102.7l8.1 5 4.1-4.9-8-4.9z"/>
<path class="m" d="M454.8 102.7l4 2.5 4.1 2.5 2.1-2.5 2-2.4-4-2.5-4-2.4-2.1 2.4z"/>
<path color="#ffc200" d="M418.2 86.6l8 5.5 4.7-4.8-7.9-5.4z"/>
<path class="m" d="M418.2 86.6l4 2.8 4 2.7 2.4-2.4 2.3-2.4-4-2.7-3.9-2.7-2.4 2.4z"/>
<path color="#ffc200" d="M462.9 107.7l8.1 5 4.1-5-8.1-4.9z"/>
<path class="m" d="M462.9 107.7l4 2.5 4.1 2.5 2-2.5 2.1-2.5-4.1-2.5-4-2.4-2 2.4z"/>
<path color="#ffc500" d="M389.3 74l8 6 5.1-4.7-7.9-5.9z"/>
<path class="m" d="M389.3 74l4 3 4 3 2.6-2.4 2.5-2.3-4-2.9-3.9-3-2.6 2.3z"/>
<path color="#ffc100" d="M426.2 92.1l8 5.3 4.6-4.9-7.9-5.2z"/>
<path class="m" d="M426.2 92.1l4 2.6 4 2.7 2.3-2.5 2.3-2.4-4-2.6-3.9-2.6-2.3 2.4z"/>
<path color="#ffc801" d="M359.7 58.9l8.1 6.9 5.5-4.6-8-6.8z"/>
<path class="m" d="M359.7 58.9l4 3.5 4.1 3.4 2.8-2.3 2.7-2.3-4-3.3-4-3.5-2.8 2.2z"/>
<path color="#ffc300" d="M471 112.7l8.2 4.9 4-5.1-8.1-4.8z"/>
<path class="m" d="M471 112.7l4.1 2.5 4.1 2.4 2-2.5 2-2.6-4.1-2.4-4-2.4-2.1 2.5z"/>
<path color="#ffc400" d="M479.2 117.6l8.3 5 3.8-5.2-8.1-4.9z"/>
<path class="m" d="M479.2 117.6l4.1 2.5 4.2 2.5 1.9-2.6 1.9-2.6-4.1-2.5-4-2.4-2 2.6z"/>
<path color="#ffc400" d="M397.3 80l8 5.8 5-4.7-7.9-5.8z"/>
<path class="m" d="M397.3 80l4 2.9 4 2.9 2.5-2.4 2.5-2.3-4-2.9-3.9-2.9-2.5 2.3z"/>
<path color="#ffc000" d="M434.2 97.4l8.1 5.2 4.5-4.9-8-5.2z"/>
<path class="m" d="M434.2 97.4l4 2.6 4.1 2.6 2.2-2.5 2.3-2.4-4-2.6-4-2.6-2.3 2.4z"/>
<path color="#ffc700" d="M367.8 65.8l8.1 6.6 5.4-4.7-8-6.5z"/>
<path class="m" d="M367.8 65.8l4 3.3 4.1 3.3 2.7-2.4 2.7-2.3-4-3.2-4-3.3-2.7 2.3z"/>
<path color="#ffc500" d="M487.5 122.6l8.3 4.9 3.8-5.3-8.3-4.8z"/>
<path class="m" d="M487.5 122.6l4.1 2.5 4.2 2.4 1.9-2.6 1.9-2.7-4.2-2.4-4.1-2.4-1.9 2.6z"/>
<path color="#ffc600" d="M495.8 127.5l8.4 5.1 3.7-5.5-8.3-4.9z"/>
<path class="m" d="M495.8 127.5l4.2 2.5 4.2 2.6 1.9-2.8 1.8-2.7-4.2-2.4-4.1-2.5-1.9 2.7z"/>
<path color="#ffc000" d="M442.3 102.6l8.1 5.1 4.4-5-8-5z"/>
<path class="m" d="M442.3 102.6l4 2.6 4.1 2.5 2.2-2.5 2.2-2.5-4-2.5-4-2.5-2.3 2.4z"/>
<path color="#ffc200" d="M405.3 85.8l8 5.7 4.9-4.9-7.9-5.5z"/>
<path class="m" d="M405.3 85.8l4 2.9 4 2.8 2.5-2.5 2.4-2.4-3.9-2.7-4-2.8-2.5 2.3z"/>
<path color="#ffc600" d="M375.9 72.4l8.1 6.3 5.3-4.7-8-6.3z"/>
<path class="m" d="M375.9 72.4l4 3.2 4.1 3.1 2.7-2.4 2.6-2.3-4-3.1-4-3.2-2.7 2.3z"/>
<path color="#ffc000" d="M450.4 107.7l8.2 5.1 4.3-5.1-8.1-5z"/>
<path class="m" d="M450.4 107.7l4.1 2.6 4.1 2.5 2.1-2.5 2.2-2.6-4.1-2.5-4-2.5-2.2 2.5z"/>
<path color="#ffc100" d="M413.3 91.5l8.1 5.5 4.8-4.9-8-5.5z"/>
<path class="m" d="M413.3 91.5l4.1 2.8 4 2.7 2.4-2.5 2.4-2.4-4-2.7-4-2.8-2.4 2.4z"/>
<path color="#ffc500" d="M384 78.7l8.1 6.1 5.2-4.8-8-6z"/>
<path class="m" d="M384 78.7l4 3.1 4.1 3 2.6-2.4 2.6-2.4-4-3-4-3-2.6 2.3z"/>
<path color="#ffc100" d="M458.6 112.8l8.2 5.1 4.2-5.2-8.1-5z"/>
<path class="m" d="M458.6 112.8l4.1 2.5 4.1 2.6 2.1-2.6 2.1-2.6-4.1-2.5-4-2.5-2.2 2.6z"/>
<path color="#ffc801" d="M353.9 63.5l8.2 7 5.7-4.7-8.1-6.9z"/>
<path class="m" d="M353.9 63.5l4.1 3.5 4.1 3.5 2.9-2.4 2.8-2.3-4.1-3.4-4-3.5-2.9 2.3z"/>
<path color="#ffc000" d="M421.4 97l8.1 5.4 4.7-5-8-5.3z"/>
<path class="m" d="M421.4 97l4.1 2.7 4 2.7 2.4-2.5 2.3-2.5-4-2.7-4-2.6-2.4 2.4z"/>
<path color="#ffc300" d="M466.8 117.9l8.3 5 4.1-5.3-8.2-4.9z"/>
<path class="m" d="M466.8 117.9l4.2 2.5 4.1 2.5 2.1-2.7 2-2.6-4.1-2.4-4.1-2.5-2.1 2.6z"/>
<path color="#ffc400" d="M392.1 84.8l8.1 5.9 5.1-4.9-8-5.8z"/>
<path class="m" d="M392.1 84.8l4 3 4.1 2.9 2.6-2.4 2.5-2.5-4-2.9-4-2.9-2.6 2.4z"/>
<path color="#ffc400" d="M475.1 122.9l8.4 5 4-5.3-8.3-5z"/>
<path class="m" d="M475.1 122.9l4.2 2.5 4.2 2.5 2-2.7 2-2.6-4.2-2.5-4.1-2.5-2 2.6z"/>
<path color="#ffc700" d="M362.1 70.5l8.2 6.7 5.6-4.8-8.1-6.6z"/>
<path class="m" d="M362.1 70.5l4.1 3.4 4.1 3.3 2.8-2.4 2.8-2.4-4.1-3.3-4-3.3-2.8 2.3z"/>
<path color="#ffc000" d="M429.5 102.4l8.2 5.3 4.6-5.1-8.1-5.2z"/>
<path class="m" d="M429.5 102.4l4.1 2.6 4.1 2.7 2.3-2.6 2.3-2.5-4.1-2.6-4-2.6-2.3 2.5z"/>
<path color="#ffc500" d="M483.5 127.9l8.4 5.1 3.9-5.5-8.3-4.9z"/>
<path class="m" d="M483.5 127.9l4.2 2.6 4.2 2.5 2-2.7 1.9-2.8-4.2-2.4-4.1-2.5-2 2.6z"/>
<path color="#ffc200" d="M400.2 90.7l8.1 5.8 5-5-8-5.7z"/>
<path class="m" d="M400.2 90.7l4 2.9 4.1 2.9 2.5-2.5 2.5-2.5-4-2.8-4-2.9-2.5 2.5z"/>
<path color="#ffc700" d="M491.9 133l8.5 5.2 3.8-5.6-8.4-5.1z"/>
<path class="m" d="M491.9 133l4.3 2.6 4.2 2.6 1.9-2.9 1.9-2.7-4.2-2.6-4.2-2.5-1.9 2.8z"/>
<path color="#ffc000" d="M437.7 107.7l8.2 5.2 4.5-5.2-8.1-5.1z"/>
<path class="m" d="M437.7 107.7l4.1 2.6 4.1 2.6 2.3-2.6 2.2-2.6-4.1-2.5-4-2.6-2.3 2.5z"/>
<path color="#ffc600" d="M370.3 77.2l8.2 6.4 5.5-4.9-8.1-6.3z"/>
<path class="m" d="M370.3 77.2l4.1 3.2 4.1 3.2 2.7-2.4 2.8-2.5-4.1-3.1-4-3.2-2.8 2.4z"/>
<path color="#ffc000" d="M445.9 112.9l8.3 5.1 4.4-5.2-8.2-5.1z"/>
<path class="m" d="M445.9 112.9l4.1 2.6 4.2 2.5 2.2-2.6 2.2-2.6-4.1-2.5-4.1-2.6-2.2 2.6z"/>
<path color="#ffc000" d="M408.3 96.5l8.2 5.5 4.9-5-8.1-5.5z"/>
<path class="m" d="M408.3 96.5l4.1 2.8 4.1 2.7 2.5-2.5 2.4-2.5-4-2.7-4.1-2.8-2.5 2.5z"/>
<path color="#ffc500" d="M378.5 83.6l8.2 6.2 5.4-5-8.1-6.1z"/>
<path class="m" d="M378.5 83.6l4.1 3.1 4.1 3.1 2.7-2.5 2.7-2.5-4.1-3-4-3.1-2.8 2.5z"/>
<path color="#ffc801" d="M347.9 68.2l8.3 7.1 5.9-4.8-8.2-7z"/>
<path class="m" d="M347.9 68.2l4.2 3.6 4.1 3.5 3-2.4 2.9-2.4-4.1-3.5-4.1-3.5-3 2.3z"/>
<path color="#ffc100" d="M454.2 118l8.3 5.2 4.3-5.3-8.2-5.1z"/>
<path class="m" d="M454.2 118l4.2 2.6 4.1 2.6 2.2-2.7 2.1-2.6-4.1-2.6-4.1-2.5-2.2 2.6z"/>
<path color="#ffbf00" d="M416.5 102l8.2 5.5 4.8-5.1-8.1-5.4z"/>
<path class="m" d="M416.5 102l4.1 2.8 4.1 2.7 2.4-2.6 2.4-2.5-4-2.7-4.1-2.7-2.4 2.5z"/>
<path color="#ffc300" d="M462.5 123.2l8.4 5.1 4.2-5.4-8.3-5z"/>
<path class="m" d="M462.5 123.2l4.2 2.5 4.2 2.6 2.2-2.7 2-2.7-4.1-2.5-4.2-2.5-2.1 2.6z"/>
<path color="#ffc300" d="M386.7 89.8l8.2 6 5.3-5.1-8.1-5.9z"/>
<path class="m" d="M386.7 89.8l4.1 3 4.1 3 2.6-2.6 2.7-2.5-4.1-2.9-4-3-2.7 2.5z"/>
<path color="#ffc700" d="M356.2 75.3l8.3 6.8 5.8-4.9-8.2-6.7z"/>
<path class="m" d="M356.2 75.3l4.2 3.5 4.1 3.3 2.9-2.5 2.9-2.4-4.1-3.3-4.1-3.4-2.9 2.4z"/>
<path color="#ffbf00" d="M424.7 107.5l8.3 5.4 4.7-5.2-8.2-5.3z"/>
<path class="m" d="M424.7 107.5l4.1 2.7 4.2 2.7 2.3-2.7 2.4-2.5-4.1-2.7-4.1-2.6-2.4 2.5z"/>
<path color="#ffc400" d="M470.9 128.3l8.5 5.2 4.1-5.6-8.4-5z"/>
<path class="m" d="M470.9 128.3l4.3 2.6 4.2 2.6 2.1-2.8 2-2.8-4.2-2.5-4.2-2.5-2 2.7z"/>
<path color="#ffc600" d="M479.4 133.5l8.6 5.2 3.9-5.7-8.4-5.1z"/>
<path class="m" d="M479.4 133.5l4.3 2.6 4.3 2.6 2-2.9 1.9-2.8-4.2-2.5-4.2-2.6-2 2.8z"/>
<path color="#ffc100" d="M394.9 95.8l8.2 5.8 5.2-5.1-8.1-5.8z"/>
<path class="m" d="M394.9 95.8l4.1 2.9 4.1 2.9 2.6-2.6 2.6-2.5-4.1-2.9-4-2.9-2.7 2.5z"/>
<path color="#ffc500" d="M364.5 82.1l8.3 6.5 5.7-5-8.2-6.4z"/>
<path class="m" d="M364.5 82.1l4.2 3.3 4.1 3.2 2.9-2.5 2.8-2.5-4.1-3.2-4.1-3.2-2.9 2.4z"/>
<path color="#ffc700" d="M488 138.7l8.6 5.2 3.8-5.7-8.5-5.2z"/>
<path class="m" d="M488 138.7l4.3 2.6 4.3 2.6 1.9-2.9 1.9-2.8-4.2-2.6-4.3-2.6-1.9 2.8z"/>
<path color="#ffbf00" d="M433 112.9l8.3 5.3 4.6-5.3-8.2-5.2z"/>
<path class="m" d="M433 112.9l4.1 2.6 4.2 2.7 2.3-2.7 2.3-2.6-4.1-2.6-4.1-2.6-2.4 2.5z"/>
<path color="#ffc000" d="M403.1 101.6l8.3 5.6 5.1-5.2-8.2-5.5z"/>
<path class="m" d="M403.1 101.6l4.2 2.8 4.1 2.8 2.6-2.6 2.5-2.6-4.1-2.7-4.1-2.8-2.6 2.5z"/>
<path color="#ffc000" d="M441.3 118.2l8.4 5.2 4.5-5.4-8.3-5.1z"/>
<path class="m" d="M441.3 118.2l4.2 2.6 4.2 2.6 2.2-2.7 2.3-2.7-4.2-2.5-4.1-2.6-2.3 2.6z"/>
<path color="#ffc400" d="M372.8 88.6l8.3 6.3 5.6-5.1-8.2-6.2z"/>
<path class="m" d="M372.8 88.6l4.2 3.2 4.1 3.1 2.8-2.6 2.8-2.5-4.1-3.1-4.1-3.1-2.8 2.5z"/>
<path color="#ffc801" d="M341.8 73.1l8.4 7.2 6-5-8.3-7.1z"/>
<path class="m" d="M341.8 73.1l4.2 3.6 4.2 3.6 3-2.5 3-2.5-4.1-3.5-4.2-3.6-3 2.4z"/>
<path color="#ffc100" d="M449.7 123.4l8.4 5.2 4.4-5.4-8.3-5.2z"/>
<path class="m" d="M449.7 123.4l4.2 2.6 4.2 2.6 2.2-2.7 2.2-2.7-4.1-2.6-4.2-2.6-2.3 2.7z"/>
<path color="#ffbf00" d="M411.4 107.2l8.3 5.6 5-5.3-8.2-5.5z"/>
<path class="m" d="M411.4 107.2l4.2 2.8 4.1 2.8 2.5-2.7 2.5-2.6-4.1-2.7-4.1-2.8-2.5 2.6z"/>
<path color="#ffc200" d="M381.1 94.9l8.4 6.1 5.4-5.2-8.2-6z"/>
<path class="m" d="M381.1 94.9l4.2 3.1 4.2 3 2.7-2.6 2.7-2.6-4.1-3-4.1-3-2.8 2.5z"/>
<path color="#ffc600" d="M350.2 80.3l8.4 6.9 5.9-5.1-8.3-6.8z"/>
<path class="m" d="M350.2 80.3l4.2 3.5 4.2 3.4 3-2.6 2.9-2.5-4.1-3.3-4.2-3.5-3 2.5z"/>
<path color="#ffc300" d="M458.1 128.6l8.5 5.3 4.3-5.6-8.4-5.1z"/>
<path class="m" d="M458.1 128.6l4.3 2.7 4.2 2.6 2.2-2.8 2.1-2.8-4.2-2.6-4.2-2.5-2.2 2.7z"/>
<path color="#ffbe00" d="M419.7 112.8l8.4 5.4 4.9-5.3-8.3-5.4z"/>
<path class="m" d="M419.7 112.8l4.2 2.7 4.2 2.7 2.4-2.7 2.5-2.6-4.2-2.7-4.1-2.7-2.5 2.6z"/>
<path color="#ffc400" d="M466.6 133.9l8.6 5.3 4.2-5.7-8.5-5.2z"/>
<path class="m" d="M466.6 133.9l4.3 2.6 4.3 2.7 2.1-2.9 2.1-2.8-4.2-2.6-4.3-2.6-2.1 2.8z"/>
<path color="#ffc000" d="M389.5 101l8.3 5.9 5.3-5.3-8.2-5.8z"/>
<path class="m" d="M389.5 101l4.1 2.9 4.2 3 2.7-2.7 2.6-2.6-4.1-2.9-4.1-2.9-2.7 2.6z"/>
<path color="#ffc500" d="M358.6 87.2l8.4 6.6 5.8-5.2-8.3-6.5z"/>
<path class="m" d="M358.6 87.2l4.2 3.3 4.2 3.3 3-2.6 2.8-2.6-4.1-3.2-4.2-3.3-2.9 2.5z"/>
<path color="#ffc600" d="M475.2 139.2l8.7 5.3 4.1-5.8-8.6-5.2z"/>
<path class="m" d="M475.2 139.2l4.3 2.6 4.4 2.7 2-2.9 2.1-2.9-4.3-2.6-4.3-2.6-2.1 2.8z"/>
<path color="#ffbe00" d="M428.1 118.2l8.4 5.4 4.8-5.4-8.3-5.3z"/>
<path class="m" d="M428.1 118.2l4.2 2.7 4.2 2.7 2.4-2.7 2.4-2.7-4.2-2.7-4.1-2.6-2.5 2.6z"/>
<path color="#ffc700" d="M483.9 144.5l8.7 5.4 4-6-8.6-5.2z"/>
<path class="m" d="M483.9 144.5l4.3 2.7 4.4 2.7 2-3 2-3-4.3-2.6-4.3-2.6-2.1 2.9z"/>
<path color="#ffbf00" d="M397.8 106.9l8.4 5.7 5.2-5.4-8.3-5.6z"/>
<path class="m" d="M397.8 106.9l4.2 2.8 4.2 2.9 2.6-2.7 2.6-2.7-4.1-2.8-4.2-2.8-2.6 2.6z"/>
<path color="#ffc400" d="M367 93.8l8.4 6.4 5.7-5.3-8.3-6.3z"/>
<path class="m" d="M367 93.8l4.2 3.2 4.2 3.2 2.9-2.7 2.8-2.6-4.1-3.1-4.2-3.2-2.8 2.6z"/>
<path color="#ffbf00" d="M436.5 123.6l8.5 5.3 4.7-5.5-8.4-5.2z"/>
<path class="m" d="M436.5 123.6l4.3 2.7 4.2 2.6 2.4-2.7 2.3-2.8-4.2-2.6-4.2-2.6-2.4 2.7z"/>
<path color="#ffc100" d="M445 128.9l8.6 5.4 4.5-5.7-8.4-5.2z"/>
<path class="m" d="M445 128.9l4.3 2.7 4.3 2.7 2.3-2.9 2.2-2.8-4.2-2.6-4.2-2.6-2.3 2.8z"/>
<path color="#ffbe00" d="M406.2 112.6l8.4 5.6 5.1-5.4-8.3-5.6z"/>
<path class="m" d="M406.2 112.6l4.2 2.8 4.2 2.8 2.6-2.7 2.5-2.7-4.1-2.8-4.2-2.8-2.6 2.7z"/>
<path color="#ffc100" d="M375.4 100.2l8.5 6.1 5.6-5.3-8.4-6.1z"/>
<path class="m" d="M375.4 100.2l4.3 3.1 4.2 3 2.8-2.7 2.8-2.6-4.2-3-4.2-3.1-2.8 2.6z"/>
<path color="#ffc300" d="M453.6 134.3l8.6 5.3 4.4-5.7-8.5-5.3z"/>
<path class="m" d="M453.6 134.3l4.3 2.6 4.3 2.7 2.2-2.9 2.2-2.8-4.2-2.6-4.3-2.7-2.2 2.8z"/>
<path color="#ffbe00" d="M414.6 118.2l8.5 5.5 5-5.5-8.4-5.4z"/>
<path class="m" d="M414.6 118.2l4.2 2.8 4.3 2.7 2.5-2.7 2.5-2.8-4.2-2.7-4.2-2.7-2.5 2.7z"/>
<path color="#ffc400" d="M462.2 139.6l8.7 5.4 4.3-5.8-8.6-5.3z"/>
<path class="m" d="M462.2 139.6l4.3 2.7 4.4 2.7 2.2-2.9 2.1-2.9-4.3-2.7-4.3-2.6-2.2 2.8z"/>
<path color="#ffbf00" d="M383.9 106.3l8.4 6 5.5-5.4-8.3-5.9z"/>
<path class="m" d="M383.9 106.3l4.2 3 4.2 3 2.8-2.7 2.7-2.7-4.2-3-4.1-2.9-2.8 2.6z"/>
<path color="#ffc600" d="M470.9 145l8.8 5.5 4.2-6-8.7-5.3z"/>
<path class="m" d="M470.9 145l4.4 2.7 4.4 2.8 2.1-3.1 2.1-2.9-4.4-2.7-4.3-2.6-2.1 2.9z"/>
<path color="#ffbe00" d="M423.1 123.7l8.5 5.5 4.9-5.6-8.4-5.4z"/>
<path class="m" d="M423.1 123.7l4.2 2.8 4.3 2.7 2.5-2.8 2.4-2.8-4.2-2.7-4.2-2.7-2.5 2.8z"/>
<path color="#ffc700" d="M479.7 150.5l8.8 5.5 4.1-6.1-8.7-5.4z"/>
<path class="m" d="M479.7 150.5l4.4 2.7 4.4 2.8 2.1-3.1 2-3-4.4-2.7-4.3-2.7-2.1 2.9z"/>
<path color="#ffbe00" d="M392.3 112.3l8.5 5.8 5.4-5.5-8.4-5.7z"/>
<path class="m" d="M392.3 112.3l4.3 2.9 4.2 2.9 2.7-2.8 2.7-2.7-4.2-2.9-4.2-2.8-2.7 2.7z"/>
<path color="#ffbf00" d="M431.6 129.2l8.6 5.4 4.8-5.7-8.5-5.3z"/>
<path class="m" d="M431.6 129.2l4.3 2.7 4.3 2.7 2.4-2.8 2.4-2.9-4.2-2.6-4.3-2.7-2.4 2.8z"/>
<path color="#ffbd00" d="M400.8 118.1l8.5 5.7 5.3-5.6-8.4-5.6z"/>
<path class="m" d="M400.8 118.1l4.3 2.9 4.2 2.8 2.7-2.8 2.6-2.8-4.2-2.8-4.2-2.8-2.7 2.7z"/>
<path color="#ffc000" d="M440.2 134.6l8.7 5.5 4.7-5.8-8.6-5.4z"/>
<path class="m" d="M440.2 134.6l4.3 2.7 4.4 2.8 2.3-3 2.4-2.8-4.3-2.7-4.3-2.7-2.4 2.9z"/>
<path color="#ffc200" d="M448.9 140.1l8.7 5.4 4.6-5.9-8.6-5.3z"/>
<path class="m" d="M448.9 140.1l4.3 2.7 4.4 2.7 2.3-3 2.3-2.9-4.3-2.7-4.3-2.6-2.4 2.8z"/>
<path color="#ffbd00" d="M409.3 123.8l8.6 5.6 5.2-5.7-8.5-5.5z"/>
<path class="m" d="M409.3 123.8l4.3 2.8 4.3 2.8 2.6-2.8 2.6-2.9-4.3-2.7-4.2-2.8-2.6 2.8z"/>
<path color="#ffc400" d="M457.6 145.5l8.8 5.5 4.5-6-8.7-5.4z"/>
<path class="m" d="M457.6 145.5l4.4 2.8 4.4 2.7 2.3-3 2.2-3-4.4-2.7-4.3-2.7-2.3 2.9z"/>
<path color="#ffc600" d="M466.4 151l8.9 5.6 4.4-6.1-8.8-5.5z"/>
<path class="m" d="M466.4 151l4.5 2.8 4.4 2.8 2.2-3.1 2.2-3-4.4-2.8-4.4-2.7-2.2 3z"/>
<path color="#ffbd00" d="M417.9 129.4l8.7 5.6 5-5.8-8.5-5.5z"/>
<path class="m" d="M417.9 129.4l4.3 2.8 4.4 2.8 2.5-2.9 2.5-2.9-4.3-2.7-4.2-2.8-2.6 2.9z"/>
<path color="#ffc700" d="M475.3 156.6l9 5.7 4.2-6.3-8.8-5.5z"/>
<path class="m" d="M475.3 156.6l4.5 2.9 4.5 2.8 2.1-3.2 2.1-3.1-4.4-2.8-4.4-2.7-2.2 3z"/>
<path color="#ffbe00" d="M426.6 135l8.7 5.5 4.9-5.9-8.6-5.4z"/>
<path class="m" d="M426.6 135l4.3 2.7 4.4 2.8 2.5-3 2.4-2.9-4.3-2.7-4.3-2.7-2.5 2.9z"/>
<path color="#ffc000" d="M435.3 140.5l8.8 5.5 4.8-5.9-8.7-5.5z"/>
<path class="m" d="M435.3 140.5l4.4 2.8 4.4 2.7 2.4-3 2.4-2.9-4.4-2.8-4.3-2.7-2.4 2.9z"/>
<path color="#ffc200" d="M444.1 146l8.8 5.6 4.7-6.1-8.7-5.4z"/>
<path class="m" d="M444.1 146l4.4 2.8 4.4 2.8 2.4-3.1 2.3-3-4.4-2.7-4.3-2.7-2.4 2.9z"/>
<path color="#ffc400" d="M452.9 151.6l8.9 5.6 4.6-6.2-8.8-5.5z"/>
<path class="m" d="M452.9 151.6l4.5 2.8 4.4 2.8 2.4-3.1 2.2-3.1-4.4-2.7-4.4-2.8-2.3 3z"/>
<path color="#ffc600" d="M461.8 157.2l9 5.8 4.5-6.4-8.9-5.6z"/>
<path class="m" d="M461.8 157.2l4.5 2.9 4.5 2.9 2.3-3.2 2.2-3.2-4.4-2.8-4.5-2.8-2.2 3.1z"/>
<path color="#ffc801" d="M470.8 163l9.1 5.8 4.4-6.5-9-5.7z"/>
<path class="m" d="M470.8 163l4.6 2.9 4.5 2.9 2.2-3.3 2.2-3.2-4.5-2.8-4.5-2.9-2.2 3.2z"/></g>
<path class="bf" d="M481.8 163.3L484.1 122.5M342.1 73.2L484.1 122.5"/>
<path class="ax" d="M481.1 173.9L539.9 84.0M344.7 120.5L481.1 173.9M344.7 120.5L336.9 71.4"/>
<path class="tk" d="M344.7 120.5l-1.6 1.5M352.8 123.7l-0.9 0.8M361.0 126.9l-0.9 0.8M369.4 130.2l-0.8 0.9M377.9 133.5l-0.8 0.9M386.5 136.9l-1.5 1.6M395.3 140.3l-0.8 0.9M404.2 143.8l-0.8 0.9M413.3 147.4l-0.8 0.9M422.5 151.0l-0.8 0.9M431.9 154.6l-1.4 1.7M441.4 158.4l-0.7 1.0M451.1 162.2l-0.7 1.0M460.9 166.0l-0.7 1.0M470.9 169.9l-0.7 1.0M481.1 173.9l-1.2 1.8M481.1 173.9l1.1 0.4M487.1 164.8l1.1 0.4M492.8 156.1l2.1 0.8M498.3 147.6l1.1 0.4M503.6 139.5l1.1 0.4M508.7 131.7l1.1 0.4M513.7 124.2l2.1 0.7M518.4 116.9l1.1 0.4M523.0 109.9l1.1 0.4M527.5 103.1l1.1 0.4M531.7 96.5l2.1 0.7M535.9 90.2l1.1 0.4M539.9 84.0l1.1 0.3M337.3 73.5l-1.2 -0.4M339.2 85.5l-1.2 -0.4M340.9 96.3l-1.2 -0.5M342.6 107.4l-1.2 -0.5M344.2 117.1l-1.2 -0.5"/>
<text class="t" x="334.5" y="76.1" text-anchor="end">0.00020</text>
<text class="t" x="336.0" y="87.5" text-anchor="end">0.00015</text>
<text class="t" x="338.0" y="98.1" text-anchor="end">0.00010</text>
<text class="t" x="339.9" y="109.4" text-anchor="end">0.00005</text>
<text class="t" x="341.4" y="119.6" text-anchor="end">0.00000</text>
<text class="l" x="281.6" y="85.7" text-anchor="start">Δx/mm</text>
<text class="t" x="340.3" y="130.8" text-anchor="middle">60</text>
<text class="t" x="381.7" y="147.2" text-anchor="middle">70</text>
<text class="t" x="425.9" y="163.9" text-anchor="middle">80</text>
<text class="t" x="473.9" y="182.3" text-anchor="middle">90</text>
<text class="l" x="389.6" y="162.7" text-anchor="start">B/°</text>
<text class="t" x="496.0" y="160.3" text-anchor="start">−2</text>
<text class="t" x="516.5" y="130.0" text-anchor="start">0</text>
<text class="t" x="533.9" y="102.7" text-anchor="start">2</text>
<text class="l" x="526.7" y="132.8" text-anchor="start">l/°</text>
<text class="cap" transform="translate(357.8 202.5) scale(0.92 1)"><tspan x="0" font-weight="bold">(b)</tspan><tspan x="18.0" font-size="9.8px">△</tspan><tspan x="30.4" font-style="italic">x</tspan><tspan x="41.5">(expanding to</tspan><tspan x="105.7" font-style="italic">n</tspan><tspan x="111.5" dy="-3.8" font-size="7.4px">4</tspan><tspan x="118.0" dy="3.8">)</tspan></text>
</g>
<g>
<path class="bx" d="M51.0 345.0L128.9 272.2M189.0 399.0L189.7 387.3M248.4 308.1L254.9 260.6M128.9 272.2L248.4 308.1M128.9 272.2L127.4 227.2M43.1 295.3L71.2 305.1M43.1 295.3L127.4 227.2M192.0 347.1L254.9 260.6M127.4 227.2L254.9 260.6"/>
<g class="s"><path color="#f57e00" d="M125.8 234.4l3.5 .9 2.1-1.7-3.5-.8z"/>
<path color="#f57e00" d="M127.9 232.8l3.5 .8 2.1-1.6-3.5-.9z"/>
<path color="#f98400" d="M129.3 235.3l3.4 1 2.1-1.7-3.4-1z"/>
<path color="#f98400" d="M131.4 233.6l3.4 1 2.1-1.6-3.4-1z"/>
<path class="m" d="M125.8 234.4l3.5 .9 3.4 1 2.1-1.7 2.1-1.6-3.4-1-3.5-.9-2.1 1.7z"/>
<path color="#fd8c00" d="M132.7 236.3l3.6 1.3 2-1.7-3.5-1.3z"/>
<path color="#fd8c00" d="M134.8 234.6l3.5 1.3 2.1-1.7-3.5-1.2z"/>
<path color="#ff9500" d="M136.3 237.6l3.5 1.7 2.1-1.7-3.6-1.7z"/>
<path color="#ff9600" d="M138.3 235.9l3.6 1.7 2-1.7-3.5-1.7z"/>
<path class="m" d="M132.7 236.3l3.6 1.3 3.5 1.7 2.1-1.7 2-1.7-3.5-1.7-3.5-1.2-2.1 1.6z"/>
<path color="#ff9e00" d="M139.8 239.3l1.8 .9 1-.8-1.8-1z"/>
<path color="#ff9e00" d="M140.8 238.4l1.8 1 1-.9-1.7-.9z"/>
<path color="#ff9e00" d="M141.9 237.6l1.7 .9 1-.8-1.7-1z"/>
<path color="#ff9f00" d="M142.9 236.7l1.7 1 1.1-.9-1.8-.9z"/>
<path color="#ffa500" d="M141.6 240.2l1.7 1.1 1.1-.9-1.8-1z"/>
<path color="#ffa500" d="M142.6 239.4l1.8 1 1-.8-1.8-1.1z"/>
<path color="#ffa600" d="M143.6 238.5l1.8 1.1 1-.9-1.8-1z"/>
<path color="#ffa600" d="M144.6 237.7l1.8 1 1-.8-1.7-1.1z"/>
<path color="#ffad00" d="M143.3 241.3l1.8 1.1 1.1-.8-1.8-1.2z"/>
<path color="#ffae00" d="M144.4 240.4l1.8 1.2 1-.9-1.8-1.1z"/>
<path color="#ffae00" d="M145.4 239.6l1.8 1.1 1-.8-1.8-1.2z"/>
<path color="#ffaf00" d="M146.4 238.7l1.8 1.2 1-.9-1.8-1.1z"/>
<path color="#ffb500" d="M145.1 242.4l1.8 1.2 1-.8-1.7-1.2z"/>
<path color="#ffb500" d="M146.2 241.6l1.7 1.2 1-.9-1.7-1.2z"/>
<path color="#ffb600" d="M147.2 240.7l1.7 1.2 1.1-.8-1.8-1.2z"/>
<path color="#ffb600" d="M148.2 239.9l1.8 1.2 .9-.9-1.7-1.2z"/>
<path class="m" d="M139.8 239.3l3.5 2 3.6 2.3 2-1.7 2-1.7-3.5-2.3-3.5-2-2 1.7z"/>
<path color="#f57e00" d="M121.5 237.9l3.5 .9 2.1-1.8-3.5-.9z"/>
<path color="#f57e00" d="M123.6 236.1l3.5 .9 2.2-1.7-3.5-.9z"/>
<path color="#f98400" d="M125 238.8l3.5 1 2.1-1.8-3.5-1z"/>
<path color="#f98400" d="M127.1 237l3.5 1 2.1-1.7-3.4-1z"/>
<path class="m" d="M121.5 237.9l3.5 .9 3.5 1 2.1-1.8 2.1-1.7-3.4-1-3.5-.9-2.2 1.7z"/>
<path color="#ffbd00" d="M146.9 243.6l3.6 2.6 2-1.7-3.6-2.6z"/>
<path color="#ffbe00" d="M148.9 241.9l3.6 2.6 2-1.7-3.6-2.6z"/>
<path color="#ffc400" d="M150.5 246.2l3.6 2.7 2-1.7-3.6-2.7z"/>
<path color="#ffc400" d="M152.5 244.5l3.6 2.7 1.9-1.7-3.5-2.7z"/>
<path class="m" d="M146.9 243.6l3.6 2.6 3.6 2.7 2-1.7 1.9-1.7-3.5-2.7-3.6-2.6-2 1.7z"/>
<path color="#ffc700" d="M154.1 248.9l7.2 5.6 3.9-3.3-7.2-5.7z"/>
<path class="m" d="M154.1 248.9l3.6 2.8 3.6 2.8 1.9-1.7 2-1.6-3.6-2.9-3.6-2.8-1.9 1.7z"/>
<path color="#fd8c00" d="M128.5 239.8l3.5 1.3 2.1-1.8-3.5-1.3z"/>
<path color="#fd8c00" d="M130.6 238l3.5 1.3 2.2-1.7-3.6-1.3z"/>
<path color="#ff9400" d="M132 241.1l3.6 1.6 2.1-1.7-3.6-1.7z"/>
<path color="#ff9500" d="M134.1 239.3l3.6 1.7 2.1-1.7-3.5-1.7z"/>
<path class="m" d="M128.5 239.8l3.5 1.3 3.6 1.6 2.1-1.7 2.1-1.7-3.5-1.7-3.6-1.3-2.1 1.7z"/>
<path color="#ffc700" d="M161.3 254.5l7.2 5.6 3.8-3.4-7.1-5.5z"/>
<path class="m" d="M161.3 254.5l3.6 2.8 3.6 2.8 1.9-1.7 1.9-1.7-3.6-2.7-3.5-2.8-2 1.6z"/>
<path color="#ffc500" d="M168.5 260.1l7.3 5.3 3.6-3.4-7.1-5.3z"/>
<path class="m" d="M168.5 260.1l3.6 2.7 3.7 2.6 1.8-1.7 1.8-1.7-3.5-2.6-3.6-2.7-1.9 1.7z"/>
<path color="#ffc000" d="M175.8 265.4l3.6 2.5 1.8-1.7-3.6-2.5z"/>
<path color="#ffc000" d="M177.6 263.7l3.6 2.5 1.8-1.7-3.6-2.5z"/>
<path color="#ffbc00" d="M179.4 267.9l3.6 2.4 1.9-1.8-3.7-2.3z"/>
<path color="#ffbc00" d="M181.2 266.2l3.7 2.3 1.7-1.7-3.6-2.3z"/>
<path class="m" d="M175.8 265.4l3.6 2.5 3.6 2.4 1.9-1.8 1.7-1.7-3.6-2.3-3.6-2.5-1.8 1.7z"/>
<path color="#ff9d00" d="M135.6 242.7l1.8 1 1-.9-1.8-1z"/>
<path color="#ff9d00" d="M136.6 241.8l1.8 1 1.1-.9-1.8-.9z"/>
<path color="#ff9d00" d="M137.7 241l1.8 .9 1-.8-1.8-1z"/>
<path color="#ff9e00" d="M138.7 240.1l1.8 1 1.1-.9-1.8-.9z"/>
<path color="#ffa300" d="M137.4 243.7l1.8 1 1-.9-1.8-1z"/>
<path color="#ffa400" d="M138.4 242.8l1.8 1 1.1-.8-1.8-1.1z"/>
<path color="#ffa400" d="M139.5 241.9l1.8 1.1 1-.9-1.8-1z"/>
<path color="#ffa500" d="M140.5 241.1l1.8 1 1-.8-1.7-1.1z"/>
<path color="#ffab00" d="M139.2 244.7l1.8 1.1 1-.8-1.8-1.2z"/>
<path color="#ffac00" d="M140.2 243.8l1.8 1.2 1.1-.9-1.8-1.1z"/>
<path color="#ffac00" d="M141.3 243l1.8 1.1 1-.8-1.8-1.2z"/>
<path color="#ffad00" d="M142.3 242.1l1.8 1.2 1-.9-1.8-1.1z"/>
<path color="#ffb300" d="M141 245.8l1.8 1.2 1-.8-1.8-1.2z"/>
<path color="#ffb300" d="M142 245l1.8 1.2 1.1-.9-1.8-1.2z"/>
<path color="#ffb400" d="M143.1 244.1l1.8 1.2 1-.8-1.8-1.2z"/>
<path color="#ffb400" d="M144.1 243.3l1.8 1.2 1-.9-1.8-1.2z"/>
<path class="m" d="M135.6 242.7l3.6 2 3.6 2.3 2.1-1.7 2-1.7-3.6-2.3-3.5-2-2.1 1.7z"/>
<path color="#f67f00" d="M117 241.4l3.6 .9 2.2-1.8-3.5-.9z"/>
<path color="#f67e00" d="M119.3 239.6l3.5 .9 2.2-1.7-3.5-.9z"/>
<path color="#f98400" d="M120.6 242.3l3.5 1 2.2-1.8-3.5-1z"/>
<path color="#f98400" d="M122.8 240.5l3.5 1 2.2-1.7-3.5-1z"/>
<path class="m" d="M117 241.4l3.6 .9 3.5 1 2.2-1.8 2.2-1.7-3.5-1-3.5-.9-2.2 1.7z"/>
<path color="#ffb900" d="M183 270.3l7.4 4.5 3.5-3.6-7.3-4.4z"/>
<path class="m" d="M183 270.3l3.7 2.2 3.7 2.3 1.8-1.8 1.7-1.8-3.6-2.2-3.7-2.2-1.7 1.7z"/>
<path color="#ffbb00" d="M142.8 247l3.6 2.6 2.1-1.7-3.6-2.6z"/>
<path color="#ffbc00" d="M144.9 245.3l3.6 2.6 2-1.7-3.6-2.6z"/>
<path color="#ffc300" d="M146.4 249.6l3.7 2.7 2-1.7-3.6-2.7z"/>
<path color="#ffc300" d="M148.5 247.9l3.6 2.7 2-1.7-3.6-2.7z"/>
<path class="m" d="M142.8 247l3.6 2.6 3.7 2.7 2-1.7 2-1.7-3.6-2.7-3.6-2.6-2 1.7z"/>
<path color="#ffba00" d="M190.4 274.8l3.7 2.3 1.7-1.9-3.6-2.2z"/>
<path color="#ffb900" d="M192.2 273l3.6 2.2 1.7-1.8-3.6-2.2z"/>
<path color="#ffbf00" d="M194.1 277.1l3.7 2.3 1.7-1.9-3.7-2.3z"/>
<path color="#ffbe00" d="M195.8 275.2l3.7 2.3 1.7-1.8-3.7-2.3z"/>
<path class="m" d="M190.4 274.8l3.7 2.3 3.7 2.3 1.7-1.9 1.7-1.8-3.7-2.3-3.6-2.2-1.7 1.8z"/>
<path color="#ffc500" d="M197.8 279.4l3.7 2.5 1.7-1.9-3.7-2.5z"/>
<path color="#ffc400" d="M199.5 277.5l3.7 2.5 1.7-1.9-3.7-2.4z"/>
<path color="#ffc801" d="M201.5 281.9l3.7 2.6 1.6-2-3.6-2.5z"/>
<path color="#ffc801" d="M203.2 280l3.6 2.5 1.7-1.9-3.6-2.5z"/>
<path class="m" d="M197.8 279.4l3.7 2.5 3.7 2.6 1.6-2 1.7-1.9-3.6-2.5-3.7-2.4-1.7 1.8z"/>
<path color="#ffc600" d="M150.1 252.3l7.2 5.7 4-3.5-7.2-5.6z"/>
<path class="m" d="M150.1 252.3l3.6 2.8 3.6 2.9 2-1.8 2-1.7-3.6-2.8-3.6-2.8-2 1.7z"/>
<path color="#ffce01" d="M234.9 306l7.5 5.7 2.9-4.4-7.4-5.5z"/>
<path class="m" d="M234.9 306l3.8 2.9 3.7 2.8 1.5-2.2 1.4-2.2-3.7-2.7-3.7-2.8-1.4 2.1z"/>
<path color="#ffca01" d="M205.2 284.5l7.4 5.4 3.2-4-7.3-5.3z"/>
<path class="m" d="M205.2 284.5l3.7 2.7 3.7 2.7 1.6-2 1.6-2-3.6-2.6-3.7-2.7-1.7 1.9z"/>
<path color="#fd8b00" d="M124.1 243.3l3.6 1.3 2.2-1.8-3.6-1.3z"/>
<path color="#fd8c00" d="M126.3 241.5l3.6 1.3 2.1-1.7-3.5-1.3z"/>
<path color="#ff9400" d="M127.7 244.6l3.6 1.7 2.2-1.8-3.6-1.7z"/>
<path color="#ff9400" d="M129.9 242.8l3.6 1.7 2.1-1.8-3.6-1.6z"/>
<path class="m" d="M124.1 243.3l3.6 1.3 3.6 1.7 2.2-1.8 2.1-1.8-3.6-1.6-3.5-1.3-2.2 1.7z"/>
<path color="#ffcb01" d="M212.6 289.9l7.4 5.3 3.2-4.1-7.4-5.2z"/>
<path class="m" d="M212.6 289.9l3.7 2.7 3.7 2.6 1.6-2 1.6-2.1-3.7-2.6-3.7-2.6-1.6 2z"/>
<path color="#ffcd01" d="M227.5 300.5l7.4 5.5 3-4.2-7.3-5.4z"/>
<path class="m" d="M227.5 300.5l3.7 2.8 3.7 2.7 1.6-2.1 1.4-2.1-3.6-2.7-3.7-2.7-1.6 2z"/>
<path color="#ffcb01" d="M220 295.2l7.5 5.3 3.1-4.1-7.4-5.3z"/>
<path class="m" d="M220 295.2l3.7 2.7 3.8 2.6 1.5-2.1 1.6-2-3.7-2.6-3.7-2.7-1.6 2.1z"/>
<path color="#ffc700" d="M157.3 258l7.3 5.6 3.9-3.5-7.2-5.6z"/>
<path class="m" d="M157.3 258l3.7 2.8 3.6 2.8 2-1.7 1.9-1.8-3.6-2.8-3.6-2.8-2 1.7z"/>
<path color="#ffc500" d="M164.6 263.6l7.4 5.3 3.8-3.5-7.3-5.3z"/>
<path class="m" d="M164.6 263.6l3.7 2.7 3.7 2.6 1.9-1.7 1.9-1.8-3.7-2.6-3.6-2.7-1.9 1.8z"/>
<path color="#ff9c00" d="M131.3 246.3l1.8 .9 1.1-.9-1.8-.9z"/>
<path color="#ff9c00" d="M132.4 245.4l1.8 .9 1.1-.9-1.8-.9z"/>
<path color="#ff9c00" d="M133.5 244.5l1.8 .9 1-.8-1.8-1z"/>
<path color="#ff9c00" d="M134.5 243.6l1.8 1 1.1-.9-1.8-1z"/>
<path color="#ffa200" d="M133.1 247.2l1.8 1.1 1.1-.9-1.8-1.1z"/>
<path color="#ffa200" d="M134.2 246.3l1.8 1.1 1.1-.9-1.8-1.1z"/>
<path color="#ffa300" d="M135.3 245.4l1.8 1.1 1-.9-1.8-1z"/>
<path color="#ffa300" d="M136.3 244.6l1.8 1 1.1-.9-1.8-1z"/>
<path color="#ffa900" d="M134.9 248.3l1.8 1.1 1.1-.9-1.8-1.1z"/>
<path color="#ffaa00" d="M136 247.4l1.8 1.1 1.1-.9-1.8-1.1z"/>
<path color="#ffaa00" d="M137.1 246.5l1.8 1.1 1-.9-1.8-1.1z"/>
<path color="#ffab00" d="M138.1 245.6l1.8 1.1 1.1-.9-1.8-1.1z"/>
<path color="#ffb100" d="M136.7 249.4l1.9 1.2 1-.9-1.8-1.2z"/>
<path color="#ffb100" d="M137.8 248.5l1.8 1.2 1.1-.9-1.8-1.2z"/>
<path color="#ffb200" d="M138.9 247.6l1.8 1.2 1-.9-1.8-1.2z"/>
<path color="#ffb200" d="M139.9 246.7l1.8 1.2 1.1-.9-1.8-1.2z"/>
<path class="m" d="M131.3 246.3l3.6 2 3.7 2.3 2.1-1.8 2.1-1.8-3.6-2.3-3.6-2-2.1 1.8z"/>
<path color="#f67f00" d="M112.5 244.9l3.5 1 2.3-1.8-3.5-1z"/>
<path color="#f67f00" d="M114.8 243.1l3.5 1 2.3-1.8-3.6-.9z"/>
<path color="#f98400" d="M116 245.9l3.6 1.1 2.3-1.9-3.6-1z"/>
<path color="#f98400" d="M118.3 244.1l3.6 1 2.2-1.8-3.5-1z"/>
<path class="m" d="M112.5 244.9l3.5 1 3.6 1.1 2.3-1.9 2.2-1.8-3.5-1-3.6-.9-2.2 1.7z"/>
<path color="#ffbf00" d="M172 268.9l7.3 4.9 3.7-3.5-7.2-4.9z"/>
<path class="m" d="M172 268.9l3.7 2.5 3.6 2.4 1.9-1.8 1.8-1.7-3.6-2.4-3.6-2.5-1.9 1.8z"/>
<path color="#ffba00" d="M179.3 273.8l7.5 4.7 3.6-3.7-7.4-4.5z"/>
<path class="m" d="M179.3 273.8l3.8 2.4 3.7 2.3 1.8-1.9 1.8-1.8-3.7-2.3-3.7-2.2-1.8 1.7z"/>
<path color="#ffba00" d="M138.6 250.6l3.6 2.5 2.1-1.8-3.6-2.5z"/>
<path color="#ffbb00" d="M140.7 248.8l3.6 2.5 2.1-1.7-3.6-2.6z"/>
<path color="#ffc200" d="M142.2 253.1l3.7 2.7 2.1-1.8-3.7-2.7z"/>
<path color="#ffc200" d="M144.3 251.3l3.7 2.7 2.1-1.7-3.7-2.7z"/>
<path class="m" d="M138.6 250.6l3.6 2.5 3.7 2.7 2.1-1.8 2.1-1.7-3.7-2.7-3.6-2.6-2.1 1.8z"/>
<path color="#ffbd00" d="M186.8 278.5l3.7 2.3 1.8-1.9-3.7-2.3z"/>
<path color="#ffbb00" d="M188.6 276.6l3.7 2.3 1.8-1.8-3.7-2.3z"/>
<path color="#ffc100" d="M190.5 280.8l3.7 2.4 1.8-1.9-3.7-2.4z"/>
<path color="#ffc000" d="M192.3 278.9l3.7 2.4 1.8-1.9-3.7-2.3z"/>
<path class="m" d="M186.8 278.5l3.7 2.3 3.7 2.4 1.8-1.9 1.8-1.9-3.7-2.3-3.7-2.3-1.8 1.8z"/>
<path color="#ffc600" d="M145.9 255.8l7.4 5.7 4-3.5-7.2-5.7z"/>
<path class="m" d="M145.9 255.8l3.7 2.8 3.7 2.9 2-1.8 2-1.7-3.6-2.9-3.6-2.8-2.1 1.7z"/>
<path color="#ffc700" d="M194.2 283.2l7.5 5.2 3.5-3.9-7.4-5.1z"/>
<path class="m" d="M194.2 283.2l3.8 2.6 3.7 2.6 1.7-2 1.8-1.9-3.7-2.6-3.7-2.5-1.8 1.9z"/>
<path color="#fd8b00" d="M119.6 247l3.6 1.3 2.3-1.9-3.6-1.3z"/>
<path color="#fd8b00" d="M121.9 245.1l3.6 1.3 2.2-1.8-3.6-1.3z"/>
<path color="#ff9300" d="M123.2 248.3l3.7 1.6 2.2-1.8-3.6-1.7z"/>
<path color="#ff9300" d="M125.5 246.4l3.6 1.7 2.2-1.8-3.6-1.7z"/>
<path class="m" d="M119.6 247l3.6 1.3 3.7 1.6 2.2-1.8 2.2-1.8-3.6-1.7-3.6-1.3-2.2 1.8z"/>
<path color="#ffce02" d="M231.8 310.4l7.6 5.8 3-4.5-7.5-5.7z"/>
<path class="m" d="M231.8 310.4l3.8 2.9 3.8 2.9 1.5-2.3 1.5-2.2-3.7-2.8-3.8-2.9-1.5 2.2z"/>
<path color="#ffcb01" d="M201.7 288.4l7.5 5.5 3.4-4-7.4-5.4z"/>
<path class="m" d="M201.7 288.4l3.8 2.8 3.7 2.7 1.7-2 1.7-2-3.7-2.7-3.7-2.7-1.8 1.9z"/>
<path color="#ffcb01" d="M209.2 293.9l7.5 5.5 3.3-4.2-7.4-5.3z"/>
<path class="m" d="M209.2 293.9l3.8 2.8 3.7 2.7 1.7-2.1 1.6-2.1-3.7-2.6-3.7-2.7-1.7 2z"/>
<path color="#ffcd01" d="M224.3 304.8l7.5 5.6 3.1-4.4-7.4-5.5z"/>
<path class="m" d="M224.3 304.8l3.8 2.7 3.7 2.9 1.6-2.2 1.5-2.2-3.7-2.7-3.7-2.8-1.6 2.1z"/>
<path color="#ffcc01" d="M216.7 299.4l7.6 5.4 3.2-4.3-7.5-5.3z"/>
<path class="m" d="M216.7 299.4l3.8 2.7 3.8 2.7 1.6-2.2 1.6-2.1-3.8-2.6-3.7-2.7-1.6 2.1z"/>
<path color="#ffc700" d="M153.3 261.5l7.4 5.7 3.9-3.6-7.3-5.6z"/>
<path class="m" d="M153.3 261.5l3.7 2.9 3.7 2.8 2-1.8 1.9-1.8-3.6-2.8-3.7-2.8-2 1.7z"/>
<path color="#ffc500" d="M160.7 267.2l7.4 5.3 3.9-3.6-7.4-5.3z"/>
<path class="m" d="M160.7 267.2l3.7 2.7 3.7 2.6 1.9-1.8 2-1.8-3.7-2.6-3.7-2.7-1.9 1.8z"/>
<path color="#f67f00" d="M107.8 248.6l3.6 1 2.3-1.9-3.5-.9z"/>
<path color="#f67f00" d="M110.2 246.8l3.5 .9 2.3-1.8-3.5-1z"/>
<path color="#f98300" d="M111.4 249.6l3.6 1.1 2.3-1.9-3.6-1.1z"/>
<path color="#f98400" d="M113.7 247.7l3.6 1.1 2.3-1.8-3.6-1.1z"/>
<path class="m" d="M107.8 248.6l3.6 1 3.6 1.1 2.3-1.9 2.3-1.8-3.6-1.1-3.5-1-2.3 1.9z"/>
<path color="#ff9a00" d="M126.9 249.9l1.8 .9 1.1-.9-1.8-.9z"/>
<path color="#ff9b00" d="M128 249l1.8 .9 1.1-.9-1.8-.9z"/>
<path color="#ff9b00" d="M129.1 248.1l1.8 .9 1.1-.9-1.8-.9z"/>
<path color="#ff9b00" d="M130.2 247.2l1.8 .9 1.1-.9-1.8-.9z"/>
<path color="#ffa000" d="M128.7 250.8l1.8 1.1 1.1-.9-1.8-1.1z"/>
<path color="#ffa000" d="M129.8 249.9l1.8 1.1 1.1-.9-1.8-1.1z"/>
<path color="#ffa100" d="M130.9 249l1.8 1.1 1.1-1-1.8-1z"/>
<path color="#ffa100" d="M132 248.1l1.8 1 1.1-.8-1.8-1.1z"/>
<path color="#ffa600" d="M130.5 251.9l1.9 1.1 1.1-.9-1.9-1.1z"/>
<path color="#ffa700" d="M131.6 251l1.9 1.1 1.1-.9-1.9-1.1z"/>
<path color="#ffa800" d="M132.7 250.1l1.9 1.1 1.1-.9-1.9-1.2z"/>
<path color="#ffa800" d="M133.8 249.1l1.9 1.2 1-.9-1.8-1.1z"/>
<path color="#ffae00" d="M132.4 253l1.8 1.2 1.1-1-1.8-1.1z"/>
<path color="#ffaf00" d="M133.5 252.1l1.8 1.1 1.1-.9-1.8-1.1z"/>
<path color="#ffb000" d="M134.6 251.2l1.8 1.1 1.1-.9-1.8-1.1z"/>
<path color="#ffb000" d="M135.7 250.3l1.8 1.1 1.1-.8-1.9-1.2z"/>
<path class="m" d="M126.9 249.9l3.6 2 3.7 2.3 2.2-1.9 2.2-1.7-3.7-2.3-3.6-2-2.2 1.8z"/>
<path color="#ffbf00" d="M168.1 272.5l7.5 5 3.7-3.7-7.3-4.9z"/>
<path class="m" d="M168.1 272.5l3.7 2.5 3.8 2.5 1.9-1.9 1.8-1.8-3.6-2.4-3.7-2.5-2 1.8z"/>
<path color="#ffbc00" d="M175.6 277.5l7.5 4.8 3.7-3.8-7.5-4.7z"/>
<path class="m" d="M175.6 277.5l3.7 2.4 3.8 2.4 1.8-1.9 1.9-1.9-3.7-2.3-3.8-2.4-1.8 1.8z"/>
<path color="#ffb800" d="M134.2 254.2l3.7 2.5 2.2-1.8-3.7-2.6z"/>
<path color="#ffb900" d="M136.4 252.3l3.7 2.6 2.1-1.8-3.6-2.5z"/>
<path color="#ffc100" d="M137.9 256.7l3.8 2.7 2.1-1.8-3.7-2.7z"/>
<path color="#ffc200" d="M140.1 254.9l3.7 2.7 2.1-1.8-3.7-2.7z"/>
<path class="m" d="M134.2 254.2l3.7 2.5 3.8 2.7 2.1-1.8 2.1-1.8-3.7-2.7-3.6-2.5-2.2 1.7z"/>
<path color="#ffbf00" d="M183.1 282.3l3.7 2.4 1.9-2-3.8-2.3z"/>
<path color="#ffbe00" d="M184.9 280.4l3.8 2.3 1.8-1.9-3.7-2.3z"/>
<path color="#ffc300" d="M186.8 284.7l3.8 2.4 1.8-1.9-3.7-2.5z"/>
<path color="#ffc200" d="M188.7 282.7l3.7 2.5 1.8-2-3.7-2.4z"/>
<path class="m" d="M183.1 282.3l3.7 2.4 3.8 2.4 1.8-1.9 1.8-2-3.7-2.4-3.7-2.3-1.9 1.9z"/>
<path color="#fd8b00" d="M115 250.7l3.7 1.3 2.3-1.9-3.7-1.3z"/>
<path color="#fd8b00" d="M117.3 248.8l3.7 1.3 2.2-1.8-3.6-1.3z"/>
<path color="#ff9200" d="M118.7 252l3.6 1.6 2.3-1.8-3.6-1.7z"/>
<path color="#ff9300" d="M121 250.1l3.6 1.7 2.3-1.9-3.7-1.6z"/>
<path class="m" d="M115 250.7l3.7 1.3 3.6 1.6 2.3-1.8 2.3-1.9-3.7-1.6-3.6-1.3-2.3 1.8z"/>
<path color="#ffc600" d="M141.7 259.4l7.4 5.7 4.2-3.6-7.4-5.7z"/>
<path class="m" d="M141.7 259.4l3.7 2.8 3.7 2.9 2.1-1.8 2.1-1.8-3.7-2.9-3.7-2.8-2.1 1.8z"/>
<path color="#ffc801" d="M190.6 287.1l7.6 5.4 3.5-4.1-7.5-5.2z"/>
<path class="m" d="M190.6 287.1l3.8 2.6 3.8 2.8 1.8-2.1 1.7-2-3.7-2.6-3.8-2.6-1.8 2z"/>
<path color="#ffce02" d="M228.7 314.8l7.6 6 3.1-4.6-7.6-5.8z"/>
<path class="m" d="M228.7 314.8l3.8 3 3.8 3 1.6-2.3 1.5-2.3-3.8-2.9-3.8-2.9-1.5 2.2z"/>
<path color="#ffcb01" d="M198.2 292.5l7.6 5.6 3.4-4.2-7.5-5.5z"/>
<path class="m" d="M198.2 292.5l3.8 2.8 3.8 2.8 1.7-2.1 1.7-2.1-3.7-2.7-3.8-2.8-1.7 2z"/>
<path color="#ffcb01" d="M205.8 298.1l7.6 5.5 3.3-4.2-7.5-5.5z"/>
<path class="m" d="M205.8 298.1l3.8 2.8 3.8 2.7 1.7-2.1 1.6-2.1-3.7-2.7-3.8-2.8-1.7 2.1z"/>
<path color="#ffcd01" d="M221 309.1l7.7 5.7 3.1-4.4-7.5-5.6z"/>
<path class="m" d="M221 309.1l3.9 2.8 3.8 2.9 1.6-2.2 1.5-2.2-3.7-2.9-3.8-2.7-1.6 2.2z"/>
<path color="#ffcc01" d="M213.4 303.6l7.6 5.5 3.3-4.3-7.6-5.4z"/>
<path class="m" d="M213.4 303.6l3.8 2.8 3.8 2.7 1.7-2.1 1.6-2.2-3.8-2.7-3.8-2.7-1.6 2.1z"/>
<path color="#ffc600" d="M149.1 265.1l7.5 5.7 4.1-3.6-7.4-5.7z"/>
<path class="m" d="M149.1 265.1l3.8 2.9 3.7 2.8 2.1-1.8 2-1.8-3.7-2.8-3.7-2.9-2.1 1.8z"/>
<path color="#ffc400" d="M156.6 270.8l7.5 5.4 4-3.7-7.4-5.3z"/>
<path class="m" d="M156.6 270.8l3.8 2.8 3.7 2.6 2-1.8 2-1.9-3.7-2.6-3.7-2.7-2 1.8z"/>
<path color="#f67f00" d="M103.1 252.4l3.6 1 2.4-1.9-3.6-1z"/>
<path color="#f67f00" d="M105.5 250.5l3.6 1 2.3-1.9-3.6-1z"/>
<path color="#f98300" d="M106.7 253.4l3.6 1.1 2.4-1.9-3.6-1.1z"/>
<path color="#f98300" d="M109.1 251.5l3.6 1.1 2.3-1.9-3.6-1.1z"/>
<path class="m" d="M103.1 252.4l3.6 1 3.6 1.1 2.4-1.9 2.3-1.9-3.6-1.1-3.6-1-2.3 1.9z"/>
<path color="#ff9900" d="M122.3 253.6l1.9 1 1.1-1-1.8-.9z"/>
<path color="#ff9900" d="M123.5 252.7l1.8 .9 1.2-.9-1.9-.9z"/>
<path color="#ff9a00" d="M124.6 251.8l1.9 .9 1.1-.9-1.8-1z"/>
<path color="#ff9a00" d="M125.8 250.8l1.8 1 1.1-1-1.8-.9z"/>
<path color="#ff9e00" d="M124.2 254.6l1.9 1 1.1-1-1.9-1z"/>
<path color="#ff9f00" d="M125.3 253.6l1.9 1 1.1-.9-1.8-1z"/>
<path color="#ff9f00" d="M126.5 252.7l1.8 1 1.1-.9-1.8-1z"/>
<path color="#ff9f00" d="M127.6 251.8l1.8 1 1.1-.9-1.8-1.1z"/>
<path color="#ffa400" d="M126.1 255.6l1.8 1.1 1.1-1-1.8-1.1z"/>
<path color="#ffa500" d="M127.2 254.6l1.8 1.1 1.2-.9-1.9-1.1z"/>
<path color="#ffa500" d="M128.3 253.7l1.9 1.1 1.1-.9-1.9-1.1z"/>
<path color="#ffa600" d="M129.4 252.8l1.9 1.1 1.1-.9-1.9-1.1z"/>
<path color="#ffac00" d="M127.9 256.7l1.9 1.2 1.1-1-1.9-1.2z"/>
<path color="#ffad00" d="M129 255.7l1.9 1.2 1.1-.9-1.8-1.2z"/>
<path color="#ffad00" d="M130.2 254.8l1.8 1.2 1.1-.9-1.8-1.2z"/>
<path color="#ffae00" d="M131.3 253.9l1.8 1.2 1.1-.9-1.8-1.2z"/>
<path class="m" d="M122.3 253.6l3.8 2 3.7 2.3 2.2-1.9 2.2-1.8-3.7-2.3-3.6-2-2.3 1.9z"/>
<path color="#ffbf00" d="M164.1 276.2l7.6 5 3.9-3.7-7.5-5z"/>
<path class="m" d="M164.1 276.2l3.8 2.6 3.8 2.4 1.9-1.9 2-1.8-3.8-2.5-3.7-2.5-2 1.9z"/>
<path color="#ffbe00" d="M171.7 281.2l7.6 4.9 3.8-3.8-7.5-4.8z"/>
<path class="m" d="M171.7 281.2l3.8 2.5 3.8 2.4 1.9-1.9 1.9-1.9-3.8-2.4-3.7-2.4-2 1.8z"/>
<path color="#ffb600" d="M129.8 257.9l3.7 2.5 2.3-1.9-3.8-2.5z"/>
<path color="#ffb700" d="M132 256l3.8 2.5 2.1-1.8-3.7-2.5z"/>
<path color="#ffc000" d="M133.5 260.4l3.8 2.7 2.2-1.9-3.7-2.7z"/>
<path color="#ffc000" d="M135.8 258.5l3.7 2.7 2.2-1.8-3.8-2.7z"/>
<path class="m" d="M129.8 257.9l3.7 2.5 3.8 2.7 2.2-1.9 2.2-1.8-3.8-2.7-3.7-2.5-2.2 1.8z"/>
<path color="#ffc100" d="M179.3 286.1l3.8 2.5 1.9-2-3.8-2.4z"/>
<path color="#ffc000" d="M181.2 284.2l3.8 2.4 1.8-1.9-3.7-2.4z"/>
<path color="#ffc500" d="M183.1 288.6l3.8 2.6 1.9-2-3.8-2.6z"/>
<path color="#ffc400" d="M185 286.6l3.8 2.6 1.8-2.1-3.8-2.4z"/>
<path class="m" d="M179.3 286.1l3.8 2.5 3.8 2.6 1.9-2 1.8-2.1-3.8-2.4-3.7-2.4-1.9 1.9z"/>
<path color="#fd8a00" d="M110.3 254.5l3.7 1.3 2.4-1.9-3.7-1.3z"/>
<path color="#fd8b00" d="M112.7 252.6l3.7 1.3 2.3-1.9-3.7-1.3z"/>
<path color="#fe9100" d="M114 255.8l3.7 1.6 2.3-1.9-3.6-1.6z"/>
<path color="#ff9200" d="M116.4 253.9l3.6 1.6 2.3-1.9-3.6-1.6z"/>
<path class="m" d="M110.3 254.5l3.7 1.3 3.7 1.6 2.3-1.9 2.3-1.9-3.6-1.6-3.7-1.3-2.3 1.9z"/>
<path color="#ffc500" d="M137.3 263.1l7.6 5.7 4.2-3.7-7.4-5.7z"/>
<path class="m" d="M137.3 263.1l3.8 2.8 3.8 2.9 2.1-1.8 2.1-1.9-3.7-2.9-3.7-2.8-2.2 1.8z"/>
<path color="#ffc801" d="M186.9 291.2l7.7 5.4 3.6-4.1-7.6-5.4z"/>
<path class="m" d="M186.9 291.2l3.8 2.6 3.9 2.8 1.8-2.1 1.8-2-3.8-2.8-3.8-2.6-1.8 2.1z"/>
<path color="#ffcf02" d="M225.4 319.4l7.8 6.1 3.1-4.7-7.6-6z"/>
<path class="m" d="M225.4 319.4l3.9 3 3.9 3.1 1.6-2.4 1.5-2.3-3.8-3-3.8-3-1.6 2.3z"/>
<path color="#ffcb01" d="M194.6 296.6l7.6 5.8 3.6-4.3-7.6-5.6z"/>
<path class="m" d="M194.6 296.6l3.8 2.9 3.8 2.9 1.8-2.2 1.8-2.1-3.8-2.8-3.8-2.8-1.8 2z"/>
<path color="#ffcc01" d="M202.2 302.4l7.7 5.6 3.5-4.4-7.6-5.5z"/>
<path class="m" d="M202.2 302.4l3.9 2.8 3.8 2.8 1.8-2.2 1.7-2.2-3.8-2.7-3.8-2.8-1.8 2.1z"/>
<path color="#ffcd01" d="M217.7 313.6l7.7 5.8 3.3-4.6-7.7-5.7z"/>
<path class="m" d="M217.7 313.6l3.9 2.9 3.8 2.9 1.7-2.3 1.6-2.3-3.8-2.9-3.9-2.8-1.6 2.3z"/>
<path color="#ffcc01" d="M209.9 308l7.8 5.6 3.3-4.5-7.6-5.5z"/>
<path class="m" d="M209.9 308l3.9 2.8 3.9 2.8 1.7-2.2 1.6-2.3-3.8-2.7-3.8-2.8-1.7 2.2z"/>
<path color="#ffc600" d="M144.9 268.8l7.5 5.8 4.2-3.8-7.5-5.7z"/>
<path class="m" d="M144.9 268.8l3.7 2.9 3.8 2.9 2.1-1.9 2.1-1.9-3.7-2.8-3.8-2.9-2.1 1.9z"/>
<path color="#f67f00" d="M98.2 256.2l3.6 1.1 2.5-2-3.7-1z"/>
<path color="#f67f00" d="M100.6 254.3l3.7 1 2.4-1.9-3.6-1z"/>
<path color="#f98300" d="M101.8 257.3l3.7 1.1 2.4-2-3.6-1.1z"/>
<path color="#f98300" d="M104.3 255.3l3.6 1.1 2.4-1.9-3.6-1.1z"/>
<path class="m" d="M98.2 256.2l3.6 1.1 3.7 1.1 2.4-2 2.4-1.9-3.6-1.1-3.6-1-2.5 1.9z"/>
<path color="#ffc400" d="M152.4 274.6l7.6 5.4 4.1-3.8-7.5-5.4z"/>
<path class="m" d="M152.4 274.6l3.8 2.7 3.8 2.7 2.1-1.9 2-1.9-3.7-2.6-3.8-2.8-2.1 1.9z"/>
<path color="#ff9800" d="M117.7 257.4l1.9 1 1.1-1-1.8-.9z"/>
<path color="#ff9800" d="M118.9 256.5l1.8 .9 1.2-.9-1.9-1z"/>
<path color="#ff9900" d="M120 255.5l1.9 1 1.2-1-1.9-.9z"/>
<path color="#ff9900" d="M121.2 254.6l1.9 .9 1.1-.9-1.9-1z"/>
<path color="#ff9d00" d="M119.6 258.4l1.9 1 1.1-1-1.9-1z"/>
<path color="#ff9d00" d="M120.7 257.4l1.9 1 1.2-.9-1.9-1z"/>
<path color="#ff9e00" d="M121.9 256.5l1.9 1 1.1-1-1.8-1z"/>
<path color="#ff9e00" d="M123.1 255.5l1.8 1 1.2-.9-1.9-1z"/>
<path color="#ffa300" d="M121.5 259.4l1.8 1.1 1.2-1-1.9-1.1z"/>
<path color="#ffa300" d="M122.6 258.4l1.9 1.1 1.1-.9-1.8-1.1z"/>
<path color="#ffa400" d="M123.8 257.5l1.8 1.1 1.2-1-1.9-1.1z"/>
<path color="#ffa400" d="M124.9 256.5l1.9 1.1 1.1-.9-1.8-1.1z"/>
<path color="#ffaa00" d="M123.3 260.5l1.9 1.1 1.2-.9-1.9-1.2z"/>
<path color="#ffaa00" d="M124.5 259.5l1.9 1.2 1.1-1-1.9-1.1z"/>
<path color="#ffab00" d="M125.6 258.6l1.9 1.1 1.2-.9-1.9-1.2z"/>
<path color="#ffab00" d="M126.8 257.6l1.9 1.2 1.1-.9-1.9-1.2z"/>
<path class="m" d="M117.7 257.4l3.8 2 3.7 2.2 2.3-1.9 2.3-1.8-3.7-2.3-3.8-2-2.3 1.9z"/>
<path color="#ffbf00" d="M160 280l7.7 5.1 4-3.9-7.6-5z"/>
<path class="m" d="M160 280l3.9 2.6 3.8 2.5 2-2 2-1.9-3.8-2.4-3.8-2.6-2 1.9z"/>
<path color="#ffb400" d="M125.2 261.6l3.8 2.6 2.3-1.9-3.8-2.6z"/>
<path color="#ffb500" d="M127.5 259.7l3.8 2.6 2.2-1.9-3.7-2.5z"/>
<path color="#ffbe00" d="M129 264.2l3.8 2.7 2.3-1.9-3.8-2.7z"/>
<path color="#ffbf00" d="M131.3 262.3l3.8 2.7 2.2-1.9-3.8-2.7z"/>
<path class="m" d="M125.2 261.6l3.8 2.6 3.8 2.7 2.3-1.9 2.2-1.9-3.8-2.7-3.7-2.5-2.3 1.8z"/>
<path color="#ffbf00" d="M167.7 285.1l7.7 5 3.9-4-7.6-4.9z"/>
<path class="m" d="M167.7 285.1l3.8 2.5 3.9 2.5 1.9-2 2-2-3.8-2.4-3.8-2.5-2 1.9z"/>
<path color="#fc8a00" d="M105.5 258.4l3.7 1.3 2.4-1.9-3.7-1.4z"/>
<path color="#fd8a00" d="M107.9 256.4l3.7 1.4 2.4-2-3.7-1.3z"/>
<path color="#fe9100" d="M109.2 259.7l3.7 1.7 2.4-2-3.7-1.6z"/>
<path color="#fe9100" d="M111.6 257.8l3.7 1.6 2.4-2-3.7-1.6z"/>
<path class="m" d="M105.5 258.4l3.7 1.3 3.7 1.7 2.4-2 2.4-2-3.7-1.6-3.7-1.3-2.4 1.9z"/>
<path color="#ffc400" d="M175.4 290.1l7.7 5.2 3.8-4.1-7.6-5.1z"/>
<path class="m" d="M175.4 290.1l3.8 2.6 3.9 2.6 1.9-2.1 1.9-2-3.8-2.6-3.8-2.5-2 2z"/>
<path color="#ffc500" d="M132.8 266.9l7.7 5.7 4.4-3.8-7.6-5.7z"/>
<path class="m" d="M132.8 266.9l3.8 2.8 3.9 2.9 2.2-1.9 2.2-1.9-3.8-2.9-3.8-2.8-2.2 1.9z"/>
<path color="#ffc901" d="M183.1 295.3l7.7 5.6 3.8-4.3-7.7-5.4z"/>
<path class="m" d="M183.1 295.3l3.9 2.7 3.8 2.9 1.9-2.2 1.9-2.1-3.9-2.8-3.8-2.6-1.9 2z"/>
<path color="#ffcf02" d="M222.1 324.1l7.8 6.2 3.3-4.8-7.8-6.1z"/>
<path class="m" d="M222.1 324.1l3.9 3.1 3.9 3.1 1.7-2.4 1.6-2.4-3.9-3.1-3.9-3-1.6 2.3z"/>
<path color="#ffcc01" d="M190.8 300.9l7.8 5.8 3.6-4.3-7.6-5.8z"/>
<path class="m" d="M190.8 300.9l3.9 2.9 3.9 2.9 1.8-2.2 1.8-2.1-3.8-2.9-3.8-2.9-1.9 2.1z"/>
<path color="#ffcc01" d="M198.6 306.7l7.8 5.8 3.5-4.5-7.7-5.6z"/>
<path class="m" d="M198.6 306.7l3.9 2.9 3.9 2.9 1.8-2.2 1.7-2.3-3.8-2.8-3.9-2.8-1.8 2.1z"/>
<path color="#ffcd01" d="M214.2 318.2l7.9 5.9 3.3-4.7-7.7-5.8z"/>
<path class="m" d="M214.2 318.2l4 2.9 3.9 3 1.7-2.4 1.6-2.3-3.8-2.9-3.9-2.9-1.7 2.3z"/>
<path color="#ffcc01" d="M206.4 312.5l7.8 5.7 3.5-4.6-7.8-5.6z"/>
<path class="m" d="M206.4 312.5l3.9 2.9 3.9 2.8 1.8-2.3 1.7-2.3-3.9-2.8-3.9-2.8-1.7 2.3z"/>
<path color="#ffc600" d="M140.5 272.6l7.6 5.8 4.3-3.8-7.5-5.8z"/>
<path class="m" d="M140.5 272.6l3.8 3 3.8 2.8 2.2-1.9 2.1-1.9-3.8-2.9-3.7-2.9-2.2 1.9z"/>
<path color="#f67f00" d="M93.2 260.2l3.6 1 2.5-2-3.6-1z"/>
<path color="#f67f00" d="M95.7 258.2l3.6 1 2.5-1.9-3.6-1.1z"/>
<path color="#f98300" d="M96.8 261.2l3.7 1.2 2.5-2-3.7-1.2z"/>
<path color="#f98300" d="M99.3 259.2l3.7 1.2 2.5-2-3.7-1.1z"/>
<path class="m" d="M93.2 260.2l3.6 1 3.7 1.2 2.5-2 2.5-2-3.7-1.1-3.6-1.1-2.5 2z"/>
<path color="#ff9600" d="M112.9 261.4l1.9 .9 1.2-1-1.8-.9z"/>
<path color="#ff9700" d="M114.2 260.4l1.8 .9 1.2-1-1.9-.9z"/>
<path color="#ff9700" d="M115.3 259.4l1.9 .9 1.2-1-1.9-.9z"/>
<path color="#ff9800" d="M116.5 258.4l1.9 .9 1.2-.9-1.9-1z"/>
<path color="#ff9c00" d="M114.8 262.3l1.9 1 1.2-1-1.9-1z"/>
<path color="#ff9c00" d="M116 261.3l1.9 1 1.2-1-1.9-1z"/>
<path color="#ff9c00" d="M117.2 260.3l1.9 1 1.2-.9-1.9-1.1z"/>
<path color="#ff9d00" d="M118.4 259.3l1.9 1.1 1.2-1-1.9-1z"/>
<path color="#ffa100" d="M116.7 263.3l1.9 1.1 1.2-1-1.9-1.1z"/>
<path color="#ffa100" d="M117.9 262.3l1.9 1.1 1.2-1-1.9-1.1z"/>
<path color="#ffa200" d="M119.1 261.3l1.9 1.1 1.2-1-1.9-1z"/>
<path color="#ffa200" d="M120.3 260.4l1.9 1 1.1-.9-1.8-1.1z"/>
<path color="#ffa700" d="M118.6 264.4l1.9 1.1 1.2-.9-1.9-1.2z"/>
<path color="#ffa800" d="M119.8 263.4l1.9 1.2 1.2-1-1.9-1.2z"/>
<path color="#ffa900" d="M121 262.4l1.9 1.2 1.2-1-1.9-1.2z"/>
<path color="#ffa900" d="M122.2 261.4l1.9 1.2 1.1-1-1.9-1.1z"/>
<path class="m" d="M112.9 261.4l3.8 1.9 3.8 2.2 2.4-1.9 2.3-2-3.7-2.2-3.8-2-2.4 2z"/>
<path color="#ffc400" d="M148.1 278.4l7.7 5.5 4.2-3.9-7.6-5.4z"/>
<path class="m" d="M148.1 278.4l3.9 2.8 3.8 2.7 2.2-2 2-1.9-3.8-2.7-3.8-2.7-2.1 1.9z"/>
<path color="#ffbf00" d="M155.8 283.9l7.8 5.1 4.1-3.9-7.7-5.1z"/>
<path class="m" d="M155.8 283.9l3.9 2.6 3.9 2.5 2-2 2.1-1.9-3.8-2.5-3.9-2.6-2 1.9z"/>
<path color="#ffaf00" d="M120.5 265.5l2 1.3 1.1-1-1.9-1.2z"/>
<path color="#ffaf00" d="M121.7 264.6l1.9 1.2 1.2-1-1.9-1.2z"/>
<path color="#ffb000" d="M122.9 263.6l1.9 1.2 1.2-1-1.9-1.2z"/>
<path color="#ffb000" d="M124.1 262.6l1.9 1.2 1.1-.9-1.9-1.3z"/>
<path color="#ffb500" d="M122.5 266.8l1.9 1.2 1.1-.9-1.9-1.3z"/>
<path color="#ffb600" d="M123.6 265.8l1.9 1.3 1.2-1-1.9-1.3z"/>
<path color="#ffb600" d="M124.8 264.8l1.9 1.3 1.2-1-1.9-1.3z"/>
<path color="#ffb600" d="M126 263.8l1.9 1.3 1.1-.9-1.9-1.3z"/>
<path color="#ffbb00" d="M124.4 268l1.9 1.4 1.2-1-2-1.3z"/>
<path color="#ffbb00" d="M125.5 267.1l2 1.3 1.1-1-1.9-1.3z"/>
<path color="#ffbb00" d="M126.7 266.1l1.9 1.3 1.2-.9-1.9-1.4z"/>
<path color="#ffbc00" d="M127.9 265.1l1.9 1.4 1.1-1-1.9-1.3z"/>
<path color="#ffbf00" d="M126.3 269.4l1.9 1.4 1.2-1-1.9-1.4z"/>
<path color="#ffbf00" d="M127.5 268.4l1.9 1.4 1.1-1-1.9-1.4z"/>
<path color="#ffc000" d="M128.6 267.4l1.9 1.4 1.2-.9-1.9-1.4z"/>
<path color="#ffc000" d="M129.8 266.5l1.9 1.4 1.1-1-1.9-1.4z"/>
<path class="m" d="M120.5 265.5l3.9 2.5 3.8 2.8 2.3-2 2.3-1.9-3.8-2.7-3.8-2.6-2.3 2z"/>
<path color="#ffc100" d="M163.6 289l7.8 5.2 4-4.1-7.7-5z"/>
<path class="m" d="M163.6 289l3.9 2.6 3.9 2.6 2-2.1 2-2-3.9-2.5-3.8-2.5-2.1 1.9z"/>
<path color="#fc8a00" d="M100.5 262.4l3.8 1.4 2.5-2.1-3.8-1.3z"/>
<path color="#fc8a00" d="M103 260.4l3.8 1.3 2.4-2-3.7-1.3z"/>
<path color="#fe9000" d="M104.3 263.8l3.8 1.6 2.4-2-3.7-1.7z"/>
<path color="#fe9000" d="M106.8 261.7l3.7 1.7 2.4-2-3.7-1.7z"/>
<path class="m" d="M100.5 262.4l3.8 1.4 3.8 1.6 2.4-2 2.4-2-3.7-1.7-3.7-1.3-2.5 2z"/>
<path color="#ffc500" d="M171.4 294.2l7.8 5.4 3.9-4.3-7.7-5.2z"/>
<path class="m" d="M171.4 294.2l3.9 2.7 3.9 2.7 2-2.2 1.9-2.1-3.9-2.6-3.8-2.6-2 2z"/>
<path color="#ffc400" d="M128.2 270.8l7.8 5.8 4.5-4-7.7-5.7z"/>
<path class="m" d="M128.2 270.8l3.9 2.8 3.9 3 2.2-2 2.3-2-3.9-2.9-3.8-2.8-2.3 1.9z"/>
<path color="#ffc901" d="M179.2 299.6l7.8 5.7 3.8-4.4-7.7-5.6z"/>
<path class="m" d="M179.2 299.6l3.9 2.8 3.9 2.9 2-2.2 1.8-2.2-3.8-2.9-3.9-2.7-1.9 2.1z"/>
<path color="#ffcf02" d="M218.7 328.9l7.9 6.4 3.3-5-7.8-6.2z"/>
<path class="m" d="M218.7 328.9l4 3.1 3.9 3.3 1.7-2.5 1.6-2.5-3.9-3.1-3.9-3.1-1.7 2.4z"/>
<path color="#ffcc01" d="M187 305.3l7.9 5.9 3.7-4.5-7.8-5.8z"/>
<path class="m" d="M187 305.3l4 2.9 3.9 3 1.9-2.2 1.8-2.3-3.9-2.9-3.9-2.9-1.8 2.2z"/>
<path color="#f67f00" d="M88 264.2l3.7 1.1 2.6-2-3.7-1.1z"/>
<path color="#f67f00" d="M90.6 262.2l3.7 1.1 2.5-2.1-3.6-1z"/>
<path color="#f88300" d="M91.7 265.3l3.8 1.2 2.5-2.1-3.7-1.1z"/>
<path color="#f88300" d="M94.3 263.3l3.7 1.1 2.5-2-3.7-1.2z"/>
<path class="m" d="M88 264.2l3.7 1.1 3.8 1.2 2.5-2.1 2.5-2-3.7-1.2-3.6-1-2.6 2z"/>
<path color="#ffcd01" d="M210.7 322.9l8 6 3.4-4.8-7.9-5.9z"/>
<path class="m" d="M210.7 322.9l4 3 4 3 1.7-2.4 1.7-2.4-3.9-3-4-2.9-1.7 2.4z"/>
<path color="#ffcc01" d="M194.9 311.2l7.9 5.9 3.6-4.6-7.8-5.8z"/>
<path class="m" d="M194.9 311.2l3.9 3 4 2.9 1.8-2.3 1.8-2.3-3.9-2.9-3.9-2.9-1.8 2.3z"/>
<path color="#ffcc01" d="M202.8 317.1l7.9 5.8 3.5-4.7-7.8-5.7z"/>
<path class="m" d="M202.8 317.1l4 2.9 3.9 2.9 1.8-2.3 1.7-2.4-3.9-2.8-3.9-2.9-1.8 2.3z"/>
<path color="#ffc600" d="M136 276.6l7.7 5.8 4.4-4-7.6-5.8z"/>
<path class="m" d="M136 276.6l3.9 2.9 3.8 2.9 2.3-2 2.1-2-3.8-2.8-3.8-3-2.3 2z"/>
<path color="#ff9500" d="M108.1 265.4l1.9 .9 1.2-1-1.9-.9z"/>
<path color="#ff9500" d="M109.3 264.4l1.9 .9 1.2-1-1.9-.9z"/>
<path color="#ff9600" d="M110.5 263.4l1.9 .9 1.2-1-1.9-.9z"/>
<path color="#ff9600" d="M111.7 262.4l1.9 .9 1.2-1-1.9-.9z"/>
<path color="#ff9a00" d="M110 266.3l1.9 1 1.2-1-1.9-1z"/>
<path color="#ff9a00" d="M111.2 265.3l1.9 1 1.2-1-1.9-1z"/>
<path color="#ff9b00" d="M112.4 264.3l1.9 1 1.2-1-1.9-1z"/>
<path color="#ff9b00" d="M113.6 263.3l1.9 1 1.2-1-1.9-1z"/>
<path color="#ff9f00" d="M111.9 267.3l1.9 1.1 1.2-1-1.9-1.1z"/>
<path color="#ff9f00" d="M113.1 266.3l1.9 1.1 1.2-1-1.9-1.1z"/>
<path color="#ffa000" d="M114.3 265.3l1.9 1.1 1.2-1-1.9-1.1z"/>
<path color="#ffa000" d="M115.5 264.3l1.9 1.1 1.2-1-1.9-1.1z"/>
<path color="#ffa500" d="M113.8 268.4l1.9 1.1 1.2-1-1.9-1.1z"/>
<path color="#ffa500" d="M115 267.4l1.9 1.1 1.3-1-2-1.1z"/>
<path color="#ffa600" d="M116.2 266.4l2 1.1 1.2-1-2-1.1z"/>
<path color="#ffa700" d="M117.4 265.4l2 1.1 1.1-1-1.9-1.1z"/>
<path class="m" d="M108.1 265.4l3.8 1.9 3.8 2.2 2.5-2 2.3-2-3.8-2.2-3.8-1.9-2.4 2z"/>
<path color="#ffc300" d="M143.7 282.4l7.8 5.5 4.3-4-7.7-5.5z"/>
<path class="m" d="M143.7 282.4l3.9 2.8 3.9 2.7 2.2-2 2.1-2-3.8-2.7-3.9-2.8-2.1 2z"/>
<path color="#ffc000" d="M151.5 287.9l7.9 5.2 4.2-4.1-7.8-5.1z"/>
<path class="m" d="M151.5 287.9l4 2.6 3.9 2.6 2.1-2 2.1-2.1-3.9-2.5-3.9-2.6-2.1 2z"/>
<path color="#ffac00" d="M115.7 269.5l2 1.3 1.2-1.1-2-1.2z"/>
<path color="#ffad00" d="M116.9 268.5l2 1.2 1.2-1-1.9-1.2z"/>
<path color="#ffae00" d="M118.2 267.5l1.9 1.2 1.2-1-1.9-1.2z"/>
<path color="#ffae00" d="M119.4 266.5l1.9 1.2 1.2-.9-2-1.3z"/>
<path color="#ffb300" d="M117.7 270.8l1.9 1.2 1.2-1-1.9-1.3z"/>
<path color="#ffb400" d="M118.9 269.7l1.9 1.3 1.2-1-1.9-1.3z"/>
<path color="#ffb400" d="M120.1 268.7l1.9 1.3 1.2-1-1.9-1.3z"/>
<path color="#ffb500" d="M121.3 267.7l1.9 1.3 1.2-1-1.9-1.2z"/>
<path color="#ffb900" d="M119.6 272l2 1.4 1.2-1-2-1.4z"/>
<path color="#ffb900" d="M120.8 271l2 1.4 1.1-1-1.9-1.4z"/>
<path color="#ffba00" d="M122 270l1.9 1.4 1.2-1-1.9-1.4z"/>
<path color="#ffba00" d="M123.2 269l1.9 1.4 1.2-1-1.9-1.4z"/>
<path color="#ffbe00" d="M121.6 273.4l1.9 1.4 1.2-1-1.9-1.4z"/>
<path color="#ffbe00" d="M122.8 272.4l1.9 1.4 1.2-1-2-1.4z"/>
<path color="#ffbe00" d="M123.9 271.4l2 1.4 1.2-1-2-1.4z"/>
<path color="#ffbf00" d="M125.1 270.4l2 1.4 1.1-1-1.9-1.4z"/>
<path class="m" d="M115.7 269.5l3.9 2.5 3.9 2.8 2.4-2 2.3-2-3.8-2.8-3.9-2.5-2.3 2z"/>
<path color="#fc8900" d="M95.5 266.5l3.7 1.4 2.6-2.1-3.8-1.4z"/>
<path color="#fc8900" d="M98 264.4l3.8 1.4 2.5-2-3.8-1.4z"/>
<path color="#fe8f00" d="M99.2 267.9l3.8 1.6 2.6-2.1-3.8-1.6z"/>
<path color="#fe8f00" d="M101.8 265.8l3.8 1.6 2.5-2-3.8-1.6z"/>
<path class="m" d="M95.5 266.5l3.7 1.4 3.8 1.6 2.6-2.1 2.5-2-3.8-1.6-3.8-1.4-2.5 2z"/>
<path color="#ffc200" d="M159.4 293.1l7.9 5.3 4.1-4.2-7.8-5.2z"/>
<path class="m" d="M159.4 293.1l3.9 2.6 4 2.7 2-2.1 2.1-2.1-3.9-2.6-3.9-2.6-2.1 2.1z"/>
<path color="#ffc400" d="M123.5 274.8l7.8 5.8 4.7-4-7.8-5.8z"/>
<path class="m" d="M123.5 274.8l3.9 2.8 3.9 3 2.4-2 2.3-2-3.9-3-3.9-2.8-2.3 2z"/>
<path color="#ffc600" d="M167.3 298.4l7.9 5.5 4-4.3-7.8-5.4z"/>
<path class="m" d="M167.3 298.4l3.9 2.7 4 2.8 2-2.2 2-2.1-3.9-2.7-3.9-2.7-2.1 2.1z"/>
<path color="#f67f00" d="M82.7 268.4l3.8 1.1 2.6-2.1-3.7-1.1z"/>
<path color="#f67f00" d="M85.4 266.3l3.7 1.1 2.6-2.1-3.7-1.1z"/>
<path color="#f88300" d="M86.5 269.5l3.7 1.2 2.7-2.1-3.8-1.2z"/>
<path color="#f88300" d="M89.1 267.4l3.8 1.2 2.6-2.1-3.8-1.2z"/>
<path class="m" d="M82.7 268.4l3.8 1.1 3.7 1.2 2.7-2.1 2.6-2.1-3.8-1.2-3.7-1.1-2.6 2.1z"/>
<path color="#ffd002" d="M215.2 333.8l8 6.6 3.4-5.1-7.9-6.4z"/>
<path class="m" d="M215.2 333.8l4 3.3 4 3.3 1.7-2.6 1.7-2.5-3.9-3.3-4-3.1-1.8 2.5z"/>
<path color="#ffca01" d="M175.2 303.9l7.9 5.9 3.9-4.5-7.8-5.7z"/>
<path class="m" d="M175.2 303.9l3.9 2.9 4 3 2-2.3 1.9-2.2-3.9-2.9-3.9-2.8-2 2.1z"/>
<path color="#ffcc01" d="M183.1 309.8l8 6 3.8-4.6-7.9-5.9z"/>
<path class="m" d="M183.1 309.8l4 3 4 3 1.9-2.3 1.9-2.3-3.9-3-4-2.9-1.9 2.2z"/>
<path color="#ffce01" d="M207.1 327.8l8.1 6 3.5-4.9-8-6z"/>
<path class="m" d="M207.1 327.8l4 3 4.1 3 1.7-2.4 1.8-2.5-4-3-4-3-1.8 2.4z"/>
<path color="#ffcc01" d="M191.1 315.8l8 6.1 3.7-4.8-7.9-5.9z"/>
<path class="m" d="M191.1 315.8l4 3.1 4 3 1.8-2.4 1.9-2.4-4-2.9-3.9-3-1.9 2.3z"/>
<path color="#ffcc01" d="M199.1 321.9l8 5.9 3.6-4.9-7.9-5.8z"/>
<path class="m" d="M199.1 321.9l4 2.9 4 3 1.8-2.5 1.8-2.4-3.9-2.9-4-2.9-1.9 2.4z"/>
<path color="#ffc500" d="M131.3 280.6l7.9 5.8 4.5-4-7.7-5.8z"/>
<path class="m" d="M131.3 280.6l4 2.9 3.9 2.9 2.3-2 2.2-2-3.8-2.9-3.9-2.9-2.3 2z"/>
<path color="#ff9600" d="M103 269.5l3.9 1.9 2.5-2-3.8-2z"/>
<path color="#ff9700" d="M105.6 267.4l3.8 2 2.5-2.1-3.8-1.9z"/>
<path color="#ffa000" d="M106.9 271.4l3.9 2.2 2.5-2-3.9-2.2z"/>
<path color="#ffa100" d="M109.4 269.4l3.9 2.2 2.4-2.1-3.8-2.2z"/>
<path class="m" d="M103 269.5l3.9 1.9 3.9 2.2 2.5-2 2.4-2.1-3.8-2.2-3.8-1.9-2.5 2z"/>
<path color="#ffc300" d="M139.2 286.4l7.9 5.6 4.4-4.1-7.8-5.5z"/>
<path class="m" d="M139.2 286.4l4 2.8 3.9 2.8 2.2-2.1 2.2-2-3.9-2.7-3.9-2.8-2.2 2z"/>
<path color="#ffc000" d="M147.1 292l7.9 5.3 4.4-4.2-7.9-5.2z"/>
<path class="m" d="M147.1 292l4 2.6 3.9 2.7 2.2-2.1 2.2-2.1-3.9-2.6-4-2.6-2.2 2z"/>
<path color="#ffaa00" d="M110.8 273.6l2 1.2 1.2-1-2-1.2z"/>
<path color="#ffaa00" d="M112 272.6l2 1.2 1.2-1-1.9-1.2z"/>
<path color="#ffab00" d="M113.3 271.6l1.9 1.2 1.3-1-2-1.3z"/>
<path color="#ffac00" d="M114.5 270.5l2 1.3 1.2-1-2-1.3z"/>
<path color="#ffb100" d="M112.8 274.8l1.9 1.3 1.3-1-2-1.3z"/>
<path color="#ffb100" d="M114 273.8l2 1.3 1.2-1-2-1.3z"/>
<path color="#ffb200" d="M115.2 272.8l2 1.3 1.2-1-1.9-1.3z"/>
<path color="#ffb300" d="M116.5 271.8l1.9 1.3 1.2-1.1-1.9-1.2z"/>
<path color="#ffb700" d="M114.7 276.1l2 1.4 1.2-1.1-1.9-1.3z"/>
<path color="#ffb800" d="M116 275.1l1.9 1.3 1.2-1-1.9-1.3z"/>
<path color="#ffb800" d="M117.2 274.1l1.9 1.3 1.3-1-2-1.3z"/>
<path color="#ffb900" d="M118.4 273.1l2 1.3 1.2-1-2-1.4z"/>
<path color="#ffbc00" d="M116.7 277.5l2 1.4 1.2-1.1-2-1.4z"/>
<path color="#ffbd00" d="M117.9 276.4l2 1.4 1.2-1-2-1.4z"/>
<path color="#ffbd00" d="M119.1 275.4l2 1.4 1.2-1-1.9-1.4z"/>
<path color="#ffbd00" d="M120.4 274.4l1.9 1.4 1.2-1-1.9-1.4z"/>
<path class="m" d="M110.8 273.6l3.9 2.5 4 2.8 2.4-2.1 2.4-2-3.9-2.8-3.9-2.5-2.4 2.1z"/>
<path color="#fc8900" d="M90.2 270.7l3.8 1.4 2.7-2.1-3.8-1.4z"/>
<path color="#fc8900" d="M92.9 268.6l3.8 1.4 2.5-2.1-3.7-1.4z"/>
<path color="#fe8e00" d="M94 272.1l3.9 1.6 2.6-2.1-3.8-1.6z"/>
<path color="#fe8f00" d="M96.7 270l3.8 1.6 2.5-2.1-3.8-1.6z"/>
<path class="m" d="M90.2 270.7l3.8 1.4 3.9 1.6 2.6-2.1 2.5-2.1-3.8-1.6-3.7-1.4-2.6 2.1z"/>
<path color="#ffc300" d="M155 297.3l8 5.4 4.3-4.3-7.9-5.3z"/>
<path class="m" d="M155 297.3l4 2.7 4 2.7 2.2-2.1 2.1-2.2-4-2.7-3.9-2.6-2.2 2.1z"/>
<path color="#ffc100" d="M118.7 278.9l3.9 2.9 2.4-2.1-3.9-2.9z"/>
<path color="#ffc200" d="M121.1 276.8l3.9 2.9 2.4-2.1-3.9-2.8z"/>
<path color="#ffc400" d="M122.6 281.8l4 2.9 2.4-2.1-4-2.9z"/>
<path color="#ffc500" d="M125 279.7l4 2.9 2.3-2-3.9-3z"/>
<path class="m" d="M118.7 278.9l3.9 2.9 4 2.9 2.4-2.1 2.3-2-3.9-3-3.9-2.8-2.4 2z"/>
<path color="#f78100" d="M77.3 272.7l7.6 2.4 5.3-4.4-7.5-2.3z"/>
<path class="m" d="M77.3 272.7l3.8 1.1 3.8 1.3 2.7-2.2 2.6-2.2-3.7-1.2-3.8-1.1-2.7 2.1z"/>
<path color="#ffc700" d="M163 302.7l8 5.7 4.2-4.5-7.9-5.5z"/>
<path class="m" d="M163 302.7l4 2.9 4 2.8 2.1-2.2 2.1-2.3-4-2.8-3.9-2.7-2.1 2.2z"/>
<path color="#ffd002" d="M211.6 338.9l8.1 6.7 3.5-5.2-8-6.6z"/>
<path class="m" d="M211.6 338.9l4 3.3 4.1 3.4 1.8-2.6 1.7-2.6-4-3.3-4-3.3-1.8 2.6z"/>
<path color="#ffca01" d="M171 308.4l8.1 6 4-4.6-7.9-5.9z"/>
<path class="m" d="M171 308.4l4.1 3 4 3 2-2.4 2-2.2-4-3-3.9-2.9-2.1 2.3z"/>
<path color="#ffcc01" d="M179.1 314.4l8.1 6.2 3.9-4.8-8-6z"/>
<path class="m" d="M179.1 314.4l4 3.1 4.1 3.1 1.9-2.4 2-2.4-4-3-4-3-2 2.2z"/>
<path color="#ffce01" d="M203.4 332.7l8.2 6.2 3.6-5.1-8.1-6z"/>
<path class="m" d="M203.4 332.7l4.1 3.1 4.1 3.1 1.8-2.5 1.8-2.6-4.1-3-4-3-1.8 2.4z"/>
<path color="#ffcd01" d="M187.2 320.6l8.1 6.2 3.8-4.9-8-6.1z"/>
<path class="m" d="M187.2 320.6l4 3.1 4.1 3.1 1.9-2.5 1.9-2.4-4-3-4-3.1-2 2.4z"/>
<path color="#ffc500" d="M126.6 284.7l8 5.9 4.6-4.2-7.9-5.8z"/>
<path class="m" d="M126.6 284.7l4 3 4 2.9 2.3-2.1 2.3-2.1-3.9-2.9-4-2.9-2.3 2z"/>
<path color="#ffcc01" d="M195.3 326.8l8.1 5.9 3.7-4.9-8-5.9z"/>
<path class="m" d="M195.3 326.8l4 3 4.1 2.9 1.9-2.5 1.8-2.4-4-3-4-2.9-1.9 2.4z"/>
<path color="#ff9500" d="M97.9 273.7l3.9 1.9 2.6-2.1-3.9-1.9z"/>
<path color="#ff9600" d="M100.5 271.6l3.9 1.9 2.5-2.1-3.9-1.9z"/>
<path color="#ff9e00" d="M101.8 275.6l3.9 2.2 2.6-2.1-3.9-2.2z"/>
<path color="#ff9f00" d="M104.4 273.5l3.9 2.2 2.5-2.1-3.9-2.2z"/>
<path class="m" d="M97.9 273.7l3.9 1.9 3.9 2.2 2.6-2.1 2.5-2.1-3.9-2.2-3.9-1.9-2.5 2.1z"/>
<path color="#ffc200" d="M134.6 290.6l8 5.6 4.5-4.2-7.9-5.6z"/>
<path class="m" d="M134.6 290.6l4 2.8 4 2.8 2.3-2.1 2.2-2.1-3.9-2.8-4-2.8-2.3 2.1z"/>
<path color="#fc8800" d="M84.9 275.1l3.8 1.4 2.7-2.2-3.8-1.4z"/>
<path color="#fc8800" d="M87.6 272.9l3.8 1.4 2.6-2.2-3.8-1.4z"/>
<path color="#fe8e00" d="M88.7 276.5l3.9 1.6 2.7-2.2-3.9-1.6z"/>
<path color="#fe8e00" d="M91.4 274.3l3.9 1.6 2.6-2.2-3.9-1.6z"/>
<path class="m" d="M84.9 275.1l3.8 1.4 3.9 1.6 2.7-2.2 2.6-2.2-3.9-1.6-3.8-1.4-2.6 2.2z"/>
<path color="#ffa700" d="M105.7 277.8l2 1.3 1.3-1.1-2-1.2z"/>
<path color="#ffa800" d="M107 276.8l2 1.2 1.2-1.1-1.9-1.2z"/>
<path color="#ffa800" d="M108.3 275.7l1.9 1.2 1.3-1-2-1.2z"/>
<path color="#ffa900" d="M109.5 274.7l2 1.2 1.3-1.1-2-1.2z"/>
<path color="#ffaf00" d="M107.7 279.1l2 1.2 1.3-1-2-1.3z"/>
<path color="#ffaf00" d="M109 278l2 1.3 1.2-1.1-2-1.3z"/>
<path color="#ffb000" d="M110.2 276.9l2 1.3 1.3-1-2-1.3z"/>
<path color="#ffb000" d="M111.5 275.9l2 1.3 1.2-1.1-1.9-1.3z"/>
<path color="#ffb500" d="M109.7 280.3l2 1.4 1.2-1.1-1.9-1.3z"/>
<path color="#ffb600" d="M111 279.3l1.9 1.3 1.3-1-2-1.4z"/>
<path color="#ffb600" d="M112.2 278.2l2 1.4 1.2-1.1-1.9-1.3z"/>
<path color="#ffb700" d="M113.5 277.2l1.9 1.3 1.3-1-2-1.4z"/>
<path color="#ffba00" d="M111.7 281.7l2 1.4 1.2-1.1-2-1.4z"/>
<path color="#ffbb00" d="M112.9 280.6l2 1.4 1.3-1-2-1.4z"/>
<path color="#ffbb00" d="M114.2 279.6l2 1.4 1.2-1.1-2-1.4z"/>
<path color="#ffbc00" d="M115.4 278.5l2 1.4 1.3-1-2-1.4z"/>
<path class="m" d="M105.7 277.8l4 2.5 4 2.8 2.5-2.1 2.5-2.1-4-2.8-3.9-2.5-2.5 2.1z"/>
<path color="#ffbf00" d="M142.6 296.2l8 5.4 4.4-4.3-7.9-5.3z"/>
<path class="m" d="M142.6 296.2l4 2.7 4 2.7 2.2-2.2 2.2-2.1-3.9-2.7-4-2.6-2.2 2.1z"/>
<path color="#ffc400" d="M150.6 301.6l8.1 5.6 4.3-4.5-8-5.4z"/>
<path class="m" d="M150.6 301.6l4 2.7 4.1 2.9 2.2-2.3 2.1-2.2-4-2.7-4-2.7-2.2 2.1z"/>
<path color="#f78100" d="M71.7 277.1l7.7 2.4 5.5-4.4-7.6-2.4z"/>
<path class="m" d="M71.7 277.1l3.8 1.2 3.9 1.2 2.7-2.2 2.8-2.2-3.8-1.3-3.8-1.1-2.8 2.2z"/>
<path color="#ffc000" d="M113.7 283.1l4 2.9 2.5-2.1-4-2.9z"/>
<path color="#ffc100" d="M116.2 281l4 2.9 2.4-2.1-3.9-2.9z"/>
<path color="#ffc400" d="M117.7 286l4 3 2.5-2.2-4-2.9z"/>
<path color="#ffc400" d="M120.2 283.9l4 2.9 2.4-2.1-4-2.9z"/>
<path class="m" d="M113.7 283.1l4 2.9 4 3 2.5-2.2 2.4-2.1-4-2.9-3.9-2.9-2.5 2.1z"/>
<path color="#ffc801" d="M158.7 307.2l8.1 5.8 4.2-4.6-8-5.7z"/>
<path class="m" d="M158.7 307.2l4 2.9 4.1 2.9 2.1-2.3 2.1-2.3-4-2.8-4-2.9-2.1 2.2z"/>
<path color="#ffd002" d="M207.8 344.1l8.3 6.9 3.6-5.4-8.1-6.7z"/>
<path class="m" d="M207.8 344.1l4.2 3.4 4.1 3.5 1.8-2.7 1.8-2.7-4.1-3.4-4-3.3-1.9 2.6z"/>
<path color="#ffca01" d="M166.8 313l8.2 6.1 4.1-4.7-8.1-6z"/>
<path class="m" d="M166.8 313l4.1 3 4.1 3.1 2-2.4 2.1-2.3-4-3-4.1-3-2.1 2.3z"/>
<path color="#ffcc01" d="M175 319.1l8.1 6.4 4.1-4.9-8.1-6.2z"/>
<path class="m" d="M175 319.1l4 3.2 4.1 3.2 2.1-2.5 2-2.4-4.1-3.1-4-3.1-2.1 2.3z"/>
<path color="#ff9400" d="M92.6 278.1l3.9 1.9 2.7-2.2-3.9-1.9z"/>
<path color="#ff9500" d="M95.3 275.9l3.9 1.9 2.6-2.2-3.9-1.9z"/>
<path color="#ff9d00" d="M96.5 280l4 2.2 2.6-2.2-3.9-2.2z"/>
<path color="#ff9e00" d="M99.2 277.8l3.9 2.2 2.6-2.2-3.9-2.2z"/>
<path class="m" d="M92.6 278.1l3.9 1.9 4 2.2 2.6-2.2 2.6-2.2-3.9-2.2-3.9-1.9-2.6 2.2z"/>
<path color="#ffce01" d="M199.6 337.9l8.2 6.2 3.8-5.2-8.2-6.2z"/>
<path class="m" d="M199.6 337.9l4.1 3 4.1 3.2 1.9-2.6 1.9-2.6-4.1-3.1-4.1-3.1-1.9 2.6z"/>
<path color="#ffc400" d="M121.7 289l8.1 5.9 4.8-4.3-8-5.9z"/>
<path class="m" d="M121.7 289l4 2.9 4.1 3 2.4-2.2 2.4-2.1-4-2.9-4-3-2.4 2.1z"/>
<path color="#ffcd01" d="M183.1 325.5l8.2 6.3 4-5-8.1-6.2z"/>
<path class="m" d="M183.1 325.5l4.1 3.1 4.1 3.2 2-2.6 2-2.4-4.1-3.1-4-3.1-2 2.4z"/>
<path color="#ffcc01" d="M191.3 331.8l8.3 6.1 3.8-5.2-8.1-5.9z"/>
<path class="m" d="M191.3 331.8l4.1 3 4.2 3.1 1.9-2.6 1.9-2.6-4.1-2.9-4-3-2 2.4z"/>
<path color="#ffc100" d="M129.8 294.9l8.1 5.6 4.7-4.3-8-5.6z"/>
<path class="m" d="M129.8 294.9l4 2.8 4.1 2.8 2.3-2.2 2.4-2.1-4-2.8-4-2.8-2.4 2.1z"/>
<path color="#fb8700" d="M79.4 279.5l3.8 1.5 2.8-2.3-3.9-1.4z"/>
<path color="#fb8800" d="M82.1 277.3l3.9 1.4 2.7-2.2-3.8-1.4z"/>
<path color="#fe8d00" d="M83.2 281l4 1.6 2.7-2.3-3.9-1.6z"/>
<path color="#fe8d00" d="M86 278.7l3.9 1.6 2.7-2.2-3.9-1.6z"/>
<path class="m" d="M79.4 279.5l3.8 1.5 4 1.6 2.7-2.3 2.7-2.2-3.9-1.6-3.8-1.4-2.8 2.2z"/>
<path color="#ffa500" d="M100.5 282.2l2 1.2 1.3-1.1-2-1.2z"/>
<path color="#ffa500" d="M101.8 281.1l2 1.2 1.3-1.1-2-1.2z"/>
<path color="#ffa600" d="M103.1 280l2 1.2 1.3-1.1-2-1.2z"/>
<path color="#ffa600" d="M104.4 278.9l2 1.2 1.3-1-2-1.3z"/>
<path color="#ffac00" d="M102.5 283.4l2 1.3 1.3-1.1-2-1.3z"/>
<path color="#ffad00" d="M103.8 282.3l2 1.3 1.3-1.1-2-1.3z"/>
<path color="#ffad00" d="M105.1 281.2l2 1.3 1.3-1.1-2-1.3z"/>
<path color="#ffae00" d="M106.4 280.1l2 1.3 1.3-1.1-2-1.2z"/>
<path color="#ffb300" d="M104.5 284.7l2 1.3 1.3-1.1-2-1.3z"/>
<path color="#ffb400" d="M105.8 283.6l2 1.3 1.3-1.1-2-1.3z"/>
<path color="#ffb400" d="M107.1 282.5l2 1.3 1.3-1-2-1.4z"/>
<path color="#ffb500" d="M108.4 281.4l2 1.4 1.3-1.1-2-1.4z"/>
<path color="#ffb900" d="M106.5 286l2.1 1.4 1.3-1.1-2.1-1.4z"/>
<path color="#ffb900" d="M107.8 284.9l2.1 1.4 1.2-1.1-2-1.4z"/>
<path color="#ffba00" d="M109.1 283.8l2 1.4 1.3-1-2-1.4z"/>
<path color="#ffba00" d="M110.4 282.8l2 1.4 1.3-1.1-2-1.4z"/>
<path class="m" d="M100.5 282.2l4 2.5 4.1 2.7 2.5-2.2 2.6-2.1-4-2.8-4-2.5-2.6 2.2z"/>
<path color="#ffbf00" d="M137.9 300.5l8.1 5.5 4.6-4.4-8-5.4z"/>
<path class="m" d="M137.9 300.5l4.1 2.7 4 2.8 2.3-2.2 2.3-2.2-4-2.7-4-2.7-2.4 2.1z"/>
<path color="#f78100" d="M66 281.6l7.7 2.5 5.7-4.6-7.7-2.4z"/>
<path class="m" d="M66 281.6l3.8 1.2 3.9 1.3 2.9-2.3 2.8-2.3-3.9-1.2-3.8-1.2-2.8 2.2z"/>
<path color="#ffc500" d="M146 306l8.2 5.7 4.5-4.5-8.1-5.6z"/>
<path class="m" d="M146 306l4.1 2.8 4.1 2.9 2.3-2.3 2.2-2.2-4.1-2.9-4-2.7-2.3 2.2z"/>
<path color="#ffbf00" d="M108.6 287.4l4 2.9 2.6-2.2-4.1-2.9z"/>
<path color="#ffbf00" d="M111.1 285.2l4.1 2.9 2.5-2.1-4-2.9z"/>
<path color="#ffc300" d="M112.6 290.3l4.1 3 2.5-2.2-4-3z"/>
<path color="#ffc300" d="M115.2 288.1l4 3 2.5-2.1-4-3z"/>
<path class="m" d="M108.6 287.4l4 2.9 4.1 3 2.5-2.2 2.5-2.1-4-3-4-2.9-2.6 2.1z"/>
<path color="#ffc801" d="M154.2 311.7l8.2 6.1 4.4-4.8-8.1-5.8z"/>
<path class="m" d="M154.2 311.7l4.1 3 4.1 3.1 2.2-2.4 2.2-2.4-4.1-2.9-4-2.9-2.2 2.2z"/>
<path color="#ffd002" d="M204 349.5l8.4 7.1 3.7-5.6-8.3-6.9z"/>
<path class="m" d="M204 349.5l4.2 3.5 4.2 3.6 1.9-2.8 1.8-2.8-4.1-3.5-4.2-3.4-1.8 2.7z"/>
<path color="#ff9300" d="M87.2 282.6l3.9 1.9 2.8-2.3-4-1.9z"/>
<path color="#ff9300" d="M89.9 280.3l4 1.9 2.6-2.2-3.9-1.9z"/>
<path color="#ff9b00" d="M91.1 284.5l4.1 2.1 2.6-2.2-3.9-2.2z"/>
<path color="#ff9c00" d="M93.9 282.2l3.9 2.2 2.7-2.2-4-2.2z"/>
<path class="m" d="M87.2 282.6l3.9 1.9 4.1 2.1 2.6-2.2 2.7-2.2-4-2.2-3.9-1.9-2.7 2.2z"/>
<path color="#ffcb01" d="M162.4 317.8l8.3 6.2 4.3-4.9-8.2-6.1z"/>
<path class="m" d="M162.4 317.8l4.2 3 4.1 3.2 2.1-2.5 2.2-2.4-4.1-3.1-4.1-3-2.2 2.4z"/>
<path color="#ffc400" d="M116.7 293.3l8.2 6 4.9-4.4-8.1-5.9z"/>
<path class="m" d="M116.7 293.3l4.1 3 4.1 3 2.4-2.2 2.5-2.2-4.1-3-4-2.9-2.5 2.1z"/>
<path color="#ffce01" d="M195.7 343.1l8.3 6.4 3.8-5.4-8.2-6.2z"/>
<path class="m" d="M195.7 343.1l4.1 3.1 4.2 3.3 2-2.7 1.8-2.7-4.1-3.2-4.1-3-2 2.6z"/>
<path color="#ffcc01" d="M170.7 324l8.3 6.5 4.1-5-8.1-6.4z"/>
<path class="m" d="M170.7 324l4.1 3.2 4.2 3.3 2.1-2.6 2-2.4-4.1-3.2-4-3.2-2.2 2.4z"/>
<path color="#ffcd01" d="M179 330.5l8.3 6.4 4-5.1-8.2-6.3z"/>
<path class="m" d="M179 330.5l4.1 3.2 4.2 3.2 2-2.6 2-2.5-4.1-3.2-4.1-3.1-2 2.4z"/>
<path color="#ffcd01" d="M187.3 336.9l8.4 6.2 3.9-5.2-8.3-6.1z"/>
<path class="m" d="M187.3 336.9l4.2 3.1 4.2 3.1 1.9-2.6 2-2.6-4.2-3.1-4.1-3-2 2.5z"/>
<path color="#ffc000" d="M124.9 299.3l8.2 5.7 4.8-4.5-8.1-5.6z"/>
<path class="m" d="M124.9 299.3l4.1 2.9 4.1 2.8 2.4-2.3 2.4-2.2-4.1-2.8-4-2.8-2.5 2.2z"/>
<path color="#fb8700" d="M73.7 284.1l3.9 1.4 2.9-2.3-3.9-1.4z"/>
<path color="#fb8700" d="M76.6 281.8l3.9 1.4 2.7-2.2-3.8-1.5z"/>
<path color="#fd8c00" d="M77.6 285.5l4 1.7 2.8-2.3-3.9-1.7z"/>
<path color="#fe8c00" d="M80.5 283.2l3.9 1.7 2.8-2.3-4-1.6z"/>
<path class="m" d="M73.7 284.1l3.9 1.4 4 1.7 2.8-2.3 2.8-2.3-4-1.6-3.8-1.5-2.8 2.3z"/>
<path color="#ffa300" d="M95.2 286.6l2 1.2 1.3-1.1-2-1.2z"/>
<path color="#ffa300" d="M96.5 285.5l2 1.2 1.4-1.1-2.1-1.2z"/>
<path color="#ffa400" d="M97.8 284.4l2.1 1.2 1.3-1.1-2-1.2z"/>
<path color="#ffa400" d="M99.2 283.3l2 1.2 1.3-1.1-2-1.2z"/>
<path color="#ffaa00" d="M97.2 287.8l2 1.3 1.3-1.1-2-1.3z"/>
<path color="#ffab00" d="M98.5 286.7l2 1.3 1.4-1.1-2-1.3z"/>
<path color="#ffab00" d="M99.9 285.6l2 1.3 1.3-1.1-2-1.3z"/>
<path color="#ffac00" d="M101.2 284.5l2 1.3 1.3-1.1-2-1.3z"/>
<path color="#ffb100" d="M99.2 289.1l2 1.4 1.4-1.2-2.1-1.3z"/>
<path color="#ffb200" d="M100.5 288l2.1 1.3 1.3-1.1-2-1.3z"/>
<path color="#ffb200" d="M101.9 286.9l2 1.3 1.3-1.1-2-1.3z"/>
<path color="#ffb300" d="M103.2 285.8l2 1.3 1.3-1.1-2-1.3z"/>
<path color="#ffb700" d="M101.2 290.5l2.1 1.4 1.3-1.2-2-1.4z"/>
<path color="#ffb800" d="M102.6 289.3l2 1.4 1.3-1.1-2-1.4z"/>
<path color="#ffb800" d="M103.9 288.2l2 1.4 1.4-1.1-2.1-1.4z"/>
<path color="#ffb800" d="M105.2 287.1l2.1 1.4 1.3-1.1-2.1-1.4z"/>
<path class="m" d="M95.2 286.6l4 2.5 4.1 2.8 2.6-2.3 2.7-2.2-4.1-2.7-4-2.5-2.7 2.2z"/>
<path color="#ffbf00" d="M133.1 305l8.2 5.5 4.7-4.5-8.1-5.5z"/>
<path class="m" d="M133.1 305l4.1 2.7 4.1 2.8 2.4-2.3 2.3-2.2-4-2.8-4.1-2.7-2.4 2.2z"/>
<path color="#f78100" d="M60.1 286.3l7.8 2.5 5.8-4.7-7.7-2.5z"/>
<path class="m" d="M60.1 286.3l3.9 1.2 3.9 1.3 2.9-2.3 2.9-2.4-3.9-1.3-3.8-1.2-2.9 2.3z"/>
<path color="#ffc500" d="M141.3 310.5l8.3 5.9 4.6-4.7-8.2-5.7z"/>
<path class="m" d="M141.3 310.5l4.2 2.9 4.1 3 2.3-2.3 2.3-2.4-4.1-2.9-4.1-2.8-2.3 2.2z"/>
<path color="#ffbd00" d="M103.3 291.9l4.1 2.9 2.6-2.2-4.1-3z"/>
<path color="#ffbe00" d="M105.9 289.6l4.1 3 2.6-2.3-4-2.9z"/>
<path color="#ffc200" d="M107.4 294.8l4.1 3 2.6-2.2-4.1-3z"/>
<path color="#ffc200" d="M110 292.6l4.1 3 2.6-2.3-4.1-3z"/>
<path class="m" d="M103.3 291.9l4.1 2.9 4.1 3 2.6-2.2 2.6-2.3-4.1-3-4-2.9-2.7 2.2z"/>
<path color="#ffc901" d="M149.6 316.4l8.4 6.2 4.4-4.8-8.2-6.1z"/>
<path class="m" d="M149.6 316.4l4.2 3.1 4.2 3.1 2.2-2.4 2.2-2.4-4.1-3.1-4.1-3-2.3 2.4z"/>
<path color="#ff9100" d="M81.6 287.2l4 1.8 2.8-2.3-4-1.8z"/>
<path color="#ff9200" d="M84.4 284.9l4 1.8 2.7-2.2-3.9-1.9z"/>
<path color="#ff9900" d="M85.6 289l4 2.2 2.8-2.3-4-2.2z"/>
<path color="#ff9a00" d="M88.4 286.7l4 2.2 2.8-2.3-4.1-2.1z"/>
<path class="m" d="M81.6 287.2l4 1.8 4 2.2 2.8-2.3 2.8-2.3-4.1-2.1-3.9-1.9-2.8 2.3z"/>
<path color="#ffd002" d="M200.1 355l8.5 7.3 3.8-5.7-8.4-7.1z"/>
<path class="m" d="M200.1 355l4.2 3.6 4.3 3.7 1.9-2.9 1.9-2.8-4.2-3.6-4.2-3.5-1.9 2.8z"/>
<path color="#ffcb01" d="M158 322.6l8.3 6.4 4.4-5-8.3-6.2z"/>
<path class="m" d="M158 322.6l4.1 3.2 4.2 3.2 2.2-2.5 2.2-2.5-4.1-3.2-4.2-3-2.2 2.4z"/>
<path color="#ffc300" d="M111.5 297.8l8.3 6 5.1-4.5-8.2-6z"/>
<path class="m" d="M111.5 297.8l4.2 3 4.1 3 2.6-2.3 2.5-2.2-4.1-3-4.1-3-2.6 2.3z"/>
<path color="#ffce01" d="M191.6 348.5l8.5 6.5 3.9-5.5-8.3-6.4z"/>
<path class="m" d="M191.6 348.5l4.3 3.2 4.2 3.3 2-2.7 1.9-2.8-4.2-3.3-4.1-3.1-2.1 2.7z"/>
<path color="#ffcd01" d="M166.3 329l8.4 6.6 4.3-5.1-8.3-6.5z"/>
<path class="m" d="M166.3 329l4.2 3.3 4.2 3.3 2.2-2.6 2.1-2.5-4.2-3.3-4.1-3.2-2.2 2.5z"/>
<path color="#ffcd01" d="M174.7 335.6l8.4 6.6 4.2-5.3-8.3-6.4z"/>
<path class="m" d="M174.7 335.6l4.2 3.3 4.2 3.3 2.1-2.7 2.1-2.6-4.2-3.2-4.1-3.2-2.1 2.5z"/>
<path color="#ffcd01" d="M183.1 342.2l8.5 6.3 4.1-5.4-8.4-6.2z"/>
<path class="m" d="M183.1 342.2l4.3 3.2 4.2 3.1 2-2.7 2.1-2.7-4.2-3.1-4.2-3.1-2.1 2.6z"/>
<path color="#fa8600" d="M67.9 288.8l3.9 1.5 3-2.4-4-1.4z"/>
<path color="#fb8600" d="M70.8 286.5l4 1.4 2.8-2.4-3.9-1.4z"/>
<path color="#fd8b00" d="M71.8 290.3l4 1.6 2.9-2.4-3.9-1.6z"/>
<path color="#fd8c00" d="M74.8 287.9l3.9 1.6 2.9-2.3-4-1.7z"/>
<path class="m" d="M67.9 288.8l3.9 1.5 4 1.6 2.9-2.4 2.9-2.3-4-1.7-3.9-1.4-2.9 2.4z"/>
<path color="#ffbf00" d="M119.8 303.8l8.3 5.8 5-4.6-8.2-5.7z"/>
<path class="m" d="M119.8 303.8l4.2 2.9 4.1 2.9 2.5-2.3 2.5-2.3-4.1-2.8-4.1-2.9-2.5 2.2z"/>
<path color="#ffa100" d="M89.6 291.2l2.1 1.2 1.4-1.2-2.1-1.2z"/>
<path color="#ffa100" d="M91 290l2.1 1.2 1.3-1.1-2-1.2z"/>
<path color="#ffa200" d="M92.4 288.9l2 1.2 1.4-1.1-2-1.2z"/>
<path color="#ffa200" d="M93.8 287.8l2 1.2 1.4-1.2-2-1.2z"/>
<path color="#ffa700" d="M91.7 292.4l2 1.3 1.4-1.2-2-1.3z"/>
<path color="#ffa800" d="M93.1 291.2l2 1.3 1.4-1.1-2.1-1.3z"/>
<path color="#ffa900" d="M94.4 290.1l2.1 1.3 1.4-1.2-2.1-1.2z"/>
<path color="#ffa900" d="M95.8 289l2.1 1.2 1.3-1.1-2-1.3z"/>
<path color="#ffaf00" d="M93.7 293.7l2.1 1.3 1.4-1.1-2.1-1.4z"/>
<path color="#ffb000" d="M95.1 292.5l2.1 1.4 1.3-1.2-2-1.3z"/>
<path color="#ffb000" d="M96.5 291.4l2 1.3 1.4-1.1-2-1.4z"/>
<path color="#ffb100" d="M97.9 290.2l2 1.4 1.3-1.1-2-1.4z"/>
<path color="#ffb500" d="M95.8 295l2.1 1.4 1.3-1.1-2-1.4z"/>
<path color="#ffb600" d="M97.2 293.9l2 1.4 1.4-1.2-2.1-1.4z"/>
<path color="#ffb600" d="M98.5 292.7l2.1 1.4 1.4-1.1-2.1-1.4z"/>
<path color="#ffb700" d="M99.9 291.6l2.1 1.4 1.3-1.1-2.1-1.4z"/>
<path class="m" d="M89.6 291.2l4.1 2.5 4.2 2.7 2.7-2.3 2.7-2.2-4.1-2.8-4-2.5-2.8 2.3z"/>
<path color="#f78000" d="M54.1 291l7.8 2.7 6-4.9-7.8-2.5z"/>
<path class="m" d="M54.1 291l3.9 1.3 3.9 1.4 3-2.5 3-2.4-3.9-1.3-3.9-1.2-3 2.3z"/>
<path color="#ffbf00" d="M128.1 309.6l8.4 5.6 4.8-4.7-8.2-5.5z"/>
<path class="m" d="M128.1 309.6l4.2 2.8 4.2 2.8 2.4-2.3 2.4-2.4-4.1-2.8-4.1-2.7-2.5 2.3z"/>
<path color="#ffbc00" d="M97.9 296.4l4.1 3 2.7-2.3-4.1-3z"/>
<path color="#ffbd00" d="M100.6 294.1l4.1 3 2.7-2.3-4.1-2.9z"/>
<path color="#ffc000" d="M102 299.4l4.2 3 2.7-2.3-4.2-3z"/>
<path color="#ffc100" d="M104.7 297.1l4.2 3 2.6-2.3-4.1-3z"/>
<path class="m" d="M97.9 296.4l4.1 3 4.2 3 2.7-2.3 2.6-2.3-4.1-3-4.1-2.9-2.7 2.2z"/>
<path color="#ffc600" d="M136.5 315.2l8.4 6.1 4.7-4.9-8.3-5.9z"/>
<path class="m" d="M136.5 315.2l4.2 3 4.2 3.1 2.4-2.5 2.3-2.4-4.1-3-4.2-2.9-2.4 2.4z"/>
<path color="#fe9000" d="M75.8 291.9l4.1 1.9 2.8-2.4-4-1.9z"/>
<path color="#fe9100" d="M78.7 289.5l4 1.9 2.9-2.4-4-1.8z"/>
<path color="#ff9800" d="M79.9 293.8l4.1 2.1 2.8-2.4-4.1-2.1z"/>
<path color="#ff9800" d="M82.7 291.4l4.1 2.1 2.8-2.3-4-2.2z"/>
<path class="m" d="M75.8 291.9l4.1 1.9 4.1 2.1 2.8-2.4 2.8-2.3-4-2.2-4-1.8-2.9 2.3z"/>
<path color="#ffc901" d="M144.9 321.3l8.4 6.4 4.7-5.1-8.4-6.2z"/>
<path class="m" d="M144.9 321.3l4.2 3.2 4.2 3.2 2.4-2.6 2.3-2.5-4.2-3.1-4.2-3.1-2.3 2.4z"/>
<path color="#ffd102" d="M196.1 360.7l8.6 7.4 3.9-5.8-8.5-7.3z"/>
<path class="m" d="M196.1 360.7l4.3 3.6 4.3 3.8 1.9-2.9 2-2.9-4.3-3.7-4.2-3.6-2 2.9z"/>
<path color="#ffcb01" d="M153.3 327.7l8.5 6.5 4.5-5.2-8.3-6.4z"/>
<path class="m" d="M153.3 327.7l4.3 3.2 4.2 3.3 2.3-2.6 2.2-2.6-4.2-3.2-4.1-3.2-2.3 2.5z"/>
<path color="#ffc100" d="M106.2 302.4l8.4 6.1 5.2-4.7-8.3-6z"/>
<path class="m" d="M106.2 302.4l4.2 3.1 4.2 3 2.6-2.4 2.6-2.3-4.1-3-4.2-3-2.6 2.3z"/>
<path color="#ffce01" d="M187.5 354.1l8.6 6.6 4-5.7-8.5-6.5z"/>
<path class="m" d="M187.5 354.1l4.3 3.2 4.3 3.4 2-2.8 2-2.9-4.2-3.3-4.3-3.2-2 2.8z"/>
<path color="#ffcd01" d="M161.8 334.2l8.5 6.7 4.4-5.3-8.4-6.6z"/>
<path class="m" d="M161.8 334.2l4.3 3.3 4.2 3.4 2.2-2.6 2.2-2.7-4.2-3.3-4.2-3.3-2.2 2.6z"/>
<path color="#ffcd01" d="M178.9 347.6l8.6 6.5 4.1-5.6-8.5-6.3z"/>
<path class="m" d="M178.9 347.6l4.3 3.3 4.3 3.2 2.1-2.8 2-2.8-4.2-3.1-4.3-3.2-2.1 2.7z"/>
<path color="#ffcd01" d="M170.3 340.9l8.6 6.7 4.2-5.4-8.4-6.6z"/>
<path class="m" d="M170.3 340.9l4.3 3.4 4.3 3.3 2.1-2.7 2.1-2.7-4.2-3.3-4.2-3.3-2.2 2.7z"/>
<path color="#fa8500" d="M61.9 293.7l4 1.4 3-2.4-4-1.5z"/>
<path color="#fa8600" d="M64.9 291.2l4 1.5 2.9-2.4-3.9-1.5z"/>
<path color="#fd8a00" d="M65.9 295.1l4 1.7 3-2.5-4-1.6z"/>
<path color="#fd8b00" d="M68.9 292.7l4 1.6 2.9-2.4-4-1.6z"/>
<path class="m" d="M61.9 293.7l4 1.4 4 1.7 3-2.5 2.9-2.4-4-1.6-3.9-1.5-3 2.4z"/>
<path color="#ffbe00" d="M114.6 308.5l8.4 5.8 5.1-4.7-8.3-5.8z"/>
<path class="m" d="M114.6 308.5l4.2 2.9 4.2 2.9 2.6-2.4 2.5-2.3-4.1-2.9-4.2-2.9-2.6 2.3z"/>
<path color="#f78000" d="M47.8 296l7.9 2.7 6.2-5-7.8-2.7z"/>
<path class="m" d="M47.8 296l4 1.3 3.9 1.4 3.1-2.5 3.1-2.5-3.9-1.4-3.9-1.3-3.1 2.5z"/>
<path color="#ff9f00" d="M84 295.9l2 1.2 1.5-1.2-2.1-1.2z"/>
<path color="#ff9f00" d="M85.4 294.7l2.1 1.2 1.4-1.2-2.1-1.2z"/>
<path color="#ffa000" d="M86.8 293.5l2.1 1.2 1.4-1.1-2.1-1.2z"/>
<path color="#ffa000" d="M88.2 292.4l2.1 1.2 1.4-1.2-2.1-1.2z"/>
<path color="#ffa500" d="M86 297.1l2.1 1.3 1.4-1.2-2-1.3z"/>
<path color="#ffa600" d="M87.5 295.9l2 1.3 1.4-1.2-2-1.3z"/>
<path color="#ffa600" d="M88.9 294.7l2 1.3 1.4-1.2-2-1.2z"/>
<path color="#ffa700" d="M90.3 293.6l2 1.2 1.4-1.1-2-1.3z"/>
<path color="#ffad00" d="M88.1 298.4l2.1 1.3 1.4-1.1-2.1-1.4z"/>
<path color="#ffad00" d="M89.5 297.2l2.1 1.4 1.4-1.2-2.1-1.4z"/>
<path color="#ffae00" d="M90.9 296l2.1 1.4 1.4-1.2-2.1-1.4z"/>
<path color="#ffae00" d="M92.3 294.8l2.1 1.4 1.4-1.2-2.1-1.3z"/>
<path color="#ffb300" d="M90.2 299.7l2.1 1.5 1.4-1.2-2.1-1.4z"/>
<path color="#ffb400" d="M91.6 298.6l2.1 1.4 1.4-1.2-2.1-1.4z"/>
<path color="#ffb400" d="M93 297.4l2.1 1.4 1.4-1.2-2.1-1.4z"/>
<path color="#ffb500" d="M94.4 296.2l2.1 1.4 1.4-1.2-2.1-1.4z"/>
<path class="m" d="M84 295.9l4.1 2.5 4.2 2.8 2.8-2.4 2.8-2.4-4.2-2.7-4.1-2.5-2.8 2.3z"/>
<path color="#ffbf00" d="M123 314.3l8.5 5.7 5-4.8-8.4-5.6z"/>
<path class="m" d="M123 314.3l4.2 2.8 4.3 2.9 2.5-2.4 2.5-2.4-4.2-2.8-4.2-2.8-2.5 2.3z"/>
<path color="#ffba00" d="M92.3 301.2l4.2 2.9 2.8-2.3-4.2-3z"/>
<path color="#ffbb00" d="M95.1 298.8l4.2 3 2.7-2.4-4.1-3z"/>
<path color="#ffbf00" d="M96.5 304.1l4.2 3.1 2.8-2.4-4.2-3z"/>
<path color="#ffc000" d="M99.3 301.8l4.2 3 2.7-2.4-4.2-3z"/>
<path class="m" d="M92.3 301.2l4.2 2.9 4.2 3.1 2.8-2.4 2.7-2.4-4.2-3-4.1-3-2.8 2.4z"/>
<path color="#ffc600" d="M131.5 320l8.5 6.3 4.9-5-8.4-6.1z"/>
<path class="m" d="M131.5 320l4.2 3.1 4.3 3.2 2.5-2.5 2.4-2.5-4.2-3.1-4.2-3-2.5 2.4z"/>
<path color="#fe8f00" d="M69.9 296.8l4.1 1.8 3-2.4-4.1-1.9z"/>
<path color="#fe9000" d="M72.9 294.3l4.1 1.9 2.9-2.4-4.1-1.9z"/>
<path color="#ff9600" d="M74 298.6l4.1 2.2 3-2.5-4.1-2.1z"/>
<path color="#ff9700" d="M77 296.2l4.1 2.1 2.9-2.4-4.1-2.1z"/>
<path class="m" d="M69.9 296.8l4.1 1.8 4.1 2.2 3-2.5 2.9-2.4-4.1-2.1-4.1-1.9-2.9 2.4z"/>
<path color="#ffd102" d="M191.9 366.6l8.7 7.6 4.1-6.1-8.6-7.4z"/>
<path class="m" d="M191.9 366.6l4.4 3.6 4.3 4 2.1-3.1 2-3-4.3-3.8-4.3-3.6-2.1 2.9z"/>
<path color="#ffca01" d="M140 326.3l8.6 6.5 4.7-5.1-8.4-6.4z"/>
<path class="m" d="M140 326.3l4.3 3.2 4.3 3.3 2.4-2.6 2.3-2.5-4.2-3.2-4.2-3.2-2.4 2.5z"/>
<path color="#ffc000" d="M100.7 307.2l8.5 6.1 5.4-4.8-8.4-6.1z"/>
<path class="m" d="M100.7 307.2l4.3 3.1 4.2 3 2.7-2.4 2.7-2.4-4.2-3-4.2-3.1-2.7 2.4z"/>
<path color="#ffcb01" d="M148.6 332.8l8.6 6.7 4.6-5.3-8.5-6.5z"/>
<path class="m" d="M148.6 332.8l4.3 3.3 4.3 3.4 2.3-2.7 2.3-2.6-4.2-3.3-4.3-3.2-2.3 2.5z"/>
<path color="#ffce01" d="M183.2 359.8l8.7 6.8 4.2-5.9-8.6-6.6z"/>
<path class="m" d="M183.2 359.8l4.4 3.3 4.3 3.5 2.1-3 2.1-2.9-4.3-3.4-4.3-3.2-2.2 2.8z"/>
<path color="#f98400" d="M55.7 298.7l4.1 1.4 3-2.5-4-1.4z"/>
<path color="#fa8500" d="M58.8 296.2l4 1.4 3.1-2.5-4-1.4z"/>
<path color="#fc8900" d="M59.8 300.1l4 1.7 3.1-2.6-4.1-1.6z"/>
<path color="#fd8a00" d="M62.8 297.6l4.1 1.6 3-2.4-4-1.7z"/>
<path class="m" d="M55.7 298.7l4.1 1.4 4 1.7 3.1-2.6 3-2.4-4-1.7-4-1.4-3.1 2.5z"/>
<path color="#ffcd01" d="M174.5 353.3l8.7 6.5 4.3-5.7-8.6-6.5z"/>
<path class="m" d="M174.5 353.3l4.3 3.3 4.4 3.2 2.1-2.9 2.2-2.8-4.3-3.2-4.3-3.3-2.2 2.8z"/>
<path color="#ffcd01" d="M157.2 339.5l8.6 6.9 4.5-5.5-8.5-6.7z"/>
<path class="m" d="M157.2 339.5l4.3 3.4 4.3 3.5 2.3-2.8 2.2-2.7-4.2-3.4-4.3-3.3-2.3 2.6z"/>
<path color="#ffcd01" d="M165.8 346.4l8.7 6.9 4.4-5.7-8.6-6.7z"/>
<path class="m" d="M165.8 346.4l4.3 3.5 4.4 3.4 2.2-2.9 2.2-2.8-4.3-3.3-4.3-3.4-2.2 2.7z"/>
<path color="#ffbd00" d="M109.2 313.3l8.6 5.9 5.2-4.9-8.4-5.8z"/>
<path class="m" d="M109.2 313.3l4.3 3 4.3 2.9 2.6-2.5 2.6-2.4-4.2-2.9-4.2-2.9-2.7 2.4z"/>
<path color="#ff9d00" d="M78.1 300.8l2.1 1.1 1.5-1.2-2.1-1.2z"/>
<path color="#ff9e00" d="M79.6 299.5l2.1 1.2 1.4-1.2-2-1.2z"/>
<path color="#ff9e00" d="M81.1 298.3l2 1.2 1.5-1.2-2.1-1.2z"/>
<path color="#ff9e00" d="M82.5 297.1l2.1 1.2 1.4-1.2-2-1.2z"/>
<path color="#ffa300" d="M80.2 301.9l2.1 1.3 1.5-1.2-2.1-1.3z"/>
<path color="#ffa400" d="M81.7 300.7l2.1 1.3 1.4-1.2-2.1-1.3z"/>
<path color="#ffa400" d="M83.1 299.5l2.1 1.3 1.5-1.2-2.1-1.3z"/>
<path color="#ffa500" d="M84.6 298.3l2.1 1.3 1.4-1.2-2.1-1.3z"/>
<path color="#ffab00" d="M82.3 303.2l2.1 1.4 1.5-1.2-2.1-1.4z"/>
<path color="#ffab00" d="M83.8 302l2.1 1.4 1.4-1.3-2.1-1.3z"/>
<path color="#ffac00" d="M85.2 300.8l2.1 1.3 1.5-1.2-2.1-1.3z"/>
<path color="#ffac00" d="M86.7 299.6l2.1 1.3 1.4-1.2-2.1-1.3z"/>
<path color="#ffb100" d="M84.4 304.6l2.1 1.4 1.5-1.2-2.1-1.4z"/>
<path color="#ffb200" d="M85.9 303.4l2.1 1.4 1.4-1.2-2.1-1.5z"/>
<path color="#ffb200" d="M87.3 302.1l2.1 1.5 1.5-1.2-2.1-1.5z"/>
<path color="#ffb300" d="M88.8 300.9l2.1 1.5 1.4-1.2-2.1-1.5z"/>
<path class="m" d="M78.1 300.8l4.2 2.4 4.2 2.8 2.9-2.4 2.9-2.4-4.2-2.8-4.1-2.5-2.9 2.4z"/>
<path color="#ffbc00" d="M117.8 319.2l4.3 2.8 2.6-2.4-4.3-2.9z"/>
<path color="#ffbd00" d="M120.4 316.7l4.3 2.9 2.5-2.5-4.2-2.8z"/>
<path color="#ffc000" d="M122.1 322l4.3 3 2.5-2.5-4.2-2.9z"/>
<path color="#ffc000" d="M124.7 319.6l4.2 2.9 2.6-2.5-4.3-2.9z"/>
<path class="m" d="M117.8 319.2l4.3 2.8 4.3 3 2.5-2.5 2.6-2.5-4.3-2.9-4.2-2.8-2.6 2.4z"/>
<path color="#ffb900" d="M86.5 306l4.3 3 2.9-2.4-4.3-3z"/>
<path color="#ffb900" d="M89.4 303.6l4.3 3 2.8-2.5-4.2-2.9z"/>
<path color="#ffbd00" d="M90.8 309l4.3 3.1 2.8-2.5-4.2-3z"/>
<path color="#ffbe00" d="M93.7 306.6l4.2 3 2.8-2.4-4.2-3.1z"/>
<path class="m" d="M86.5 306l4.3 3 4.3 3.1 2.8-2.5 2.8-2.4-4.2-3.1-4.2-2.9-2.9 2.4z"/>
<path color="#fe8e00" d="M63.8 301.8l4.1 1.8 3.1-2.5-4.1-1.9z"/>
<path color="#fe8f00" d="M66.9 299.2l4.1 1.9 3-2.5-4.1-1.8z"/>
<path color="#ff9500" d="M67.9 303.6l4.2 2.1 3-2.5-4.1-2.1z"/>
<path color="#ff9500" d="M71 301.1l4.1 2.1 3-2.4-4.1-2.2z"/>
<path class="m" d="M63.8 301.8l4.1 1.8 4.2 2.1 3-2.5 3-2.4-4.1-2.2-4.1-1.8-3 2.4z"/>
<path color="#ffc700" d="M126.4 325l8.6 6.4 5-5.1-8.5-6.3z"/>
<path class="m" d="M126.4 325l4.3 3.1 4.3 3.3 2.5-2.6 2.5-2.5-4.3-3.2-4.2-3.1-2.6 2.5z"/>
<path color="#ffd102" d="M187.6 372.6l8.9 7.8 4.1-6.2-8.7-7.6z"/>
<path class="m" d="M187.6 372.6l4.5 3.8 4.4 4 2.1-3.1 2-3.1-4.3-4-4.4-3.6-2.1 2.9z"/>
<path color="#ffca01" d="M135 331.4l8.7 6.8 4.9-5.4-8.6-6.5z"/>
<path class="m" d="M135 331.4l4.3 3.4 4.4 3.4 2.5-2.7 2.4-2.7-4.3-3.3-4.3-3.2-2.5 2.5z"/>
<path color="#ffbe00" d="M95.1 312.1l8.6 6.1 5.5-4.9-8.5-6.1z"/>
<path class="m" d="M95.1 312.1l4.3 3.1 4.3 3 2.8-2.5 2.7-2.4-4.2-3-4.3-3.1-2.8 2.4z"/>
<path color="#ffcc01" d="M143.7 338.2l8.7 6.8 4.8-5.5-8.6-6.7z"/>
<path class="m" d="M143.7 338.2l4.4 3.3 4.3 3.5 2.4-2.8 2.4-2.7-4.3-3.4-4.3-3.3-2.4 2.7z"/>
<path color="#ffce01" d="M178.8 365.7l8.8 6.9 4.3-6-8.7-6.8z"/>
<path class="m" d="M178.8 365.7l4.4 3.4 4.4 3.5 2.2-3.1 2.1-2.9-4.3-3.5-4.4-3.3-2.2 2.9z"/>
<path color="#ffcd01" d="M170 359l8.8 6.7 4.4-5.9-8.7-6.5z"/>
<path class="m" d="M170 359l4.4 3.4 4.4 3.3 2.2-3 2.2-2.9-4.4-3.2-4.3-3.3-2.3 2.8z"/>
<path color="#ffcd01" d="M161.2 352l8.8 7 4.5-5.7-8.7-6.9z"/>
<path class="m" d="M161.2 352l4.4 3.6 4.4 3.4 2.2-2.9 2.3-2.8-4.4-3.4-4.3-3.5-2.3 2.8z"/>
<path color="#ffcd01" d="M152.4 345l8.8 7 4.6-5.6-8.6-6.9z"/>
<path class="m" d="M152.4 345l4.4 3.5 4.4 3.5 2.3-2.8 2.3-2.8-4.3-3.5-4.3-3.4-2.4 2.7z"/>
<path color="#ff9c00" d="M72.1 305.7l2.1 1.2 1.5-1.2-2.1-1.2z"/>
<path color="#ff9c00" d="M73.6 304.5l2.1 1.2 1.5-1.3-2.1-1.2z"/>
<path color="#ff9d00" d="M75.1 303.2l2.1 1.2 1.5-1.2-2.1-1.2z"/>
<path color="#ff9d00" d="M76.6 302l2.1 1.2 1.5-1.3-2.1-1.1z"/>
<path color="#ffa100" d="M74.2 306.9l2.1 1.3 1.6-1.2-2.2-1.3z"/>
<path color="#ffa200" d="M75.7 305.7l2.2 1.3 1.5-1.3-2.2-1.3z"/>
<path color="#ffa200" d="M77.2 304.4l2.2 1.3 1.4-1.2-2.1-1.3z"/>
<path color="#ffa300" d="M78.7 303.2l2.1 1.3 1.5-1.3-2.1-1.3z"/>
<path color="#ffa800" d="M76.3 308.2l2.2 1.4 1.5-1.3-2.1-1.3z"/>
<path color="#ffa900" d="M77.9 307l2.1 1.3 1.5-1.2-2.1-1.4z"/>
<path color="#ffaa00" d="M79.4 305.7l2.1 1.4 1.5-1.3-2.2-1.3z"/>
<path color="#ffaa00" d="M80.8 304.5l2.2 1.3 1.4-1.2-2.1-1.4z"/>
<path color="#ffaf00" d="M78.5 309.6l2.1 1.4 1.5-1.2-2.1-1.5z"/>
<path color="#ffb000" d="M80 308.3l2.1 1.5 1.5-1.3-2.1-1.4z"/>
<path color="#ffb100" d="M81.5 307.1l2.1 1.4 1.5-1.2-2.1-1.5z"/>
<path color="#ffb100" d="M83 305.8l2.1 1.5 1.4-1.3-2.1-1.4z"/>
<path class="m" d="M72.1 305.7l4.2 2.5 4.3 2.8 3-2.5 2.9-2.5-4.2-2.8-4.2-2.4-3 2.4z"/>
<path color="#ffbc00" d="M103.7 318.2l8.7 6 5.4-5-8.6-5.9z"/>
<path class="m" d="M103.7 318.2l4.3 3 4.4 3 2.7-2.6 2.7-2.4-4.3-2.9-4.3-3-2.7 2.4z"/>
<path color="#ffbb00" d="M112.4 324.2l4.3 2.9 2.7-2.6-4.3-2.9z"/>
<path color="#ffbc00" d="M115.1 321.6l4.3 2.9 2.7-2.5-4.3-2.8z"/>
<path color="#ffc000" d="M116.7 327.1l4.4 3 2.6-2.6-4.3-3z"/>
<path color="#ffc000" d="M119.4 324.5l4.3 3 2.7-2.5-4.3-3z"/>
<path class="m" d="M112.4 324.2l4.3 2.9 4.4 3 2.6-2.6 2.7-2.5-4.3-3-4.3-2.8-2.7 2.4z"/>
<path color="#ffb700" d="M80.6 311l4.4 3 2.9-2.5-4.3-3z"/>
<path color="#ffb800" d="M83.6 308.5l4.3 3 2.9-2.5-4.3-3z"/>
<path color="#ffbc00" d="M85 314l4.3 3.2 2.9-2.6-4.3-3.1z"/>
<path color="#ffbd00" d="M87.9 311.5l4.3 3.1 2.9-2.5-4.3-3.1z"/>
<path class="m" d="M80.6 311l4.4 3 4.3 3.2 2.9-2.6 2.9-2.5-4.3-3.1-4.3-3-2.9 2.5z"/>
<path color="#ffc700" d="M121.1 330.1l8.7 6.6 5.2-5.3-8.6-6.4z"/>
<path class="m" d="M121.1 330.1l4.3 3.2 4.4 3.4 2.6-2.7 2.6-2.6-4.3-3.3-4.3-3.1-2.7 2.5z"/>
<path color="#ffd102" d="M183.2 378.8l9 8 4.3-6.4-8.9-7.8z"/>
<path class="m" d="M183.2 378.8l4.5 3.9 4.5 4.1 2.1-3.2 2.2-3.2-4.4-4-4.5-3.8-2.1 3.1z"/>
<path color="#ffcb01" d="M129.8 336.7l8.8 6.9 5.1-5.4-8.7-6.8z"/>
<path class="m" d="M129.8 336.7l4.4 3.5 4.4 3.4 2.6-2.7 2.5-2.7-4.4-3.4-4.3-3.4-2.6 2.6z"/>
<path color="#ffbd00" d="M89.3 317.2l8.7 6.1 5.7-5.1-8.6-6.1z"/>
<path class="m" d="M89.3 317.2l4.4 3.1 4.3 3 2.9-2.5 2.8-2.6-4.3-3-4.3-3.1-2.9 2.5z"/>
<path color="#ffcc01" d="M138.6 343.6l8.9 7 4.9-5.6-8.7-6.8z"/>
<path class="m" d="M138.6 343.6l4.5 3.5 4.4 3.5 2.5-2.8 2.4-2.8-4.3-3.5-4.4-3.3-2.5 2.7z"/>
<path color="#ffce01" d="M174.2 371.8l9 7 4.4-6.2-8.8-6.9z"/>
<path class="m" d="M174.2 371.8l4.5 3.4 4.5 3.6 2.3-3.1 2.1-3.1-4.4-3.5-4.4-3.4-2.3 3z"/>
<path color="#ffcc01" d="M165.3 365l8.9 6.8 4.6-6.1-8.8-6.7z"/>
<path class="m" d="M165.3 365l4.5 3.4 4.4 3.4 2.3-3.1 2.3-3-4.4-3.3-4.4-3.4-2.4 3z"/>
<path color="#ffcd01" d="M156.4 357.8l8.9 7.2 4.7-6-8.8-7z"/>
<path class="m" d="M156.4 357.8l4.4 3.6 4.5 3.6 2.3-3 2.4-3-4.4-3.4-4.4-3.6-2.4 2.9z"/>
<path color="#ffcd01" d="M147.5 350.6l8.9 7.2 4.8-5.8-8.8-7z"/>
<path class="m" d="M147.5 350.6l4.4 3.6 4.5 3.6 2.4-2.9 2.4-2.9-4.4-3.5-4.4-3.5-2.4 2.8z"/>
<path color="#ffbb00" d="M98 323.3l8.8 6 5.6-5.1-8.7-6z"/>
<path class="m" d="M98 323.3l4.4 3.1 4.4 2.9 2.8-2.6 2.8-2.5-4.4-3-4.3-3-2.8 2.6z"/>
<path color="#ffbb00" d="M106.8 329.3l4.4 3 2.8-2.6-4.4-3z"/>
<path color="#ffbb00" d="M109.6 326.7l4.4 3 2.7-2.6-4.3-2.9z"/>
<path color="#ffc000" d="M111.2 332.3l4.4 3.1 2.7-2.7-4.3-3z"/>
<path color="#ffc000" d="M114 329.7l4.3 3 2.8-2.6-4.4-3z"/>
<path class="m" d="M106.8 329.3l4.4 3 4.4 3.1 2.7-2.7 2.8-2.6-4.4-3-4.3-2.9-2.8 2.5z"/>
<path color="#ffc801" d="M115.6 335.4l8.9 6.8 5.3-5.5-8.7-6.6z"/>
<path class="m" d="M115.6 335.4l4.4 3.3 4.5 3.5 2.7-2.8 2.6-2.7-4.4-3.4-4.3-3.2-2.8 2.6z"/>
<path color="#ffd102" d="M178.7 385.2l9.1 8.2 4.4-6.6-9-8z"/>
<path class="m" d="M178.7 385.2l4.5 3.9 4.6 4.3 2.2-3.3 2.2-3.3-4.5-4.1-4.5-3.9-2.2 3.2z"/>
<path color="#ffcb01" d="M124.5 342.2l9 7.1 5.1-5.7-8.8-6.9z"/>
<path class="m" d="M124.5 342.2l4.5 3.5 4.5 3.6 2.6-2.8 2.5-2.9-4.4-3.4-4.4-3.5-2.6 2.7z"/>
<path color="#ffce01" d="M169.6 378l9.1 7.2 4.5-6.4-9-7z"/>
<path class="m" d="M169.6 378l4.5 3.5 4.6 3.7 2.3-3.2 2.2-3.2-4.5-3.6-4.5-3.4-2.3 3.1z"/>
<path color="#ffcc01" d="M133.5 349.3l8.9 7.1 5.1-5.8-8.9-7z"/>
<path class="m" d="M133.5 349.3l4.4 3.6 4.5 3.5 2.6-2.9 2.5-2.9-4.4-3.5-4.5-3.5-2.5 2.9z"/>
<path color="#ffcc01" d="M160.5 371.1l9.1 6.9 4.6-6.2-8.9-6.8z"/>
<path class="m" d="M160.5 371.1l4.5 3.5 4.6 3.4 2.3-3.1 2.3-3.1-4.4-3.4-4.5-3.4-2.4 3z"/>
<path color="#ffcd01" d="M151.5 363.8l9 7.3 4.8-6.1-8.9-7.2z"/>
<path class="m" d="M151.5 363.8l4.5 3.7 4.5 3.6 2.4-3.1 2.4-3-4.5-3.6-4.4-3.6-2.5 3z"/>
<path color="#ffcd01" d="M142.4 356.4l9.1 7.4 4.9-6-8.9-7.2z"/>
<path class="m" d="M142.4 356.4l4.5 3.7 4.6 3.7 2.4-3 2.5-3-4.5-3.6-4.4-3.6-2.5 2.9z"/></g>
<path class="bf" d="M189.7 387.3L192.0 347.1M71.2 305.1L192.0 347.1"/>
<path class="ax" d="M189.0 399.0L248.4 308.1M51.0 345.0L189.0 399.0M51.0 345.0L43.1 295.3"/>
<path class="tk" d="M51.0 345.0l-1.6 1.5M59.2 348.2l-0.9 0.8M67.5 351.5l-0.9 0.8M76.0 354.8l-0.8 0.9M84.6 358.2l-0.8 0.9M93.3 361.6l-1.5 1.6M102.2 365.1l-0.8 0.9M111.2 368.6l-0.8 0.9M120.4 372.2l-0.8 0.9M129.7 375.8l-0.8 0.9M139.2 379.5l-1.4 1.7M148.8 383.3l-0.7 1.0M158.6 387.1l-0.7 1.0M168.6 391.0l-0.7 1.0M178.7 395.0l-0.7 1.0M189.0 399.0l-1.2 1.8M189.0 399.0l1.1 0.4M195.0 389.8l1.1 0.4M200.8 381.0l2.1 0.8M206.4 372.5l1.1 0.4M211.7 364.3l1.1 0.4M216.9 356.3l1.1 0.4M221.9 348.7l2.1 0.7M226.7 341.4l1.1 0.4M231.4 334.3l1.1 0.4M235.8 327.4l1.1 0.4M240.2 320.8l2.1 0.7M244.4 314.3l1.1 0.4M248.4 308.1l1.1 0.3M44.5 304.0l-1.2 -0.4M46.6 317.4l-1.2 -0.4M48.6 329.8l-1.2 -0.5M50.3 341.1l-1.2 -0.5"/>
<text class="t" x="42.6" y="306.2" text-anchor="end">0.03</text>
<text class="t" x="44.4" y="319.2" text-anchor="end">0.02</text>
<text class="t" x="46.1" y="331.7" text-anchor="end">0.01</text>
<text class="t" x="47.8" y="343.5" text-anchor="end">0.00</text>
<text class="l" x="5.2" y="315.9" text-anchor="start">Δx/mm</text>
<text class="t" x="47.0" y="354.9" text-anchor="middle">60</text>
<text class="t" x="88.7" y="371.2" text-anchor="middle">70</text>
<text class="t" x="133.4" y="388.2" text-anchor="middle">80</text>
<text class="t" x="181.6" y="406.6" text-anchor="middle">90</text>
<text class="l" x="97.7" y="387.4" text-anchor="start">B/°</text>
<text class="t" x="204.5" y="384.8" text-anchor="start">−2</text>
<text class="t" x="223.9" y="354.2" text-anchor="start">0</text>
<text class="t" x="242.0" y="327.0" text-anchor="start">2</text>
<text class="l" x="234.2" y="356.9" text-anchor="start">l/°</text>
<text class="cap" transform="translate(73.7 426.5) scale(0.92 1)"><tspan x="0" font-weight="bold">(c)</tspan><tspan x="18.0" font-size="9.8px">△</tspan><tspan x="30.4" font-style="italic">x</tspan><tspan x="41.5">(expanding to</tspan><tspan x="105.7" font-style="italic">n</tspan><tspan x="111.5" dy="-3.8" font-size="7.4px">3</tspan><tspan x="118.0" dy="3.8">)</tspan></text>
</g>
<g>
<path class="bx" d="M325.1 347.6L409.7 268.6M474.8 406.2L476.0 386.5M539.3 307.6L546.3 256.1M409.7 268.6L539.3 307.6M409.7 268.6L408.0 219.9M316.6 293.8L366.8 311.2M388.8 318.8L416.6 328.5M316.6 293.8L408.0 219.9M478.1 349.9L546.3 256.1M408.0 219.9L546.3 256.1"/>
<g class="s"><path color="#a94c02" d="M407.9 272.1l7-3.4 4.3-4-7 3.3z"/>
<path class="m" d="M407.9 272.1l3.5-1.7 3.5-1.7 2.2-2 2.1-2-3.5 1.7-3.5 1.6-2.1 2z"/>
<path color="#a84c02" d="M403.5 276.3l7-3.5 4.4-4.1-7 3.4z"/>
<path class="m" d="M403.5 276.3l3.5-1.7 3.5-1.8 2.2-2 2.2-2.1-3.5 1.7-3.5 1.7-2.2 2.1z"/>
<path color="#a74b02" d="M414.9 268.7l3.6-1.8 2.1-2-3.5 1.8z"/>
<path color="#a74c02" d="M417.1 266.7l3.5-1.8 2.1-2-3.5 1.8z"/>
<path color="#a44902" d="M418.5 266.9l3.6-1.9 2.1-2-3.6 1.9z"/>
<path color="#a44a02" d="M420.6 264.9l3.6-1.9 2.1-2-3.6 1.9z"/>
<path class="m" d="M414.9 268.7l3.6-1.8 3.6-1.9 2.1-2 2.1-2-3.6 1.9-3.5 1.8-2.1 2z"/>
<path color="#a74b02" d="M399 280.5l7-3.4 4.5-4.3-7 3.5z"/>
<path class="m" d="M399 280.5l3.5-1.7 3.5-1.7 2.3-2.2 2.2-2.1-3.5 1.8-3.5 1.7-2.2 2.1z"/>
<path color="#a54a02" d="M410.5 272.8l7.2-3.7 4.4-4.1-7.2 3.7z"/>
<path class="m" d="M410.5 272.8l3.6-1.8 3.6-1.9 2.2-2 2.2-2.1-3.6 1.9-3.6 1.8-2.2 2.1z"/>
<path color="#9f4703" d="M422.1 265l7.3-4.2 4.2-3.9-7.3 4.1z"/>
<path class="m" d="M422.1 265l3.6-2 3.7-2.2 2.1-1.9 2.1-2-3.6 2.1-3.7 2-2.1 2z"/>
<path color="#a74b02" d="M394.4 284.9l7-3.5 4.6-4.3-7 3.4z"/>
<path class="m" d="M394.4 284.9l3.5-1.8 3.5-1.7 2.3-2.2 2.3-2.1-3.5 1.7-3.5 1.7-2.3 2.2z"/>
<path color="#a44a02" d="M406 277.1l7.2-3.8 4.5-4.2-7.2 3.7z"/>
<path class="m" d="M406 277.1l3.6-1.9 3.6-1.9 2.3-2.1 2.2-2.1-3.6 1.9-3.6 1.8-2.2 2.1z"/>
<path color="#9e4603" d="M417.7 269.1l7.4-4.2 4.3-4.1-7.3 4.2z"/>
<path class="m" d="M417.7 269.1l3.7-2.1 3.7-2.1 2.2-2.1 2.1-2-3.7 2.2-3.6 2-2.2 2.1z"/>
<path color="#9e4603" d="M429.4 260.8l7.6-4.3 4.2-3.9-7.6 4.3z"/>
<path class="m" d="M429.4 260.8l3.8-2.1 3.8-2.2 2.1-1.9 2.1-2-3.8 2.1-3.8 2.2-2.1 2z"/>
<path color="#a64b02" d="M389.7 289.3l7-3.5 4.7-4.4-7 3.5z"/>
<path class="m" d="M389.7 289.3l3.5-1.7 3.5-1.8 2.4-2.2 2.3-2.2-3.5 1.7-3.5 1.8-2.4 2.2z"/>
<path color="#a34902" d="M401.4 281.4l7.3-3.8 4.5-4.3-7.2 3.8z"/>
<path class="m" d="M401.4 281.4l3.6-1.9 3.7-1.9 2.3-2.2 2.2-2.1-3.6 1.9-3.6 1.9-2.3 2.1z"/>
<path color="#9d4603" d="M413.2 273.3l7.4-4.3 4.5-4.1-7.4 4.2z"/>
<path class="m" d="M413.2 273.3l3.7-2.1 3.7-2.2 2.3-2.1 2.2-2-3.7 2.1-3.7 2.1-2.2 2.1z"/>
<path color="#9d4603" d="M425.1 264.9l7.6-4.4 4.3-4-7.6 4.3z"/>
<path class="m" d="M425.1 264.9l3.7-2.2 3.9-2.2 2.1-2 2.2-2-3.8 2.2-3.8 2.1-2.1 2z"/>
<path color="#a24802" d="M437 256.5l7.7-4 4.2-3.9-7.7 4z"/>
<path class="m" d="M437 256.5l3.8-2 3.9-2 2.1-2 2.1-1.9-3.9 2-3.8 2-2.1 2z"/>
<path color="#a54a02" d="M384.8 293.9l7.1-3.6 4.8-4.5-7 3.5z"/>
<path class="m" d="M384.8 293.9l3.6-1.8 3.5-1.8 2.4-2.2 2.4-2.3-3.5 1.8-3.5 1.7-2.4 2.3z"/>
<path color="#a24902" d="M396.7 285.8l7.3-3.8 4.7-4.4-7.3 3.8z"/>
<path class="m" d="M396.7 285.8l3.6-1.9 3.7-1.9 2.3-2.2 2.4-2.2-3.7 1.9-3.6 1.9-2.3 2.2z"/>
<path color="#9d4603" d="M408.7 277.6l7.4-4.4 4.5-4.2-7.4 4.3z"/>
<path class="m" d="M408.7 277.6l3.6-2.1 3.8-2.3 2.3-2.1 2.2-2.1-3.7 2.2-3.7 2.1-2.2 2.1z"/>
<path color="#9d4603" d="M420.6 269l7.6-4.4 4.5-4.1-7.6 4.4z"/>
<path class="m" d="M420.6 269l3.8-2.2 3.8-2.2 2.3-2.1 2.2-2-3.9 2.2-3.7 2.2-2.2 2z"/>
<path color="#a14802" d="M432.7 260.5l7.8-4.1 4.2-3.9-7.7 4z"/>
<path class="m" d="M432.7 260.5l3.8-2.1 4-2 2.1-2 2.1-1.9-3.9 2-3.8 2-2.2 2z"/>
<path color="#a54a02" d="M444.7 252.5l4-1.9 2.1-2-4 1.9z"/>
<path color="#a54a02" d="M446.8 250.5l4-1.9 2.1-1.9-4 1.9z"/>
<path color="#a94c02" d="M448.7 250.6l4-1.8 2.1-1.9-4 1.7z"/>
<path color="#a94c02" d="M450.8 248.6l4-1.7 2-2-3.9 1.8z"/>
<path class="m" d="M444.7 252.5l4-1.9 4-1.8 2.1-1.9 2-2-3.9 1.8-4 1.9-2.1 1.9z"/>
<path color="#a44a02" d="M379.9 298.6l7.1-3.6 4.9-4.7-7.1 3.6z"/>
<path class="m" d="M379.9 298.6l3.5-1.8 3.6-1.8 2.5-2.4 2.4-2.3-3.5 1.8-3.6 1.8-2.4 2.3z"/>
<path color="#a14802" d="M391.9 290.3l7.3-3.8 4.8-4.5-7.3 3.8z"/>
<path class="m" d="M391.9 290.3l3.6-1.8 3.7-2 2.4-2.3 2.4-2.2-3.7 1.9-3.6 1.9-2.4 2.3z"/>
<path color="#9c4503" d="M404 282l7.4-4.4 4.7-4.4-7.4 4.4z"/>
<path class="m" d="M404 282l3.7-2.2 3.7-2.2 2.4-2.2 2.3-2.2-3.8 2.3-3.6 2.1-2.4 2.2z"/>
<path color="#9c4503" d="M416.1 273.2l7.6-4.4 4.5-4.2-7.6 4.4z"/>
<path class="m" d="M416.1 273.2l3.8-2.2 3.8-2.2 2.3-2.1 2.2-2.1-3.8 2.2-3.8 2.2-2.2 2.1z"/>
<path color="#af5002" d="M452.7 248.8l4.1-1.5 2.1-2-4.1 1.6z"/>
<path color="#af4f02" d="M454.8 246.9l4.1-1.6 2-1.9-4.1 1.5z"/>
<path color="#b85402" d="M456.8 247.3l4.1-1.2 2-1.9-4 1.1z"/>
<path color="#b85402" d="M458.9 245.3l4-1.1 2.1-2-4.1 1.2z"/>
<path class="m" d="M452.7 248.8l4.1-1.5 4.1-1.2 2-1.9 2.1-2-4.1 1.2-4.1 1.5-2 2z"/>
<path color="#a44902" d="M374.8 303.3l7.1-3.6 5.1-4.7-7.1 3.6z"/>
<path class="m" d="M374.8 303.3l3.6-1.8 3.5-1.8 2.6-2.4 2.5-2.3-3.6 1.8-3.5 1.8-2.5 2.3z"/>
<path color="#a14803" d="M428.2 264.6l7.9-4.1 4.4-4.1-7.8 4.1z"/>
<path class="m" d="M428.2 264.6l3.9-2.1 4-2 2.2-2.1 2.2-2-4 2-3.8 2.1-2.2 2z"/>
<path color="#a54a02" d="M440.5 256.4l3.9-1.9 2.2-2-4 1.9z"/>
<path color="#a54a02" d="M442.6 254.4l4-1.9 2.1-1.9-4 1.9z"/>
<path color="#a94c02" d="M444.4 254.5l4.1-1.7 2.1-2-4 1.7z"/>
<path color="#a94c02" d="M446.6 252.5l4-1.7 2.1-2-4 1.8z"/>
<path class="m" d="M440.5 256.4l3.9-1.9 4.1-1.7 2.1-2 2.1-2-4 1.8-4 1.9-2.1 1.9z"/>
<path color="#a14803" d="M387 295l7.3-4 4.9-4.5-7.3 3.8z"/>
<path class="m" d="M387 295l3.6-1.9 3.7-2.1 2.4-2.3 2.5-2.2-3.7 2-3.6 1.8-2.4 2.3z"/>
<path color="#9b4503" d="M399.2 286.5l7.4-4.5 4.8-4.4-7.4 4.4z"/>
<path class="m" d="M399.2 286.5l3.7-2.2 3.7-2.3 2.4-2.2 2.4-2.2-3.7 2.2-3.7 2.2-2.4 2.2z"/>
<path color="#ffd504" d="M526 293.5l7.5 12.1 3.2-4.8-7.4-11.9z"/>
<path class="m" d="M526 293.5l3.8 5.9 3.7 6.2 1.6-2.4 1.6-2.4-3.7-6-3.7-5.9-1.6 2.3z"/>
<path color="#c15901" d="M460.9 246.1l4.1-.7 2.1-2-4.2 .8z"/>
<path color="#c15901" d="M462.9 244.2l4.2-.8 2-2-4.1 .8z"/>
<path color="#cc5e01" d="M465 245.4l4.2-.5 2-2-4.1 .5z"/>
<path color="#cb5e01" d="M467.1 243.4l4.1-.5 2-2-4.1 .5z"/>
<path class="m" d="M460.9 246.1l4.1-.7 4.2-.5 2-2 2-2-4.1 .5-4.1 .8-2.1 2z"/>
<path color="#a34902" d="M369.7 308.2l7.1-3.6 5.1-4.9-7.1 3.6z"/>
<path class="m" d="M369.7 308.2l3.5-1.8 3.6-1.8 2.6-2.5 2.5-2.4-3.5 1.8-3.6 1.8-2.5 2.5z"/>
<path color="#9b4503" d="M411.4 277.6l7.7-4.6 4.6-4.2-7.6 4.4z"/>
<path class="m" d="M411.4 277.6l3.8-2.3 3.9-2.3 2.3-2.1 2.3-2.1-3.8 2.2-3.8 2.2-2.3 2.2z"/>
<path color="#af5002" d="M448.5 252.8l4.1-1.5 2.1-2-4.1 1.5z"/>
<path color="#af5002" d="M450.6 250.8l4.1-1.5 2.1-2-4.1 1.5z"/>
<path color="#b95402" d="M452.6 251.3l4.1-1.2 2.1-2-4.1 1.2z"/>
<path color="#b85402" d="M454.7 249.3l4.1-1.2 2.1-2-4.1 1.2z"/>
<path class="m" d="M448.5 252.8l4.1-1.5 4.1-1.2 2.1-2 2.1-2-4.1 1.2-4.1 1.5-2.1 2z"/>
<path color="#a04703" d="M423.7 268.8l7.9-4.2 4.5-4.1-7.9 4.1z"/>
<path class="m" d="M423.7 268.8l3.9-2.2 4-2 2.3-2.1 2.2-2-4 2-3.9 2.1-2.2 2.1z"/>
<path color="#a44a02" d="M436.1 260.5l4-1.9 2.2-2.1-4 1.9z"/>
<path color="#a54a02" d="M438.3 258.4l4-1.9 2.1-2-3.9 1.9z"/>
<path color="#a94c02" d="M440.1 258.6l4.1-1.8 2.1-2-4 1.7z"/>
<path color="#a94c02" d="M442.3 256.5l4-1.7 2.2-2-4.1 1.7z"/>
<path class="m" d="M436.1 260.5l4-1.9 4.1-1.8 2.1-2 2.2-2-4.1 1.7-3.9 1.9-2.2 2z"/>
<path color="#a04703" d="M381.9 299.7l7.3-3.9 5.1-4.8-7.3 4z"/>
<path class="m" d="M381.9 299.7l3.7-1.9 3.6-2 2.6-2.4 2.5-2.4-3.7 2.1-3.6 1.9-2.5 2.3z"/>
<path color="#ffd403" d="M518.2 283.1l7.8 10.4 3.3-4.6-7.7-10.2z"/>
<path class="m" d="M518.2 283.1l4 5 3.8 5.4 1.7-2.3 1.6-2.3-3.8-5.3-3.9-4.9-1.6 2.2z"/>
<path color="#d86600" d="M469.2 244.9l2.1-.1 1-1-2.1 .1z"/>
<path color="#d86600" d="M470.2 243.9l2.1-.1 1-1-2.1 .1z"/>
<path color="#d86500" d="M471.2 242.9l2.1-.1 1-1-2.1 .1z"/>
<path color="#d86500" d="M472.2 241.9l2.1-.1 1-1-2.1 .1z"/>
<path color="#e56f00" d="M471.3 244.8l2.1 .2 1-1-2.1-.2z"/>
<path color="#e56e00" d="M472.3 243.8l2.1 .2 1-1-2.1-.2z"/>
<path color="#e46e00" d="M473.3 242.8l2.1 .2 1-1.1-2.1-.1z"/>
<path color="#e46e00" d="M474.3 241.8l2.1 .1 1-.9-2.1-.2z"/>
<path color="#f37c00" d="M473.4 245l2.1 .4 1-1.1-2.1-.3z"/>
<path color="#f27c00" d="M474.4 244l2.1 .3 1-1-2.1-.3z"/>
<path color="#f27c00" d="M475.4 243l2.1 .3 1-1-2.1-.4z"/>
<path color="#f27c00" d="M476.4 241.9l2.1 .4 1-1-2.1-.3z"/>
<path color="#fc8b00" d="M475.5 245.4l2.1 .6 1-1-2.1-.7z"/>
<path color="#fc8b00" d="M476.5 244.3l2.1 .7 1-1-2.1-.7z"/>
<path color="#fc8b00" d="M477.5 243.3l2.1 .7 1-1-2.1-.7z"/>
<path color="#fc8b00" d="M478.5 242.3l2.1 .7 .9-1-2-.7z"/>
<path class="m" d="M469.2 244.9l4.2 .1 4.2 1 2-2 1.9-2-4.1-1-4.2-.1-2 2z"/>
<path color="#9a4403" d="M394.3 291l7.4-4.5 4.9-4.5-7.4 4.5z"/>
<path class="m" d="M394.3 291l3.7-2.1 3.7-2.4 2.5-2.3 2.4-2.2-3.7 2.3-3.7 2.2-2.5 2.2z"/>
<path color="#ffd303" d="M510.3 273.4l7.9 9.7 3.4-4.4-7.8-9.5z"/>
<path class="m" d="M510.3 273.4l4 4.8 3.9 4.9 1.8-2.2 1.6-2.2-3.9-4.8-3.9-4.7-1.7 2.1z"/>
<path color="#a24902" d="M364.3 313.2l7.2-3.6 5.3-5-7.1 3.6z"/>
<path class="m" d="M364.3 313.2l3.6-1.8 3.6-1.8 2.6-2.5 2.7-2.5-3.6 1.8-3.5 1.8-2.7 2.5z"/>
<path color="#ffd504" d="M522.6 298.2l7.6 12.2 3.3-4.8-7.5-12.1z"/>
<path class="m" d="M522.6 298.2l3.9 6 3.7 6.2 1.7-2.4 1.6-2.4-3.7-6.2-3.8-5.9-1.7 2.3z"/>
<path color="#ff9800" d="M477.6 246l2.1 .9 1-1-2.1-.9z"/>
<path color="#ff9800" d="M478.6 245l2.1 .9 .9-1-2-.9z"/>
<path color="#ff9900" d="M479.6 244l2 .9 1-1-2-.9z"/>
<path color="#ff9900" d="M480.6 243l2 .9 1-1-2.1-.9z"/>
<path color="#ffa700" d="M479.7 246.9l2 1.2 1-1.1-2-1.1z"/>
<path color="#ffa700" d="M480.7 245.9l2 1.1 1-1-2.1-1.1z"/>
<path color="#ffa700" d="M481.6 244.9l2.1 1.1 1-1-2.1-1.1z"/>
<path color="#ffa700" d="M482.6 243.9l2.1 1.1 .9-1-2-1.1z"/>
<path color="#ffb400" d="M481.7 248.1l2.1 1.2 1-1-2.1-1.3z"/>
<path color="#ffb400" d="M482.7 247l2.1 1.3 1-1-2.1-1.3z"/>
<path color="#ffb400" d="M483.7 246l2.1 1.3 .9-1-2-1.3z"/>
<path color="#ffb400" d="M484.7 245l2 1.3 1-1-2.1-1.3z"/>
<path color="#ffbc00" d="M483.8 249.3l2.1 1.4 1-1-2.1-1.4z"/>
<path color="#ffbc00" d="M484.8 248.3l2.1 1.4 .9-1.1-2-1.3z"/>
<path color="#ffbc00" d="M485.8 247.3l2 1.3 1-1-2.1-1.3z"/>
<path color="#ffbc00" d="M486.7 246.3l2.1 1.3 .9-1-2-1.3z"/>
<path class="m" d="M477.6 246l4.1 2.1 4.2 2.6 1.9-2.1 1.9-2-4.1-2.6-4.1-2-1.9 2z"/>
<path color="#9a4403" d="M406.6 282l7.7-4.6 4.8-4.4-7.7 4.6z"/>
<path class="m" d="M406.6 282l3.8-2.3 3.9-2.3 2.4-2.2 2.4-2.2-3.9 2.3-3.8 2.3-2.4 2.2z"/>
<path color="#c25901" d="M456.7 250.1l4.2-.7 2.1-2-4.2 .7z"/>
<path color="#c25901" d="M458.8 248.1l4.2-.7 2-2-4.1 .7z"/>
<path color="#cc5f01" d="M460.9 249.4l4.2-.4 2.1-2.1-4.2 .5z"/>
<path color="#cc5f01" d="M463 247.4l4.2-.5 2-2-4.2 .5z"/>
<path class="m" d="M456.7 250.1l4.2-.7 4.2-.4 2.1-2.1 2-2-4.2 .5-4.1 .7-2.1 2z"/>
<path color="#ffd202" d="M502.3 264.2l8 9.2 3.5-4.2-7.9-9.2z"/>
<path class="m" d="M502.3 264.2l4 4.5 4 4.7 1.8-2.1 1.7-2.1-3.9-4.7-4-4.5-1.8 2.1z"/>
<path color="#ffc300" d="M485.9 250.7l4.1 2.9 1.9-2.1-4.1-2.9z"/>
<path color="#ffc300" d="M487.8 248.6l4.1 2.9 1.9-2-4.1-2.9z"/>
<path color="#ffc801" d="M490 253.6l4.1 3.1 1.9-2-4.1-3.2z"/>
<path color="#ffc801" d="M491.9 251.5l4.1 3.2 1.9-2.1-4.1-3.1z"/>
<path class="m" d="M485.9 250.7l4.1 2.9 4.1 3.1 1.9-2 1.9-2.1-4.1-3.1-4.1-2.9-1.9 2z"/>
<path color="#ffce01" d="M494.1 256.7l8.2 7.5 3.6-4.2-8-7.4z"/>
<path class="m" d="M494.1 256.7l4.1 3.5 4.1 4 1.8-2.1 1.8-2.1-4-3.9-4-3.5-1.9 2.1z"/>
<path color="#a04703" d="M419.1 273l7.9-4.1 4.6-4.3-7.9 4.2z"/>
<path class="m" d="M419.1 273l3.9-2.1 4-2 2.3-2.2 2.3-2.1-4 2-3.9 2.2-2.3 2.1z"/>
<path color="#b05002" d="M444.2 256.8l4.1-1.5 2.1-2-4.1 1.5z"/>
<path color="#af5002" d="M446.3 254.8l4.1-1.5 2.2-2-4.1 1.5z"/>
<path color="#b95402" d="M448.3 255.3l4.1-1 2.2-2.1-4.2 1.1z"/>
<path color="#b95402" d="M450.4 253.3l4.2-1.1 2.1-2.1-4.1 1.2z"/>
<path class="m" d="M444.2 256.8l4.1-1.5 4.1-1 2.2-2.1 2.1-2.1-4.1 1.2-4.1 1.5-2.2 2z"/>
<path color="#a44a02" d="M431.6 264.6l4-1.9 2.3-2.1-4 1.9z"/>
<path color="#a44a02" d="M433.9 262.5l4-1.9 2.2-2-4 1.9z"/>
<path color="#a94c02" d="M435.6 262.7l4.1-1.7 2.2-2.1-4 1.7z"/>
<path color="#a94c02" d="M437.9 260.6l4-1.7 2.3-2.1-4.1 1.8z"/>
<path class="m" d="M431.6 264.6l4-1.9 4.1-1.7 2.2-2.1 2.3-2.1-4.1 1.8-4 1.9-2.2 2z"/>
<path color="#9f4703" d="M376.8 304.6l7.3-4 5.1-4.8-7.3 3.9z"/>
<path class="m" d="M376.8 304.6l3.6-2 3.7-2 2.6-2.4 2.5-2.4-3.6 2-3.7 1.9-2.5 2.4z"/>
<path color="#ffd403" d="M514.7 287.6l7.9 10.6 3.4-4.7-7.8-10.4z"/>
<path class="m" d="M514.7 287.6l4 5.1 3.9 5.5 1.7-2.4 1.7-2.3-3.8-5.4-4-5-1.7 2.2z"/>
<path color="#9a4403" d="M389.2 295.8l7.5-4.6 5-4.7-7.4 4.5z"/>
<path class="m" d="M389.2 295.8l3.7-2.3 3.8-2.3 2.5-2.3 2.5-2.4-3.7 2.4-3.7 2.1-2.5 2.4z"/>
<path color="#d96600" d="M465.1 249l2.1-.1 1-1-2.1 .1z"/>
<path color="#d96600" d="M466.1 248l2.1-.1 1.1-1-2.1 0z"/>
<path color="#d96600" d="M467.2 246.9l2.1 0 1-1-2.1 0z"/>
<path color="#d96600" d="M468.2 245.9l2.1 0 1-1.1-2.1 .1z"/>
<path color="#e66f00" d="M467.2 248.9l2.1 .2 1-1-2.1-.2z"/>
<path color="#e66f00" d="M468.2 247.9l2.1 .2 1.1-1.1-2.1-.1z"/>
<path color="#e66f00" d="M469.3 246.9l2.1 .1 1-1-2.1-.1z"/>
<path color="#e56f00" d="M470.3 245.9l2.1 .1 1-1-2.1-.2z"/>
<path color="#f37d00" d="M469.3 249.1l2.1 .4 1.1-1-2.2-.4z"/>
<path color="#f37d00" d="M470.3 248.1l2.2 .4 1-1.1-2.1-.4z"/>
<path color="#f37d00" d="M471.4 247l2.1 .4 1-1-2.1-.4z"/>
<path color="#f37d00" d="M472.4 246l2.1 .4 1-1-2.1-.4z"/>
<path color="#fc8c00" d="M471.4 249.5l2.1 .7 1.1-1.1-2.1-.6z"/>
<path color="#fc8c00" d="M472.5 248.5l2.1 .6 1-1-2.1-.7z"/>
<path color="#fc8b00" d="M473.5 247.4l2.1 .7 1-1.1-2.1-.6z"/>
<path color="#fc8b00" d="M474.5 246.4l2.1 .6 1-1-2.1-.6z"/>
<path class="m" d="M465.1 249l4.2 .1 4.2 1.1 2.1-2.1 2-2.1-4.2-1-4.2-.1-2 2z"/>
<path color="#a24802" d="M358.9 318.4l7.1-3.7 5.5-5.1-7.2 3.6z"/>
<path class="m" d="M358.9 318.4l3.5-1.9 3.6-1.8 2.8-2.6 2.7-2.5-3.6 1.8-3.6 1.8-2.7 2.6z"/>
<path color="#ffd303" d="M506.7 277.8l8 9.8 3.5-4.5-7.9-9.7z"/>
<path class="m" d="M506.7 277.8l4 4.8 4 5 1.8-2.3 1.7-2.2-3.9-4.9-4-4.8-1.8 2.2z"/>
<path color="#9a4403" d="M401.7 286.5l7.7-4.6 4.9-4.5-7.7 4.6z"/>
<path class="m" d="M401.7 286.5l3.9-2.3 3.8-2.3 2.5-2.2 2.4-2.3-3.9 2.3-3.8 2.3-2.4 2.2z"/>
<path color="#ffd504" d="M519.2 303l7.7 12.3 3.3-4.9-7.6-12.2z"/>
<path class="m" d="M519.2 303l3.8 6.1 3.9 6.2 1.7-2.5 1.6-2.4-3.7-6.2-3.9-6-1.7 2.4z"/>
<path color="#ff9900" d="M473.5 250.2l2.1 .9 1.1-1-2.1-1z"/>
<path color="#ff9900" d="M474.6 249.1l2.1 1 1-1.1-2.1-.9z"/>
<path color="#ff9800" d="M475.6 248.1l2.1 .9 1-1-2.1-1z"/>
<path color="#ff9800" d="M476.6 247l2.1 1 1-1.1-2.1-.9z"/>
<path color="#ffa700" d="M475.6 251.1l2.1 1.2 1.1-1.1-2.1-1.1z"/>
<path color="#ffa700" d="M476.7 250.1l2.1 1.1 1-1-2.1-1.2z"/>
<path color="#ffa700" d="M477.7 249l2.1 1.2 1-1.1-2.1-1.1z"/>
<path color="#ffa700" d="M478.7 248l2.1 1.1 .9-1-2-1.2z"/>
<path color="#ffb300" d="M477.7 252.3l2.1 1.2 1-1-2-1.3z"/>
<path color="#ffb300" d="M478.8 251.2l2 1.3 1-1.1-2-1.2z"/>
<path color="#ffb300" d="M479.8 250.2l2 1.2 1-1-2-1.3z"/>
<path color="#ffb300" d="M480.8 249.1l2 1.3 1-1.1-2.1-1.2z"/>
<path color="#ffbb00" d="M479.8 253.5l2.1 1.4 1-1.1-2.1-1.3z"/>
<path color="#ffbb00" d="M480.8 252.5l2.1 1.3 1-1-2.1-1.4z"/>
<path color="#ffbb00" d="M481.8 251.4l2.1 1.4 1-1.1-2.1-1.3z"/>
<path color="#ffbb00" d="M482.8 250.4l2.1 1.3 1-1-2.1-1.4z"/>
<path class="m" d="M473.5 250.2l4.2 2.1 4.2 2.6 2-2.1 2-2.1-4.2-2.6-4.1-2.1-2 2.1z"/>
<path color="#c35901" d="M452.4 254.3l4.2-.8 2.2-2-4.2 .7z"/>
<path color="#c25901" d="M454.6 252.2l4.2-.7 2.1-2.1-4.2 .7z"/>
<path color="#ce5f01" d="M456.6 253.5l4.3-.3 2.1-2.1-4.2 .4z"/>
<path color="#cd5f01" d="M458.8 251.5l4.2-.4 2.1-2.1-4.2 .4z"/>
<path class="m" d="M452.4 254.3l4.2-.8 4.3-.3 2.1-2.1 2.1-2.1-4.2 .4-4.2 .7-2.1 2.1z"/>
<path color="#ffd202" d="M498.6 268.5l8.1 9.3 3.6-4.4-8-9.2z"/>
<path class="m" d="M498.6 268.5l4.1 4.4 4 4.9 1.8-2.2 1.8-2.2-4-4.7-4-4.5-1.8 2.1z"/>
<path color="#9e4703" d="M371.5 309.6l7.3-4.1 5.3-4.9-7.3 4z"/>
<path class="m" d="M371.5 309.6l3.6-2 3.7-2.1 2.6-2.5 2.7-2.4-3.7 2-3.6 2-2.7 2.5z"/>
<path color="#9f4703" d="M414.3 277.4l8-4.1 4.7-4.4-7.9 4.1z"/>
<path class="m" d="M414.3 277.4l4-2.1 4-2 2.3-2.2 2.4-2.2-4 2-3.9 2.1-2.4 2.2z"/>
<path color="#ffc200" d="M481.9 254.9l4.2 2.9 2-2.1-4.2-2.9z"/>
<path color="#ffc200" d="M483.9 252.8l4.2 2.9 1.9-2.1-4.1-2.9z"/>
<path color="#ffc801" d="M486.1 257.8l4.2 3.1 1.9-2.1-4.1-3.1z"/>
<path color="#ffc801" d="M488.1 255.7l4.1 3.1 1.9-2.1-4.1-3.1z"/>
<path class="m" d="M481.9 254.9l4.2 2.9 4.2 3.1 1.9-2.1 1.9-2.1-4.1-3.1-4.1-2.9-2 2.1z"/>
<path color="#b05002" d="M439.7 261l4.1-1.5 2.3-2.1-4.2 1.5z"/>
<path color="#b05002" d="M441.9 258.9l4.2-1.5 2.2-2.1-4.1 1.5z"/>
<path color="#b95501" d="M443.8 259.5l4.2-1 2.2-2.1-4.1 1z"/>
<path color="#b95501" d="M446.1 257.4l4.1-1 2.2-2.1-4.1 1z"/>
<path class="m" d="M439.7 261l4.1-1.5 4.2-1 2.2-2.1 2.2-2.1-4.1 1-4.1 1.5-2.3 2.1z"/>
<path color="#ffce01" d="M490.3 260.9l8.3 7.6 3.7-4.3-8.2-7.5z"/>
<path class="m" d="M490.3 260.9l4.2 3.6 4.1 4 1.9-2.2 1.8-2.1-4.1-4-4.1-3.5-1.9 2.1z"/>
<path color="#a44a02" d="M427 268.9l4-1.9 2.3-2.2-4 1.9z"/>
<path color="#a44a02" d="M429.3 266.7l4-1.9 2.3-2.1-4 1.9z"/>
<path color="#a94c02" d="M431 267l4.1-1.8 2.3-2.1-4.1 1.7z"/>
<path color="#a94c02" d="M433.3 264.8l4.1-1.7 2.3-2.1-4.1 1.7z"/>
<path class="m" d="M427 268.9l4-1.9 4.1-1.8 2.3-2.1 2.3-2.1-4.1 1.7-4 1.9-2.3 2.1z"/>
<path color="#ffd403" d="M511.1 292.2l8.1 10.8 3.4-4.8-7.9-10.6z"/>
<path class="m" d="M511.1 292.2l4.1 5.2 4 5.6 1.7-2.4 1.7-2.4-3.9-5.5-4-5.1-1.7 2.3z"/>
<path color="#a14803" d="M353.3 323.6l7.1-3.7 5.6-5.2-7.1 3.7z"/>
<path class="m" d="M353.3 323.6l3.6-1.8 3.5-1.9 2.8-2.6 2.8-2.6-3.6 1.8-3.5 1.9-2.8 2.6z"/>
<path color="#994403" d="M384.1 300.6l7.5-4.6 5.1-4.8-7.5 4.6z"/>
<path class="m" d="M384.1 300.6l3.7-2.2 3.8-2.4 2.5-2.4 2.6-2.4-3.8 2.3-3.7 2.3-2.5 2.4z"/>
<path color="#da6700" d="M460.9 253.2l2.1 0 1.1-1.1-2.2 0z"/>
<path color="#da6700" d="M461.9 252.1l2.2 0 1-1.1-2.1 .1z"/>
<path color="#d96600" d="M463 251.1l2.1-.1 1.1-1-2.2 0z"/>
<path color="#d96600" d="M464 250l2.2 0 1-1.1-2.1 .1z"/>
<path color="#e66f00" d="M463 253.2l2.1 .1 1.1-1-2.1-.2z"/>
<path color="#e66f00" d="M464.1 252.1l2.1 .2 1-1.1-2.1-.2z"/>
<path color="#e66f00" d="M465.1 251l2.1 .2 1.1-1.1-2.1-.1z"/>
<path color="#e66f00" d="M466.2 250l2.1 .1 1-1-2.1-.2z"/>
<path color="#f37d00" d="M465.1 253.3l2.2 .4 1-1-2.1-.4z"/>
<path color="#f37d00" d="M466.2 252.3l2.1 .4 1.1-1.1-2.2-.4z"/>
<path color="#f37d00" d="M467.2 251.2l2.2 .4 1-1-2.1-.5z"/>
<path color="#f37d00" d="M468.3 250.1l2.1 .5 1-1.1-2.1-.4z"/>
<path color="#fc8b00" d="M467.3 253.7l2.1 .7 1-1-2.1-.7z"/>
<path color="#fc8b00" d="M468.3 252.7l2.1 .7 1.1-1.1-2.1-.7z"/>
<path color="#fc8b00" d="M469.4 251.6l2.1 .7 1-1.1-2.1-.6z"/>
<path color="#fc8b00" d="M470.4 250.6l2.1 .6 1-1-2.1-.7z"/>
<path class="m" d="M460.9 253.2l4.2 .1 4.3 1.1 2.1-2.1 2-2.1-4.2-1.1-4.2-.1-2.1 2.1z"/>
<path color="#ffd303" d="M503 282.2l8.1 10 3.6-4.6-8-9.8z"/>
<path class="m" d="M503 282.2l4.1 5 4 5 1.9-2.3 1.7-2.3-4-5-4-4.8-1.8 2.2z"/>
<path color="#994403" d="M396.7 291.2l7.7-4.6 5-4.7-7.7 4.6z"/>
<path class="m" d="M396.7 291.2l3.8-2.4 3.9-2.2 2.6-2.4 2.4-2.3-3.8 2.3-3.9 2.3-2.5 2.4z"/>
<path color="#ffd504" d="M515.6 307.9l7.8 12.5 3.5-5.1-7.7-12.3z"/>
<path class="m" d="M515.6 307.9l3.9 6.2 3.9 6.3 1.8-2.6 1.7-2.5-3.9-6.2-3.8-6.1-1.8 2.4z"/>
<path color="#9e4603" d="M366 314.7l7.3-4.1 5.5-5.1-7.3 4.1z"/>
<path class="m" d="M366 314.7l3.6-2 3.7-2.1 2.8-2.5 2.7-2.6-3.7 2.1-3.6 2-2.7 2.5z"/>
<path color="#c15801" d="M448 258.5l2.1-.4 1.1-1.1-2.1 .4z"/>
<path color="#c15801" d="M449.1 257.4l2.1-.4 1.1-1-2.1 .4z"/>
<path color="#c15801" d="M450.2 256.4l2.1-.4 1.1-1.1-2.1 .4z"/>
<path color="#c15801" d="M451.3 255.3l2.1-.4 1.1-1-2.1 .4z"/>
<path color="#c65b01" d="M450.1 258.1l2.2-.3 1.1-1.1-2.2 .3z"/>
<path color="#c65b01" d="M451.2 257l2.2-.3 1.1-1-2.2 .3z"/>
<path color="#c55b01" d="M452.3 256l2.2-.3 1-1.1-2.1 .3z"/>
<path color="#c55b01" d="M453.4 254.9l2.1-.3 1.1-1.1-2.1 .4z"/>
<path color="#cb5e01" d="M452.3 257.8l2.1-.2 1.1-1.1-2.1 .2z"/>
<path color="#cb5e01" d="M453.4 256.7l2.1-.2 1.1-1.1-2.1 .3z"/>
<path color="#cb5e01" d="M454.5 255.7l2.1-.3 1.1-1-2.2 .2z"/>
<path color="#ca5e01" d="M455.5 254.6l2.2-.2 1-1.1-2.1 .2z"/>
<path color="#d26201" d="M454.4 257.6l2.1-.1 1.1-1.1-2.1 .1z"/>
<path color="#d26201" d="M455.5 256.5l2.1-.1 1.1-1.1-2.1 .1z"/>
<path color="#d16201" d="M456.6 255.4l2.1-.1 1.1-1.1-2.1 .2z"/>
<path color="#d16101" d="M457.7 254.4l2.1-.2 1.1-1-2.2 .1z"/>
<path class="m" d="M448 258.5l4.3-.7 4.2-.3 2.2-2.2 2.2-2.1-4.3 .3-4.2 .8-2.2 2.1z"/>
<path color="#ff9800" d="M469.4 254.4l2.1 1 1.1-1.1-2.2-.9z"/>
<path color="#ff9800" d="M470.4 253.4l2.2 .9 1-1.1-2.1-.9z"/>
<path color="#ff9900" d="M471.5 252.3l2.1 .9 1-1-2.1-1z"/>
<path color="#ff9900" d="M472.5 251.2l2.1 1 1-1.1-2.1-.9z"/>
<path color="#ffa600" d="M471.5 255.4l2.1 1.1 1.1-1-2.1-1.2z"/>
<path color="#ffa600" d="M472.6 254.3l2.1 1.2 1-1.1-2.1-1.2z"/>
<path color="#ffa700" d="M473.6 253.2l2.1 1.2 1-1.1-2.1-1.1z"/>
<path color="#ffa700" d="M474.6 252.2l2.1 1.1 1-1-2.1-1.2z"/>
<path color="#ffb200" d="M473.6 256.5l2.2 1.3 1-1.1-2.1-1.2z"/>
<path color="#ffb200" d="M474.7 255.5l2.1 1.2 1-1-2.1-1.3z"/>
<path color="#ffb300" d="M475.7 254.4l2.1 1.3 1-1.1-2.1-1.3z"/>
<path color="#ffb300" d="M476.7 253.3l2.1 1.3 1-1.1-2.1-1.2z"/>
<path color="#ffba00" d="M475.8 257.8l2.1 1.4 1-1.1-2.1-1.4z"/>
<path color="#ffba00" d="M476.8 256.7l2.1 1.4 1-1.1-2.1-1.3z"/>
<path color="#ffba00" d="M477.8 255.7l2.1 1.3 1-1.1-2.1-1.3z"/>
<path color="#ffba00" d="M478.8 254.6l2.1 1.3 1-1-2.1-1.4z"/>
<path class="m" d="M469.4 254.4l4.2 2.1 4.3 2.7 2-2.2 2-2.1-4.2-2.6-4.2-2.1-2 2.1z"/>
<path color="#9f4703" d="M409.4 281.9l8-4.2 4.9-4.4-8 4.1z"/>
<path class="m" d="M409.4 281.9l4-2.1 4-2.1 2.5-2.2 2.4-2.2-4 2-4 2.1-2.4 2.3z"/>
<path color="#ffd202" d="M494.8 272.8l8.2 9.4 3.7-4.4-8.1-9.3z"/>
<path class="m" d="M494.8 272.8l4.1 4.6 4.1 4.8 1.9-2.2 1.8-2.2-4-4.9-4.1-4.4-1.9 2.1z"/>
<path color="#b05002" d="M435.1 265.2l4.2-1.4 2.3-2.1-4.2 1.4z"/>
<path color="#b05002" d="M437.4 263.1l4.2-1.4 2.2-2.2-4.1 1.5z"/>
<path color="#ba5501" d="M439.3 263.8l4.2-1 2.3-2.2-4.2 1.1z"/>
<path color="#ba5501" d="M441.6 261.7l4.2-1.1 2.2-2.1-4.2 1z"/>
<path class="m" d="M435.1 265.2l4.2-1.4 4.2-1 2.3-2.2 2.2-2.1-4.2 1-4.1 1.5-2.3 2.1z"/>
<path color="#a44a02" d="M422.3 273.3l4-1.9 2.4-2.2-4.1 1.9z"/>
<path color="#a44a02" d="M424.6 271.1l4.1-1.9 2.3-2.2-4 1.9z"/>
<path color="#a94c02" d="M426.3 271.4l4.2-1.8 2.3-2.2-4.1 1.8z"/>
<path color="#a94c02" d="M428.7 269.2l4.1-1.8 2.3-2.2-4.1 1.8z"/>
<path class="m" d="M422.3 273.3l4-1.9 4.2-1.8 2.3-2.2 2.3-2.2-4.1 1.8-4 1.9-2.4 2.2z"/>
<path color="#ffc100" d="M477.9 259.2l4.2 2.9 2-2.2-4.2-2.9z"/>
<path color="#ffc100" d="M479.9 257l4.2 2.9 2-2.1-4.2-2.9z"/>
<path color="#ffc801" d="M482.1 262.1l4.3 3.1 1.9-2.1-4.2-3.2z"/>
<path color="#ffc801" d="M484.1 259.9l4.2 3.2 2-2.2-4.2-3.1z"/>
<path class="m" d="M477.9 259.2l4.2 2.9 4.3 3.1 1.9-2.1 2-2.2-4.2-3.1-4.2-2.9-2 2.1z"/>
<path color="#ffce01" d="M486.4 265.2l8.4 7.6 3.8-4.3-8.3-7.6z"/>
<path class="m" d="M486.4 265.2l4.2 3.6 4.2 4 1.9-2.2 1.9-2.1-4.1-4-4.2-3.6-2 2.2z"/>
<path color="#a04803" d="M347.6 329l7.1-3.7 5.7-5.4-7.1 3.7z"/>
<path class="m" d="M347.6 329l3.5-1.8 3.6-1.9 2.9-2.7 2.8-2.7-3.5 1.9-3.6 1.8-2.8 2.7z"/>
<path color="#984303" d="M378.8 305.5l7.5-4.6 5.3-4.9-7.5 4.6z"/>
<path class="m" d="M378.8 305.5l3.7-2.2 3.8-2.4 2.6-2.5 2.7-2.4-3.8 2.4-3.7 2.2-2.7 2.4z"/>
<path color="#ffd403" d="M507.5 297l8.1 10.9 3.6-4.9-8.1-10.8z"/>
<path class="m" d="M507.5 297l4 5.3 4.1 5.6 1.8-2.5 1.8-2.4-4-5.6-4.1-5.2-1.8 2.4z"/>
<path color="#db6800" d="M456.5 257.5l2.2 0 1.1-1.1-2.2 0z"/>
<path color="#db6700" d="M457.6 256.4l2.2 0 1.1-1.1-2.2 0z"/>
<path color="#db6700" d="M458.7 255.3l2.2 0 1-1.1-2.1 0z"/>
<path color="#da6700" d="M459.8 254.2l2.1 0 1.1-1-2.1 0z"/>
<path color="#e77000" d="M458.7 257.5l2.1 .2 1.1-1.1-2.1-.2z"/>
<path color="#e77000" d="M459.8 256.4l2.1 .2 1.1-1.1-2.1-.2z"/>
<path color="#e77000" d="M460.9 255.3l2.1 .2 1.1-1.1-2.2-.2z"/>
<path color="#e67000" d="M461.9 254.2l2.2 .2 1-1.1-2.1-.1z"/>
<path color="#f47e00" d="M460.8 257.7l2.2 .4 1.1-1.1-2.2-.4z"/>
<path color="#f47d00" d="M461.9 256.6l2.2 .4 1-1.1-2.1-.4z"/>
<path color="#f37d00" d="M463 255.5l2.1 .4 1.1-1.1-2.1-.4z"/>
<path color="#f37d00" d="M464.1 254.4l2.1 .4 1.1-1.1-2.2-.4z"/>
<path color="#fc8b00" d="M463 258.1l2.1 .7 1.1-1.1-2.1-.7z"/>
<path color="#fc8b00" d="M464.1 257l2.1 .7 1.1-1.1-2.2-.7z"/>
<path color="#fc8b00" d="M465.1 255.9l2.2 .7 1-1.1-2.1-.7z"/>
<path color="#fc8b00" d="M466.2 254.8l2.1 .7 1.1-1.1-2.1-.7z"/>
<path class="m" d="M456.5 257.5l4.3 .2 4.3 1.1 2.2-2.2 2.1-2.2-4.3-1.1-4.2-.1-2.2 2.1z"/>
<path color="#984303" d="M391.6 296l7.7-4.7 5.1-4.7-7.7 4.6z"/>
<path class="m" d="M391.6 296l3.8-2.4 3.9-2.3 2.6-2.4 2.5-2.3-3.9 2.2-3.8 2.4-2.6 2.4z"/>
<path color="#9d4603" d="M360.4 319.9l7.4-4.1 5.5-5.2-7.3 4.1z"/>
<path class="m" d="M360.4 319.9l3.7-2 3.7-2.1 2.8-2.6 2.7-2.6-3.7 2.1-3.6 2-2.8 2.6z"/>
<path color="#ffd303" d="M499.2 286.8l8.3 10.2 3.6-4.8-8.1-10z"/>
<path class="m" d="M499.2 286.8l4.1 5 4.2 5.2 1.8-2.4 1.8-2.4-4-5-4.1-5-1.9 2.3z"/>
<path color="#ffd504" d="M511.9 313l8 12.6 3.5-5.2-7.8-12.5z"/>
<path class="m" d="M511.9 313l4 6.2 4 6.4 1.8-2.6 1.7-2.6-3.9-6.3-3.9-6.2-1.8 2.5z"/>
<path color="#9e4603" d="M404.4 286.6l8-4.3 5-4.6-8 4.2z"/>
<path class="m" d="M404.4 286.6l4-2.2 4-2.1 2.5-2.3 2.5-2.3-4 2.1-4 2.1-2.4 2.3z"/>
<path color="#c25901" d="M443.5 262.8l2.1-.4 1.2-1.1-2.1 .4z"/>
<path color="#c15901" d="M444.7 261.7l2.1-.4 1.1-1-2.1 .3z"/>
<path color="#c15901" d="M445.8 260.6l2.1-.3 1.1-1.1-2.1 .3z"/>
<path color="#c15901" d="M446.9 259.5l2.1-.3 1.1-1.1-2.1 .4z"/>
<path color="#c65b01" d="M445.6 262.4l2.2-.2 1.1-1.1-2.1 .2z"/>
<path color="#c65b01" d="M446.8 261.3l2.1-.2 1.1-1.1-2.1 .3z"/>
<path color="#c65b01" d="M447.9 260.3l2.1-.3 1.2-1.1-2.2 .3z"/>
<path color="#c65b01" d="M449 259.2l2.2-.3 1.1-1.1-2.2 .3z"/>
<path color="#cc5e01" d="M447.8 262.2l2.1-.2 1.2-1.1-2.2 .2z"/>
<path color="#cc5e01" d="M448.9 261.1l2.2-.2 1.1-1.1-2.2 .2z"/>
<path color="#cb5e01" d="M450 260l2.2-.2 1.1-1.1-2.1 .2z"/>
<path color="#cb5e01" d="M451.2 258.9l2.1-.2 1.1-1.1-2.1 .2z"/>
<path color="#d36200" d="M449.9 262l2.2-.1 1.1-1.1-2.1 .1z"/>
<path color="#d26200" d="M451.1 260.9l2.1-.1 1.1-1.1-2.1 .1z"/>
<path color="#d26200" d="M452.2 259.8l2.1-.1 1.1-1.1-2.1 .1z"/>
<path color="#d26201" d="M453.3 258.7l2.1-.1 1.1-1.1-2.1 .1z"/>
<path class="m" d="M443.5 262.8l4.3-.6 4.3-.3 2.2-2.2 2.2-2.2-4.2 .3-4.3 .7-2.2 2.1z"/>
<path color="#ff9800" d="M465.1 258.8l2.2 1 1.1-1.1-2.2-1z"/>
<path color="#ff9800" d="M466.2 257.7l2.2 1 1-1.1-2.1-1z"/>
<path color="#ff9800" d="M467.3 256.6l2.1 1 1.1-1.1-2.2-1z"/>
<path color="#ff9800" d="M468.3 255.5l2.2 1 1-1.1-2.1-1z"/>
<path color="#ffa500" d="M467.3 259.8l2.1 1.1 1.1-1.1-2.1-1.1z"/>
<path color="#ffa600" d="M468.4 258.7l2.1 1.1 1.1-1.1-2.2-1.1z"/>
<path color="#ffa600" d="M469.4 257.6l2.2 1.1 1-1.1-2.1-1.1z"/>
<path color="#ffa600" d="M470.5 256.5l2.1 1.1 1-1.1-2.1-1.1z"/>
<path color="#ffb100" d="M469.4 260.9l2.2 1.3 1-1.1-2.1-1.3z"/>
<path color="#ffb100" d="M470.5 259.8l2.1 1.3 1.1-1.1-2.1-1.3z"/>
<path color="#ffb200" d="M471.6 258.7l2.1 1.3 1-1.1-2.1-1.3z"/>
<path color="#ffb200" d="M472.6 257.6l2.1 1.3 1.1-1.1-2.2-1.3z"/>
<path color="#ffb800" d="M471.6 262.2l2.1 1.4 1.1-1.1-2.2-1.4z"/>
<path color="#ffb900" d="M472.6 261.1l2.2 1.4 1-1.1-2.1-1.4z"/>
<path color="#ffb900" d="M473.7 260l2.1 1.4 1.1-1.1-2.2-1.4z"/>
<path color="#ffb900" d="M474.7 258.9l2.2 1.4 1-1.1-2.1-1.4z"/>
<path class="m" d="M465.1 258.8l4.3 2.1 4.3 2.7 2.1-2.2 2.1-2.2-4.3-2.7-4.2-2.1-2.1 2.2z"/>
<path color="#a04703" d="M341.8 334.6l7.1-3.8 5.8-5.5-7.1 3.7z"/>
<path class="m" d="M341.8 334.6l3.5-1.9 3.6-1.9 2.9-2.8 2.9-2.7-3.6 1.9-3.5 1.8-2.9 2.8z"/>
<path color="#ffd202" d="M490.8 277.3l8.4 9.5 3.8-4.6-8.2-9.4z"/>
<path class="m" d="M490.8 277.3l4.2 4.6 4.2 4.9 1.9-2.3 1.9-2.3-4.1-4.8-4.1-4.6-2 2.3z"/>
<path color="#a44902" d="M417.4 277.7l4.1-1.9 2.4-2.2-4 1.9z"/>
<path color="#a44902" d="M419.9 275.5l4-1.9 2.4-2.2-4 1.9z"/>
<path color="#a94c02" d="M421.5 275.8l4.1-1.7 2.5-2.2-4.2 1.7z"/>
<path color="#a94c02" d="M423.9 273.6l4.2-1.7 2.4-2.3-4.2 1.8z"/>
<path class="m" d="M417.4 277.7l4.1-1.9 4.1-1.7 2.5-2.2 2.4-2.3-4.2 1.8-4 1.9-2.4 2.2z"/>
<path color="#b05002" d="M430.5 269.6l4.1-1.4 2.4-2.2-4.2 1.4z"/>
<path color="#b05002" d="M432.8 267.4l4.2-1.4 2.3-2.2-4.2 1.4z"/>
<path color="#ba5501" d="M434.6 268.2l4.3-1 2.3-2.2-4.2 1z"/>
<path color="#ba5501" d="M437 266l4.2-1 2.3-2.2-4.2 1z"/>
<path class="m" d="M430.5 269.6l4.1-1.4 4.3-1 2.3-2.2 2.3-2.2-4.2 1-4.2 1.4-2.3 2.2z"/>
<path color="#974303" d="M373.3 310.6l7.5-4.7 5.5-5-7.5 4.6z"/>
<path class="m" d="M373.3 310.6l3.8-2.3 3.7-2.4 2.8-2.5 2.7-2.5-3.8 2.4-3.7 2.2-2.7 2.6z"/>
<path color="#ffc000" d="M473.7 263.6l4.3 2.9 2.1-2.3-4.3-2.8z"/>
<path color="#ffc000" d="M475.8 261.4l4.3 2.8 2-2.1-4.2-2.9z"/>
<path color="#ffc801" d="M478 266.5l4.3 3.2 2.1-2.3-4.3-3.2z"/>
<path color="#ffc801" d="M480.1 264.2l4.3 3.2 2-2.2-4.3-3.1z"/>
<path class="m" d="M473.7 263.6l4.3 2.9 4.3 3.2 2.1-2.3 2-2.2-4.3-3.1-4.2-2.9-2.1 2.2z"/>
<path color="#ffce01" d="M482.3 269.7l8.5 7.6 4-4.5-8.4-7.6z"/>
<path class="m" d="M482.3 269.7l4.3 3.5 4.2 4.1 2-2.2 2-2.3-4.2-4-4.2-3.6-2 2.2z"/>
<path color="#ffd503" d="M503.7 301.8l8.2 11.2 3.7-5.1-8.1-10.9z"/>
<path class="m" d="M503.7 301.8l4.1 5.4 4.1 5.8 1.9-2.6 1.8-2.5-4.1-5.6-4-5.3-1.9 2.4z"/>
<path color="#9c4603" d="M354.7 325.3l7.3-4.1 5.8-5.4-7.4 4.1z"/>
<path class="m" d="M354.7 325.3l3.7-2 3.6-2.1 2.9-2.7 2.9-2.7-3.7 2.1-3.7 2-2.8 2.7z"/>
<path color="#984303" d="M386.3 300.9l7.7-4.7 5.3-4.9-7.7 4.7z"/>
<path class="m" d="M386.3 300.9l3.8-2.4 3.9-2.3 2.7-2.5 2.6-2.4-3.9 2.3-3.8 2.4-2.7 2.4z"/>
<path color="#dc6800" d="M452.1 261.9l2.2 0 1.1-1.1-2.2 0z"/>
<path color="#dc6800" d="M453.2 260.8l2.2 0 1.1-1.1-2.2 0z"/>
<path color="#db6800" d="M454.3 259.7l2.2 0 1.1-1.1-2.2 0z"/>
<path color="#db6800" d="M455.4 258.6l2.2 0 1.1-1.1-2.2 0z"/>
<path color="#e87100" d="M454.3 261.9l2.1 .2 1.1-1.1-2.1-.2z"/>
<path color="#e77100" d="M455.4 260.8l2.1 .2 1.1-1.1-2.1-.2z"/>
<path color="#e77100" d="M456.5 259.7l2.1 .2 1.1-1.1-2.1-.2z"/>
<path color="#e77000" d="M457.6 258.6l2.1 .2 1.1-1.1-2.1-.2z"/>
<path color="#f47e00" d="M456.4 262.1l2.2 .5 1.1-1.1-2.2-.5z"/>
<path color="#f47e00" d="M457.5 261l2.2 .5 1.1-1.2-2.2-.4z"/>
<path color="#f47e00" d="M458.6 259.9l2.2 .4 1.1-1.1-2.2-.4z"/>
<path color="#f47e00" d="M459.7 258.8l2.2 .4 1.1-1.1-2.2-.4z"/>
<path color="#fc8c00" d="M458.6 262.6l2.2 .7 1.1-1.1-2.2-.7z"/>
<path color="#fc8c00" d="M459.7 261.5l2.2 .7 1.1-1.2-2.2-.7z"/>
<path color="#fd8c00" d="M460.8 260.3l2.2 .7 1.1-1.1-2.2-.7z"/>
<path color="#fc8c00" d="M461.9 259.2l2.2 .7 1-1.1-2.1-.7z"/>
<path class="m" d="M452.1 261.9l4.3 .2 4.4 1.2 2.2-2.3 2.1-2.2-4.3-1.1-4.3-.2-2.2 2.2z"/>
<path color="#9f4703" d="M335.7 340.2l7.1-3.7 6.1-5.7-7.1 3.8z"/>
<path class="m" d="M335.7 340.2l3.6-1.8 3.5-1.9 3.1-2.9 3-2.8-3.6 1.9-3.5 1.9-3 2.8z"/>
<path color="#ffd303" d="M495.3 291.5l8.4 10.3 3.8-4.8-8.3-10.2z"/>
<path class="m" d="M495.3 291.5l4.2 5.1 4.2 5.2 1.9-2.4 1.9-2.4-4.2-5.2-4.1-5-1.9 2.3z"/>
<path color="#ffd604" d="M508.2 318.2l8.1 12.8 3.6-5.4-8-12.6z"/>
<path class="m" d="M508.2 318.2l4 6.3 4.1 6.5 1.8-2.7 1.8-2.7-4-6.4-4-6.2-1.8 2.6z"/>
<path color="#9e4603" d="M399.3 291.3l8-4.2 5.1-4.8-8 4.3z"/>
<path class="m" d="M399.3 291.3l4-2.2 4-2 2.6-2.4 2.5-2.4-4 2.1-4 2.2-2.5 2.3z"/>
<path color="#c25901" d="M438.9 267.2l2.1-.3 1.2-1.1-2.1 .3z"/>
<path color="#c25901" d="M440.1 266.1l2.1-.3 1.2-1.1-2.2 .3z"/>
<path color="#c25901" d="M441.2 265l2.2-.3 1.1-1.2-2.1 .4z"/>
<path color="#c25901" d="M442.4 263.9l2.1-.4 1.1-1.1-2.1 .4z"/>
<path color="#c75c01" d="M441 266.9l2.2-.3 1.1-1.1-2.1 .3z"/>
<path color="#c75c01" d="M442.2 265.8l2.1-.3 1.2-1.1-2.1 .3z"/>
<path color="#c75c01" d="M443.4 264.7l2.1-.3 1.1-1.1-2.1 .2z"/>
<path color="#c75c01" d="M444.5 263.5l2.1-.2 1.2-1.1-2.2 .2z"/>
<path color="#cd5f01" d="M443.2 266.6l2.1-.1 1.2-1.2-2.2 .2z"/>
<path color="#cd5f01" d="M444.3 265.5l2.2-.2 1.2-1.1-2.2 .2z"/>
<path color="#cc5f01" d="M445.5 264.4l2.2-.2 1.1-1.1-2.2 .2z"/>
<path color="#cc5f01" d="M446.6 263.3l2.2-.2 1.1-1.1-2.1 .2z"/>
<path color="#d46300" d="M445.3 266.5l2.2-.1 1.2-1.1-2.2 0z"/>
<path color="#d36300" d="M446.5 265.3l2.2 0 1.1-1.2-2.1 .1z"/>
<path color="#d36300" d="M447.7 264.2l2.1-.1 1.2-1.1-2.2 .1z"/>
<path color="#d36200" d="M448.8 263.1l2.2-.1 1.1-1.1-2.2 .1z"/>
<path class="m" d="M438.9 267.2l4.3-.6 4.3-.2 2.3-2.3 2.3-2.2-4.3 .3-4.3 .6-2.3 2.2z"/>
<path color="#ff9800" d="M460.8 263.3l2.2 1 1-1.2-2.1-.9z"/>
<path color="#ff9800" d="M461.9 262.2l2.1 .9 1.1-1.1-2.1-1z"/>
<path color="#ff9800" d="M463 261l2.1 1 1.1-1.1-2.1-1z"/>
<path color="#ff9800" d="M464.1 259.9l2.1 1 1.1-1.1-2.2-1z"/>
<path color="#ffa500" d="M463 264.3l2.1 1.1 1.1-1.1-2.2-1.2z"/>
<path color="#ffa500" d="M464 263.1l2.2 1.2 1.1-1.1-2.2-1.2z"/>
<path color="#ffa500" d="M465.1 262l2.2 1.2 1.1-1.1-2.2-1.2z"/>
<path color="#ffa500" d="M466.2 260.9l2.2 1.2 1-1.2-2.1-1.1z"/>
<path color="#ffb000" d="M465.1 265.4l2.2 1.3 1.1-1.1-2.2-1.3z"/>
<path color="#ffb000" d="M466.2 264.3l2.2 1.3 1.1-1.1-2.2-1.3z"/>
<path color="#ffb000" d="M467.3 263.2l2.2 1.3 1-1.2-2.1-1.2z"/>
<path color="#ffb100" d="M468.4 262.1l2.1 1.2 1.1-1.1-2.2-1.3z"/>
<path color="#ffb700" d="M467.3 266.7l2.2 1.4 1-1.1-2.1-1.4z"/>
<path color="#ffb700" d="M468.4 265.6l2.1 1.4 1.1-1.2-2.1-1.3z"/>
<path color="#ffb800" d="M469.5 264.5l2.1 1.3 1.1-1.1-2.2-1.4z"/>
<path color="#ffb800" d="M470.5 263.3l2.2 1.4 1-1.1-2.1-1.4z"/>
<path class="m" d="M460.8 263.3l4.3 2.1 4.4 2.7 2.1-2.3 2.1-2.2-4.3-2.7-4.3-2.1-2.1 2.2z"/>
<path color="#964203" d="M367.8 315.8l7.5-4.7 5.5-5.2-7.5 4.7z"/>
<path class="m" d="M367.8 315.8l3.7-2.3 3.8-2.4 2.8-2.6 2.7-2.6-3.7 2.4-3.8 2.3-2.7 2.6z"/>
<path color="#a34902" d="M412.4 282.3l4.1-1.9 2.5-2.3-4.1 1.9z"/>
<path color="#a44902" d="M414.9 280l4.1-1.9 2.5-2.3-4.1 1.9z"/>
<path color="#a94c02" d="M416.5 280.4l4.2-1.7 2.5-2.3-4.2 1.7z"/>
<path color="#a94c02" d="M419 278.1l4.2-1.7 2.4-2.3-4.1 1.7z"/>
<path class="m" d="M412.4 282.3l4.1-1.9 4.2-1.7 2.5-2.3 2.4-2.3-4.1 1.7-4.1 1.9-2.5 2.3z"/>
<path color="#b15002" d="M425.6 274.1l4.3-1.4 2.4-2.2-4.2 1.4z"/>
<path color="#b15002" d="M428.1 271.9l4.2-1.4 2.3-2.3-4.1 1.4z"/>
<path color="#bb5501" d="M429.9 272.7l4.2-.9 2.4-2.3-4.2 1z"/>
<path color="#bb5501" d="M432.3 270.5l4.2-1 2.4-2.3-4.3 1z"/>
<path class="m" d="M425.6 274.1l4.3-1.4 4.2-.9 2.4-2.3 2.4-2.3-4.3 1-4.1 1.4-2.4 2.3z"/>
<path color="#ffd202" d="M486.8 281.9l8.5 9.6 3.9-4.7-8.4-9.5z"/>
<path class="m" d="M486.8 281.9l4.3 4.6 4.2 5 2-2.4 1.9-2.3-4.2-4.9-4.2-4.6-2 2.3z"/>
<path color="#ffbf00" d="M469.5 268.1l4.3 2.9 2.1-2.3-4.3-2.9z"/>
<path color="#ffbf00" d="M471.6 265.8l4.3 2.9 2.1-2.2-4.3-2.9z"/>
<path color="#ffc700" d="M473.8 271l4.4 3.2 2.1-2.3-4.4-3.2z"/>
<path color="#ffc801" d="M475.9 268.7l4.4 3.2 2-2.2-4.3-3.2z"/>
<path class="m" d="M469.5 268.1l4.3 2.9 4.4 3.2 2.1-2.3 2-2.2-4.3-3.2-4.3-2.9-2.1 2.2z"/>
<path color="#ffce01" d="M478.2 274.2l8.6 7.7 4-4.6-8.5-7.6z"/>
<path class="m" d="M478.2 274.2l4.3 3.6 4.3 4.1 2-2.3 2-2.3-4.2-4.1-4.3-3.5-2 2.2z"/>
<path color="#9c4503" d="M348.9 330.8l7.3-4.1 5.8-5.5-7.3 4.1z"/>
<path class="m" d="M348.9 330.8l3.6-2 3.7-2.1 2.9-2.8 2.9-2.7-3.6 2.1-3.7 2-2.9 2.7z"/>
<path color="#ffd503" d="M499.8 306.8l8.4 11.4 3.7-5.2-8.2-11.2z"/>
<path class="m" d="M499.8 306.8l4.2 5.6 4.2 5.8 1.9-2.6 1.8-2.6-4.1-5.8-4.1-5.4-2 2.5z"/>
<path color="#974303" d="M380.8 305.9l7.8-4.7 5.4-5-7.7 4.7z"/>
<path class="m" d="M380.8 305.9l3.9-2.4 3.9-2.3 2.7-2.6 2.7-2.4-3.9 2.3-3.8 2.4-2.7 2.5z"/>
<path color="#9f4703" d="M329.6 346.1l7-3.8 6.2-5.8-7.1 3.7z"/>
<path class="m" d="M329.6 346.1l3.5-1.9 3.5-1.9 3.2-3 3-2.8-3.5 1.9-3.6 1.8-3 2.9z"/>
<path color="#dd6900" d="M447.5 266.4l2.2 .1 1.2-1.2-2.2 0z"/>
<path color="#dc6800" d="M448.7 265.3l2.2 0 1.1-1.1-2.2-.1z"/>
<path color="#dc6800" d="M449.8 264.1l2.2 .1 1.1-1.2-2.1 0z"/>
<path color="#dc6800" d="M451 263l2.1 0 1.2-1.1-2.2 0z"/>
<path color="#e87100" d="M449.7 266.5l2.2 .2 1.1-1.2-2.1-.2z"/>
<path color="#e87100" d="M450.9 265.3l2.1 .2 1.2-1.1-2.2-.2z"/>
<path color="#e87100" d="M452 264.2l2.2 .2 1.1-1.1-2.2-.3z"/>
<path color="#e87100" d="M453.1 263l2.2 .3 1.1-1.2-2.1-.2z"/>
<path color="#f47e00" d="M451.9 266.7l2.2 .5 1.1-1.2-2.2-.5z"/>
<path color="#f47e00" d="M453 265.5l2.2 .5 1.2-1.1-2.2-.5z"/>
<path color="#f47e00" d="M454.2 264.4l2.2 .5 1.1-1.2-2.2-.4z"/>
<path color="#f47e00" d="M455.3 263.3l2.2 .4 1.1-1.1-2.2-.5z"/>
<path color="#fc8b00" d="M454.1 267.2l2.2 .7 1.1-1.1-2.2-.8z"/>
<path color="#fc8b00" d="M455.2 266l2.2 .8 1.1-1.2-2.1-.7z"/>
<path color="#fc8c00" d="M456.4 264.9l2.1 .7 1.2-1.2-2.2-.7z"/>
<path color="#fc8c00" d="M457.5 263.7l2.2 .7 1.1-1.1-2.2-.7z"/>
<path class="m" d="M447.5 266.4l4.4 .3 4.4 1.2 2.2-2.3 2.3-2.3-4.4-1.2-4.3-.2-2.3 2.2z"/>
<path color="#9d4603" d="M394 296.2l8.1-4.3 5.2-4.8-8 4.2z"/>
<path class="m" d="M394 296.2l4-2.2 4.1-2.1 2.6-2.4 2.6-2.4-4 2-4 2.2-2.6 2.4z"/>
<path color="#ffd403" d="M491.3 296.3l8.5 10.5 3.9-5-8.4-10.3z"/>
<path class="m" d="M491.3 296.3l4.2 5.2 4.3 5.3 1.9-2.5 2-2.5-4.2-5.2-4.2-5.1-2 2.4z"/>
<path color="#ffd604" d="M504.3 323.5l8.3 13 3.7-5.5-8.1-12.8z"/>
<path class="m" d="M504.3 323.5l4.1 6.4 4.2 6.6 1.8-2.8 1.9-2.7-4.1-6.5-4-6.3-2 2.7z"/>
<path color="#974303" d="M362 321.2l3.8-2.3 2.8-2.7-3.7 2.3z"/>
<path color="#984303" d="M364.9 318.5l3.7-2.3 2.9-2.7-3.7 2.3z"/>
<path color="#934103" d="M365.8 318.9l3.7-2.5 2.9-2.7-3.8 2.5z"/>
<path color="#944103" d="M368.6 316.2l3.8-2.5 2.9-2.6-3.8 2.4z"/>
<path class="m" d="M362 321.2l3.8-2.3 3.7-2.5 2.9-2.7 2.9-2.6-3.8 2.4-3.7 2.3-2.9 2.7z"/>
<path color="#c35901" d="M434.1 271.8l2.2-.3 1.2-1.2-2.2 .3z"/>
<path color="#c35901" d="M435.3 270.6l2.2-.3 1.2-1.1-2.2 .3z"/>
<path color="#c35901" d="M436.5 269.5l2.2-.3 1.2-1.2-2.2 .4z"/>
<path color="#c25901" d="M437.7 268.4l2.2-.4 1.1-1.1-2.1 .3z"/>
<path color="#c85c01" d="M436.3 271.5l2.2-.3 1.2-1.1-2.2 .2z"/>
<path color="#c85c01" d="M437.5 270.3l2.2-.2 1.1-1.2-2.1 .3z"/>
<path color="#c85c01" d="M438.7 269.2l2.1-.3 1.2-1.1-2.1 .2z"/>
<path color="#c85c01" d="M439.9 268l2.1-.2 1.2-1.2-2.2 .3z"/>
<path color="#ce6001" d="M438.5 271.2l2.1-.1 1.2-1.2-2.1 .2z"/>
<path color="#ce5f01" d="M439.7 270.1l2.1-.2 1.2-1.1-2.2 .1z"/>
<path color="#cd5f01" d="M440.8 268.9l2.2-.1 1.2-1.2-2.2 .2z"/>
<path color="#cd5f01" d="M442 267.8l2.2-.2 1.1-1.1-2.1 .1z"/>
<path color="#d56400" d="M440.6 271.1l2.2 0 1.2-1.2-2.2 0z"/>
<path color="#d46300" d="M441.8 269.9l2.2 0 1.2-1.2-2.2 .1z"/>
<path color="#d46300" d="M443 268.8l2.2-.1 1.2-1.1-2.2 0z"/>
<path color="#d46300" d="M444.2 267.6l2.2 0 1.1-1.2-2.2 .1z"/>
<path class="m" d="M434.1 271.8l4.4-.6 4.3-.1 2.4-2.4 2.3-2.3-4.3 .2-4.3 .6-2.4 2.3z"/>
<path color="#a34902" d="M407.3 287.1l4.2-1.9 2.5-2.4-4.1 1.9z"/>
<path color="#a34902" d="M409.9 284.7l4.1-1.9 2.5-2.4-4.1 1.9z"/>
<path color="#a94c02" d="M411.5 285.2l4.1-1.7 2.6-2.4-4.2 1.7z"/>
<path color="#a94c02" d="M414 282.8l4.2-1.7 2.5-2.4-4.2 1.7z"/>
<path class="m" d="M407.3 287.1l4.2-1.9 4.1-1.7 2.6-2.4 2.5-2.4-4.2 1.7-4.1 1.9-2.5 2.4z"/>
<path color="#ff9800" d="M456.3 267.9l2.2 1 1.1-1.2-2.2-.9z"/>
<path color="#ff9800" d="M457.4 266.8l2.2 .9 1.1-1.1-2.2-1z"/>
<path color="#ff9800" d="M458.5 265.6l2.2 1 1.1-1.2-2.1-1z"/>
<path color="#ff9800" d="M459.7 264.4l2.1 1 1.2-1.1-2.2-1z"/>
<path color="#ffa400" d="M458.5 268.9l2.2 1.2 1.1-1.2-2.2-1.2z"/>
<path color="#ffa400" d="M459.6 267.7l2.2 1.2 1.1-1.2-2.2-1.1z"/>
<path color="#ffa500" d="M460.7 266.6l2.2 1.1 1.1-1.1-2.2-1.2z"/>
<path color="#ffa500" d="M461.8 265.4l2.2 1.2 1.1-1.2-2.1-1.1z"/>
<path color="#ffaf00" d="M460.7 270.1l2.2 1.3 1.1-1.2-2.2-1.3z"/>
<path color="#ffaf00" d="M461.8 268.9l2.2 1.3 1.1-1.2-2.2-1.3z"/>
<path color="#ffb000" d="M462.9 267.7l2.2 1.3 1.1-1.1-2.2-1.3z"/>
<path color="#ffb000" d="M464 266.6l2.2 1.3 1.1-1.2-2.2-1.3z"/>
<path color="#ffb600" d="M462.9 271.4l2.2 1.3 1.1-1.1-2.2-1.4z"/>
<path color="#ffb600" d="M464 270.2l2.2 1.4 1.1-1.2-2.2-1.4z"/>
<path color="#ffb600" d="M465.1 269l2.2 1.4 1.1-1.2-2.2-1.3z"/>
<path color="#ffb700" d="M466.2 267.9l2.2 1.3 1.1-1.1-2.2-1.4z"/>
<path class="m" d="M456.3 267.9l4.4 2.2 4.4 2.6 2.2-2.3 2.2-2.3-4.4-2.7-4.3-2.1-2.3 2.3z"/>
<path color="#b15102" d="M420.7 278.7l4.3-1.3 2.4-2.4-4.2 1.4z"/>
<path color="#b15102" d="M423.2 276.4l4.2-1.4 2.5-2.3-4.3 1.4z"/>
<path color="#bb5601" d="M425 277.4l4.3-.9 2.4-2.4-4.3 .9z"/>
<path color="#bb5601" d="M427.4 275l4.3-.9 2.4-2.3-4.2 .9z"/>
<path class="m" d="M420.7 278.7l4.3-1.3 4.3-.9 2.4-2.4 2.4-2.3-4.2 .9-4.3 1.4-2.4 2.3z"/>
<path color="#9b4503" d="M342.8 336.5l7.3-4.2 6.1-5.6-7.3 4.1z"/>
<path class="m" d="M342.8 336.5l3.6-2.1 3.7-2.1 3.1-2.8 3-2.8-3.7 2.1-3.6 2-3 2.8z"/>
<path color="#ffd202" d="M482.7 286.7l8.6 9.6 4-4.8-8.5-9.6z"/>
<path class="m" d="M482.7 286.7l4.3 4.6 4.3 5 2-2.4 2-2.4-4.2-5-4.3-4.6-2.1 2.4z"/>
<path color="#ffbe00" d="M465.1 272.7l4.4 2.9 2.2-2.3-4.4-2.9z"/>
<path color="#ffbe00" d="M467.3 270.4l4.4 2.9 2.1-2.3-4.3-2.9z"/>
<path color="#ffc700" d="M469.5 275.6l4.4 3.3 2.1-2.4-4.3-3.2z"/>
<path color="#ffc700" d="M471.7 273.3l4.3 3.2 2.2-2.3-4.4-3.2z"/>
<path class="m" d="M465.1 272.7l4.4 2.9 4.4 3.3 2.1-2.4 2.2-2.3-4.4-3.2-4.3-2.9-2.2 2.3z"/>
<path color="#ffce01" d="M473.9 278.9l8.8 7.8 4.1-4.8-8.6-7.7z"/>
<path class="m" d="M473.9 278.9l4.4 3.6 4.4 4.2 2-2.4 2.1-2.4-4.3-4.1-4.3-3.6-2.2 2.3z"/>
<path color="#964203" d="M375.3 311.1l7.7-4.8 5.6-5.1-7.8 4.7z"/>
<path class="m" d="M375.3 311.1l3.8-2.5 3.9-2.3 2.8-2.6 2.8-2.5-3.9 2.3-3.9 2.4-2.7 2.6z"/>
<path color="#ffd503" d="M495.8 312l8.5 11.5 3.9-5.3-8.4-11.4z"/>
<path class="m" d="M495.8 312l4.3 5.6 4.2 5.9 1.9-2.6 2-2.7-4.2-5.8-4.2-5.6-2 2.6z"/>
<path color="#de6900" d="M442.8 271.1l2.2 0 1.2-1.1-2.2-.1z"/>
<path color="#dd6900" d="M444 269.9l2.2 .1 1.2-1.2-2.2-.1z"/>
<path color="#dd6900" d="M445.2 268.7l2.2 .1 1.2-1.2-2.2 0z"/>
<path color="#dd6900" d="M446.4 267.6l2.2 0 1.1-1.1-2.2-.1z"/>
<path color="#e97200" d="M445 271.1l2.2 .3 1.2-1.2-2.2-.2z"/>
<path color="#e97200" d="M446.2 270l2.2 .2 1.2-1.2-2.2-.2z"/>
<path color="#e97100" d="M447.4 268.8l2.2 .2 1.1-1.1-2.1-.3z"/>
<path color="#e87100" d="M448.6 267.6l2.1 .3 1.2-1.2-2.2-.2z"/>
<path color="#f57e00" d="M447.2 271.4l2.3 .5 1.1-1.2-2.2-.5z"/>
<path color="#f57e00" d="M448.4 270.2l2.2 .5 1.2-1.2-2.2-.5z"/>
<path color="#f47e00" d="M449.6 269l2.2 .5 1.1-1.2-2.2-.4z"/>
<path color="#f47e00" d="M450.7 267.9l2.2 .4 1.2-1.1-2.2-.5z"/>
<path color="#fd8c00" d="M449.5 271.9l2.2 .8 1.1-1.2-2.2-.8z"/>
<path color="#fc8b00" d="M450.6 270.7l2.2 .8 1.2-1.2-2.2-.8z"/>
<path color="#fc8b00" d="M451.8 269.5l2.2 .8 1.2-1.2-2.3-.8z"/>
<path color="#fc8b00" d="M452.9 268.3l2.3 .8 1.1-1.2-2.2-.7z"/>
<path class="m" d="M442.8 271.1l4.4 .3 4.5 1.3 2.3-2.4 2.3-2.4-4.4-1.2-4.4-.3-2.3 2.3z"/>
<path color="#964203" d="M356.2 326.7l3.7-2.4 2.9-2.7-3.7 2.3z"/>
<path color="#974303" d="M359.1 323.9l3.7-2.3 3-2.7-3.8 2.3z"/>
<path color="#924003" d="M359.9 324.3l3.8-2.4 2.9-2.8-3.8 2.5z"/>
<path color="#934003" d="M362.8 321.6l3.8-2.5 2.9-2.7-3.7 2.5z"/>
<path class="m" d="M356.2 326.7l3.7-2.4 3.8-2.4 2.9-2.8 2.9-2.7-3.7 2.5-3.8 2.3-2.9 2.7z"/>
<path color="#9d4603" d="M388.6 301.2l8.1-4.3 5.4-5-8.1 4.3z"/>
<path class="m" d="M388.6 301.2l4-2.2 4.1-2.1 2.7-2.5 2.7-2.5-4.1 2.1-4 2.2-2.7 2.4z"/>
<path color="#ffd604" d="M500.3 329l8.4 13.1 3.9-5.6-8.3-13z"/>
<path class="m" d="M500.3 329l4.2 6.5 4.2 6.6 2-2.8 1.9-2.8-4.2-6.6-4.1-6.4-2 2.8z"/>
<path color="#ffd403" d="M487.1 301.3l8.7 10.7 4-5.2-8.5-10.5z"/>
<path class="m" d="M487.1 301.3l4.4 5.3 4.3 5.4 2-2.6 2-2.6-4.3-5.3-4.2-5.2-2.1 2.5z"/>
<path color="#9b4503" d="M336.6 342.3l7.3-4.2 6.2-5.8-7.3 4.2z"/>
<path class="m" d="M336.6 342.3l3.7-2.1 3.6-2.1 3.1-2.9 3.1-2.9-3.7 2.1-3.6 2.1-3 2.8z"/>
<path color="#c35a01" d="M429.3 276.5l2.1-.3 1.3-1.2-2.2 .3z"/>
<path color="#c35a01" d="M430.5 275.3l2.2-.3 1.2-1.2-2.2 .3z"/>
<path color="#c35a01" d="M431.7 274.1l2.2-.3 1.2-1.2-2.2 .4z"/>
<path color="#c35901" d="M432.9 273l2.2-.4 1.2-1.1-2.2 .3z"/>
<path color="#c95d01" d="M431.4 276.2l2.2-.2 1.2-1.2-2.1 .2z"/>
<path color="#c95d01" d="M432.7 275l2.1-.2 1.3-1.2-2.2 .2z"/>
<path color="#c85c01" d="M433.9 273.8l2.2-.2 1.2-1.2-2.2 .2z"/>
<path color="#c85c01" d="M435.1 272.6l2.2-.2 1.2-1.2-2.2 .3z"/>
<path color="#cf6001" d="M433.6 276l2.2-.1 1.2-1.2-2.2 .1z"/>
<path color="#ce6001" d="M434.8 274.8l2.2-.1 1.2-1.2-2.1 .1z"/>
<path color="#ce6001" d="M436.1 273.6l2.1-.1 1.2-1.2-2.1 .1z"/>
<path color="#ce6001" d="M437.3 272.4l2.1-.1 1.2-1.2-2.1 .1z"/>
<path color="#d56400" d="M435.8 275.9l2.2-.1 1.2-1.2-2.2 .1z"/>
<path color="#d56400" d="M437 274.7l2.2-.1 1.2-1.2-2.2 .1z"/>
<path color="#d56400" d="M438.2 273.5l2.2-.1 1.2-1.2-2.2 .1z"/>
<path color="#d56400" d="M439.4 272.3l2.2-.1 1.2-1.1-2.2 0z"/>
<path class="m" d="M429.3 276.5l4.3-.5 4.4-.2 2.4-2.4 2.4-2.3-4.3 .1-4.4 .6-2.4 2.3z"/>
<path color="#a34902" d="M402.1 291.9l4.1-1.9 2.7-2.4-4.2 1.9z"/>
<path color="#a34902" d="M404.7 289.5l4.2-1.9 2.6-2.4-4.2 1.9z"/>
<path color="#a94c02" d="M406.2 290l4.2-1.6 2.7-2.5-4.2 1.7z"/>
<path color="#a94c02" d="M408.9 287.6l4.2-1.7 2.5-2.4-4.1 1.7z"/>
<path class="m" d="M402.1 291.9l4.1-1.9 4.2-1.6 2.7-2.5 2.5-2.4-4.1 1.7-4.2 1.9-2.6 2.4z"/>
<path color="#ff9700" d="M451.7 272.7l2.2 .9 1.2-1.2-2.3-.9z"/>
<path color="#ff9700" d="M452.8 271.5l2.3 .9 1.1-1.1-2.2-1z"/>
<path color="#ff9700" d="M454 270.3l2.2 1 1.2-1.2-2.2-1z"/>
<path color="#ff9800" d="M455.2 269.1l2.2 1 1.1-1.2-2.2-1z"/>
<path color="#ffa300" d="M453.9 273.6l2.2 1.2 1.2-1.2-2.2-1.2z"/>
<path color="#ffa300" d="M455.1 272.4l2.2 1.2 1.1-1.2-2.2-1.1z"/>
<path color="#ffa400" d="M456.2 271.3l2.2 1.1 1.2-1.1-2.2-1.2z"/>
<path color="#ffa400" d="M457.4 270.1l2.2 1.2 1.1-1.2-2.2-1.2z"/>
<path color="#ffad00" d="M456.1 274.8l2.3 1.3 1.1-1.2-2.2-1.3z"/>
<path color="#ffae00" d="M457.3 273.6l2.2 1.3 1.1-1.2-2.2-1.3z"/>
<path color="#ffae00" d="M458.4 272.4l2.2 1.3 1.2-1.1-2.2-1.3z"/>
<path color="#ffae00" d="M459.6 271.3l2.2 1.3 1.1-1.2-2.2-1.3z"/>
<path color="#ffb400" d="M458.4 276.1l2.2 1.4 1.1-1.2-2.2-1.4z"/>
<path color="#ffb400" d="M459.5 274.9l2.2 1.4 1.2-1.2-2.3-1.4z"/>
<path color="#ffb500" d="M460.6 273.7l2.3 1.4 1.1-1.2-2.2-1.3z"/>
<path color="#ffb500" d="M461.8 272.6l2.2 1.3 1.1-1.2-2.2-1.3z"/>
<path class="m" d="M451.7 272.7l4.4 2.1 4.5 2.7 2.3-2.4 2.2-2.4-4.4-2.6-4.4-2.2-2.3 2.4z"/>
<path color="#b15102" d="M415.6 283.5l4.3-1.3 2.5-2.4-4.2 1.3z"/>
<path color="#b15102" d="M418.2 281.1l4.2-1.3 2.6-2.4-4.3 1.3z"/>
<path color="#bc5601" d="M419.9 282.2l4.3-.9 2.6-2.4-4.4 .9z"/>
<path color="#bc5601" d="M422.4 279.8l4.4-.9 2.5-2.4-4.3 .9z"/>
<path class="m" d="M415.6 283.5l4.3-1.3 4.3-.9 2.6-2.4 2.5-2.4-4.3 .9-4.3 1.3-2.5 2.4z"/>
<path color="#ffd202" d="M478.4 291.5l8.7 9.8 4.2-5-8.6-9.6z"/>
<path class="m" d="M478.4 291.5l4.4 4.7 4.3 5.1 2.1-2.5 2.1-2.5-4.3-5-4.3-4.6-2.2 2.4z"/>
<path color="#934103" d="M369.5 316.4l3.9-2.5 2.9-2.6-3.9 2.4z"/>
<path color="#944103" d="M372.4 313.7l3.9-2.4 2.8-2.7-3.8 2.5z"/>
<path color="#974203" d="M373.4 313.9l3.9-2.3 2.9-2.7-3.9 2.4z"/>
<path color="#974303" d="M376.3 311.3l3.9-2.4 2.8-2.6-3.9 2.3z"/>
<path class="m" d="M369.5 316.4l3.9-2.5 3.9-2.3 2.9-2.7 2.8-2.6-3.9 2.3-3.8 2.5-2.9 2.6z"/>
<path color="#ffbc00" d="M460.6 277.5l4.5 2.9 2.2-2.4-4.4-2.9z"/>
<path color="#ffbd00" d="M462.9 275.1l4.4 2.9 2.2-2.4-4.4-2.9z"/>
<path color="#ffc600" d="M465.1 280.4l4.4 3.3 2.2-2.5-4.4-3.2z"/>
<path color="#ffc700" d="M467.3 278l4.4 3.2 2.2-2.3-4.4-3.3z"/>
<path class="m" d="M460.6 277.5l4.5 2.9 4.4 3.3 2.2-2.5 2.2-2.3-4.4-3.3-4.4-2.9-2.2 2.4z"/>
<path color="#ffcd01" d="M469.5 283.7l8.9 7.8 4.3-4.8-8.8-7.8z"/>
<path class="m" d="M469.5 283.7l4.5 3.6 4.4 4.2 2.1-2.4 2.2-2.4-4.4-4.2-4.4-3.6-2.2 2.3z"/>
<path color="#ffd504" d="M491.7 317.3l8.6 11.7 4-5.5-8.5-11.5z"/>
<path class="m" d="M491.7 317.3l4.3 5.7 4.3 6 2-2.7 2-2.8-4.2-5.9-4.3-5.6-2 2.6z"/>
<path color="#964203" d="M350.1 332.3l3.7-2.3 3.1-2.9-3.7 2.4z"/>
<path color="#964203" d="M353.2 329.5l3.7-2.4 3-2.8-3.7 2.4z"/>
<path color="#913f03" d="M353.8 330l3.8-2.5 3.1-2.9-3.8 2.5z"/>
<path color="#914003" d="M356.9 327.1l3.8-2.5 3-2.7-3.8 2.4z"/>
<path class="m" d="M350.1 332.3l3.7-2.3 3.8-2.5 3.1-2.9 3-2.7-3.8 2.4-3.7 2.4-3 2.8z"/>
<path color="#de6a00" d="M438 275.8l2.2 .1 1.3-1.2-2.3-.1z"/>
<path color="#de6a00" d="M439.2 274.6l2.3 .1 1.2-1.2-2.3-.1z"/>
<path color="#de6900" d="M440.4 273.4l2.3 .1 1.1-1.2-2.2-.1z"/>
<path color="#de6900" d="M441.6 272.2l2.2 .1 1.2-1.2-2.2 0z"/>
<path color="#e97200" d="M440.2 275.9l2.3 .3 1.2-1.2-2.2-.3z"/>
<path color="#e97200" d="M441.5 274.7l2.2 .3 1.2-1.2-2.2-.3z"/>
<path color="#e97200" d="M442.7 273.5l2.2 .3 1.2-1.2-2.3-.3z"/>
<path color="#e97200" d="M443.8 272.3l2.3 .3 1.1-1.2-2.2-.3z"/>
<path color="#f57e00" d="M442.5 276.2l2.2 .5 1.2-1.2-2.2-.5z"/>
<path color="#f57e00" d="M443.7 275l2.2 .5 1.2-1.2-2.2-.5z"/>
<path color="#f57e00" d="M444.9 273.8l2.2 .5 1.2-1.2-2.2-.5z"/>
<path color="#f57f00" d="M446.1 272.6l2.2 .5 1.2-1.2-2.3-.5z"/>
<path color="#fc8c00" d="M444.7 276.7l2.3 .8 1.1-1.2-2.2-.8z"/>
<path color="#fd8c00" d="M445.9 275.5l2.2 .8 1.2-1.2-2.2-.8z"/>
<path color="#fd8c00" d="M447.1 274.3l2.2 .8 1.2-1.2-2.2-.8z"/>
<path color="#fd8c00" d="M448.3 273.1l2.2 .8 1.2-1.2-2.2-.8z"/>
<path class="m" d="M438 275.8l4.5 .4 4.5 1.3 2.3-2.4 2.4-2.4-4.5-1.3-4.4-.3-2.4 2.3z"/>
<path color="#9d4603" d="M383 306.3l8.1-4.3 5.6-5.1-8.1 4.3z"/>
<path class="m" d="M383 306.3l4.1-2.2 4-2.1 2.8-2.6 2.8-2.5-4.1 2.1-4 2.2-2.8 2.5z"/>
<path color="#ffd604" d="M496.2 334.7l8.6 13.2 3.9-5.8-8.4-13.1z"/>
<path class="m" d="M496.2 334.7l4.3 6.5 4.3 6.7 2-2.9 1.9-2.9-4.2-6.6-4.2-6.5-2 2.8z"/>
<path color="#ffd403" d="M482.9 306.4l8.8 10.9 4.1-5.3-8.7-10.7z"/>
<path class="m" d="M482.9 306.4l4.4 5.4 4.4 5.5 2.1-2.7 2-2.6-4.3-5.4-4.4-5.3-2.1 2.5z"/>
<path color="#a34902" d="M396.7 296.9l4.1-1.9 2.7-2.5-4.1 1.9z"/>
<path color="#a34902" d="M399.4 294.4l4.1-1.9 2.7-2.5-4.1 1.9z"/>
<path color="#a94d02" d="M400.8 295l4.3-1.6 2.7-2.6-4.3 1.7z"/>
<path color="#a94d02" d="M403.5 292.5l4.3-1.7 2.6-2.4-4.2 1.6z"/>
<path class="m" d="M396.7 296.9l4.1-1.9 4.3-1.6 2.7-2.6 2.6-2.4-4.2 1.6-4.1 1.9-2.7 2.5z"/>
<path color="#c45a01" d="M424.2 281.3l2.2-.3 1.3-1.2-2.2 .3z"/>
<path color="#c45a01" d="M425.5 280.1l2.2-.3 1.2-1.2-2.1 .3z"/>
<path color="#c45a01" d="M426.8 278.9l2.1-.3 1.3-1.2-2.2 .3z"/>
<path color="#c45a01" d="M428 277.7l2.2-.3 1.2-1.2-2.1 .3z"/>
<path color="#ca5d01" d="M426.4 281l2.2-.2 1.3-1.2-2.2 .2z"/>
<path color="#ca5d01" d="M427.7 279.8l2.2-.2 1.2-1.2-2.2 .2z"/>
<path color="#c95d01" d="M428.9 278.6l2.2-.2 1.3-1.2-2.2 .2z"/>
<path color="#c95d01" d="M430.2 277.4l2.2-.2 1.2-1.2-2.2 .2z"/>
<path color="#d06101" d="M428.6 280.8l2.2-.1 1.3-1.2-2.2 .1z"/>
<path color="#d06101" d="M429.9 279.6l2.2-.1 1.2-1.2-2.2 .1z"/>
<path color="#cf6001" d="M431.1 278.4l2.2-.1 1.3-1.2-2.2 .1z"/>
<path color="#cf6001" d="M432.4 277.2l2.2-.1 1.2-1.2-2.2 .1z"/>
<path color="#d76500" d="M430.8 280.7l2.3 0 1.2-1.2-2.2 0z"/>
<path color="#d66500" d="M432.1 279.5l2.2 0 1.3-1.2-2.3 0z"/>
<path color="#d66400" d="M433.3 278.3l2.3 0 1.2-1.2-2.2 0z"/>
<path color="#d66400" d="M434.6 277.1l2.2 0 1.2-1.3-2.2 .1z"/>
<path class="m" d="M424.2 281.3l4.4-.5 4.5-.1 2.5-2.4 2.4-2.5-4.4 .2-4.3 .5-2.5 2.4z"/>
<path color="#b25102" d="M410.4 288.4l4.3-1.3 2.6-2.5-4.2 1.3z"/>
<path color="#b25102" d="M413.1 285.9l4.2-1.3 2.6-2.4-4.3 1.3z"/>
<path color="#bc5601" d="M414.7 287.1l4.4-.9 2.6-2.5-4.4 .9z"/>
<path color="#bc5601" d="M417.3 284.6l4.4-.9 2.5-2.4-4.3 .9z"/>
<path class="m" d="M410.4 288.4l4.3-1.3 4.4-.9 2.6-2.5 2.5-2.4-4.3 .9-4.3 1.3-2.5 2.4z"/>
<path color="#ff9700" d="M447 277.5l2.2 1 1.2-1.2-2.3-1z"/>
<path color="#ff9700" d="M448.1 276.3l2.3 1 1.2-1.2-2.3-1z"/>
<path color="#ff9700" d="M449.3 275.1l2.3 1 1.1-1.2-2.2-1z"/>
<path color="#ff9700" d="M450.5 273.9l2.2 1 1.2-1.3-2.2-.9z"/>
<path color="#ffa300" d="M449.2 278.5l2.3 1.2 1.1-1.2-2.2-1.2z"/>
<path color="#ffa300" d="M450.4 277.3l2.2 1.2 1.2-1.2-2.2-1.2z"/>
<path color="#ffa300" d="M451.6 276.1l2.2 1.2 1.2-1.3-2.3-1.1z"/>
<path color="#ffa300" d="M452.7 274.9l2.3 1.1 1.1-1.2-2.2-1.2z"/>
<path color="#ffac00" d="M451.5 279.7l2.2 1.3 1.2-1.2-2.3-1.3z"/>
<path color="#ffac00" d="M452.6 278.5l2.3 1.3 1.2-1.2-2.3-1.3z"/>
<path color="#ffad00" d="M453.8 277.3l2.3 1.3 1.1-1.2-2.2-1.4z"/>
<path color="#ffad00" d="M455 276l2.2 1.4 1.2-1.3-2.3-1.3z"/>
<path color="#ffb200" d="M453.7 281l2.3 1.4 1.1-1.2-2.2-1.4z"/>
<path color="#ffb300" d="M454.9 279.8l2.2 1.4 1.2-1.3-2.2-1.3z"/>
<path color="#ffb300" d="M456.1 278.6l2.2 1.3 1.1-1.2-2.2-1.3z"/>
<path color="#ffb400" d="M457.2 277.4l2.2 1.3 1.2-1.2-2.2-1.4z"/>
<path class="m" d="M447 277.5l4.5 2.2 4.5 2.7 2.3-2.5 2.3-2.4-4.5-2.7-4.4-2.1-2.4 2.4z"/>
<path color="#924003" d="M363.7 321.9l3.8-2.5 3-2.8-3.9 2.5z"/>
<path color="#934003" d="M366.6 319.1l3.9-2.5 2.9-2.7-3.9 2.5z"/>
<path color="#964203" d="M367.5 319.4l3.9-2.4 3-2.7-3.9 2.3z"/>
<path color="#964203" d="M370.5 316.6l3.9-2.3 2.9-2.7-3.9 2.3z"/>
<path class="m" d="M363.7 321.9l3.8-2.5 3.9-2.4 3-2.7 2.9-2.7-3.9 2.3-3.9 2.5-2.9 2.7z"/>
<path color="#ffd202" d="M474 296.5l8.9 9.9 4.2-5.1-8.7-9.8z"/>
<path class="m" d="M474 296.5l4.5 4.8 4.4 5.1 2.1-2.6 2.1-2.5-4.3-5.1-4.4-4.7-2.2 2.5z"/>
<path color="#ffb700" d="M456 282.4l2.2 1.4 1.2-1.2-2.3-1.4z"/>
<path color="#ffb800" d="M457.1 281.2l2.3 1.4 1.1-1.2-2.2-1.5z"/>
<path color="#ffb800" d="M458.3 279.9l2.2 1.5 1.2-1.3-2.3-1.4z"/>
<path color="#ffb900" d="M459.4 278.7l2.3 1.4 1.1-1.2-2.2-1.4z"/>
<path color="#ffbd00" d="M458.2 283.8l2.3 1.5 1.1-1.2-2.2-1.5z"/>
<path color="#ffbe00" d="M459.4 282.6l2.2 1.5 1.2-1.3-2.3-1.4z"/>
<path color="#ffbe00" d="M460.5 281.4l2.3 1.4 1.1-1.2-2.2-1.5z"/>
<path color="#ffbf00" d="M461.7 280.1l2.2 1.5 1.2-1.2-2.3-1.5z"/>
<path color="#ffc400" d="M460.5 285.3l2.2 1.6 1.2-1.2-2.3-1.6z"/>
<path color="#ffc400" d="M461.6 284.1l2.3 1.6 1.1-1.3-2.2-1.6z"/>
<path color="#ffc400" d="M462.8 282.8l2.2 1.6 1.2-1.2-2.3-1.6z"/>
<path color="#ffc400" d="M463.9 281.6l2.3 1.6 1.1-1.2-2.2-1.6z"/>
<path color="#ffc801" d="M462.7 286.9l2.3 1.7 1.1-1.3-2.2-1.6z"/>
<path color="#ffc801" d="M463.9 285.7l2.2 1.6 1.2-1.2-2.3-1.7z"/>
<path color="#ffc801" d="M465 284.4l2.3 1.7 1.1-1.2-2.2-1.7z"/>
<path color="#ffc801" d="M466.2 283.2l2.2 1.7 1.1-1.2-2.2-1.7z"/>
<path class="m" d="M456 282.4l4.5 2.9 4.5 3.3 2.3-2.5 2.2-2.4-4.4-3.3-4.5-2.9-2.3 2.4z"/>
<path color="#ffcd01" d="M465 288.6l9 7.9 4.4-5-8.9-7.8z"/>
<path class="m" d="M465 288.6l4.5 3.7 4.5 4.2 2.2-2.5 2.2-2.5-4.4-4.2-4.5-3.6-2.2 2.4z"/>
<path color="#954103" d="M343.9 338.1l3.7-2.4 3.2-2.9-3.8 2.4z"/>
<path color="#954203" d="M347 335.2l3.8-2.4 3-2.8-3.7 2.3z"/>
<path color="#903f03" d="M347.6 335.7l3.8-2.5 3.1-2.9-3.7 2.5z"/>
<path color="#903f03" d="M350.8 332.8l3.7-2.5 3.1-2.8-3.8 2.5z"/>
<path class="m" d="M343.9 338.1l3.7-2.4 3.8-2.5 3.1-2.9 3.1-2.8-3.8 2.5-3.7 2.3-3.1 2.9z"/>
<path color="#ffd504" d="M487.5 322.7l8.7 12 4.1-5.7-8.6-11.7z"/>
<path class="m" d="M487.5 322.7l4.4 5.9 4.3 6.1 2.1-2.9 2-2.8-4.3-6-4.3-5.7-2.1 2.7z"/>
<path color="#9c4503" d="M377.3 311.6l8.1-4.3 5.7-5.3-8.1 4.3z"/>
<path class="m" d="M377.3 311.6l4-2.2 4.1-2.1 2.9-2.7 2.8-2.6-4 2.1-4.1 2.2-2.8 2.6z"/>
<path color="#df6a00" d="M433.1 280.7l2.2 .2 1.3-1.3-2.3-.1z"/>
<path color="#df6a00" d="M434.3 279.5l2.3 .1 1.2-1.2-2.2-.1z"/>
<path color="#de6a00" d="M435.6 278.3l2.2 .1 1.2-1.2-2.2-.1z"/>
<path color="#de6a00" d="M436.8 277.1l2.2 .1 1.2-1.3-2.2-.1z"/>
<path color="#ea7200" d="M435.3 280.9l2.3 .3 1.2-1.3-2.2-.3z"/>
<path color="#e97200" d="M436.6 279.6l2.2 .3 1.2-1.2-2.2-.3z"/>
<path color="#e97200" d="M437.8 278.4l2.2 .3 1.3-1.2-2.3-.3z"/>
<path color="#e97200" d="M439 277.2l2.3 .3 1.2-1.3-2.3-.3z"/>
<path color="#f57e00" d="M437.6 281.2l2.2 .5 1.3-1.2-2.3-.6z"/>
<path color="#f57e00" d="M438.8 279.9l2.3 .6 1.2-1.3-2.3-.5z"/>
<path color="#f57e00" d="M440 278.7l2.3 .5 1.2-1.2-2.2-.5z"/>
<path color="#f57e00" d="M441.3 277.5l2.2 .5 1.2-1.3-2.2-.5z"/>
<path color="#fc8b00" d="M439.8 281.7l2.3 .8 1.2-1.2-2.2-.8z"/>
<path color="#fc8b00" d="M441.1 280.5l2.2 .8 1.2-1.3-2.2-.8z"/>
<path color="#fc8b00" d="M442.3 279.2l2.2 .8 1.3-1.2-2.3-.8z"/>
<path color="#fc8c00" d="M443.5 278l2.3 .8 1.2-1.3-2.3-.8z"/>
<path class="m" d="M433.1 280.7l4.5 .5 4.5 1.3 2.4-2.5 2.5-2.5-4.5-1.3-4.5-.4-2.4 2.5z"/>
<path color="#ffd604" d="M492 340.5l8.7 13.4 4.1-6-8.6-13.2z"/>
<path class="m" d="M492 340.5l4.4 6.6 4.3 6.8 2.1-3 2-3-4.3-6.7-4.3-6.5-2 2.9z"/>
<path color="#a34902" d="M391.1 302l4.2-1.9 2.8-2.5-4.2 1.8z"/>
<path color="#a34902" d="M393.9 299.4l4.2-1.8 2.7-2.6-4.1 1.9z"/>
<path color="#a94d02" d="M395.3 300.1l4.3-1.6 2.7-2.6-4.2 1.7z"/>
<path color="#a94d02" d="M398.1 297.6l4.2-1.7 2.8-2.5-4.3 1.6z"/>
<path class="m" d="M391.1 302l4.2-1.9 4.3-1.6 2.7-2.6 2.8-2.5-4.3 1.6-4.1 1.9-2.8 2.5z"/>
<path color="#c55a01" d="M419.1 286.2l2.2-.2 1.3-1.3-2.2 .3z"/>
<path color="#c55a01" d="M420.4 285l2.2-.3 1.3-1.2-2.2 .2z"/>
<path color="#c45a01" d="M421.7 283.7l2.2-.2 1.2-1.3-2.1 .3z"/>
<path color="#c45a01" d="M423 282.5l2.1-.3 1.3-1.2-2.2 .3z"/>
<path color="#cb5e01" d="M421.3 286l2.2-.2 1.3-1.2-2.2 .1z"/>
<path color="#ca5e01" d="M422.6 284.7l2.2-.1 1.3-1.3-2.2 .2z"/>
<path color="#ca5d01" d="M423.9 283.5l2.2-.2 1.3-1.2-2.3 .1z"/>
<path color="#ca5d01" d="M425.1 282.2l2.3-.1 1.2-1.3-2.2 .2z"/>
<path color="#d16101" d="M423.5 285.8l2.2 0 1.3-1.3-2.2 .1z"/>
<path color="#d06101" d="M424.8 284.6l2.2-.1 1.3-1.3-2.2 .1z"/>
<path color="#d06101" d="M426.1 283.3l2.2-.1 1.3-1.2-2.2 .1z"/>
<path color="#d06101" d="M427.4 282.1l2.2-.1 1.2-1.3-2.2 .1z"/>
<path color="#d86500" d="M425.7 285.8l2.3 0 1.3-1.3-2.3 0z"/>
<path color="#d76500" d="M427 284.5l2.3 0 1.2-1.2-2.2-.1z"/>
<path color="#d76500" d="M428.3 283.2l2.2 .1 1.3-1.3-2.2 0z"/>
<path color="#d76500" d="M429.6 282l2.2 0 1.3-1.3-2.3 0z"/>
<path class="m" d="M419.1 286.2l4.4-.4 4.5 0 2.5-2.5 2.6-2.6-4.5 .1-4.4 .5-2.5 2.4z"/>
<path color="#ffd403" d="M478.5 311.7l9 11 4.2-5.4-8.8-10.9z"/>
<path class="m" d="M478.5 311.7l4.5 5.4 4.5 5.6 2.1-2.7 2.1-2.7-4.4-5.5-4.4-5.4-2.2 2.6z"/>
<path color="#913f03" d="M357.6 327.5l3.9-2.5 3-2.9-3.8 2.5z"/>
<path color="#914003" d="M360.7 324.6l3.8-2.5 3-2.7-3.8 2.5z"/>
<path color="#954203" d="M361.5 325l3.9-2.4 3-2.8-3.9 2.3z"/>
<path color="#964203" d="M364.5 322.1l3.9-2.3 3-2.8-3.9 2.4z"/>
<path class="m" d="M357.6 327.5l3.9-2.5 3.9-2.4 3-2.8 3-2.8-3.9 2.4-3.8 2.5-3 2.7z"/>
<path color="#b25102" d="M405.1 293.4l4.3-1.3 2.7-2.5-4.3 1.2z"/>
<path color="#b25102" d="M407.8 290.8l4.3-1.2 2.6-2.5-4.3 1.3z"/>
<path color="#bd5601" d="M409.4 292.1l4.4-.8 2.6-2.5-4.3 .8z"/>
<path color="#bd5601" d="M412.1 289.6l4.3-.8 2.7-2.6-4.4 .9z"/>
<path class="m" d="M405.1 293.4l4.3-1.3 4.4-.8 2.6-2.5 2.7-2.6-4.4 .9-4.3 1.3-2.6 2.4z"/>
<path color="#ff9700" d="M442.1 282.5l2.3 1 1.2-1.2-2.3-1z"/>
<path color="#ff9700" d="M443.3 281.3l2.3 1 1.2-1.3-2.3-1z"/>
<path color="#ff9700" d="M444.5 280l2.3 1 1.2-1.2-2.2-1z"/>
<path color="#ff9700" d="M445.8 278.8l2.2 1 1.2-1.3-2.2-1z"/>
<path color="#ffa100" d="M444.4 283.5l2.2 1.2 1.3-1.2-2.3-1.2z"/>
<path color="#ffa200" d="M445.6 282.3l2.3 1.2 1.2-1.3-2.3-1.2z"/>
<path color="#ffa200" d="M446.8 281l2.3 1.2 1.2-1.2-2.3-1.2z"/>
<path color="#ffa200" d="M448 279.8l2.3 1.2 1.2-1.3-2.3-1.2z"/>
<path color="#ffaa00" d="M446.6 284.7l2.3 1.4 1.2-1.3-2.2-1.3z"/>
<path color="#ffab00" d="M447.9 283.5l2.2 1.3 1.2-1.3-2.2-1.3z"/>
<path color="#ffab00" d="M449.1 282.2l2.2 1.3 1.2-1.2-2.2-1.3z"/>
<path color="#ffac00" d="M450.3 281l2.2 1.3 1.2-1.3-2.2-1.3z"/>
<path color="#ffb100" d="M448.9 286.1l2.3 1.3 1.2-1.2-2.3-1.4z"/>
<path color="#ffb100" d="M450.1 284.8l2.3 1.4 1.2-1.3-2.3-1.4z"/>
<path color="#ffb200" d="M451.3 283.5l2.3 1.4 1.2-1.2-2.3-1.4z"/>
<path color="#ffb200" d="M452.5 282.3l2.3 1.4 1.2-1.3-2.3-1.4z"/>
<path class="m" d="M442.1 282.5l4.5 2.2 4.6 2.7 2.4-2.5 2.4-2.5-4.5-2.7-4.5-2.2-2.5 2.5z"/>
<path color="#ffd202" d="M469.5 301.7l9 10 4.4-5.3-8.9-9.9z"/>
<path class="m" d="M469.5 301.7l4.5 4.7 4.5 5.3 2.2-2.7 2.2-2.6-4.4-5.1-4.5-4.8-2.2 2.6z"/>
<path color="#ffb600" d="M451.2 287.4l2.3 1.5 1.2-1.3-2.3-1.4z"/>
<path color="#ffb600" d="M452.4 286.2l2.3 1.4 1.2-1.3-2.3-1.4z"/>
<path color="#ffb700" d="M453.6 284.9l2.3 1.4 1.2-1.2-2.3-1.4z"/>
<path color="#ffb700" d="M454.8 283.7l2.3 1.4 1.1-1.3-2.2-1.4z"/>
<path color="#ffbc00" d="M453.5 288.9l2.3 1.5 1.2-1.3-2.3-1.5z"/>
<path color="#ffbd00" d="M454.7 287.6l2.3 1.5 1.2-1.3-2.3-1.5z"/>
<path color="#ffbd00" d="M455.9 286.3l2.3 1.5 1.1-1.2-2.2-1.5z"/>
<path color="#ffbd00" d="M457.1 285.1l2.2 1.5 1.2-1.3-2.3-1.5z"/>
<path color="#ffc300" d="M455.8 290.4l2.3 1.6 1.2-1.3-2.3-1.6z"/>
<path color="#ffc300" d="M457 289.1l2.3 1.6 1.1-1.3-2.2-1.6z"/>
<path color="#ffc300" d="M458.2 287.8l2.2 1.6 1.2-1.3-2.3-1.5z"/>
<path color="#ffc300" d="M459.3 286.6l2.3 1.5 1.1-1.2-2.2-1.6z"/>
<path color="#ffc801" d="M458.1 292l2.3 1.7 1.1-1.3-2.2-1.7z"/>
<path color="#ffc801" d="M459.3 290.7l2.2 1.7 1.2-1.3-2.3-1.7z"/>
<path color="#ffc801" d="M460.4 289.4l2.3 1.7 1.2-1.3-2.3-1.7z"/>
<path color="#ffc801" d="M461.6 288.1l2.3 1.7 1.1-1.2-2.3-1.7z"/>
<path class="m" d="M451.2 287.4l4.6 3 4.6 3.3 2.3-2.6 2.3-2.5-4.5-3.3-4.5-2.9-2.4 2.5z"/>
<path color="#ffcd01" d="M460.4 293.7l9.1 8 4.5-5.2-9-7.9z"/>
<path class="m" d="M460.4 293.7l4.5 3.7 4.6 4.3 2.3-2.6 2.2-2.6-4.5-4.2-4.5-3.7-2.3 2.5z"/>
<path color="#9a4403" d="M371.4 317l4.1-2.2 2.9-2.8-4 2.3z"/>
<path color="#9a4403" d="M374.4 314.3l4-2.3 2.9-2.6-4 2.2z"/>
<path color="#9e4603" d="M375.5 314.8l4.1-2.1 2.9-2.7-4.1 2z"/>
<path color="#9e4603" d="M378.4 312l4.1-2 2.9-2.7-4.1 2.1z"/>
<path class="m" d="M371.4 317l4.1-2.2 4.1-2.1 2.9-2.7 2.9-2.7-4.1 2.1-4 2.2-2.9 2.7z"/>
<path color="#ffd504" d="M483.1 328.3l8.9 12.2 4.2-5.8-8.7-12z"/>
<path class="m" d="M483.1 328.3l4.5 6 4.4 6.2 2.2-2.9 2-2.9-4.3-6.1-4.4-5.9-2.2 2.8z"/>
<path color="#e06b00" d="M428 285.8l2.2 .2 1.3-1.3-2.2-.2z"/>
<path color="#e06b00" d="M429.3 284.5l2.2 .2 1.3-1.3-2.3-.1z"/>
<path color="#e06b00" d="M430.5 283.3l2.3 .1 1.3-1.3-2.3-.1z"/>
<path color="#df6b00" d="M431.8 282l2.3 .1 1.2-1.2-2.2-.2z"/>
<path color="#ea7300" d="M430.2 286l2.3 .3 1.3-1.3-2.3-.3z"/>
<path color="#ea7300" d="M431.5 284.7l2.3 .3 1.3-1.3-2.3-.3z"/>
<path color="#ea7300" d="M432.8 283.4l2.3 .3 1.2-1.2-2.2-.4z"/>
<path color="#ea7300" d="M434.1 282.1l2.2 .4 1.3-1.3-2.3-.3z"/>
<path color="#f57f00" d="M432.5 286.3l2.3 .6 1.3-1.3-2.3-.6z"/>
<path color="#f57f00" d="M433.8 285l2.3 .6 1.2-1.3-2.2-.6z"/>
<path color="#f57f00" d="M435.1 283.7l2.2 .6 1.3-1.3-2.3-.5z"/>
<path color="#f57e00" d="M436.3 282.5l2.3 .5 1.2-1.3-2.2-.5z"/>
<path color="#fd8c00" d="M434.8 286.9l2.3 .8 1.3-1.3-2.3-.8z"/>
<path color="#fd8c00" d="M436.1 285.6l2.3 .8 1.2-1.3-2.3-.8z"/>
<path color="#fc8b00" d="M437.3 284.3l2.3 .8 1.3-1.3-2.3-.8z"/>
<path color="#fc8b00" d="M438.6 283l2.3 .8 1.2-1.3-2.3-.8z"/>
<path class="m" d="M428 285.8l4.5 .5 4.6 1.4 2.5-2.6 2.5-2.6-4.5-1.3-4.5-.5-2.6 2.6z"/>
<path color="#a34902" d="M385.4 307.3l4.2-1.9 2.9-2.6-4.2 1.8z"/>
<path color="#a34902" d="M388.3 304.6l4.2-1.8 2.8-2.7-4.2 1.9z"/>
<path color="#aa4d02" d="M389.6 305.4l4.3-1.6 2.8-2.6-4.2 1.6z"/>
<path color="#aa4d02" d="M392.5 302.8l4.2-1.6 2.9-2.7-4.3 1.6z"/>
<path class="m" d="M385.4 307.3l4.2-1.9 4.3-1.6 2.8-2.6 2.9-2.7-4.3 1.6-4.2 1.9-2.8 2.6z"/>
<path color="#ffd604" d="M487.7 346.5l8.9 13.5 4.1-6.1-8.7-13.4z"/>
<path class="m" d="M487.7 346.5l4.5 6.7 4.4 6.8 2.1-3.1 2-3-4.3-6.8-4.4-6.6-2.1 3z"/>
<path color="#903f03" d="M351.4 333.2l3.8-2.5 3.2-2.9-3.9 2.5z"/>
<path color="#903f03" d="M354.5 330.3l3.9-2.5 3.1-2.8-3.9 2.5z"/>
<path color="#954103" d="M355.2 330.7l4-2.4 3.1-2.9-3.9 2.4z"/>
<path color="#954203" d="M358.4 327.8l3.9-2.4 3.1-2.8-3.9 2.4z"/>
<path class="m" d="M351.4 333.2l3.8-2.5 4-2.4 3.1-2.9 3.1-2.8-3.9 2.4-3.9 2.5-3.1 2.8z"/>
<path color="#c65b01" d="M413.8 291.3l2.2-.2 1.3-1.3-2.2 .2z"/>
<path color="#c55b01" d="M415.1 290l2.2-.2 1.4-1.3-2.3 .3z"/>
<path color="#c55b01" d="M416.4 288.8l2.3-.3 1.3-1.2-2.2 .2z"/>
<path color="#c55b01" d="M417.8 287.5l2.2-.2 1.3-1.3-2.2 .2z"/>
<path color="#cb5e01" d="M416 291.1l2.2-.1 1.4-1.3-2.3 .1z"/>
<path color="#cb5e01" d="M417.3 289.8l2.3-.1 1.3-1.3-2.2 .1z"/>
<path color="#cb5e01" d="M418.7 288.5l2.2-.1 1.3-1.3-2.2 .2z"/>
<path color="#cb5e01" d="M420 287.3l2.2-.2 1.3-1.3-2.2 .2z"/>
<path color="#d16201" d="M418.2 291l2.3-.1 1.3-1.3-2.2 .1z"/>
<path color="#d16201" d="M419.6 289.7l2.2-.1 1.3-1.3-2.2 .1z"/>
<path color="#d16101" d="M420.9 288.4l2.2-.1 1.3-1.3-2.2 .1z"/>
<path color="#d16101" d="M422.2 287.1l2.2-.1 1.3-1.2-2.2 0z"/>
<path color="#d86600" d="M420.5 290.9l2.2 .1 1.4-1.3-2.3-.1z"/>
<path color="#d86600" d="M421.8 289.6l2.3 .1 1.3-1.3-2.3-.1z"/>
<path color="#d86500" d="M423.1 288.3l2.3 .1 1.3-1.3-2.3-.1z"/>
<path color="#d86500" d="M424.4 287l2.3 .1 1.3-1.3-2.3 0z"/>
<path class="m" d="M413.8 291.3l4.4-.3 4.5 0 2.7-2.6 2.6-2.6-4.5 0-4.4 .4-2.7 2.6z"/>
<path color="#b35102" d="M399.6 298.5l4.3-1.2 2.8-2.6-4.4 1.2z"/>
<path color="#b25102" d="M402.3 295.9l4.4-1.2 2.7-2.6-4.3 1.3z"/>
<path color="#bd5701" d="M403.9 297.3l4.4-.7 2.8-2.7-4.4 .8z"/>
<path color="#bd5701" d="M406.7 294.7l4.4-.8 2.7-2.6-4.4 .8z"/>
<path class="m" d="M399.6 298.5l4.3-1.2 4.4-.7 2.8-2.7 2.7-2.6-4.4 .8-4.3 1.3-2.8 2.5z"/>
<path color="#ffd403" d="M474.1 317.1l9 11.2 4.4-5.6-9-11z"/>
<path class="m" d="M474.1 317.1l4.5 5.5 4.5 5.7 2.2-2.8 2.2-2.8-4.5-5.6-4.5-5.4-2.2 2.6z"/>
<path color="#ff9600" d="M437.1 287.7l2.3 1 1.2-1.3-2.2-1z"/>
<path color="#ff9600" d="M438.4 286.4l2.2 1 1.3-1.3-2.3-1z"/>
<path color="#ff9600" d="M439.6 285.1l2.3 1 1.2-1.3-2.2-1z"/>
<path color="#ff9700" d="M440.9 283.8l2.2 1 1.3-1.3-2.3-1z"/>
<path color="#ffa000" d="M439.4 288.7l2.3 1.2 1.2-1.3-2.3-1.2z"/>
<path color="#ffa100" d="M440.6 287.4l2.3 1.2 1.3-1.3-2.3-1.2z"/>
<path color="#ffa100" d="M441.9 286.1l2.3 1.2 1.2-1.3-2.3-1.2z"/>
<path color="#ffa100" d="M443.1 284.8l2.3 1.2 1.2-1.3-2.2-1.2z"/>
<path color="#ffa900" d="M441.7 289.9l2.3 1.3 1.2-1.3-2.3-1.3z"/>
<path color="#ffa900" d="M442.9 288.6l2.3 1.3 1.3-1.3-2.3-1.3z"/>
<path color="#ffaa00" d="M444.2 287.3l2.3 1.3 1.2-1.3-2.3-1.3z"/>
<path color="#ffaa00" d="M445.4 286l2.3 1.3 1.2-1.2-2.3-1.4z"/>
<path color="#ffaf00" d="M444 291.2l2.3 1.4 1.3-1.3-2.4-1.4z"/>
<path color="#ffaf00" d="M445.2 289.9l2.4 1.4 1.2-1.3-2.3-1.4z"/>
<path color="#ffb000" d="M446.5 288.6l2.3 1.4 1.2-1.3-2.3-1.4z"/>
<path color="#ffb000" d="M447.7 287.3l2.3 1.4 1.2-1.3-2.3-1.3z"/>
<path class="m" d="M437.1 287.7l4.6 2.2 4.6 2.7 2.5-2.6 2.4-2.6-4.6-2.7-4.5-2.2-2.5 2.6z"/>
<path color="#ffd202" d="M464.9 306.9l9.2 10.2 4.4-5.4-9-10z"/>
<path class="m" d="M464.9 306.9l4.6 4.9 4.6 5.3 2.2-2.8 2.2-2.6-4.5-5.3-4.5-4.7-2.3 2.6z"/>
<path color="#ffb400" d="M446.3 292.6l2.3 1.4 1.3-1.3-2.3-1.4z"/>
<path color="#ffb400" d="M447.6 291.3l2.3 1.4 1.2-1.3-2.3-1.4z"/>
<path color="#ffb500" d="M448.8 290l2.3 1.4 1.2-1.3-2.3-1.4z"/>
<path color="#ffb500" d="M450 288.7l2.3 1.4 1.2-1.2-2.3-1.5z"/>
<path color="#ffba00" d="M448.6 294l2.4 1.5 1.2-1.3-2.3-1.5z"/>
<path color="#ffbb00" d="M449.9 292.7l2.3 1.5 1.2-1.3-2.3-1.5z"/>
<path color="#ffbb00" d="M451.1 291.4l2.3 1.5 1.2-1.3-2.3-1.5z"/>
<path color="#ffbc00" d="M452.3 290.1l2.3 1.5 1.2-1.2-2.3-1.5z"/>
<path color="#ffc200" d="M451 295.5l2.3 1.7 1.2-1.4-2.3-1.6z"/>
<path color="#ffc200" d="M452.2 294.2l2.3 1.6 1.2-1.3-2.3-1.6z"/>
<path color="#ffc200" d="M453.4 292.9l2.3 1.6 1.2-1.3-2.3-1.6z"/>
<path color="#ffc300" d="M454.6 291.6l2.3 1.6 1.2-1.2-2.3-1.6z"/>
<path color="#ffc700" d="M453.3 297.2l2.3 1.7 1.2-1.3-2.3-1.8z"/>
<path color="#ffc700" d="M454.5 295.8l2.3 1.8 1.2-1.4-2.3-1.7z"/>
<path color="#ffc801" d="M455.7 294.5l2.3 1.7 1.2-1.3-2.3-1.7z"/>
<path color="#ffc801" d="M456.9 293.2l2.3 1.7 1.2-1.2-2.3-1.7z"/>
<path class="m" d="M446.3 292.6l4.7 2.9 4.6 3.4 2.4-2.7 2.4-2.5-4.6-3.3-4.6-3-2.4 2.6z"/>
<path color="#9a4403" d="M365.4 322.6l4-2.3 3.1-2.8-4.1 2.3z"/>
<path color="#9a4403" d="M368.4 319.8l4.1-2.3 3-2.7-4.1 2.2z"/>
<path color="#9e4603" d="M369.4 320.3l4.1-2 3.1-2.8-4.1 2z"/>
<path color="#9e4603" d="M372.5 317.5l4.1-2 3-2.8-4.1 2.1z"/>
<path class="m" d="M365.4 322.6l4-2.3 4.1-2 3.1-2.8 3-2.8-4.1 2.1-4.1 2.2-3 2.8z"/>
<path color="#ffcd01" d="M455.6 298.9l9.3 8 4.6-5.2-9.1-8z"/>
<path class="m" d="M455.6 298.9l4.6 3.8 4.7 4.2 2.3-2.6 2.3-2.6-4.6-4.3-4.5-3.7-2.4 2.5z"/>
<path color="#ffd504" d="M478.6 334.1l9.1 12.4 4.3-6-8.9-12.2z"/>
<path class="m" d="M478.6 334.1l4.6 6.1 4.5 6.3 2.2-3 2.1-3-4.4-6.2-4.5-6-2.2 2.9z"/>
<path color="#e16b00" d="M422.7 291l2.3 .2 1.3-1.3-2.2-.2z"/>
<path color="#e06b00" d="M424.1 289.7l2.2 .2 1.4-1.3-2.3-.2z"/>
<path color="#e06b00" d="M425.4 288.4l2.3 .2 1.2-1.3-2.2-.2z"/>
<path color="#e06b00" d="M426.7 287.1l2.2 .2 1.3-1.3-2.2-.2z"/>
<path color="#eb7300" d="M425 291.2l2.3 .3 1.3-1.3-2.3-.3z"/>
<path color="#eb7300" d="M426.3 289.9l2.3 .3 1.3-1.3-2.2-.3z"/>
<path color="#eb7300" d="M427.7 288.6l2.2 .3 1.3-1.3-2.3-.3z"/>
<path color="#eb7300" d="M428.9 287.3l2.3 .3 1.3-1.3-2.3-.3z"/>
<path color="#f57f00" d="M427.3 291.5l2.3 .6 1.3-1.3-2.3-.6z"/>
<path color="#f57f00" d="M428.6 290.2l2.3 .6 1.3-1.3-2.3-.6z"/>
<path color="#f57f00" d="M429.9 288.9l2.3 .6 1.3-1.3-2.3-.6z"/>
<path color="#f57f00" d="M431.2 287.6l2.3 .6 1.3-1.3-2.3-.6z"/>
<path color="#fc8b00" d="M429.6 292.1l2.3 .8 1.3-1.3-2.3-.8z"/>
<path color="#fc8b00" d="M430.9 290.8l2.3 .8 1.3-1.3-2.3-.8z"/>
<path color="#fc8b00" d="M432.2 289.5l2.3 .8 1.3-1.3-2.3-.8z"/>
<path color="#fd8c00" d="M433.5 288.2l2.3 .8 1.3-1.3-2.3-.8z"/>
<path class="m" d="M422.7 291l4.6 .5 4.6 1.4 2.6-2.6 2.6-2.6-4.6-1.4-4.5-.5-2.6 2.6z"/>
<path color="#a34902" d="M379.6 312.7l4.2-1.8 2.9-2.8-4.2 1.9z"/>
<path color="#a34902" d="M382.5 310l4.2-1.9 2.9-2.7-4.2 1.9z"/>
<path color="#aa4d02" d="M383.8 310.9l4.3-1.6 2.9-2.8-4.3 1.6z"/>
<path color="#aa4d02" d="M386.7 308.1l4.3-1.6 2.9-2.7-4.3 1.6z"/>
<path class="m" d="M379.6 312.7l4.2-1.8 4.3-1.6 2.9-2.8 2.9-2.7-4.3 1.6-4.2 1.9-2.9 2.7z"/>
<path color="#ffd604" d="M483.3 352.6l9 13.7 4.3-6.3-8.9-13.5z"/>
<path class="m" d="M483.3 352.6l4.5 6.8 4.5 6.9 2.2-3.2 2.1-3.1-4.4-6.8-4.5-6.7-2.2 3z"/>
<path color="#c65b01" d="M408.3 296.6l2.3-.2 1.3-1.4-2.2 .2z"/>
<path color="#c65b01" d="M409.7 295.2l2.2-.2 1.4-1.3-2.2 .2z"/>
<path color="#c65b01" d="M411.1 293.9l2.2-.2 1.3-1.3-2.2 .2z"/>
<path color="#c65b01" d="M412.4 292.6l2.2-.2 1.4-1.3-2.2 .2z"/>
<path color="#cc5f01" d="M410.6 296.4l2.2-.1 1.4-1.4-2.3 .1z"/>
<path color="#cc5f01" d="M411.9 295l2.3-.1 1.3-1.3-2.2 .1z"/>
<path color="#cc5e01" d="M413.3 293.7l2.2-.1 1.4-1.3-2.3 .1z"/>
<path color="#cc5e01" d="M414.6 292.4l2.3-.1 1.3-1.3-2.2 .1z"/>
<path color="#d36200" d="M412.8 296.3l2.3-.1 1.3-1.3-2.2 0z"/>
<path color="#d26200" d="M414.2 294.9l2.2 0 1.4-1.3-2.3 0z"/>
<path color="#d26200" d="M415.5 293.6l2.3 0 1.3-1.4-2.2 .1z"/>
<path color="#d26201" d="M416.9 292.3l2.2-.1 1.4-1.3-2.3 .1z"/>
<path color="#da6600" d="M415.1 296.2l2.3 .1 1.3-1.3-2.3-.1z"/>
<path color="#d96600" d="M416.4 294.9l2.3 .1 1.4-1.4-2.3 0z"/>
<path color="#d96600" d="M417.8 293.6l2.3 0 1.3-1.3-2.3-.1z"/>
<path color="#d86600" d="M419.1 292.2l2.3 .1 1.3-1.3-2.2-.1z"/>
<path class="m" d="M408.3 296.6l4.5-.3 4.6 0 2.7-2.7 2.6-2.6-4.5 0-4.4 .3-2.7 2.6z"/>
<path color="#b35102" d="M393.9 303.8l4.4-1.2 2.8-2.6-4.4 1.2z"/>
<path color="#b35102" d="M396.7 301.2l4.4-1.2 2.8-2.7-4.3 1.2z"/>
<path color="#be5701" d="M398.3 302.6l4.4-.7 2.8-2.7-4.4 .8z"/>
<path color="#be5701" d="M401.1 300l4.4-.8 2.8-2.6-4.4 .7z"/>
<path class="m" d="M393.9 303.8l4.4-1.2 4.4-.7 2.8-2.7 2.8-2.6-4.4 .7-4.3 1.2-2.9 2.7z"/>
<path color="#ffd403" d="M469.4 322.6l9.2 11.5 4.5-5.8-9-11.2z"/>
<path class="m" d="M469.4 322.6l4.7 5.7 4.5 5.8 2.3-2.9 2.2-2.9-4.5-5.7-4.5-5.5-2.3 2.7z"/>
<path color="#ff9600" d="M431.9 292.9l2.4 1.1 1.3-1.3-2.4-1.1z"/>
<path color="#ff9600" d="M433.2 291.6l2.4 1.1 1.2-1.4-2.3-1z"/>
<path color="#ff9600" d="M434.5 290.3l2.3 1 1.3-1.3-2.3-1z"/>
<path color="#ff9600" d="M435.8 289l2.3 1 1.3-1.3-2.3-1z"/>
<path color="#ffa000" d="M434.3 294l2.3 1.2 1.3-1.3-2.3-1.2z"/>
<path color="#ffa000" d="M435.6 292.7l2.3 1.2 1.3-1.3-2.4-1.3z"/>
<path color="#ffa000" d="M436.8 291.3l2.4 1.3 1.2-1.4-2.3-1.2z"/>
<path color="#ffa000" d="M438.1 290l2.3 1.2 1.3-1.3-2.3-1.2z"/>
<path color="#ffa700" d="M436.6 295.2l2.3 1.4 1.3-1.4-2.3-1.3z"/>
<path color="#ffa800" d="M437.9 293.9l2.3 1.3 1.3-1.3-2.3-1.3z"/>
<path color="#ffa800" d="M439.2 292.6l2.3 1.3 1.3-1.3-2.4-1.4z"/>
<path color="#ffa800" d="M440.4 291.2l2.4 1.4 1.2-1.4-2.3-1.3z"/>
<path color="#ffad00" d="M438.9 296.6l2.4 1.3 1.3-1.3-2.4-1.4z"/>
<path color="#ffad00" d="M440.2 295.2l2.4 1.4 1.2-1.3-2.3-1.4z"/>
<path color="#ffae00" d="M441.5 293.9l2.3 1.4 1.3-1.4-2.3-1.3z"/>
<path color="#ffae00" d="M442.8 292.6l2.3 1.3 1.2-1.3-2.3-1.4z"/>
<path class="m" d="M431.9 292.9l4.7 2.3 4.7 2.7 2.5-2.6 2.5-2.7-4.6-2.7-4.6-2.2-2.6 2.6z"/>
<path color="#994403" d="M359.2 328.3l4-2.2 3.1-2.9-4 2.2z"/>
<path color="#9a4403" d="M362.3 325.4l4-2.2 3.1-2.9-4 2.3z"/>
<path color="#9e4603" d="M363.2 326.1l4.1-2.1 3.2-2.9-4.2 2.1z"/>
<path color="#9e4603" d="M366.3 323.2l4.2-2.1 3-2.8-4.1 2z"/>
<path class="m" d="M359.2 328.3l4-2.2 4.1-2.1 3.2-2.9 3-2.8-4.1 2-4 2.3-3.1 2.8z"/>
<path color="#ffd202" d="M460.1 312.4l9.3 10.2 4.7-5.5-9.2-10.2z"/>
<path class="m" d="M460.1 312.4l4.7 4.9 4.6 5.3 2.4-2.8 2.3-2.7-4.6-5.3-4.6-4.9-2.4 2.7z"/>
<path color="#ffb200" d="M441.3 297.9l2.3 1.5 1.3-1.4-2.3-1.4z"/>
<path color="#ffb200" d="M442.6 296.6l2.3 1.4 1.3-1.3-2.4-1.4z"/>
<path color="#ffb300" d="M443.8 295.3l2.4 1.4 1.2-1.3-2.3-1.5z"/>
<path color="#ffb300" d="M445.1 293.9l2.3 1.5 1.2-1.4-2.3-1.4z"/>
<path color="#ffb900" d="M443.6 299.4l2.4 1.5 1.2-1.4-2.3-1.5z"/>
<path color="#ffb900" d="M444.9 298l2.3 1.5 1.3-1.3-2.3-1.5z"/>
<path color="#ffb900" d="M446.2 296.7l2.3 1.5 1.2-1.3-2.3-1.5z"/>
<path color="#ffba00" d="M447.4 295.4l2.3 1.5 1.3-1.4-2.4-1.5z"/>
<path color="#ffc100" d="M446 300.9l2.3 1.6 1.3-1.4-2.4-1.6z"/>
<path color="#ffc100" d="M447.2 299.5l2.4 1.6 1.2-1.3-2.3-1.6z"/>
<path color="#ffc100" d="M448.5 298.2l2.3 1.6 1.3-1.3-2.4-1.6z"/>
<path color="#ffc200" d="M449.7 296.9l2.4 1.6 1.2-1.3-2.3-1.7z"/>
<path color="#ffc700" d="M448.3 302.5l2.4 1.7 1.2-1.3-2.3-1.8z"/>
<path color="#ffc700" d="M449.6 301.1l2.3 1.8 1.3-1.4-2.4-1.7z"/>
<path color="#ffc700" d="M450.8 299.8l2.4 1.7 1.2-1.3-2.3-1.7z"/>
<path color="#ffc700" d="M452.1 298.5l2.3 1.7 1.2-1.3-2.3-1.7z"/>
<path class="m" d="M441.3 297.9l4.7 3 4.7 3.3 2.5-2.7 2.4-2.6-4.6-3.4-4.7-2.9-2.5 2.7z"/>
<path color="#ffcd01" d="M450.7 304.2l9.4 8.2 4.8-5.5-9.3-8z"/>
<path class="m" d="M450.7 304.2l4.7 3.9 4.7 4.3 2.4-2.8 2.4-2.7-4.7-4.2-4.6-3.8-2.4 2.6z"/>
<path color="#ffd504" d="M474 340l9.3 12.6 4.4-6.1-9.1-12.4z"/>
<path class="m" d="M474 340l4.7 6.2 4.6 6.4 2.2-3.1 2.2-3-4.5-6.3-4.6-6.1-2.2 2.9z"/>
<path color="#e16c00" d="M417.4 296.3l2.3 .3 1.3-1.4-2.3-.2z"/>
<path color="#e16c00" d="M418.7 295l2.3 .2 1.4-1.3-2.3-.3z"/>
<path color="#e16b00" d="M420.1 293.6l2.3 .3 1.3-1.4-2.3-.2z"/>
<path color="#e16b00" d="M421.4 292.3l2.3 .2 1.3-1.3-2.3-.2z"/>
<path color="#eb7400" d="M419.7 296.6l2.3 .3 1.3-1.3-2.3-.4z"/>
<path color="#eb7300" d="M421 295.2l2.3 .4 1.4-1.4-2.3-.3z"/>
<path color="#eb7300" d="M422.4 293.9l2.3 .3 1.3-1.3-2.3-.4z"/>
<path color="#eb7300" d="M423.7 292.5l2.3 .4 1.3-1.4-2.3-.3z"/>
<path color="#f57f00" d="M422 296.9l2.3 .6 1.3-1.3-2.3-.6z"/>
<path color="#f57f00" d="M423.3 295.6l2.3 .6 1.4-1.4-2.3-.6z"/>
<path color="#f57f00" d="M424.7 294.2l2.3 .6 1.3-1.3-2.3-.6z"/>
<path color="#f57f00" d="M426 292.9l2.3 .6 1.3-1.4-2.3-.6z"/>
<path color="#fc8b00" d="M424.3 297.5l2.3 .9 1.4-1.4-2.4-.8z"/>
<path color="#fc8b00" d="M425.6 296.2l2.4 .8 1.3-1.4-2.3-.8z"/>
<path color="#fc8b00" d="M427 294.8l2.3 .8 1.3-1.3-2.3-.8z"/>
<path color="#fc8b00" d="M428.3 293.5l2.3 .8 1.3-1.4-2.3-.8z"/>
<path class="m" d="M417.4 296.3l4.6 .6 4.6 1.5 2.7-2.8 2.6-2.7-4.6-1.4-4.6-.5-2.6 2.6z"/>
<path color="#a34902" d="M373.5 318.3l4.2-1.8 3.1-2.9-4.2 1.9z"/>
<path color="#a34902" d="M376.6 315.5l4.2-1.9 3-2.7-4.2 1.8z"/>
<path color="#aa4d02" d="M377.7 316.5l4.4-1.6 3-2.8-4.3 1.5z"/>
<path color="#aa4d02" d="M380.8 313.6l4.3-1.5 3-2.8-4.3 1.6z"/>
<path class="m" d="M373.5 318.3l4.2-1.8 4.4-1.6 3-2.8 3-2.8-4.3 1.6-4.2 1.8-3 2.8z"/>
<path color="#ffd604" d="M478.7 359l9.2 13.8 4.4-6.5-9-13.7z"/>
<path class="m" d="M478.7 359l4.6 6.9 4.6 6.9 2.2-3.3 2.2-3.2-4.5-6.9-4.5-6.8-2.3 3.2z"/>
<path color="#c75c01" d="M402.7 301.9l2.3-.1 1.4-1.4-2.3 .2z"/>
<path color="#c75c01" d="M404.1 300.6l2.3-.2 1.4-1.4-2.3 .2z"/>
<path color="#c75b01" d="M405.5 299.2l2.3-.2 1.4-1.3-2.3 .2z"/>
<path color="#c65b01" d="M406.9 297.9l2.3-.2 1.4-1.3-2.3 .2z"/>
<path color="#cd5f01" d="M405 301.8l2.2-.1 1.4-1.4-2.2 .1z"/>
<path color="#cd5f01" d="M406.4 300.4l2.2-.1 1.4-1.3-2.2 0z"/>
<path color="#cd5f01" d="M407.8 299l2.2 0 1.4-1.4-2.2 .1z"/>
<path color="#cd5f01" d="M409.2 297.7l2.2-.1 1.4-1.3-2.2 .1z"/>
<path color="#d36300" d="M407.2 301.7l2.3 0 1.4-1.4-2.3 0z"/>
<path color="#d36300" d="M408.6 300.3l2.3 0 1.4-1.3-2.3 0z"/>
<path color="#d36300" d="M410 299l2.3 0 1.4-1.4-2.3 0z"/>
<path color="#d36200" d="M411.4 297.6l2.3 0 1.4-1.4-2.3 .1z"/>
<path color="#da6700" d="M409.5 301.7l2.3 .1 1.4-1.3-2.3-.2z"/>
<path color="#da6700" d="M410.9 300.3l2.3 .2 1.4-1.4-2.3-.1z"/>
<path color="#da6700" d="M412.3 299l2.3 .1 1.4-1.4-2.3-.1z"/>
<path color="#da6700" d="M413.7 297.6l2.3 .1 1.4-1.4-2.3-.1z"/>
<path class="m" d="M402.7 301.9l4.5-.2 4.6 .1 2.8-2.7 2.8-2.8-4.6 0-4.5 .3-2.8 2.6z"/>
<path color="#b35202" d="M388.1 309.3l4.3-1.2 3-2.7-4.4 1.1z"/>
<path color="#b35202" d="M391 306.5l4.4-1.1 2.9-2.8-4.4 1.2z"/>
<path color="#bf5701" d="M392.4 308.1l4.5-.6 2.9-2.8-4.4 .7z"/>
<path color="#be5701" d="M395.4 305.4l4.4-.7 2.9-2.8-4.4 .7z"/>
<path class="m" d="M388.1 309.3l4.3-1.2 4.5-.6 2.9-2.8 2.9-2.8-4.4 .7-4.4 1.2-2.9 2.7z"/>
<path color="#ffd403" d="M464.7 328.4l9.3 11.6 4.6-5.9-9.2-11.5z"/>
<path class="m" d="M464.7 328.4l4.7 5.7 4.6 5.9 2.4-3 2.2-2.9-4.5-5.8-4.7-5.7-2.3 2.9z"/>
<path color="#ff9500" d="M426.6 298.4l2.4 1.1 1.3-1.4-2.3-1.1z"/>
<path color="#ff9600" d="M428 297l2.3 1.1 1.4-1.4-2.4-1.1z"/>
<path color="#ff9600" d="M429.3 295.6l2.4 1.1 1.3-1.3-2.4-1.1z"/>
<path color="#ff9600" d="M430.6 294.3l2.4 1.1 1.3-1.4-2.4-1.1z"/>
<path color="#ff9e00" d="M429 299.5l2.4 1.2 1.3-1.4-2.4-1.2z"/>
<path color="#ff9f00" d="M430.3 298.1l2.4 1.2 1.3-1.4-2.3-1.2z"/>
<path color="#ff9f00" d="M431.7 296.7l2.3 1.2 1.3-1.3-2.3-1.2z"/>
<path color="#ff9f00" d="M433 295.4l2.3 1.2 1.3-1.4-2.3-1.2z"/>
<path color="#ffa500" d="M431.4 300.7l2.3 1.3 1.3-1.3-2.3-1.4z"/>
<path color="#ffa600" d="M432.7 299.3l2.3 1.4 1.4-1.4-2.4-1.4z"/>
<path color="#ffa600" d="M434 297.9l2.4 1.4 1.3-1.4-2.4-1.3z"/>
<path color="#ffa700" d="M435.3 296.6l2.4 1.3 1.2-1.3-2.3-1.4z"/>
<path color="#ffab00" d="M433.7 302l2.4 1.4 1.3-1.4-2.4-1.3z"/>
<path color="#ffab00" d="M435 300.7l2.4 1.3 1.3-1.3-2.3-1.4z"/>
<path color="#ffac00" d="M436.4 299.3l2.3 1.4 1.3-1.4-2.3-1.4z"/>
<path color="#ffac00" d="M437.7 297.9l2.3 1.4 1.3-1.4-2.4-1.3z"/>
<path class="m" d="M426.6 298.4l4.8 2.3 4.7 2.7 2.6-2.7 2.6-2.8-4.7-2.7-4.7-2.3-2.6 2.7z"/>
<path color="#ffd202" d="M455.2 318l9.5 10.4 4.7-5.8-9.3-10.2z"/>
<path class="m" d="M455.2 318l4.7 4.9 4.8 5.5 2.4-2.9 2.3-2.9-4.6-5.3-4.7-4.9-2.4 2.8z"/>
<path color="#ffb000" d="M436.1 303.4l2.4 1.5 1.3-1.4-2.4-1.5z"/>
<path color="#ffb000" d="M437.4 302l2.4 1.5 1.3-1.4-2.4-1.4z"/>
<path color="#ffb100" d="M438.7 300.7l2.4 1.4 1.3-1.4-2.4-1.4z"/>
<path color="#ffb100" d="M440 299.3l2.4 1.4 1.2-1.3-2.3-1.5z"/>
<path color="#ffb700" d="M438.5 304.9l2.4 1.5 1.3-1.4-2.4-1.5z"/>
<path color="#ffb700" d="M439.8 303.5l2.4 1.5 1.2-1.4-2.3-1.5z"/>
<path color="#ffb800" d="M441.1 302.1l2.3 1.5 1.3-1.4-2.3-1.5z"/>
<path color="#ffb800" d="M442.4 300.7l2.3 1.5 1.3-1.3-2.4-1.5z"/>
<path color="#ffc000" d="M440.9 306.4l2.4 1.6 1.2-1.4-2.3-1.6z"/>
<path color="#ffc000" d="M442.2 305l2.3 1.6 1.3-1.4-2.4-1.6z"/>
<path color="#ffc000" d="M443.4 303.6l2.4 1.6 1.3-1.3-2.4-1.7z"/>
<path color="#ffc100" d="M444.7 302.2l2.4 1.7 1.2-1.4-2.3-1.6z"/>
<path color="#ffc600" d="M443.3 308l2.3 1.8 1.3-1.4-2.4-1.8z"/>
<path color="#ffc700" d="M444.5 306.6l2.4 1.8 1.3-1.4-2.4-1.8z"/>
<path color="#ffc700" d="M445.8 305.2l2.4 1.8 1.2-1.4-2.3-1.7z"/>
<path color="#ffc700" d="M447.1 303.9l2.3 1.7 1.3-1.4-2.4-1.7z"/>
<path class="m" d="M436.1 303.4l4.8 3 4.7 3.4 2.6-2.8 2.5-2.8-4.7-3.3-4.7-3-2.6 2.8z"/>
<path color="#ffcd01" d="M445.6 309.8l9.6 8.2 4.9-5.6-9.4-8.2z"/>
<path class="m" d="M445.6 309.8l4.8 3.8 4.8 4.4 2.5-2.8 2.4-2.8-4.7-4.3-4.7-3.9-2.5 2.8z"/>
<path color="#ffd504" d="M469.3 346.2l9.4 12.8 4.6-6.4-9.3-12.6z"/>
<path class="m" d="M469.3 346.2l4.7 6.2 4.7 6.6 2.3-3.2 2.3-3.2-4.6-6.4-4.7-6.2-2.3 3.1z"/>
<path color="#a34902" d="M367.3 324l4.2-1.8 3.2-2.9-4.2 1.8z"/>
<path color="#a34902" d="M370.5 321.1l4.2-1.8 3-2.8-4.2 1.8z"/>
<path color="#aa4d02" d="M371.5 322.2l4.4-1.5 3.1-2.9-4.3 1.5z"/>
<path color="#aa4d02" d="M374.7 319.3l4.3-1.5 3.1-2.9-4.4 1.6z"/>
<path class="m" d="M367.3 324l4.2-1.8 4.4-1.5 3.1-2.9 3.1-2.9-4.4 1.6-4.2 1.8-3 2.8z"/>
<path color="#e26c00" d="M411.8 301.8l2.3 .3 1.4-1.4-2.3-.2z"/>
<path color="#e26c00" d="M413.2 300.5l2.3 .2 1.4-1.4-2.3-.2z"/>
<path color="#e26c00" d="M414.6 299.1l2.3 .2 1.4-1.4-2.3-.2z"/>
<path color="#e26c00" d="M416 297.7l2.3 .2 1.4-1.3-2.3-.3z"/>
<path color="#ec7400" d="M414.1 302.1l2.4 .4 1.4-1.4-2.4-.4z"/>
<path color="#ec7400" d="M415.5 300.7l2.4 .4 1.3-1.4-2.3-.4z"/>
<path color="#ec7400" d="M416.9 299.3l2.3 .4 1.4-1.4-2.3-.4z"/>
<path color="#eb7400" d="M418.3 297.9l2.3 .4 1.4-1.4-2.3-.3z"/>
<path color="#f67f00" d="M416.5 302.5l2.3 .6 1.4-1.4-2.3-.6z"/>
<path color="#f67f00" d="M417.9 301.1l2.3 .6 1.4-1.4-2.4-.6z"/>
<path color="#f67f00" d="M419.2 299.7l2.4 .6 1.4-1.4-2.4-.6z"/>
<path color="#f67f00" d="M420.6 298.3l2.4 .6 1.3-1.4-2.3-.6z"/>
<path color="#fc8b00" d="M418.8 303.1l2.4 .9 1.4-1.4-2.4-.9z"/>
<path color="#fc8b00" d="M420.2 301.7l2.4 .9 1.3-1.4-2.3-.9z"/>
<path color="#fc8b00" d="M421.6 300.3l2.3 .9 1.4-1.4-2.3-.9z"/>
<path color="#fc8b00" d="M423 298.9l2.3 .9 1.3-1.4-2.3-.9z"/>
<path class="m" d="M411.8 301.8l4.7 .7 4.7 1.5 2.7-2.8 2.7-2.8-4.6-1.5-4.6-.6-2.8 2.8z"/>
<path color="#ffd504" d="M474 365.5l9.4 14 4.5-6.7-9.2-13.8z"/>
<path class="m" d="M474 365.5l4.7 7 4.7 7 2.2-3.4 2.3-3.3-4.6-6.9-4.6-6.9-2.3 3.2z"/>
<path color="#b45202" d="M382.1 314.9l4.4-1.1 3-2.8-4.4 1.1z"/>
<path color="#b45202" d="M385.1 312.1l4.4-1.1 2.9-2.9-4.3 1.2z"/>
<path color="#bf5801" d="M386.5 313.8l4.5-.6 3-2.9-4.5 .7z"/>
<path color="#bf5701" d="M389.5 311l4.5-.7 2.9-2.8-4.5 .6z"/>
<path class="m" d="M382.1 314.9l4.4-1.1 4.5-.6 3-2.9 2.9-2.8-4.5 .6-4.3 1.2-3 2.8z"/>
<path color="#c85c01" d="M396.9 307.5l2.3-.2 1.4-1.4-2.2 .2z"/>
<path color="#c75c01" d="M398.4 306.1l2.2-.2 1.5-1.4-2.3 .2z"/>
<path color="#c75c01" d="M399.8 304.7l2.3-.2 1.4-1.3-2.2 .1z"/>
<path color="#c75c01" d="M401.3 303.3l2.2-.1 1.5-1.4-2.3 .1z"/>
<path color="#ce6001" d="M399.2 307.3l2.3 0 1.4-1.4-2.3 0z"/>
<path color="#ce5f01" d="M400.6 305.9l2.3 0 1.5-1.4-2.3 0z"/>
<path color="#ce5f01" d="M402.1 304.5l2.3 0 1.4-1.4-2.3 .1z"/>
<path color="#cd5f01" d="M403.5 303.2l2.3-.1 1.4-1.4-2.2 .1z"/>
<path color="#d46300" d="M401.5 307.3l2.3 .1 1.4-1.5-2.3 0z"/>
<path color="#d46300" d="M402.9 305.9l2.3 0 1.5-1.4-2.3 0z"/>
<path color="#d46300" d="M404.4 304.5l2.3 0 1.4-1.4-2.3 0z"/>
<path color="#d46300" d="M405.8 303.1l2.3 0 1.4-1.4-2.3 0z"/>
<path color="#db6700" d="M403.8 307.4l2.3 .1 1.5-1.4-2.4-.2z"/>
<path color="#db6700" d="M405.2 305.9l2.4 .2 1.4-1.4-2.3-.2z"/>
<path color="#db6700" d="M406.7 304.5l2.3 .2 1.4-1.5-2.3-.1z"/>
<path color="#da6700" d="M408.1 303.1l2.3 .1 1.4-1.4-2.3-.1z"/>
<path class="m" d="M396.9 307.5l4.6-.2 4.6 .2 2.9-2.8 2.8-2.9-4.6-.1-4.5 .2-2.9 2.8z"/>
<path color="#ffd403" d="M459.8 334.3l9.5 11.9 4.7-6.2-9.3-11.6z"/>
<path class="m" d="M459.8 334.3l4.8 5.8 4.7 6.1 2.4-3.1 2.3-3.1-4.6-5.9-4.7-5.7-2.5 2.9z"/>
<path color="#ff9500" d="M421.2 304l2.4 1.1 1.3-1.4-2.3-1.1z"/>
<path color="#ff9500" d="M422.6 302.6l2.3 1.1 1.4-1.5-2.4-1z"/>
<path color="#ff9500" d="M423.9 301.2l2.4 1 1.4-1.4-2.4-1z"/>
<path color="#ff9500" d="M425.3 299.8l2.4 1 1.3-1.3-2.4-1.1z"/>
<path color="#ff9e00" d="M423.6 305.1l2.4 1.2 1.3-1.4-2.4-1.2z"/>
<path color="#ff9e00" d="M424.9 303.7l2.4 1.2 1.4-1.4-2.4-1.3z"/>
<path color="#ff9e00" d="M426.3 302.2l2.4 1.3 1.3-1.4-2.3-1.3z"/>
<path color="#ff9e00" d="M427.7 300.8l2.3 1.3 1.4-1.4-2.4-1.2z"/>
<path color="#ffa400" d="M426 306.3l2.4 1.4 1.3-1.4-2.4-1.4z"/>
<path color="#ffa400" d="M427.3 304.9l2.4 1.4 1.4-1.5-2.4-1.3z"/>
<path color="#ffa400" d="M428.7 303.5l2.4 1.3 1.3-1.4-2.4-1.3z"/>
<path color="#ffa500" d="M430 302.1l2.4 1.3 1.3-1.4-2.3-1.3z"/>
<path color="#ffa800" d="M428.4 307.7l2.4 1.4 1.3-1.5-2.4-1.3z"/>
<path color="#ffa900" d="M429.7 306.3l2.4 1.3 1.4-1.4-2.4-1.4z"/>
<path color="#ffaa00" d="M431.1 304.8l2.4 1.4 1.3-1.4-2.4-1.4z"/>
<path color="#ffaa00" d="M432.4 303.4l2.4 1.4 1.3-1.4-2.4-1.4z"/>
<path class="m" d="M421.2 304l4.8 2.3 4.8 2.8 2.7-2.9 2.6-2.8-4.7-2.7-4.8-2.3-2.7 2.8z"/>
<path color="#ffd202" d="M450.1 323.8l9.7 10.5 4.9-5.9-9.5-10.4z"/>
<path class="m" d="M450.1 323.8l4.9 5 4.8 5.5 2.4-3 2.5-2.9-4.8-5.5-4.7-4.9-2.5 2.9z"/>
<path color="#ffad00" d="M430.8 309.1l2.4 1.4 1.3-1.4-2.4-1.5z"/>
<path color="#ffae00" d="M432.1 307.6l2.4 1.5 1.4-1.4-2.4-1.5z"/>
<path color="#ffae00" d="M433.5 306.2l2.4 1.5 1.3-1.4-2.4-1.5z"/>
<path color="#ffaf00" d="M434.8 304.8l2.4 1.5 1.3-1.4-2.4-1.5z"/>
<path color="#ffb500" d="M433.2 310.5l2.4 1.5 1.3-1.4-2.4-1.5z"/>
<path color="#ffb500" d="M434.5 309.1l2.4 1.5 1.3-1.4-2.3-1.5z"/>
<path color="#ffb600" d="M435.9 307.7l2.3 1.5 1.4-1.4-2.4-1.5z"/>
<path color="#ffb600" d="M437.2 306.3l2.4 1.5 1.3-1.4-2.4-1.5z"/>
<path color="#ffbf00" d="M435.6 312l2.4 1.7 1.3-1.5-2.4-1.6z"/>
<path color="#ffbf00" d="M436.9 310.6l2.4 1.6 1.4-1.4-2.5-1.6z"/>
<path color="#ffbf00" d="M438.2 309.2l2.5 1.6 1.3-1.4-2.4-1.6z"/>
<path color="#ffc000" d="M439.6 307.8l2.4 1.6 1.3-1.4-2.4-1.6z"/>
<path color="#ffc600" d="M438 313.7l2.4 1.8 1.3-1.5-2.4-1.8z"/>
<path color="#ffc600" d="M439.3 312.2l2.4 1.8 1.4-1.4-2.4-1.8z"/>
<path color="#ffc600" d="M440.7 310.8l2.4 1.8 1.3-1.4-2.4-1.8z"/>
<path color="#ffc600" d="M442 309.4l2.4 1.8 1.2-1.4-2.3-1.8z"/>
<path class="m" d="M430.8 309.1l4.8 2.9 4.8 3.5 2.7-2.9 2.5-2.8-4.7-3.4-4.8-3-2.6 2.8z"/>
<path color="#ffd504" d="M464.4 352.5l9.6 13 4.7-6.5-9.4-12.8z"/>
<path class="m" d="M464.4 352.5l4.8 6.4 4.8 6.6 2.4-3.3 2.3-3.2-4.7-6.6-4.7-6.2-2.4 3.1z"/>
<path color="#ffcb01" d="M440.4 315.5l4.9 3.9 2.6-2.9-4.8-3.9z"/>
<path color="#ffcb01" d="M443.1 312.6l4.8 3.9 2.5-2.9-4.8-3.8z"/>
<path color="#ffce02" d="M445.3 319.4l4.8 4.4 2.6-2.9-4.8-4.4z"/>
<path color="#ffce02" d="M447.9 316.5l4.8 4.4 2.5-2.9-4.8-4.4z"/>
<path class="m" d="M440.4 315.5l4.9 3.9 4.8 4.4 2.6-2.9 2.5-2.9-4.8-4.4-4.8-3.8-2.5 2.8z"/>
<path color="#e36d00" d="M406.1 307.5l2.3 .3 1.5-1.4-2.3-.3z"/>
<path color="#e36d00" d="M407.6 306.1l2.3 .3 1.4-1.5-2.3-.2z"/>
<path color="#e26d00" d="M409 304.7l2.3 .2 1.4-1.4-2.3-.3z"/>
<path color="#e26c00" d="M410.4 303.2l2.3 .3 1.4-1.4-2.3-.3z"/>
<path color="#ec7400" d="M408.4 307.8l2.4 .4 1.4-1.4-2.3-.4z"/>
<path color="#ec7400" d="M409.9 306.4l2.3 .4 1.5-1.4-2.4-.5z"/>
<path color="#ec7400" d="M411.3 304.9l2.4 .5 1.4-1.5-2.4-.4z"/>
<path color="#ec7400" d="M412.7 303.5l2.4 .4 1.4-1.4-2.4-.4z"/>
<path color="#f67f00" d="M410.8 308.2l2.4 .7 1.4-1.5-2.4-.6z"/>
<path color="#f67f00" d="M412.2 306.8l2.4 .6 1.4-1.4-2.3-.6z"/>
<path color="#f67f00" d="M413.7 305.4l2.3 .6 1.4-1.4-2.3-.7z"/>
<path color="#f67f00" d="M415.1 303.9l2.3 .7 1.4-1.5-2.3-.6z"/>
<path color="#fc8b00" d="M413.2 308.9l2.4 .9 1.4-1.5-2.4-.9z"/>
<path color="#fc8b00" d="M414.6 307.4l2.4 .9 1.4-1.4-2.4-.9z"/>
<path color="#fc8b00" d="M416 306l2.4 .9 1.4-1.5-2.4-.8z"/>
<path color="#fc8b00" d="M417.4 304.6l2.4 .8 1.4-1.4-2.4-.9z"/>
<path class="m" d="M406.1 307.5l4.7 .7 4.8 1.6 2.8-2.9 2.8-2.9-4.7-1.5-4.7-.7-2.8 2.9z"/>
<path color="#ffd504" d="M469.1 372.2l9.6 14.2 4.7-6.9-9.4-14z"/>
<path class="m" d="M469.1 372.2l4.8 7.1 4.8 7.1 2.3-3.5 2.4-3.4-4.7-7-4.7-7-2.4 3.3z"/>
<path color="#b45202" d="M375.9 320.7l4.4-1.1 3.1-2.9-4.4 1.1z"/>
<path color="#b45202" d="M379 317.8l4.4-1.1 3.1-2.9-4.4 1.1z"/>
<path color="#c05801" d="M380.3 319.6l4.5-.5 3.1-3-4.5 .6z"/>
<path color="#bf5801" d="M383.4 316.7l4.5-.6 3.1-2.9-4.5 .6z"/>
<path class="m" d="M375.9 320.7l4.4-1.1 4.5-.5 3.1-3 3.1-2.9-4.5 .6-4.4 1.1-3.1 2.9z"/>
<path color="#c95d01" d="M391 313.2l2.2-.1 1.5-1.5-2.2 .2z"/>
<path color="#c85c01" d="M392.5 311.8l2.2-.2 1.5-1.4-2.2 .1z"/>
<path color="#c85c01" d="M394 310.3l2.2-.1 1.5-1.4-2.3 .1z"/>
<path color="#c85c01" d="M395.4 308.9l2.3-.1 1.5-1.5-2.3 .2z"/>
<path color="#cf6001" d="M393.2 313.1l2.4 0 1.5-1.5-2.4 0z"/>
<path color="#cf6001" d="M394.7 311.6l2.4 0 1.4-1.4-2.3 0z"/>
<path color="#cf6001" d="M396.2 310.2l2.3 0 1.5-1.5-2.3 .1z"/>
<path color="#ce6001" d="M397.7 308.8l2.3-.1 1.5-1.4-2.3 0z"/>
<path color="#d56400" d="M395.6 313.1l2.3 .1 1.5-1.5-2.3-.1z"/>
<path color="#d56400" d="M397.1 311.6l2.3 .1 1.5-1.5-2.4 0z"/>
<path color="#d56400" d="M398.5 310.2l2.4 0 1.4-1.4-2.3-.1z"/>
<path color="#d46300" d="M400 308.7l2.3 .1 1.5-1.4-2.3-.1z"/>
<path color="#dc6800" d="M397.9 313.2l2.3 .2 1.5-1.5-2.3-.2z"/>
<path color="#dc6800" d="M399.4 311.7l2.3 .2 1.5-1.5-2.3-.2z"/>
<path color="#db6800" d="M400.9 310.2l2.3 .2 1.5-1.4-2.4-.2z"/>
<path color="#db6700" d="M402.3 308.8l2.4 .2 1.4-1.5-2.3-.1z"/>
<path class="m" d="M391 313.2l4.6-.1 4.6 .3 3-3 2.9-2.9-4.6-.2-4.6 .2-2.9 2.8z"/>
<path color="#ffd403" d="M454.7 340.3l9.7 12.2 4.9-6.3-9.5-11.9z"/>
<path class="m" d="M454.7 340.3l4.9 6 4.8 6.2 2.5-3.2 2.4-3.1-4.7-6.1-4.8-5.8-2.5 3z"/>
<path color="#ff9400" d="M415.6 309.8l2.4 1.1 1.4-1.5-2.4-1.1z"/>
<path color="#ff9500" d="M417 308.3l2.4 1.1 1.4-1.5-2.4-1z"/>
<path color="#ff9500" d="M418.4 306.9l2.4 1 1.4-1.4-2.4-1.1z"/>
<path color="#ff9500" d="M419.8 305.4l2.4 1.1 1.4-1.4-2.4-1.1z"/>
<path color="#ff9d00" d="M418 310.9l2.4 1.2 1.4-1.4-2.4-1.3z"/>
<path color="#ff9d00" d="M419.4 309.4l2.4 1.3 1.4-1.5-2.4-1.3z"/>
<path color="#ff9d00" d="M420.8 307.9l2.4 1.3 1.4-1.4-2.4-1.3z"/>
<path color="#ff9d00" d="M422.2 306.5l2.4 1.3 1.4-1.5-2.4-1.2z"/>
<path color="#ffa200" d="M420.4 312.1l2.4 1.4 1.4-1.5-2.4-1.3z"/>
<path color="#ffa300" d="M421.8 310.7l2.4 1.3 1.4-1.4-2.4-1.4z"/>
<path color="#ffa300" d="M423.2 309.2l2.4 1.4 1.4-1.5-2.4-1.3z"/>
<path color="#ffa400" d="M424.6 307.8l2.4 1.3 1.4-1.4-2.4-1.4z"/>
<path color="#ffa600" d="M422.8 313.5l2.5 1.4 1.4-1.5-2.5-1.4z"/>
<path color="#ffa700" d="M424.2 312l2.5 1.4 1.3-1.4-2.4-1.4z"/>
<path color="#ffa700" d="M425.6 310.6l2.4 1.4 1.4-1.5-2.4-1.4z"/>
<path color="#ffa800" d="M427 309.1l2.4 1.4 1.4-1.4-2.4-1.4z"/>
<path class="m" d="M415.6 309.8l4.8 2.3 4.9 2.8 2.7-2.9 2.8-2.9-4.8-2.8-4.8-2.3-2.8 2.9z"/>
<path color="#ffd202" d="M444.9 329.7l9.8 10.6 5.1-6-9.7-10.5z"/>
<path class="m" d="M444.9 329.7l4.9 5.1 4.9 5.5 2.6-3 2.5-3-4.8-5.5-4.9-5-2.6 2.9z"/>
<path color="#ffab00" d="M425.3 314.9l2.4 1.4 1.4-1.4-2.4-1.5z"/>
<path color="#ffac00" d="M426.7 313.4l2.4 1.5 1.4-1.5-2.5-1.4z"/>
<path color="#ffac00" d="M428 312l2.5 1.4 1.3-1.4-2.4-1.5z"/>
<path color="#ffad00" d="M429.4 310.5l2.4 1.5 1.4-1.5-2.4-1.4z"/>
<path color="#ffb300" d="M427.7 316.3l2.5 1.6 1.3-1.5-2.4-1.5z"/>
<path color="#ffb400" d="M429.1 314.9l2.4 1.5 1.4-1.5-2.4-1.5z"/>
<path color="#ffb400" d="M430.5 313.4l2.4 1.5 1.3-1.4-2.4-1.5z"/>
<path color="#ffb400" d="M431.8 312l2.4 1.5 1.4-1.5-2.4-1.5z"/>
<path color="#ffbd00" d="M430.2 317.9l2.4 1.6 1.4-1.5-2.5-1.6z"/>
<path color="#ffbe00" d="M431.5 316.4l2.5 1.6 1.3-1.4-2.4-1.7z"/>
<path color="#ffbe00" d="M432.9 314.9l2.4 1.7 1.4-1.5-2.5-1.6z"/>
<path color="#ffbe00" d="M434.2 313.5l2.5 1.6 1.3-1.4-2.4-1.7z"/>
<path color="#ffc500" d="M432.6 319.5l2.5 1.8 1.3-1.5-2.4-1.8z"/>
<path color="#ffc500" d="M434 318l2.4 1.8 1.4-1.4-2.5-1.8z"/>
<path color="#ffc500" d="M435.3 316.6l2.5 1.8 1.3-1.5-2.4-1.8z"/>
<path color="#ffc600" d="M436.7 315.1l2.4 1.8 1.3-1.4-2.4-1.8z"/>
<path class="m" d="M425.3 314.9l4.9 3 4.9 3.4 2.7-2.9 2.6-2.9-4.8-3.5-4.8-2.9-2.8 2.9z"/>
<path color="#ffd504" d="M459.4 359l9.7 13.2 4.9-6.7-9.6-13z"/>
<path class="m" d="M459.4 359l4.9 6.5 4.8 6.7 2.5-3.4 2.4-3.3-4.8-6.6-4.8-6.4-2.5 3.2z"/>
<path color="#ffca01" d="M435.1 321.3l4.9 4 2.7-3-4.9-3.9z"/>
<path color="#ffca01" d="M437.8 318.4l4.9 3.9 2.6-2.9-4.9-3.9z"/>
<path color="#ffce02" d="M440 325.3l4.9 4.4 2.6-3-4.8-4.4z"/>
<path color="#ffce02" d="M442.7 322.3l4.8 4.4 2.6-2.9-4.8-4.4z"/>
<path class="m" d="M435.1 321.3l4.9 4 4.9 4.4 2.6-3 2.6-2.9-4.8-4.4-4.9-3.9-2.6 2.9z"/>
<path color="#e46d00" d="M400.2 313.4l2.4 .3 1.5-1.5-2.4-.3z"/>
<path color="#e36d00" d="M401.7 311.9l2.4 .3 1.4-1.5-2.3-.3z"/>
<path color="#e36d00" d="M403.2 310.4l2.3 .3 1.5-1.5-2.3-.2z"/>
<path color="#e36d00" d="M404.7 309l2.3 .2 1.4-1.4-2.3-.3z"/>
<path color="#ec7500" d="M402.6 313.7l2.4 .4 1.4-1.5-2.3-.4z"/>
<path color="#ec7400" d="M404.1 312.2l2.3 .4 1.5-1.4-2.4-.5z"/>
<path color="#ec7400" d="M405.5 310.7l2.4 .5 1.5-1.5-2.4-.5z"/>
<path color="#ec7400" d="M407 309.2l2.4 .5 1.4-1.5-2.4-.4z"/>
<path color="#f67f00" d="M405 314.1l2.4 .7 1.4-1.5-2.4-.7z"/>
<path color="#f67f00" d="M406.4 312.6l2.4 .7 1.5-1.5-2.4-.6z"/>
<path color="#f57f00" d="M407.9 311.2l2.4 .6 1.4-1.5-2.3-.6z"/>
<path color="#f67f00" d="M409.4 309.7l2.3 .6 1.5-1.4-2.4-.7z"/>
<path color="#fc8a00" d="M407.4 314.8l2.4 .9 1.5-1.5-2.5-.9z"/>
<path color="#fc8a00" d="M408.8 313.3l2.5 .9 1.4-1.5-2.4-.9z"/>
<path color="#fc8a00" d="M410.3 311.8l2.4 .9 1.5-1.5-2.5-.9z"/>
<path color="#fc8a00" d="M411.7 310.3l2.5 .9 1.4-1.4-2.4-.9z"/>
<path class="m" d="M400.2 313.4l4.8 .7 4.8 1.6 2.9-3 2.9-2.9-4.8-1.6-4.7-.7-2.9 2.9z"/>
<path color="#ffd504" d="M464.1 379.2l9.8 14.3 4.8-7.1-9.6-14.2z"/>
<path class="m" d="M464.1 379.2l4.9 7.1 4.9 7.2 2.4-3.6 2.4-3.5-4.8-7.1-4.8-7.1-2.5 3.5z"/>
<path color="#c95d01" d="M384.8 319.1l2.3-.1 1.6-1.5-2.3 .1z"/>
<path color="#c95d01" d="M386.4 317.6l2.3-.1 1.5-1.5-2.3 .1z"/>
<path color="#c95d01" d="M387.9 316.1l2.3-.1 1.5-1.4-2.3 .1z"/>
<path color="#c95d01" d="M389.4 314.7l2.3-.1 1.5-1.5-2.2 .1z"/>
<path color="#d06101" d="M387.1 319l2.4 0 1.5-1.5-2.3 0z"/>
<path color="#d06101" d="M388.7 317.5l2.3 0 1.5-1.5-2.3 0z"/>
<path color="#cf6001" d="M390.2 316l2.3 0 1.5-1.4-2.3 0z"/>
<path color="#cf6001" d="M391.7 314.6l2.3 0 1.6-1.5-2.4 0z"/>
<path color="#d66400" d="M389.5 319l2.3 .1 1.5-1.5-2.3-.1z"/>
<path color="#d66400" d="M391 317.5l2.3 .1 1.6-1.5-2.4-.1z"/>
<path color="#d66400" d="M392.5 316l2.4 .1 1.5-1.5-2.4 0z"/>
<path color="#d66400" d="M394 314.6l2.4 0 1.5-1.4-2.3-.1z"/>
<path color="#dd6900" d="M391.8 319.1l2.4 .3 1.5-1.6-2.4-.2z"/>
<path color="#dd6800" d="M393.3 317.6l2.4 .2 1.5-1.5-2.3-.2z"/>
<path color="#dc6800" d="M394.9 316.1l2.3 .2 1.5-1.5-2.3-.2z"/>
<path color="#dc6800" d="M396.4 314.6l2.3 .2 1.5-1.4-2.3-.2z"/>
<path class="m" d="M384.8 319.1l4.7-.1 4.7 .4 3-3.1 3-2.9-4.6-.3-4.6 .1-3.1 2.9z"/>
<path color="#ffd403" d="M449.5 346.6l9.9 12.4 5-6.5-9.7-12.2z"/>
<path class="m" d="M449.5 346.6l5 6 4.9 6.4 2.5-3.3 2.5-3.2-4.8-6.2-4.9-6-2.6 3.2z"/>
<path color="#ff9400" d="M409.8 315.7l2.4 1.1 1.5-1.5-2.4-1.1z"/>
<path color="#ff9400" d="M411.3 314.2l2.4 1.1 1.4-1.5-2.4-1.1z"/>
<path color="#ff9400" d="M412.7 312.7l2.4 1.1 1.5-1.5-2.4-1.1z"/>
<path color="#ff9400" d="M414.2 311.2l2.4 1.1 1.4-1.4-2.4-1.1z"/>
<path color="#ff9c00" d="M412.2 316.8l2.5 1.3 1.4-1.5-2.4-1.3z"/>
<path color="#ff9c00" d="M413.7 315.3l2.4 1.3 1.5-1.5-2.5-1.3z"/>
<path color="#ff9c00" d="M415.1 313.8l2.5 1.3 1.4-1.5-2.4-1.3z"/>
<path color="#ff9c00" d="M416.6 312.3l2.4 1.3 1.4-1.5-2.4-1.2z"/>
<path color="#ffa100" d="M414.7 318.1l2.4 1.4 1.5-1.5-2.5-1.4z"/>
<path color="#ffa100" d="M416.1 316.6l2.5 1.4 1.4-1.5-2.4-1.4z"/>
<path color="#ffa100" d="M417.6 315.1l2.4 1.4 1.4-1.5-2.4-1.4z"/>
<path color="#ffa200" d="M419 313.6l2.4 1.4 1.4-1.5-2.4-1.4z"/>
<path color="#ffa400" d="M417.1 319.5l2.5 1.4 1.4-1.5-2.4-1.4z"/>
<path color="#ffa400" d="M418.6 318l2.4 1.4 1.5-1.5-2.5-1.4z"/>
<path color="#ffa500" d="M420 316.5l2.5 1.4 1.4-1.5-2.5-1.4z"/>
<path color="#ffa600" d="M421.4 315l2.5 1.4 1.4-1.5-2.5-1.4z"/>
<path class="m" d="M409.8 315.7l4.9 2.4 4.9 2.8 2.9-3 2.8-3-4.9-2.8-4.8-2.3-2.9 2.9z"/>
<path color="#ffa900" d="M419.6 320.9l2.5 1.4 1.4-1.5-2.5-1.4z"/>
<path color="#ffa900" d="M421 319.4l2.5 1.4 1.4-1.5-2.4-1.4z"/>
<path color="#ffaa00" d="M422.5 317.9l2.4 1.4 1.4-1.5-2.4-1.4z"/>
<path color="#ffab00" d="M423.9 316.4l2.4 1.4 1.4-1.5-2.4-1.4z"/>
<path color="#ffb100" d="M422.1 322.3l2.5 1.6 1.4-1.5-2.5-1.6z"/>
<path color="#ffb100" d="M423.5 320.8l2.5 1.6 1.4-1.5-2.5-1.6z"/>
<path color="#ffb200" d="M424.9 319.3l2.5 1.6 1.4-1.5-2.5-1.6z"/>
<path color="#ffb300" d="M426.3 317.8l2.5 1.6 1.4-1.5-2.5-1.6z"/>
<path color="#ffbb00" d="M424.6 323.9l2.4 1.7 1.5-1.6-2.5-1.6z"/>
<path color="#ffbc00" d="M426 322.4l2.5 1.6 1.3-1.5-2.4-1.6z"/>
<path color="#ffbc00" d="M427.4 320.9l2.4 1.6 1.4-1.5-2.4-1.6z"/>
<path color="#ffbd00" d="M428.8 319.4l2.4 1.6 1.4-1.5-2.4-1.6z"/>
<path color="#ffc400" d="M427 325.6l2.5 1.8 1.4-1.6-2.4-1.8z"/>
<path color="#ffc400" d="M428.5 324l2.4 1.8 1.4-1.5-2.5-1.8z"/>
<path color="#ffc500" d="M429.8 322.5l2.5 1.8 1.4-1.5-2.5-1.8z"/>
<path color="#ffc500" d="M431.2 321l2.5 1.8 1.4-1.5-2.5-1.8z"/>
<path class="m" d="M419.6 320.9l5 3 4.9 3.5 2.8-3.1 2.8-3-4.9-3.4-4.9-3-2.8 3z"/>
<path color="#ffd202" d="M439.5 335.9l10 10.7 5.2-6.3-9.8-10.6z"/>
<path class="m" d="M439.5 335.9l5 5.1 5 5.6 2.6-3.1 2.6-3.2-4.9-5.5-4.9-5.1-2.7 3.1z"/>
<path color="#ffd503" d="M454.2 365.7l9.9 13.5 5-7-9.7-13.2z"/>
<path class="m" d="M454.2 365.7l5 6.6 4.9 6.9 2.5-3.5 2.5-3.5-4.8-6.7-4.9-6.5-2.6 3.3z"/>
<path color="#ffca01" d="M429.5 327.4l5 4 2.8-3.1-5-4z"/>
<path color="#ffca01" d="M432.3 324.3l5 4 2.7-3-4.9-4z"/>
<path color="#ffce01" d="M434.5 331.4l5 4.5 2.7-3.1-4.9-4.5z"/>
<path color="#ffce01" d="M437.3 328.3l4.9 4.5 2.7-3.1-4.9-4.4z"/>
<path class="m" d="M429.5 327.4l5 4 5 4.5 2.7-3.1 2.7-3.1-4.9-4.4-4.9-4-2.8 3z"/>
<path color="#e46e00" d="M394.2 319.4l2.3 .3 1.6-1.5-2.4-.4z"/>
<path color="#e46e00" d="M395.7 317.8l2.4 .4 1.5-1.5-2.4-.4z"/>
<path color="#e46e00" d="M397.2 316.3l2.4 .4 1.5-1.5-2.4-.4z"/>
<path color="#e46e00" d="M398.7 314.8l2.4 .4 1.5-1.5-2.4-.3z"/>
<path color="#ed7500" d="M396.5 319.7l2.5 .5 1.5-1.5-2.4-.5z"/>
<path color="#ed7500" d="M398.1 318.2l2.4 .5 1.5-1.5-2.4-.5z"/>
<path color="#ed7500" d="M399.6 316.7l2.4 .5 1.5-1.6-2.4-.4z"/>
<path color="#ed7500" d="M401.1 315.2l2.4 .4 1.5-1.5-2.4-.4z"/>
<path color="#f67f00" d="M399 320.2l2.4 .7 1.5-1.5-2.4-.7z"/>
<path color="#f67f00" d="M400.5 318.7l2.4 .7 1.5-1.6-2.4-.6z"/>
<path color="#f67f00" d="M402 317.2l2.4 .6 1.5-1.5-2.4-.7z"/>
<path color="#f67f00" d="M403.5 315.6l2.4 .7 1.5-1.5-2.4-.7z"/>
<path color="#fc8a00" d="M401.4 320.9l2.4 .9 1.5-1.5-2.4-.9z"/>
<path color="#fc8a00" d="M402.9 319.4l2.4 .9 1.5-1.6-2.4-.9z"/>
<path color="#fc8b00" d="M404.4 317.8l2.4 .9 1.5-1.5-2.4-.9z"/>
<path color="#fc8a00" d="M405.9 316.3l2.4 .9 1.5-1.5-2.4-.9z"/>
<path class="m" d="M394.2 319.4l4.8 .8 4.8 1.6 3-3.1 3-3-4.8-1.6-4.8-.7-3 2.9z"/>
<path color="#ffd403" d="M444.1 353.1l10.1 12.6 5.2-6.7-9.9-12.4z"/>
<path class="m" d="M444.1 353.1l5.1 6.1 5 6.5 2.6-3.4 2.6-3.3-4.9-6.4-5-6-2.7 3.2z"/>
<path color="#ff9700" d="M403.8 321.8l5 2.5 3-3.1-5-2.5z"/>
<path color="#ff9700" d="M406.8 318.7l5 2.5 2.9-3.1-4.9-2.4z"/>
<path color="#ffa100" d="M408.8 324.3l5 2.8 2.9-3.1-4.9-2.8z"/>
<path color="#ffa200" d="M411.8 321.2l4.9 2.8 2.9-3.1-4.9-2.8z"/>
<path class="m" d="M403.8 321.8l5 2.5 5 2.8 2.9-3.1 2.9-3.1-4.9-2.8-4.9-2.4-3 3z"/>
<path color="#ffa600" d="M413.8 327.1l2.5 1.4 1.4-1.5-2.5-1.5z"/>
<path color="#ffa700" d="M415.2 325.5l2.5 1.5 1.5-1.6-2.5-1.4z"/>
<path color="#ffa800" d="M416.7 324l2.5 1.4 1.4-1.5-2.4-1.5z"/>
<path color="#ffa800" d="M418.2 322.4l2.4 1.5 1.5-1.6-2.5-1.4z"/>
<path color="#ffaf00" d="M416.3 328.5l2.5 1.6 1.4-1.6-2.5-1.5z"/>
<path color="#ffaf00" d="M417.7 327l2.5 1.5 1.5-1.5-2.5-1.6z"/>
<path color="#ffb000" d="M419.2 325.4l2.5 1.6 1.4-1.6-2.5-1.5z"/>
<path color="#ffb000" d="M420.6 323.9l2.5 1.5 1.5-1.5-2.5-1.6z"/>
<path color="#ffba00" d="M418.8 330.1l2.5 1.7 1.5-1.6-2.6-1.7z"/>
<path color="#ffba00" d="M420.2 328.5l2.6 1.7 1.4-1.6-2.5-1.6z"/>
<path color="#ffbb00" d="M421.7 327l2.5 1.6 1.4-1.5-2.5-1.7z"/>
<path color="#ffbb00" d="M423.1 325.4l2.5 1.7 1.4-1.5-2.4-1.7z"/>
<path color="#ffc300" d="M421.3 331.8l2.5 1.8 1.5-1.6-2.5-1.8z"/>
<path color="#ffc300" d="M422.8 330.2l2.5 1.8 1.4-1.5-2.5-1.9z"/>
<path color="#ffc300" d="M424.2 328.6l2.5 1.9 1.4-1.6-2.5-1.8z"/>
<path color="#ffc400" d="M425.6 327.1l2.5 1.8 1.4-1.5-2.5-1.8z"/>
<path class="m" d="M413.8 327.1l5 3 5 3.5 2.9-3.1 2.8-3.1-4.9-3.5-5-3-2.9 3.1z"/>
<path color="#ffd102" d="M434 342.2l10.1 10.9 5.4-6.5-10-10.7z"/>
<path class="m" d="M434 342.2l5.1 5.2 5 5.7 2.7-3.3 2.7-3.2-5-5.6-5-5.1-2.7 3.1z"/>
<path color="#ffca01" d="M423.8 333.6l5.1 4 2.8-3.1-5-4z"/>
<path color="#ffca01" d="M426.7 330.5l5 4 2.8-3.1-5-4z"/>
<path color="#ffce01" d="M428.9 337.6l5.1 4.6 2.8-3.2-5.1-4.5z"/>
<path color="#ffce01" d="M431.7 334.5l5.1 4.5 2.7-3.1-5-4.5z"/>
<path class="m" d="M423.8 333.6l5.1 4 5.1 4.6 2.8-3.2 2.7-3.1-5-4.5-5-4-2.8 3.1z"/></g>
<path class="bf" d="M476.0 386.5L478.1 349.9M366.8 311.2L388.8 318.8M416.6 328.5L478.1 349.9"/>
<path class="ax" d="M474.8 406.2L539.3 307.6M325.1 347.6L474.8 406.2M325.1 347.6L316.6 293.8"/>
<path class="tk" d="M325.1 347.6l-1.6 1.5M334.0 351.1l-0.9 0.8M343.1 354.7l-0.9 0.8M352.2 358.2l-0.8 0.9M361.6 361.9l-0.8 0.9M371.0 365.6l-1.5 1.6M380.7 369.4l-0.8 0.9M390.4 373.2l-0.8 0.9M400.4 377.1l-0.8 0.9M410.5 381.1l-0.8 0.9M420.8 385.1l-1.4 1.7M431.2 389.2l-0.7 1.0M441.8 393.3l-0.7 1.0M452.6 397.6l-0.7 1.0M463.6 401.9l-0.7 1.0M474.8 406.2l-1.2 1.8M474.8 406.2l1.1 0.4M481.3 396.3l1.1 0.4M487.6 386.6l2.1 0.8M493.7 377.4l1.1 0.4M499.5 368.5l1.1 0.4M505.1 359.9l1.1 0.4M510.5 351.7l2.1 0.7M515.7 343.7l1.1 0.4M520.7 336.0l1.1 0.4M525.6 328.5l1.1 0.4M530.3 321.3l2.1 0.7M534.9 314.4l1.1 0.4M539.3 307.6l1.1 0.3M317.7 300.6l-1.2 -0.4M319.9 314.5l-1.2 -0.4M321.9 327.2l-1.2 -0.5M323.7 338.9l-1.2 -0.5"/>
<text class="t" x="312.5" y="302.9" text-anchor="middle">3</text>
<text class="t" x="314.9" y="316.3" text-anchor="middle">2</text>
<text class="t" x="316.9" y="329.0" text-anchor="middle">1</text>
<text class="t" x="318.9" y="341.1" text-anchor="middle">0</text>
<text class="l" x="281.6" y="318.3" text-anchor="start">Δx/mm</text>
<text class="t" x="321.0" y="358.0" text-anchor="middle">60</text>
<text class="t" x="366.0" y="376.3" text-anchor="middle">70</text>
<text class="t" x="414.7" y="395.1" text-anchor="middle">80</text>
<text class="t" x="467.1" y="415.6" text-anchor="middle">90</text>
<text class="l" x="375.5" y="393.7" text-anchor="start">B/°</text>
<text class="t" x="491.1" y="390.7" text-anchor="start">−2</text>
<text class="t" x="513.3" y="357.1" text-anchor="start">0</text>
<text class="t" x="532.7" y="328.0" text-anchor="start">2</text>
<text class="l" x="523.9" y="361.0" text-anchor="start">l/°</text>
<text class="cap" transform="translate(357.4 439.0) scale(0.92 1)"><tspan x="0" font-weight="bold">(d)</tspan><tspan x="18.0" font-size="9.8px">△</tspan><tspan x="30.4" font-style="italic">x</tspan><tspan x="41.5">(expanding to</tspan><tspan x="105.7" font-style="italic">n</tspan><tspan x="111.5" dy="-3.8" font-size="7.4px">2</tspan><tspan x="118.0" dy="3.8">)</tspan></text>
</g>
</svg>
</body></html>
